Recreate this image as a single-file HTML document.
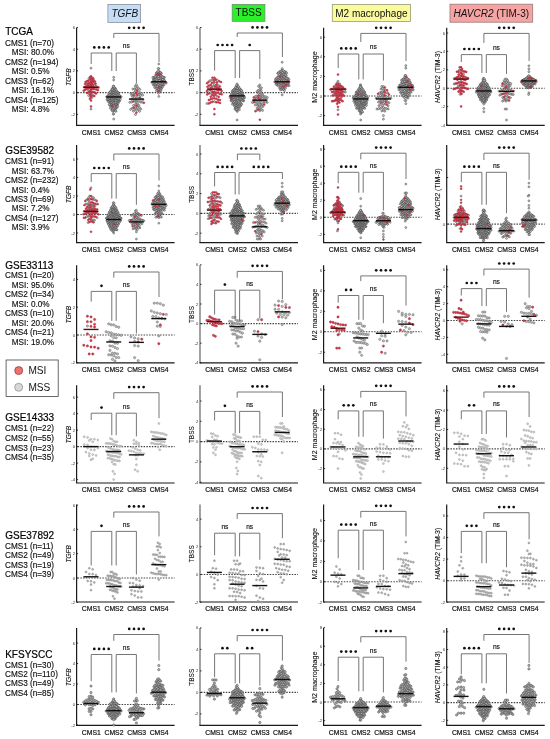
<!DOCTYPE html>
<html><head><meta charset="utf-8"><title>CMS figure</title><style>
html,body{margin:0;padding:0;background:#fff;}
svg{display:block;font-family:"Liberation Sans",Arial,sans-serif;}
.tk{font-size:4.2px;fill:#333;text-anchor:end;}
.g circle{fill:#cdcdcd;stroke:#2e2e2e;stroke-width:0.45;}
.g3 circle{fill:#bdbdbd;stroke:#666;stroke-width:0.5;}
.g4 circle{fill:#cfcfcf;stroke:#9a9a9a;stroke-width:0.45;}
.g5 circle{fill:#b2b2b2;stroke:#888;stroke-width:0.45;}
.g6 circle{fill:#b0b0b0;stroke:#4a4a4a;stroke-width:0.5;}
.rd circle{fill:#da3c4c;stroke:#961a2a;stroke-width:0.4;}
.br{fill:none;stroke:#666;stroke-width:0.9;}
.st{fill:#111;}
.ns{font-size:6.6px;fill:#111;stroke:#111;stroke-width:0.15px;text-anchor:middle;}
.xl{font-size:6.8px;fill:#111;stroke:#111;stroke-width:0.2px;text-anchor:middle;}
.yl{font-size:7px;fill:#111;stroke:#111;stroke-width:0.1px;text-anchor:middle;}
.ds{font-size:10px;fill:#000;stroke:#000;stroke-width:0.2px;}
.lt{font-size:8.2px;fill:#111;stroke:#111;stroke-width:0.15px;}
.tt{font-size:10px;fill:#111;text-anchor:middle;}
.lg{font-size:10.1px;fill:#111;}
</style></head>
<body><svg width="550" height="739" viewBox="0 0 550 739">
<rect width="550" height="739" fill="#fff"/>

<rect x="107.9" y="4.4" width="32.7" height="18" fill="#c6ddf6" stroke="#8a8f99" stroke-width="0.8"/>
<text x="124.8" y="16.6" class="tt" font-style="italic">TGFB</text>
<rect x="232.2" y="4.4" width="32.7" height="16.9" fill="#2af02a" stroke="#6a8f6a" stroke-width="0.8"/>
<text x="248.6" y="16.4" class="tt">TBSS</text>
<rect x="332.3" y="4.5" width="78.2" height="17" fill="#fafa9e" stroke="#9a9a70" stroke-width="0.8"/>
<text x="371.4" y="16.6" class="tt">M2 macrophage</text>
<rect x="450" y="4.2" width="82.7" height="18" fill="#f6a3a3" stroke="#9a7777" stroke-width="0.8"/>
<text x="491.3" y="16.8" class="tt"><tspan font-style="italic">HAVCR2</tspan> (TIM-3)</text>

<text x="5.2" y="34.6" class="ds">TCGA</text>
<text x="5.0" y="45.7" class="lt">CMS1 (n=70)</text>
<text x="11.8" y="55.17" class="lt">MSI: 80.0%</text>
<text x="5.0" y="64.64" class="lt">CMS2 (n=194)</text>
<text x="11.8" y="74.11" class="lt">MSI: 0.5%</text>
<text x="5.0" y="83.58" class="lt">CMS3 (n=62)</text>
<text x="11.8" y="93.05" class="lt">MSI: 16.1%</text>
<text x="5.0" y="102.52" class="lt">CMS4 (n=125)</text>
<text x="11.8" y="111.99" class="lt">MSI: 4.8%</text>
<text x="5.2" y="153.5" class="ds">GSE39582</text>
<text x="5.0" y="164.1" class="lt">CMS1 (n=91)</text>
<text x="11.8" y="173.57" class="lt">MSI: 63.7%</text>
<text x="5.0" y="183.04" class="lt">CMS2 (n=232)</text>
<text x="11.8" y="192.51" class="lt">MSI: 0.4%</text>
<text x="5.0" y="201.98" class="lt">CMS3 (n=69)</text>
<text x="11.8" y="211.45" class="lt">MSI: 7.2%</text>
<text x="5.0" y="220.92" class="lt">CMS4 (n=127)</text>
<text x="11.8" y="230.39" class="lt">MSI: 3.9%</text>
<text x="5.2" y="269.2" class="ds">GSE33113</text>
<text x="5.0" y="278" class="lt">CMS1 (n=20)</text>
<text x="11.8" y="287.55" class="lt">MSI: 95.0%</text>
<text x="5.0" y="297.1" class="lt">CMS2 (n=34)</text>
<text x="11.8" y="306.65" class="lt">MSI: 0.0%</text>
<text x="5.0" y="316.2" class="lt">CMS3 (n=10)</text>
<text x="11.8" y="325.75" class="lt">MSI: 20.0%</text>
<text x="5.0" y="335.3" class="lt">CMS4 (n=21)</text>
<text x="11.8" y="344.85" class="lt">MSI: 19.0%</text>
<text x="5.2" y="421.3" class="ds">GSE14333</text>
<text x="5.0" y="431.4" class="lt">CMS1 (n=22)</text>
<text x="5.0" y="441.07" class="lt">CMS2 (n=55)</text>
<text x="5.0" y="450.74" class="lt">CMS3 (n=23)</text>
<text x="5.0" y="460.41" class="lt">CMS4 (n=35)</text>
<text x="5.2" y="538.6" class="ds">GSE37892</text>
<text x="5.0" y="548.5" class="lt">CMS1 (n=11)</text>
<text x="5.0" y="558.1" class="lt">CMS2 (n=49)</text>
<text x="5.0" y="567.7" class="lt">CMS3 (n=19)</text>
<text x="5.0" y="577.3" class="lt">CMS4 (n=39)</text>
<text x="5.2" y="658" class="ds">KFSYSCC</text>
<text x="5.0" y="667.7" class="lt">CMS1 (n=30)</text>
<text x="5.0" y="677" class="lt">CMS2 (n=110)</text>
<text x="5.0" y="686.3" class="lt">CMS3 (n=49)</text>
<text x="5.0" y="695.6" class="lt">CMS4 (n=85)</text>

<rect x="6.1" y="360" width="52.1" height="36.4" fill="#fff" stroke="#444" stroke-width="0.8"/>
<circle cx="18.7" cy="370.6" r="4" fill="#f07070" stroke="#8a3030" stroke-width="0.7"/>
<circle cx="18.7" cy="387.3" r="4" fill="#d8d8d8" stroke="#888" stroke-width="0.7"/>
<text x="28.4" y="374.3" class="lg">MSI</text>
<text x="28.4" y="391.0" class="lg">MSS</text>

<line x1="77.6" y1="92.6" x2="174.6" y2="92.6" stroke="#444" stroke-width="1.1" stroke-dasharray="1.5 1.25"/>
<path d="M76.6 27.8V125.3H174.6" fill="none" stroke="#1a1a1a" stroke-width="1.2"/>
<line x1="76.6" y1="27.5" x2="78.1" y2="27.5" stroke="#222" stroke-width="0.9"/>
<text x="75" y="29" class="tk">6</text>
<line x1="76.6" y1="49.2" x2="78.1" y2="49.2" stroke="#222" stroke-width="0.9"/>
<text x="75" y="50.7" class="tk">4</text>
<line x1="76.6" y1="70.9" x2="78.1" y2="70.9" stroke="#222" stroke-width="0.9"/>
<text x="75" y="72.4" class="tk">2</text>
<line x1="76.6" y1="92.6" x2="78.1" y2="92.6" stroke="#222" stroke-width="0.9"/>
<text x="75" y="94.1" class="tk">0</text>
<line x1="76.6" y1="114.3" x2="78.1" y2="114.3" stroke="#222" stroke-width="0.9"/>
<text x="75" y="115.8" class="tk">-2</text>
<g class="g"><circle cx="91.93" cy="97.65" r="1.0"/><circle cx="93" cy="95.51" r="1.0"/><circle cx="88.59" cy="95.55" r="1.0"/><circle cx="88.47" cy="90.07" r="1.0"/><circle cx="89.8" cy="89.54" r="1.0"/><circle cx="95.25" cy="89.02" r="1.0"/><circle cx="95.86" cy="86.33" r="1.0"/><circle cx="97.17" cy="86.97" r="1.0"/><circle cx="94.61" cy="85.39" r="1.0"/><circle cx="93.78" cy="83.64" r="1.0"/><circle cx="89.84" cy="80.31" r="1.0"/><circle cx="88.79" cy="78.79" r="1.0"/><circle cx="91" cy="68.19" r="1.0"/><circle cx="91" cy="109.09" r="1.0"/><circle cx="113.7" cy="114.08" r="1.0"/><circle cx="113.19" cy="114.08" r="1.0"/><circle cx="111.9" cy="110.25" r="1.0"/><circle cx="113.25" cy="111.46" r="1.0"/><circle cx="115.96" cy="111.23" r="1.0"/><circle cx="113.7" cy="110.42" r="1.0"/><circle cx="112.61" cy="110.71" r="1.0"/><circle cx="115.01" cy="109.94" r="1.0"/><circle cx="114.5" cy="109.68" r="1.0"/><circle cx="112.99" cy="109.27" r="1.0"/><circle cx="115.44" cy="111.12" r="1.0"/><circle cx="114.05" cy="108.64" r="1.0"/><circle cx="112.31" cy="108.91" r="1.0"/><circle cx="113.47" cy="108.43" r="1.0"/><circle cx="110.48" cy="108.31" r="1.0"/><circle cx="116.11" cy="108.21" r="1.0"/><circle cx="111.84" cy="107.46" r="1.0"/><circle cx="115.57" cy="108.12" r="1.0"/><circle cx="116.92" cy="107.51" r="1.0"/><circle cx="114.92" cy="107.69" r="1.0"/><circle cx="112.68" cy="107.38" r="1.0"/><circle cx="115.9" cy="106.2" r="1.0"/><circle cx="111.39" cy="106.29" r="1.0"/><circle cx="113.79" cy="106.73" r="1.0"/><circle cx="116.49" cy="106.32" r="1.0"/><circle cx="113.16" cy="106.61" r="1.0"/><circle cx="110.92" cy="107.15" r="1.0"/><circle cx="115.33" cy="106.16" r="1.0"/><circle cx="117.73" cy="106.36" r="1.0"/><circle cx="114.47" cy="106.64" r="1.0"/><circle cx="112.69" cy="105.08" r="1.0"/><circle cx="114.87" cy="105.25" r="1.0"/><circle cx="117.3" cy="105.12" r="1.0"/><circle cx="109.96" cy="105.43" r="1.0"/><circle cx="114.12" cy="105.02" r="1.0"/><circle cx="111.02" cy="104.42" r="1.0"/><circle cx="113.49" cy="104.94" r="1.0"/><circle cx="116.81" cy="104.53" r="1.0"/><circle cx="110.46" cy="104.81" r="1.0"/><circle cx="116.3" cy="104.28" r="1.0"/><circle cx="109.28" cy="104.57" r="1.0"/><circle cx="111.58" cy="104.25" r="1.0"/><circle cx="115.77" cy="104.07" r="1.0"/><circle cx="114.54" cy="103.56" r="1.0"/><circle cx="112.07" cy="103.59" r="1.0"/><circle cx="115.26" cy="103.78" r="1.0"/><circle cx="113.05" cy="103.51" r="1.0"/><circle cx="117.62" cy="103.36" r="1.0"/><circle cx="113.82" cy="103.24" r="1.0"/><circle cx="118.13" cy="103.37" r="1.0"/><circle cx="110.1" cy="102.76" r="1.0"/><circle cx="109.58" cy="102.81" r="1.0"/><circle cx="110.61" cy="102.71" r="1.0"/><circle cx="114.97" cy="101.96" r="1.0"/><circle cx="112.54" cy="102.67" r="1.0"/><circle cx="116.11" cy="102.24" r="1.0"/><circle cx="117.13" cy="102.74" r="1.0"/><circle cx="114.27" cy="101.69" r="1.0"/><circle cx="116.62" cy="102.34" r="1.0"/><circle cx="111.11" cy="102.26" r="1.0"/><circle cx="113.41" cy="101.93" r="1.0"/><circle cx="111.63" cy="102.03" r="1.0"/><circle cx="115.6" cy="101.99" r="1.0"/><circle cx="119.35" cy="101.36" r="1.0"/><circle cx="112.11" cy="101.28" r="1.0"/><circle cx="108.06" cy="101.35" r="1.0"/><circle cx="118.83" cy="101.34" r="1.0"/><circle cx="109.08" cy="100.98" r="1.0"/><circle cx="108.57" cy="101.2" r="1.0"/><circle cx="118.32" cy="101.13" r="1.0"/><circle cx="113.82" cy="100.62" r="1.0"/><circle cx="117.81" cy="100.97" r="1.0"/><circle cx="112.83" cy="100.86" r="1.0"/><circle cx="110.73" cy="100.42" r="1.0"/><circle cx="117.31" cy="100.53" r="1.0"/><circle cx="109.59" cy="100.6" r="1.0"/><circle cx="110.1" cy="100.3" r="1.0"/><circle cx="114.66" cy="100.23" r="1.0"/><circle cx="116.46" cy="100.24" r="1.0"/><circle cx="115.96" cy="99.91" r="1.0"/><circle cx="113.27" cy="99.72" r="1.0"/><circle cx="107.53" cy="99.55" r="1.0"/><circle cx="111.24" cy="99.99" r="1.0"/><circle cx="107.02" cy="99.58" r="1.0"/><circle cx="119.75" cy="99.49" r="1.0"/><circle cx="115.44" cy="99.9" r="1.0"/><circle cx="111.74" cy="99.53" r="1.0"/><circle cx="112.29" cy="99.23" r="1.0"/><circle cx="120.27" cy="99.55" r="1.0"/><circle cx="118.2" cy="98.98" r="1.0"/><circle cx="109.22" cy="98.69" r="1.0"/><circle cx="114.21" cy="99.17" r="1.0"/><circle cx="113.7" cy="98.48" r="1.0"/><circle cx="108.48" cy="97.95" r="1.0"/><circle cx="117.02" cy="98.68" r="1.0"/><circle cx="110.43" cy="98.6" r="1.0"/><circle cx="115.04" cy="98.55" r="1.0"/><circle cx="108.03" cy="99" r="1.0"/><circle cx="112.78" cy="98.54" r="1.0"/><circle cx="116.54" cy="98.01" r="1.0"/><circle cx="119.34" cy="98.17" r="1.0"/><circle cx="117.75" cy="97.89" r="1.0"/><circle cx="110.92" cy="97.95" r="1.0"/><circle cx="109.7" cy="97.87" r="1.0"/><circle cx="115.51" cy="97.67" r="1.0"/><circle cx="118.83" cy="97.92" r="1.0"/><circle cx="111.96" cy="97.53" r="1.0"/><circle cx="114.59" cy="97.47" r="1.0"/><circle cx="111.44" cy="97.7" r="1.0"/><circle cx="116.02" cy="97.7" r="1.0"/><circle cx="113.22" cy="97.39" r="1.0"/><circle cx="120.17" cy="96.67" r="1.0"/><circle cx="112.44" cy="96.82" r="1.0"/><circle cx="107.2" cy="96.82" r="1.0"/><circle cx="114.08" cy="97.04" r="1.0"/><circle cx="120.69" cy="96.84" r="1.0"/><circle cx="106.68" cy="96.85" r="1.0"/><circle cx="107.71" cy="96.51" r="1.0"/><circle cx="108.88" cy="96.55" r="1.0"/><circle cx="121.2" cy="96.95" r="1.0"/><circle cx="117.39" cy="96.32" r="1.0"/><circle cx="116.88" cy="96.22" r="1.0"/><circle cx="118.45" cy="96.44" r="1.0"/><circle cx="110.08" cy="96.4" r="1.0"/><circle cx="113.63" cy="96.04" r="1.0"/><circle cx="110.59" cy="96.2" r="1.0"/><circle cx="116.37" cy="95.93" r="1.0"/><circle cx="111.1" cy="95.89" r="1.0"/><circle cx="108.2" cy="95.93" r="1.0"/><circle cx="119.69" cy="95.98" r="1.0"/><circle cx="111.59" cy="95.14" r="1.0"/><circle cx="115.27" cy="95.72" r="1.0"/><circle cx="112.84" cy="95.41" r="1.0"/><circle cx="109.32" cy="95.41" r="1.0"/><circle cx="114.76" cy="95.28" r="1.0"/><circle cx="119.18" cy="95.54" r="1.0"/><circle cx="115.88" cy="95.3" r="1.0"/><circle cx="118.01" cy="95.31" r="1.0"/><circle cx="108.62" cy="94.63" r="1.0"/><circle cx="112.1" cy="95.01" r="1.0"/><circle cx="114.26" cy="94.93" r="1.0"/><circle cx="110.29" cy="94.4" r="1.0"/><circle cx="109.78" cy="94.44" r="1.0"/><circle cx="117.05" cy="94.1" r="1.0"/><circle cx="118.78" cy="94.18" r="1.0"/><circle cx="117.57" cy="94.22" r="1.0"/><circle cx="113.29" cy="94.35" r="1.0"/><circle cx="112.5" cy="93.61" r="1.0"/><circle cx="113.8" cy="93.96" r="1.0"/><circle cx="110.8" cy="94.04" r="1.0"/><circle cx="115.51" cy="93.76" r="1.0"/><circle cx="116.55" cy="93.65" r="1.0"/><circle cx="111.26" cy="93.07" r="1.0"/><circle cx="114.52" cy="92.67" r="1.0"/><circle cx="109.03" cy="93.33" r="1.0"/><circle cx="111.77" cy="92.87" r="1.0"/><circle cx="115.01" cy="93.26" r="1.0"/><circle cx="116.06" cy="92.99" r="1.0"/><circle cx="118.34" cy="93.01" r="1.0"/><circle cx="112.96" cy="92.65" r="1.0"/><circle cx="110.01" cy="92.37" r="1.0"/><circle cx="117.85" cy="92.37" r="1.0"/><circle cx="109.5" cy="92.42" r="1.0"/><circle cx="117.34" cy="92.19" r="1.0"/><circle cx="113.46" cy="92.28" r="1.0"/><circle cx="116.84" cy="91.74" r="1.0"/><circle cx="114.03" cy="91.91" r="1.0"/><circle cx="112.19" cy="91.55" r="1.0"/><circle cx="111" cy="91.14" r="1.0"/><circle cx="115.67" cy="91.57" r="1.0"/><circle cx="111.5" cy="90.61" r="1.0"/><circle cx="110.51" cy="91.88" r="1.0"/><circle cx="115.16" cy="91.13" r="1.0"/><circle cx="113.17" cy="90.33" r="1.0"/><circle cx="116.38" cy="90.7" r="1.0"/><circle cx="112.67" cy="90.81" r="1.0"/><circle cx="114.67" cy="90.44" r="1.0"/><circle cx="111.9" cy="89.25" r="1.0"/><circle cx="115.45" cy="88.88" r="1.0"/><circle cx="113.69" cy="90.3" r="1.0"/><circle cx="114.18" cy="89.78" r="1.0"/><circle cx="115.94" cy="89.59" r="1.0"/><circle cx="112.88" cy="88.02" r="1.0"/><circle cx="112.41" cy="88.88" r="1.0"/><circle cx="113.44" cy="88.19" r="1.0"/><circle cx="114.98" cy="88.05" r="1.0"/><circle cx="114.47" cy="87.86" r="1.0"/><circle cx="113.95" cy="87.82" r="1.0"/><circle cx="113.7" cy="85.9" r="1.0"/><circle cx="113.19" cy="86.27" r="1.0"/><circle cx="113.7" cy="77.3" r="1.0"/><circle cx="113.7" cy="80.01" r="1.0"/><circle cx="113.7" cy="119.07" r="1.0"/><circle cx="135.5" cy="114.43" r="1.0"/><circle cx="133.39" cy="111.1" r="1.0"/><circle cx="136.51" cy="109.2" r="1.0"/><circle cx="134.86" cy="109.91" r="1.0"/><circle cx="138.1" cy="110.12" r="1.0"/><circle cx="132.16" cy="108.3" r="1.0"/><circle cx="140.74" cy="109.04" r="1.0"/><circle cx="139.55" cy="111.34" r="1.0"/><circle cx="130.65" cy="109.38" r="1.0"/><circle cx="139.46" cy="107.54" r="1.0"/><circle cx="138.88" cy="105.4" r="1.0"/><circle cx="137.72" cy="107.48" r="1.0"/><circle cx="135.57" cy="107.35" r="1.0"/><circle cx="133.49" cy="105.55" r="1.0"/><circle cx="135.12" cy="104.78" r="1.0"/><circle cx="136.07" cy="102.94" r="1.0"/><circle cx="131.48" cy="102.16" r="1.0"/><circle cx="137.68" cy="103.81" r="1.0"/><circle cx="129.74" cy="102.34" r="1.0"/><circle cx="140.47" cy="102.02" r="1.0"/><circle cx="142.2" cy="102.33" r="1.0"/><circle cx="134.86" cy="101.17" r="1.0"/><circle cx="135.98" cy="99.49" r="1.0"/><circle cx="137.11" cy="101.17" r="1.0"/><circle cx="138.85" cy="101.21" r="1.0"/><circle cx="142.97" cy="99.55" r="1.0"/><circle cx="131.4" cy="99.17" r="1.0"/><circle cx="141.25" cy="99.16" r="1.0"/><circle cx="133.03" cy="98.39" r="1.0"/><circle cx="136.4" cy="97.35" r="1.0"/><circle cx="134.67" cy="97.67" r="1.0"/><circle cx="138.11" cy="97.79" r="1.0"/><circle cx="131.88" cy="95.79" r="1.0"/><circle cx="135.17" cy="94.5" r="1.0"/><circle cx="140.33" cy="95.69" r="1.0"/><circle cx="138.89" cy="94.45" r="1.0"/><circle cx="139.86" cy="92.61" r="1.0"/><circle cx="131.06" cy="93.74" r="1.0"/><circle cx="141.42" cy="93.6" r="1.0"/><circle cx="142.66" cy="95.15" r="1.0"/><circle cx="138.12" cy="92.48" r="1.0"/><circle cx="134.36" cy="92.54" r="1.0"/><circle cx="132.8" cy="93.51" r="1.0"/><circle cx="139.78" cy="89.42" r="1.0"/><circle cx="135.58" cy="90.96" r="1.0"/><circle cx="136.4" cy="88.65" r="1.0"/><circle cx="134.66" cy="88.83" r="1.0"/><circle cx="132.92" cy="89.02" r="1.0"/><circle cx="135.29" cy="86.24" r="1.0"/><circle cx="137.18" cy="86.52" r="1.0"/><circle cx="138.38" cy="88.11" r="1.0"/><circle cx="136.4" cy="84.55" r="1.0"/><circle cx="158.52" cy="93.24" r="1.0"/><circle cx="158.29" cy="90.53" r="1.0"/><circle cx="159.45" cy="89.69" r="1.0"/><circle cx="160.86" cy="90.63" r="1.0"/><circle cx="157.74" cy="89.15" r="1.0"/><circle cx="157.17" cy="90.31" r="1.0"/><circle cx="156.52" cy="90.86" r="1.0"/><circle cx="160.23" cy="89.88" r="1.0"/><circle cx="161.46" cy="88.72" r="1.0"/><circle cx="156.37" cy="88.61" r="1.0"/><circle cx="158.8" cy="89.1" r="1.0"/><circle cx="160.81" cy="88.21" r="1.0"/><circle cx="158.16" cy="87.44" r="1.0"/><circle cx="154.64" cy="87.53" r="1.0"/><circle cx="160.16" cy="87.69" r="1.0"/><circle cx="157.02" cy="88.1" r="1.0"/><circle cx="162.56" cy="87.04" r="1.0"/><circle cx="158.8" cy="86.79" r="1.0"/><circle cx="156.54" cy="85.99" r="1.0"/><circle cx="157.47" cy="86.46" r="1.0"/><circle cx="155.2" cy="86.34" r="1.0"/><circle cx="155.87" cy="86.17" r="1.0"/><circle cx="161.94" cy="86.18" r="1.0"/><circle cx="158.01" cy="85.19" r="1.0"/><circle cx="161.27" cy="86" r="1.0"/><circle cx="160.6" cy="85.86" r="1.0"/><circle cx="159.29" cy="85.03" r="1.0"/><circle cx="163.48" cy="84.73" r="1.0"/><circle cx="159.94" cy="85.61" r="1.0"/><circle cx="164.15" cy="84.82" r="1.0"/><circle cx="153.91" cy="84.75" r="1.0"/><circle cx="153.24" cy="84.89" r="1.0"/><circle cx="158.64" cy="84.47" r="1.0"/><circle cx="157.07" cy="84.63" r="1.0"/><circle cx="162.84" cy="84.05" r="1.0"/><circle cx="154.55" cy="84.11" r="1.0"/><circle cx="155.88" cy="83.89" r="1.0"/><circle cx="155.21" cy="83.89" r="1.0"/><circle cx="160.81" cy="83.72" r="1.0"/><circle cx="157.57" cy="83.2" r="1.0"/><circle cx="161.48" cy="83.73" r="1.0"/><circle cx="160.14" cy="83.48" r="1.0"/><circle cx="162.25" cy="83.02" r="1.0"/><circle cx="166.3" cy="82.95" r="1.0"/><circle cx="156.51" cy="83.07" r="1.0"/><circle cx="158.85" cy="82.38" r="1.0"/><circle cx="151.84" cy="82.41" r="1.0"/><circle cx="159.51" cy="82.83" r="1.0"/><circle cx="152.5" cy="82.02" r="1.0"/><circle cx="164.03" cy="82.36" r="1.0"/><circle cx="153.17" cy="81.93" r="1.0"/><circle cx="158.18" cy="82.26" r="1.0"/><circle cx="165" cy="81.98" r="1.0"/><circle cx="154.61" cy="81.69" r="1.0"/><circle cx="157.05" cy="81.81" r="1.0"/><circle cx="153.94" cy="81.81" r="1.0"/><circle cx="155.28" cy="81.4" r="1.0"/><circle cx="163.39" cy="81.75" r="1.0"/><circle cx="161.82" cy="81.34" r="1.0"/><circle cx="162.72" cy="81.42" r="1.0"/><circle cx="156.08" cy="81.31" r="1.0"/><circle cx="161.15" cy="81.29" r="1.0"/><circle cx="164.47" cy="80.62" r="1.0"/><circle cx="160.48" cy="81.13" r="1.0"/><circle cx="158.5" cy="80.32" r="1.0"/><circle cx="159.16" cy="80.44" r="1.0"/><circle cx="157.62" cy="80.61" r="1.0"/><circle cx="159.83" cy="80.54" r="1.0"/><circle cx="153.36" cy="79.83" r="1.0"/><circle cx="163.86" cy="79.75" r="1.0"/><circle cx="154.02" cy="79.49" r="1.0"/><circle cx="156.63" cy="80.07" r="1.0"/><circle cx="154.69" cy="79.36" r="1.0"/><circle cx="155.36" cy="79.21" r="1.0"/><circle cx="161.86" cy="79.02" r="1.0"/><circle cx="163.19" cy="79.48" r="1.0"/><circle cx="161.19" cy="78.83" r="1.0"/><circle cx="162.52" cy="79.32" r="1.0"/><circle cx="157.93" cy="78.67" r="1.0"/><circle cx="160.52" cy="78.83" r="1.0"/><circle cx="156.02" cy="78.88" r="1.0"/><circle cx="159.51" cy="78.53" r="1.0"/><circle cx="157.07" cy="78.42" r="1.0"/><circle cx="158.8" cy="78.36" r="1.0"/><circle cx="164.45" cy="77.45" r="1.0"/><circle cx="153.47" cy="77.4" r="1.0"/><circle cx="152.8" cy="77.57" r="1.0"/><circle cx="163.11" cy="77.16" r="1.0"/><circle cx="163.78" cy="77.37" r="1.0"/><circle cx="160.06" cy="77.24" r="1.0"/><circle cx="154.14" cy="77.17" r="1.0"/><circle cx="154.81" cy="77.12" r="1.0"/><circle cx="156.28" cy="76.84" r="1.0"/><circle cx="161.81" cy="76.21" r="1.0"/><circle cx="162.45" cy="76.94" r="1.0"/><circle cx="159.45" cy="76.34" r="1.0"/><circle cx="157.51" cy="76.76" r="1.0"/><circle cx="161.16" cy="75.82" r="1.0"/><circle cx="158.8" cy="75.77" r="1.0"/><circle cx="155.47" cy="76.86" r="1.0"/><circle cx="158.18" cy="76.63" r="1.0"/><circle cx="160.49" cy="75.55" r="1.0"/><circle cx="155.75" cy="74.85" r="1.0"/><circle cx="156.62" cy="74.96" r="1.0"/><circle cx="157.95" cy="74.36" r="1.0"/><circle cx="161.41" cy="73.36" r="1.0"/><circle cx="156.2" cy="73.23" r="1.0"/><circle cx="158.58" cy="73.6" r="1.0"/><circle cx="156.86" cy="72.77" r="1.0"/><circle cx="159.47" cy="71.73" r="1.0"/><circle cx="160.75" cy="73.01" r="1.0"/><circle cx="158.8" cy="71.52" r="1.0"/><circle cx="157.46" cy="71.84" r="1.0"/><circle cx="160.12" cy="72.24" r="1.0"/><circle cx="158.8" cy="68.55" r="1.0"/><circle cx="158.13" cy="68.55" r="1.0"/><circle cx="158.13" cy="71.61" r="1.0"/><circle cx="158.8" cy="63.96" r="1.0"/><circle cx="158.8" cy="96.4" r="1.0"/></g>
<g class="rd"><circle cx="90.62" cy="96.96" r="1.0"/><circle cx="91" cy="100.52" r="1.0"/><circle cx="89.9" cy="98.84" r="1.0"/><circle cx="94.34" cy="95.99" r="1.0"/><circle cx="89.86" cy="94.73" r="1.0"/><circle cx="91.62" cy="95.45" r="1.0"/><circle cx="91" cy="93.49" r="1.0"/><circle cx="94.83" cy="92.44" r="1.0"/><circle cx="96.03" cy="93.53" r="1.0"/><circle cx="86.92" cy="92.89" r="1.0"/><circle cx="90.85" cy="91.04" r="1.0"/><circle cx="88.27" cy="92.4" r="1.0"/><circle cx="89.62" cy="92.05" r="1.0"/><circle cx="85.02" cy="89.75" r="1.0"/><circle cx="93.46" cy="92.22" r="1.0"/><circle cx="97.88" cy="90.26" r="1.0"/><circle cx="92.1" cy="91.96" r="1.0"/><circle cx="83.77" cy="90.66" r="1.0"/><circle cx="86.33" cy="89.08" r="1.0"/><circle cx="93.87" cy="89.01" r="1.0"/><circle cx="92.49" cy="88.98" r="1.0"/><circle cx="96.58" cy="89.54" r="1.0"/><circle cx="87.61" cy="88.26" r="1.0"/><circle cx="84.13" cy="87.17" r="1.0"/><circle cx="91.12" cy="88.88" r="1.0"/><circle cx="88.91" cy="87.55" r="1.0"/><circle cx="98.5" cy="87.55" r="1.0"/><circle cx="90.26" cy="87.16" r="1.0"/><circle cx="85.49" cy="86.9" r="1.0"/><circle cx="91.62" cy="86.76" r="1.0"/><circle cx="86.7" cy="85.84" r="1.0"/><circle cx="93.47" cy="86.72" r="1.0"/><circle cx="92.55" cy="85.08" r="1.0"/><circle cx="88.06" cy="85.54" r="1.0"/><circle cx="90.79" cy="85" r="1.0"/><circle cx="89.43" cy="85.38" r="1.0"/><circle cx="91.7" cy="83.35" r="1.0"/><circle cx="85.06" cy="84" r="1.0"/><circle cx="88.66" cy="83.2" r="1.0"/><circle cx="91.02" cy="81.44" r="1.0"/><circle cx="90.02" cy="82.94" r="1.0"/><circle cx="87.31" cy="83.65" r="1.0"/><circle cx="85.63" cy="81.99" r="1.0"/><circle cx="92.9" cy="81.94" r="1.0"/><circle cx="95.63" cy="83.72" r="1.0"/><circle cx="95.05" cy="81.72" r="1.0"/><circle cx="92.17" cy="80.08" r="1.0"/><circle cx="88.28" cy="80.83" r="1.0"/><circle cx="86.93" cy="81.28" r="1.0"/><circle cx="90.96" cy="79.04" r="1.0"/><circle cx="93.93" cy="80.44" r="1.0"/><circle cx="91" cy="76.19" r="1.0"/><circle cx="93.3" cy="78.49" r="1.0"/><circle cx="92.03" cy="77.65" r="1.0"/><circle cx="89.84" cy="77.37" r="1.0"/><circle cx="91" cy="106.38" r="1.0"/><circle cx="112.22" cy="105.99" r="1.0"/><circle cx="136.4" cy="112.55" r="1.0"/><circle cx="136.71" cy="105.69" r="1.0"/><circle cx="133.87" cy="107.82" r="1.0"/><circle cx="143.9" cy="102.83" r="1.0"/><circle cx="133.13" cy="101.45" r="1.0"/><circle cx="139.85" cy="97.85" r="1.0"/><circle cx="133.6" cy="95.47" r="1.0"/><circle cx="137.16" cy="94.92" r="1.0"/><circle cx="136.4" cy="92.94" r="1.0"/><circle cx="137.29" cy="90.54" r="1.0"/><circle cx="158.9" cy="91.44" r="1.0"/><circle cx="159.45" cy="87.32" r="1.0"/><circle cx="165.66" cy="82.28" r="1.0"/><circle cx="157.29" cy="74.65" r="1.0"/><circle cx="159.89" cy="74.6" r="1.0"/><circle cx="159.24" cy="74.07" r="1.0"/></g>
<line x1="83.5" y1="87.28" x2="98.5" y2="87.28" stroke="#5a0c0c" stroke-width="1.4"/>
<line x1="106.2" y1="96.94" x2="121.2" y2="96.94" stroke="#111" stroke-width="1.4"/>
<line x1="128.9" y1="99.11" x2="143.9" y2="99.11" stroke="#111" stroke-width="1.4"/>
<line x1="151.3" y1="81.75" x2="166.3" y2="81.75" stroke="#111" stroke-width="1.4"/>
<path d="M91.2 64V53H111.8V71" class="br"/>
<path d="M116.2 71V53H136.4V83" class="br"/>
<path d="M113.8 38V33.4H159V62" class="br"/>
<circle cx="94.3" cy="47.4" r="1.35" class="st"/><circle cx="99.1" cy="47.4" r="1.35" class="st"/><circle cx="103.9" cy="47.4" r="1.35" class="st"/><circle cx="108.7" cy="47.4" r="1.35" class="st"/>
<text x="126.3" y="48.4" class="ns">ns</text>
<circle cx="129.2" cy="27.8" r="1.35" class="st"/><circle cx="134" cy="27.8" r="1.35" class="st"/><circle cx="138.8" cy="27.8" r="1.35" class="st"/><circle cx="143.6" cy="27.8" r="1.35" class="st"/>
<text x="91.3" y="134.8" class="xl">CMS1</text>
<text x="114" y="134.8" class="xl">CMS2</text>
<text x="136.7" y="134.8" class="xl">CMS3</text>
<text x="159.1" y="134.8" class="xl">CMS4</text>
<line x1="201" y1="92.6" x2="298" y2="92.6" stroke="#444" stroke-width="1.1" stroke-dasharray="1.5 1.25"/>
<line x1="200" y1="27.8" x2="200" y2="125.3" stroke="#7a7a7a" stroke-width="1.4"/>
<line x1="199.4" y1="125.3" x2="298" y2="125.3" stroke="#1a1a1a" stroke-width="1.2"/>
<line x1="200" y1="27.5" x2="201.5" y2="27.5" stroke="#222" stroke-width="0.9"/>
<text x="198.4" y="29" class="tk">6</text>
<line x1="200" y1="49.2" x2="201.5" y2="49.2" stroke="#222" stroke-width="0.9"/>
<text x="198.4" y="50.7" class="tk">4</text>
<line x1="200" y1="70.9" x2="201.5" y2="70.9" stroke="#222" stroke-width="0.9"/>
<text x="198.4" y="72.4" class="tk">2</text>
<line x1="200" y1="92.6" x2="201.5" y2="92.6" stroke="#222" stroke-width="0.9"/>
<text x="198.4" y="94.1" class="tk">0</text>
<line x1="200" y1="114.3" x2="201.5" y2="114.3" stroke="#222" stroke-width="0.9"/>
<text x="198.4" y="115.8" class="tk">-2</text>
<g class="g"><circle cx="206.98" cy="103.51" r="1.0"/><circle cx="214.4" cy="101.55" r="1.0"/><circle cx="216.96" cy="96.02" r="1.0"/><circle cx="210.71" cy="92.75" r="1.0"/><circle cx="208.76" cy="90.39" r="1.0"/><circle cx="214.4" cy="89.2" r="1.0"/><circle cx="209.62" cy="88.05" r="1.0"/><circle cx="213.18" cy="86.34" r="1.0"/><circle cx="218.22" cy="85.28" r="1.0"/><circle cx="214.4" cy="84.64" r="1.0"/><circle cx="215.4" cy="81.5" r="1.0"/><circle cx="217.43" cy="80.37" r="1.0"/><circle cx="210.08" cy="80.61" r="1.0"/><circle cx="211.99" cy="80.28" r="1.0"/><circle cx="237.38" cy="111.4" r="1.0"/><circle cx="236.87" cy="110.85" r="1.0"/><circle cx="234.94" cy="108.87" r="1.0"/><circle cx="235.9" cy="109.83" r="1.0"/><circle cx="239.36" cy="109.6" r="1.0"/><circle cx="237.1" cy="108.87" r="1.0"/><circle cx="236.42" cy="109.46" r="1.0"/><circle cx="237.96" cy="109.12" r="1.0"/><circle cx="235.43" cy="108" r="1.0"/><circle cx="238.42" cy="107.93" r="1.0"/><circle cx="238.95" cy="108.22" r="1.0"/><circle cx="237.57" cy="107.66" r="1.0"/><circle cx="235.95" cy="107.5" r="1.0"/><circle cx="239.26" cy="106.35" r="1.0"/><circle cx="236.6" cy="107.39" r="1.0"/><circle cx="237.1" cy="106.6" r="1.0"/><circle cx="239.79" cy="106.63" r="1.0"/><circle cx="238.06" cy="106.31" r="1.0"/><circle cx="234.66" cy="106.52" r="1.0"/><circle cx="236.24" cy="105.65" r="1.0"/><circle cx="240.64" cy="105.7" r="1.0"/><circle cx="237.57" cy="105.41" r="1.0"/><circle cx="238.83" cy="105.03" r="1.0"/><circle cx="235.14" cy="105.56" r="1.0"/><circle cx="236.74" cy="104.96" r="1.0"/><circle cx="233.72" cy="104.43" r="1.0"/><circle cx="240.16" cy="104.75" r="1.0"/><circle cx="235.63" cy="104.7" r="1.0"/><circle cx="241.22" cy="104.26" r="1.0"/><circle cx="241.75" cy="104.3" r="1.0"/><circle cx="239.64" cy="104.21" r="1.0"/><circle cx="234.25" cy="104.24" r="1.0"/><circle cx="237.99" cy="104.04" r="1.0"/><circle cx="232.47" cy="104.26" r="1.0"/><circle cx="237.2" cy="103.84" r="1.0"/><circle cx="236.08" cy="103.53" r="1.0"/><circle cx="236.7" cy="102.75" r="1.0"/><circle cx="239.16" cy="103.29" r="1.0"/><circle cx="234.73" cy="103.3" r="1.0"/><circle cx="232.89" cy="102.96" r="1.0"/><circle cx="238.63" cy="103" r="1.0"/><circle cx="240.79" cy="102.93" r="1.0"/><circle cx="235.25" cy="102.8" r="1.0"/><circle cx="233.42" cy="102.55" r="1.0"/><circle cx="240.28" cy="102.38" r="1.0"/><circle cx="233.94" cy="102.26" r="1.0"/><circle cx="237.67" cy="102.3" r="1.0"/><circle cx="238.96" cy="101.22" r="1.0"/><circle cx="237.16" cy="101.65" r="1.0"/><circle cx="239.66" cy="101.88" r="1.0"/><circle cx="238.25" cy="101.44" r="1.0"/><circle cx="235.7" cy="101.67" r="1.0"/><circle cx="234.95" cy="100.94" r="1.0"/><circle cx="236.23" cy="101.42" r="1.0"/><circle cx="234.43" cy="101.32" r="1.0"/><circle cx="243.68" cy="100.92" r="1.0"/><circle cx="240.06" cy="100.37" r="1.0"/><circle cx="231.02" cy="100.78" r="1.0"/><circle cx="231.54" cy="100.23" r="1.0"/><circle cx="243.16" cy="100.48" r="1.0"/><circle cx="237.82" cy="100.16" r="1.0"/><circle cx="236.71" cy="100.46" r="1.0"/><circle cx="242.1" cy="100.03" r="1.0"/><circle cx="239.55" cy="99.73" r="1.0"/><circle cx="238.58" cy="99.68" r="1.0"/><circle cx="232.07" cy="100.04" r="1.0"/><circle cx="242.63" cy="100.12" r="1.0"/><circle cx="232.6" cy="99.78" r="1.0"/><circle cx="241.57" cy="99.77" r="1.0"/><circle cx="237.18" cy="99.43" r="1.0"/><circle cx="235.9" cy="99.59" r="1.0"/><circle cx="235.37" cy="99.61" r="1.0"/><circle cx="233.11" cy="99.24" r="1.0"/><circle cx="234.18" cy="99.07" r="1.0"/><circle cx="241.06" cy="99.19" r="1.0"/><circle cx="233.64" cy="99.16" r="1.0"/><circle cx="240.51" cy="99.1" r="1.0"/><circle cx="239.07" cy="98.8" r="1.0"/><circle cx="238.15" cy="98.36" r="1.0"/><circle cx="234.71" cy="98.98" r="1.0"/><circle cx="230.73" cy="98.37" r="1.0"/><circle cx="243.76" cy="98.41" r="1.0"/><circle cx="236.39" cy="98.66" r="1.0"/><circle cx="236.86" cy="97.67" r="1.0"/><circle cx="237.63" cy="98.11" r="1.0"/><circle cx="243.24" cy="97.9" r="1.0"/><circle cx="242.11" cy="97.57" r="1.0"/><circle cx="235.64" cy="97.54" r="1.0"/><circle cx="240.03" cy="98.15" r="1.0"/><circle cx="232.3" cy="97.88" r="1.0"/><circle cx="239.55" cy="97.17" r="1.0"/><circle cx="235.11" cy="97.55" r="1.0"/><circle cx="244.6" cy="97.6" r="1.0"/><circle cx="241.58" cy="97.13" r="1.0"/><circle cx="242.74" cy="97.21" r="1.0"/><circle cx="232.8" cy="97.12" r="1.0"/><circle cx="240.88" cy="97.11" r="1.0"/><circle cx="229.99" cy="96.72" r="1.0"/><circle cx="244.14" cy="96.46" r="1.0"/><circle cx="233.86" cy="96.7" r="1.0"/><circle cx="231.53" cy="96.36" r="1.0"/><circle cx="233.33" cy="96.93" r="1.0"/><circle cx="238.87" cy="96.76" r="1.0"/><circle cx="234.39" cy="96.57" r="1.0"/><circle cx="238.35" cy="96.23" r="1.0"/><circle cx="237.29" cy="96.39" r="1.0"/><circle cx="231.01" cy="95.82" r="1.0"/><circle cx="236.12" cy="96.52" r="1.0"/><circle cx="240.38" cy="96.35" r="1.0"/><circle cx="243.63" cy="95.89" r="1.0"/><circle cx="237.82" cy="95.96" r="1.0"/><circle cx="230.48" cy="95.9" r="1.0"/><circle cx="232.04" cy="95.76" r="1.0"/><circle cx="243.1" cy="95.58" r="1.0"/><circle cx="234.86" cy="95.55" r="1.0"/><circle cx="239.29" cy="95.25" r="1.0"/><circle cx="236.61" cy="95.67" r="1.0"/><circle cx="235.39" cy="95.24" r="1.0"/><circle cx="239.9" cy="95.41" r="1.0"/><circle cx="242.42" cy="95.43" r="1.0"/><circle cx="241.89" cy="95.32" r="1.0"/><circle cx="241.33" cy="95.19" r="1.0"/><circle cx="240.81" cy="94.72" r="1.0"/><circle cx="233.07" cy="94.81" r="1.0"/><circle cx="234.13" cy="94.65" r="1.0"/><circle cx="233.6" cy="94.7" r="1.0"/><circle cx="238.14" cy="94.1" r="1.0"/><circle cx="232.53" cy="94.93" r="1.0"/><circle cx="238.78" cy="94.59" r="1.0"/><circle cx="235.89" cy="94.48" r="1.0"/><circle cx="231.36" cy="94.17" r="1.0"/><circle cx="237.57" cy="94.03" r="1.0"/><circle cx="237.05" cy="94.44" r="1.0"/><circle cx="236.37" cy="93.59" r="1.0"/><circle cx="240.33" cy="93.82" r="1.0"/><circle cx="242.84" cy="93.66" r="1.0"/><circle cx="234.6" cy="93.6" r="1.0"/><circle cx="239.63" cy="93.52" r="1.0"/><circle cx="231.87" cy="93.52" r="1.0"/><circle cx="241.66" cy="93.33" r="1.0"/><circle cx="238.6" cy="92.52" r="1.0"/><circle cx="235.12" cy="93.29" r="1.0"/><circle cx="242.33" cy="93.02" r="1.0"/><circle cx="232.74" cy="92.89" r="1.0"/><circle cx="233.27" cy="92.71" r="1.0"/><circle cx="239.13" cy="92.78" r="1.0"/><circle cx="241.15" cy="92.79" r="1.0"/><circle cx="236.81" cy="92.35" r="1.0"/><circle cx="233.8" cy="92.6" r="1.0"/><circle cx="240.14" cy="91.76" r="1.0"/><circle cx="235.61" cy="92.36" r="1.0"/><circle cx="237.87" cy="92.2" r="1.0"/><circle cx="240.67" cy="91.82" r="1.0"/><circle cx="237.34" cy="92.05" r="1.0"/><circle cx="232.2" cy="91.79" r="1.0"/><circle cx="234.29" cy="91.74" r="1.0"/><circle cx="236.11" cy="91.64" r="1.0"/><circle cx="239.12" cy="90.57" r="1.0"/><circle cx="239.62" cy="91.28" r="1.0"/><circle cx="241.99" cy="91.33" r="1.0"/><circle cx="232.66" cy="90.68" r="1.0"/><circle cx="234.81" cy="91.22" r="1.0"/><circle cx="238.28" cy="90.76" r="1.0"/><circle cx="240.98" cy="90.02" r="1.0"/><circle cx="233.18" cy="90.3" r="1.0"/><circle cx="235.79" cy="89.52" r="1.0"/><circle cx="235.31" cy="90.48" r="1.0"/><circle cx="233.71" cy="89.99" r="1.0"/><circle cx="237.65" cy="89.87" r="1.0"/><circle cx="241.49" cy="90.6" r="1.0"/><circle cx="236.55" cy="90.41" r="1.0"/><circle cx="237.08" cy="90.13" r="1.0"/><circle cx="240.46" cy="89.59" r="1.0"/><circle cx="234.22" cy="89.44" r="1.0"/><circle cx="239.93" cy="89.38" r="1.0"/><circle cx="238.68" cy="89.29" r="1.0"/><circle cx="234.74" cy="88.88" r="1.0"/><circle cx="238.18" cy="88.6" r="1.0"/><circle cx="235.25" cy="88.23" r="1.0"/><circle cx="239.44" cy="88.49" r="1.0"/><circle cx="236.2" cy="86.31" r="1.0"/><circle cx="236.26" cy="88.5" r="1.0"/><circle cx="238.98" cy="87.35" r="1.0"/><circle cx="236.78" cy="88.17" r="1.0"/><circle cx="237.32" cy="88.17" r="1.0"/><circle cx="235.73" cy="87.31" r="1.0"/><circle cx="237.08" cy="86.21" r="1.0"/><circle cx="237.94" cy="86.63" r="1.0"/><circle cx="237.54" cy="85.17" r="1.0"/><circle cx="237.1" cy="83.96" r="1.0"/><circle cx="238.48" cy="86.72" r="1.0"/><circle cx="236.63" cy="84.99" r="1.0"/><circle cx="237.1" cy="119.94" r="1.0"/><circle cx="262.62" cy="110.41" r="1.0"/><circle cx="259.8" cy="110.81" r="1.0"/><circle cx="261.24" cy="109.3" r="1.0"/><circle cx="257.18" cy="107.92" r="1.0"/><circle cx="259.8" cy="108.37" r="1.0"/><circle cx="256.95" cy="110.27" r="1.0"/><circle cx="258.21" cy="106.23" r="1.0"/><circle cx="259.8" cy="106.11" r="1.0"/><circle cx="262.97" cy="106.6" r="1.0"/><circle cx="261.39" cy="106.35" r="1.0"/><circle cx="256.83" cy="104.46" r="1.0"/><circle cx="261.11" cy="104.13" r="1.0"/><circle cx="258.34" cy="103.77" r="1.0"/><circle cx="262.71" cy="104.25" r="1.0"/><circle cx="259.8" cy="102.88" r="1.0"/><circle cx="255.26" cy="104.91" r="1.0"/><circle cx="255.55" cy="101.92" r="1.0"/><circle cx="267.16" cy="102.43" r="1.0"/><circle cx="264.02" cy="101.67" r="1.0"/><circle cx="265.61" cy="101.93" r="1.0"/><circle cx="252.38" cy="102.44" r="1.0"/><circle cx="262.45" cy="101.3" r="1.0"/><circle cx="260.86" cy="101.08" r="1.0"/><circle cx="257.11" cy="101.46" r="1.0"/><circle cx="258.67" cy="100.99" r="1.0"/><circle cx="265.82" cy="99.53" r="1.0"/><circle cx="253.77" cy="99.88" r="1.0"/><circle cx="261.14" cy="98.22" r="1.0"/><circle cx="264.28" cy="98.97" r="1.0"/><circle cx="262.72" cy="98.5" r="1.0"/><circle cx="264.26" cy="96.5" r="1.0"/><circle cx="267.3" cy="97.61" r="1.0"/><circle cx="259.75" cy="97.12" r="1.0"/><circle cx="261.09" cy="95.92" r="1.0"/><circle cx="265.84" cy="96.7" r="1.0"/><circle cx="256.7" cy="98.34" r="1.0"/><circle cx="255.27" cy="96.58" r="1.0"/><circle cx="262.68" cy="96.19" r="1.0"/><circle cx="256.8" cy="95.97" r="1.0"/><circle cx="259.8" cy="94.63" r="1.0"/><circle cx="258.32" cy="92.93" r="1.0"/><circle cx="261.28" cy="90.54" r="1.0"/><circle cx="262.71" cy="93.89" r="1.0"/><circle cx="261.2" cy="93.19" r="1.0"/><circle cx="259.8" cy="89.7" r="1.0"/><circle cx="259.8" cy="92.13" r="1.0"/><circle cx="261.49" cy="87.8" r="1.0"/><circle cx="258.27" cy="90.34" r="1.0"/><circle cx="256.98" cy="91.62" r="1.0"/><circle cx="259.91" cy="87.48" r="1.0"/><circle cx="258.57" cy="86.29" r="1.0"/><circle cx="259.8" cy="84.89" r="1.0"/><circle cx="284.51" cy="90.55" r="1.0"/><circle cx="282.2" cy="89.42" r="1.0"/><circle cx="283.97" cy="89.1" r="1.0"/><circle cx="280.48" cy="89.83" r="1.0"/><circle cx="284.75" cy="87.73" r="1.0"/><circle cx="279.52" cy="88" r="1.0"/><circle cx="283.26" cy="89.05" r="1.0"/><circle cx="285.46" cy="88.13" r="1.0"/><circle cx="281.14" cy="88.95" r="1.0"/><circle cx="281.71" cy="87.61" r="1.0"/><circle cx="284.08" cy="86.92" r="1.0"/><circle cx="281.07" cy="86.44" r="1.0"/><circle cx="280.17" cy="87.1" r="1.0"/><circle cx="282.7" cy="87.65" r="1.0"/><circle cx="288.91" cy="85.68" r="1.0"/><circle cx="282.21" cy="86.04" r="1.0"/><circle cx="277.47" cy="85.41" r="1.0"/><circle cx="280.34" cy="84.96" r="1.0"/><circle cx="285.57" cy="85.18" r="1.0"/><circle cx="287.33" cy="85.53" r="1.0"/><circle cx="281.59" cy="84.93" r="1.0"/><circle cx="288.43" cy="84.03" r="1.0"/><circle cx="284.86" cy="84.99" r="1.0"/><circle cx="278.19" cy="85.36" r="1.0"/><circle cx="279.53" cy="83.78" r="1.0"/><circle cx="275.94" cy="84.22" r="1.0"/><circle cx="278.84" cy="84.44" r="1.0"/><circle cx="284.18" cy="84.29" r="1.0"/><circle cx="283.14" cy="84.48" r="1.0"/><circle cx="287.73" cy="83.58" r="1.0"/><circle cx="276.63" cy="83.63" r="1.0"/><circle cx="282.2" cy="83.76" r="1.0"/><circle cx="287.01" cy="83.56" r="1.0"/><circle cx="280.86" cy="83.43" r="1.0"/><circle cx="280.12" cy="82.52" r="1.0"/><circle cx="278.23" cy="83.06" r="1.0"/><circle cx="286.33" cy="82.87" r="1.0"/><circle cx="285.39" cy="82.71" r="1.0"/><circle cx="284.67" cy="82.61" r="1.0"/><circle cx="282.94" cy="82.37" r="1.0"/><circle cx="279.07" cy="81.95" r="1.0"/><circle cx="274.7" cy="81.79" r="1.0"/><circle cx="281.48" cy="82.31" r="1.0"/><circle cx="282.15" cy="81.55" r="1.0"/><circle cx="289.05" cy="81.77" r="1.0"/><circle cx="288.33" cy="81.62" r="1.0"/><circle cx="275.42" cy="81.69" r="1.0"/><circle cx="284.14" cy="81.14" r="1.0"/><circle cx="286.91" cy="81.07" r="1.0"/><circle cx="276.12" cy="81.26" r="1.0"/><circle cx="277.56" cy="81.02" r="1.0"/><circle cx="280.59" cy="80.87" r="1.0"/><circle cx="286.2" cy="80.71" r="1.0"/><circle cx="276.84" cy="81.17" r="1.0"/><circle cx="278.38" cy="80.91" r="1.0"/><circle cx="285.49" cy="80.44" r="1.0"/><circle cx="282.73" cy="80.26" r="1.0"/><circle cx="279.57" cy="80.37" r="1.0"/><circle cx="283.44" cy="80.61" r="1.0"/><circle cx="288.87" cy="79.57" r="1.0"/><circle cx="284.79" cy="79.95" r="1.0"/><circle cx="281.5" cy="80.05" r="1.0"/><circle cx="280.16" cy="79.11" r="1.0"/><circle cx="277.93" cy="79.13" r="1.0"/><circle cx="282.14" cy="79.04" r="1.0"/><circle cx="278.72" cy="78.97" r="1.0"/><circle cx="284.15" cy="78.93" r="1.0"/><circle cx="275.53" cy="79.29" r="1.0"/><circle cx="280.87" cy="78.84" r="1.0"/><circle cx="276.21" cy="78.61" r="1.0"/><circle cx="283.46" cy="78.38" r="1.0"/><circle cx="276.92" cy="78.3" r="1.0"/><circle cx="288.21" cy="78.66" r="1.0"/><circle cx="287.5" cy="78.39" r="1.0"/><circle cx="286.07" cy="78.16" r="1.0"/><circle cx="279.36" cy="77.98" r="1.0"/><circle cx="285.35" cy="78.07" r="1.0"/><circle cx="286.78" cy="78.26" r="1.0"/><circle cx="282.75" cy="77.91" r="1.0"/><circle cx="277.54" cy="77.22" r="1.0"/><circle cx="278.26" cy="77.19" r="1.0"/><circle cx="282.13" cy="76.82" r="1.0"/><circle cx="281.46" cy="77.58" r="1.0"/><circle cx="283.29" cy="76.22" r="1.0"/><circle cx="284.69" cy="77.17" r="1.0"/><circle cx="280.7" cy="76.69" r="1.0"/><circle cx="283.99" cy="76.76" r="1.0"/><circle cx="281.29" cy="75.41" r="1.0"/><circle cx="278.8" cy="75.75" r="1.0"/><circle cx="286.31" cy="75.83" r="1.0"/><circle cx="285.61" cy="75.35" r="1.0"/><circle cx="282.64" cy="75.28" r="1.0"/><circle cx="281.96" cy="74.63" r="1.0"/><circle cx="280.13" cy="74.31" r="1.0"/><circle cx="284.26" cy="74.24" r="1.0"/><circle cx="284.98" cy="74.32" r="1.0"/><circle cx="283.55" cy="73.9" r="1.0"/><circle cx="280.82" cy="73.67" r="1.0"/><circle cx="286.7" cy="73.25" r="1.0"/><circle cx="279.42" cy="74.6" r="1.0"/><circle cx="277.68" cy="73.26" r="1.0"/><circle cx="278.4" cy="73.19" r="1.0"/><circle cx="281.49" cy="72.91" r="1.0"/><circle cx="282.91" cy="72.91" r="1.0"/><circle cx="282.2" cy="72.56" r="1.0"/><circle cx="285.36" cy="71.92" r="1.0"/><circle cx="279.72" cy="71.85" r="1.0"/><circle cx="280.44" cy="71.62" r="1.0"/><circle cx="286.08" cy="72.17" r="1.0"/><circle cx="279.01" cy="72.03" r="1.0"/><circle cx="283.94" cy="71.37" r="1.0"/><circle cx="284.65" cy="71.84" r="1.0"/><circle cx="282.54" cy="70.52" r="1.0"/><circle cx="281.82" cy="70.45" r="1.0"/><circle cx="281.12" cy="70.93" r="1.0"/><circle cx="283.26" cy="70.71" r="1.0"/><circle cx="282.2" cy="68.58" r="1.0"/><circle cx="282.2" cy="62.22" r="1.0"/><circle cx="282.2" cy="94.88" r="1.0"/></g>
<g class="rd"><circle cx="210.64" cy="102.42" r="1.0"/><circle cx="212.48" cy="101.76" r="1.0"/><circle cx="220" cy="102.94" r="1.0"/><circle cx="208.91" cy="103.41" r="1.0"/><circle cx="216.21" cy="102.31" r="1.0"/><circle cx="218.14" cy="102.33" r="1.0"/><circle cx="208.85" cy="100.05" r="1.0"/><circle cx="218.04" cy="99.7" r="1.0"/><circle cx="216.26" cy="98.87" r="1.0"/><circle cx="219.96" cy="99.96" r="1.0"/><circle cx="212.49" cy="98.6" r="1.0"/><circle cx="214.4" cy="98.27" r="1.0"/><circle cx="210.67" cy="99.33" r="1.0"/><circle cx="218.73" cy="96.9" r="1.0"/><circle cx="210.82" cy="96.72" r="1.0"/><circle cx="207.13" cy="94.41" r="1.0"/><circle cx="213.86" cy="96.07" r="1.0"/><circle cx="221.67" cy="94.37" r="1.0"/><circle cx="211.97" cy="94.95" r="1.0"/><circle cx="219.77" cy="93.94" r="1.0"/><circle cx="215.39" cy="94.74" r="1.0"/><circle cx="213.63" cy="93.84" r="1.0"/><circle cx="216.17" cy="92.69" r="1.0"/><circle cx="218.1" cy="92.84" r="1.0"/><circle cx="208.92" cy="93.57" r="1.0"/><circle cx="212.47" cy="91.85" r="1.0"/><circle cx="214.4" cy="91.82" r="1.0"/><circle cx="221.6" cy="90.91" r="1.0"/><circle cx="206.9" cy="91" r="1.0"/><circle cx="219.88" cy="89.9" r="1.0"/><circle cx="218" cy="90.54" r="1.0"/><circle cx="210.65" cy="89.97" r="1.0"/><circle cx="212.47" cy="89.23" r="1.0"/><circle cx="216.32" cy="89.46" r="1.0"/><circle cx="215.08" cy="86.7" r="1.0"/><circle cx="218.69" cy="88.17" r="1.0"/><circle cx="216.97" cy="87.17" r="1.0"/><circle cx="207.49" cy="86.85" r="1.0"/><circle cx="211.44" cy="87.29" r="1.0"/><circle cx="208.99" cy="85.46" r="1.0"/><circle cx="216.31" cy="84.96" r="1.0"/><circle cx="219.87" cy="86.43" r="1.0"/><circle cx="207.05" cy="83.33" r="1.0"/><circle cx="216.97" cy="82.77" r="1.0"/><circle cx="210.87" cy="84.98" r="1.0"/><circle cx="211.78" cy="83.04" r="1.0"/><circle cx="208.51" cy="81.88" r="1.0"/><circle cx="221" cy="82.05" r="1.0"/><circle cx="213.63" cy="82.4" r="1.0"/><circle cx="215.73" cy="79.33" r="1.0"/><circle cx="219.2" cy="81.23" r="1.0"/><circle cx="213.92" cy="80.09" r="1.0"/><circle cx="214.4" cy="77.73" r="1.0"/><circle cx="212.47" cy="77.81" r="1.0"/><circle cx="214.4" cy="109.09" r="1.0"/><circle cx="214.4" cy="114.19" r="1.0"/><circle cx="231.27" cy="98.27" r="1.0"/><circle cx="258.47" cy="109.58" r="1.0"/><circle cx="255.49" cy="111.17" r="1.0"/><circle cx="264.29" cy="104.53" r="1.0"/><circle cx="253.97" cy="102.23" r="1.0"/><circle cx="255.34" cy="99.5" r="1.0"/><circle cx="259.8" cy="99.44" r="1.0"/><circle cx="258.27" cy="97.94" r="1.0"/><circle cx="253.79" cy="97.42" r="1.0"/><circle cx="258.38" cy="95.63" r="1.0"/><circle cx="259.8" cy="119.72" r="1.0"/><circle cx="283.37" cy="86.56" r="1.0"/><circle cx="286.29" cy="85.39" r="1.0"/><circle cx="283.64" cy="82.85" r="1.0"/><circle cx="277.33" cy="83.11" r="1.0"/><circle cx="287.62" cy="81.25" r="1.0"/><circle cx="279.99" cy="76.89" r="1.0"/></g>
<line x1="206.9" y1="89.13" x2="221.9" y2="89.13" stroke="#5a0c0c" stroke-width="1.4"/>
<line x1="229.6" y1="95.85" x2="244.6" y2="95.85" stroke="#111" stroke-width="1.4"/>
<line x1="252.3" y1="100.19" x2="267.3" y2="100.19" stroke="#111" stroke-width="1.4"/>
<line x1="274.7" y1="81.75" x2="289.7" y2="81.75" stroke="#111" stroke-width="1.4"/>
<path d="M214.6 70.6V50.6H235.2V78" class="br"/>
<path d="M239.6 78V50.6H259.8V79" class="br"/>
<path d="M237.2 37V33H282.4V57" class="br"/>
<circle cx="217.7" cy="45" r="1.35" class="st"/><circle cx="222.5" cy="45" r="1.35" class="st"/><circle cx="227.3" cy="45" r="1.35" class="st"/><circle cx="232.1" cy="45" r="1.35" class="st"/>
<circle cx="249.7" cy="45" r="1.35" class="st"/>
<circle cx="252.6" cy="27.4" r="1.35" class="st"/><circle cx="257.4" cy="27.4" r="1.35" class="st"/><circle cx="262.2" cy="27.4" r="1.35" class="st"/><circle cx="267" cy="27.4" r="1.35" class="st"/>
<text x="214.7" y="134.8" class="xl">CMS1</text>
<text x="237.4" y="134.8" class="xl">CMS2</text>
<text x="260.1" y="134.8" class="xl">CMS3</text>
<text x="282.5" y="134.8" class="xl">CMS4</text>
<line x1="324.6" y1="96" x2="421.6" y2="96" stroke="#444" stroke-width="1.1" stroke-dasharray="1.5 1.25"/>
<path d="M323.6 27.8V125.3H421.6" fill="none" stroke="#1a1a1a" stroke-width="1.2"/>
<line x1="323.6" y1="37.2" x2="325.1" y2="37.2" stroke="#222" stroke-width="0.9"/>
<text x="322" y="38.7" class="tk">6</text>
<line x1="323.6" y1="56.8" x2="325.1" y2="56.8" stroke="#222" stroke-width="0.9"/>
<text x="322" y="58.3" class="tk">4</text>
<line x1="323.6" y1="76.4" x2="325.1" y2="76.4" stroke="#222" stroke-width="0.9"/>
<text x="322" y="77.9" class="tk">2</text>
<line x1="323.6" y1="96" x2="325.1" y2="96" stroke="#222" stroke-width="0.9"/>
<text x="322" y="97.5" class="tk">0</text>
<line x1="323.6" y1="115.6" x2="325.1" y2="115.6" stroke="#222" stroke-width="0.9"/>
<text x="322" y="117.1" class="tk">-2</text>
<g class="g"><circle cx="339.31" cy="97.31" r="1.0"/><circle cx="337.91" cy="94.36" r="1.0"/><circle cx="345.33" cy="92.1" r="1.0"/><circle cx="333.96" cy="94.52" r="1.0"/><circle cx="334.65" cy="90.88" r="1.0"/><circle cx="343.96" cy="91.77" r="1.0"/><circle cx="340.84" cy="88.5" r="1.0"/><circle cx="344" cy="89.03" r="1.0"/><circle cx="333.24" cy="88.78" r="1.0"/><circle cx="335.17" cy="86.01" r="1.0"/><circle cx="337.1" cy="82.86" r="1.0"/><circle cx="339.71" cy="83.89" r="1.0"/><circle cx="338" cy="81.2" r="1.0"/><circle cx="338" cy="109.72" r="1.0"/><circle cx="360.56" cy="114.1" r="1.0"/><circle cx="360.67" cy="111.33" r="1.0"/><circle cx="361.03" cy="112.98" r="1.0"/><circle cx="361.49" cy="111.81" r="1.0"/><circle cx="362.56" cy="112.26" r="1.0"/><circle cx="360.14" cy="111.86" r="1.0"/><circle cx="359.15" cy="110.72" r="1.0"/><circle cx="362.05" cy="111.5" r="1.0"/><circle cx="359.7" cy="110.5" r="1.0"/><circle cx="360.18" cy="109.5" r="1.0"/><circle cx="361.79" cy="109.57" r="1.0"/><circle cx="361.13" cy="110.16" r="1.0"/><circle cx="358.79" cy="108.82" r="1.0"/><circle cx="356.56" cy="108.31" r="1.0"/><circle cx="361.45" cy="107.84" r="1.0"/><circle cx="359.29" cy="108.02" r="1.0"/><circle cx="364.28" cy="108.03" r="1.0"/><circle cx="362.35" cy="108.18" r="1.0"/><circle cx="357.1" cy="108.14" r="1.0"/><circle cx="357.64" cy="107.62" r="1.0"/><circle cx="360.7" cy="108.8" r="1.0"/><circle cx="364.82" cy="108.3" r="1.0"/><circle cx="359.82" cy="107.44" r="1.0"/><circle cx="363.35" cy="107.56" r="1.0"/><circle cx="358.16" cy="107.01" r="1.0"/><circle cx="361.96" cy="106.63" r="1.0"/><circle cx="362.82" cy="106.97" r="1.0"/><circle cx="358.7" cy="106.65" r="1.0"/><circle cx="355.5" cy="105.49" r="1.0"/><circle cx="360.33" cy="106.6" r="1.0"/><circle cx="361" cy="106.6" r="1.0"/><circle cx="366.4" cy="105.49" r="1.0"/><circle cx="364.08" cy="105.98" r="1.0"/><circle cx="359.19" cy="105.71" r="1.0"/><circle cx="357.5" cy="105.4" r="1.0"/><circle cx="363.57" cy="105.27" r="1.0"/><circle cx="359.78" cy="105" r="1.0"/><circle cx="362.54" cy="105.1" r="1.0"/><circle cx="363.07" cy="104.37" r="1.0"/><circle cx="361.61" cy="104.94" r="1.0"/><circle cx="360.66" cy="104.87" r="1.0"/><circle cx="358.01" cy="104.66" r="1.0"/><circle cx="356.47" cy="104.08" r="1.0"/><circle cx="358.62" cy="104.32" r="1.0"/><circle cx="365.12" cy="104.26" r="1.0"/><circle cx="355.93" cy="104.12" r="1.0"/><circle cx="357" cy="103.57" r="1.0"/><circle cx="365.97" cy="104.15" r="1.0"/><circle cx="364.58" cy="104.03" r="1.0"/><circle cx="361.14" cy="103.82" r="1.0"/><circle cx="362.09" cy="103.83" r="1.0"/><circle cx="360.18" cy="103.5" r="1.0"/><circle cx="359.29" cy="103.55" r="1.0"/><circle cx="364.06" cy="103.4" r="1.0"/><circle cx="366.61" cy="103.07" r="1.0"/><circle cx="354.77" cy="103.18" r="1.0"/><circle cx="363.52" cy="102.97" r="1.0"/><circle cx="365.54" cy="102.81" r="1.0"/><circle cx="357.51" cy="102.72" r="1.0"/><circle cx="362.73" cy="102.64" r="1.0"/><circle cx="358.24" cy="102.66" r="1.0"/><circle cx="355.24" cy="102.07" r="1.0"/><circle cx="358.82" cy="102.28" r="1.0"/><circle cx="360.7" cy="102.54" r="1.0"/><circle cx="359.69" cy="102.05" r="1.0"/><circle cx="361.7" cy="102.31" r="1.0"/><circle cx="364.42" cy="101.68" r="1.0"/><circle cx="355.88" cy="101.83" r="1.0"/><circle cx="366.15" cy="101.91" r="1.0"/><circle cx="356.43" cy="101.56" r="1.0"/><circle cx="365.05" cy="101.79" r="1.0"/><circle cx="353.69" cy="101.14" r="1.0"/><circle cx="360.24" cy="101.32" r="1.0"/><circle cx="363.36" cy="100.87" r="1.0"/><circle cx="361.19" cy="101.54" r="1.0"/><circle cx="362.25" cy="101.54" r="1.0"/><circle cx="356.97" cy="101.24" r="1.0"/><circle cx="363.9" cy="101.03" r="1.0"/><circle cx="357.86" cy="101.03" r="1.0"/><circle cx="361.83" cy="100.15" r="1.0"/><circle cx="365.72" cy="100.55" r="1.0"/><circle cx="362.78" cy="100.38" r="1.0"/><circle cx="367.3" cy="100.3" r="1.0"/><circle cx="358.39" cy="100.54" r="1.0"/><circle cx="359.21" cy="100.75" r="1.0"/><circle cx="360.73" cy="100.34" r="1.0"/><circle cx="354.76" cy="99.69" r="1.0"/><circle cx="355.48" cy="100.09" r="1.0"/><circle cx="359.77" cy="99.87" r="1.0"/><circle cx="366.77" cy="99.72" r="1.0"/><circle cx="366.23" cy="99.41" r="1.0"/><circle cx="356" cy="99.49" r="1.0"/><circle cx="364.76" cy="99.93" r="1.0"/><circle cx="365.28" cy="99.22" r="1.0"/><circle cx="356.61" cy="99.31" r="1.0"/><circle cx="354.12" cy="99.76" r="1.0"/><circle cx="361.34" cy="99.15" r="1.0"/><circle cx="357.16" cy="99.18" r="1.0"/><circle cx="360.28" cy="99.1" r="1.0"/><circle cx="357.7" cy="98.83" r="1.0"/><circle cx="363.73" cy="98.9" r="1.0"/><circle cx="358.74" cy="98.87" r="1.0"/><circle cx="364.28" cy="98.9" r="1.0"/><circle cx="363.19" cy="98.78" r="1.0"/><circle cx="359.32" cy="98.59" r="1.0"/><circle cx="362.42" cy="98.74" r="1.0"/><circle cx="360.85" cy="98.19" r="1.0"/><circle cx="355.16" cy="98.22" r="1.0"/><circle cx="353.2" cy="98.11" r="1.0"/><circle cx="367.75" cy="98.05" r="1.0"/><circle cx="358.22" cy="98.2" r="1.0"/><circle cx="353.74" cy="97.79" r="1.0"/><circle cx="367.21" cy="97.71" r="1.0"/><circle cx="361.91" cy="97.94" r="1.0"/><circle cx="356.26" cy="97.56" r="1.0"/><circle cx="365.91" cy="97.63" r="1.0"/><circle cx="359.79" cy="97.47" r="1.0"/><circle cx="354.29" cy="97.66" r="1.0"/><circle cx="355.68" cy="97.56" r="1.0"/><circle cx="360.4" cy="96.96" r="1.0"/><circle cx="362.83" cy="97.11" r="1.0"/><circle cx="365.03" cy="97.27" r="1.0"/><circle cx="363.97" cy="96.45" r="1.0"/><circle cx="361.28" cy="96.79" r="1.0"/><circle cx="366.73" cy="96.66" r="1.0"/><circle cx="356.8" cy="97.21" r="1.0"/><circle cx="357.33" cy="96.61" r="1.0"/><circle cx="354.77" cy="96.63" r="1.0"/><circle cx="358.95" cy="96.84" r="1.0"/><circle cx="364.51" cy="96.61" r="1.0"/><circle cx="362.34" cy="96.13" r="1.0"/><circle cx="363.42" cy="96.28" r="1.0"/><circle cx="357.87" cy="96.3" r="1.0"/><circle cx="361.8" cy="95.78" r="1.0"/><circle cx="365.71" cy="95.59" r="1.0"/><circle cx="358.41" cy="96.14" r="1.0"/><circle cx="359.43" cy="95.79" r="1.0"/><circle cx="366.26" cy="95.6" r="1.0"/><circle cx="360.82" cy="95.57" r="1.0"/><circle cx="355.79" cy="95.41" r="1.0"/><circle cx="355.25" cy="95.59" r="1.0"/><circle cx="365.18" cy="94.99" r="1.0"/><circle cx="356.33" cy="94.96" r="1.0"/><circle cx="359.97" cy="95.39" r="1.0"/><circle cx="356.87" cy="94.96" r="1.0"/><circle cx="364.33" cy="94.3" r="1.0"/><circle cx="363" cy="94.89" r="1.0"/><circle cx="360.41" cy="94.11" r="1.0"/><circle cx="361.34" cy="94.6" r="1.0"/><circle cx="363.78" cy="94.22" r="1.0"/><circle cx="358.68" cy="94.21" r="1.0"/><circle cx="359.21" cy="93.72" r="1.0"/><circle cx="362.51" cy="93.94" r="1.0"/><circle cx="357.39" cy="94.26" r="1.0"/><circle cx="361.97" cy="93.62" r="1.0"/><circle cx="360.92" cy="93.23" r="1.0"/><circle cx="359.75" cy="93.32" r="1.0"/><circle cx="364.97" cy="92.96" r="1.0"/><circle cx="356.45" cy="92.11" r="1.0"/><circle cx="363.33" cy="92.96" r="1.0"/><circle cx="355.96" cy="93.02" r="1.0"/><circle cx="361.5" cy="92.47" r="1.0"/><circle cx="358.34" cy="92.47" r="1.0"/><circle cx="364.5" cy="91.9" r="1.0"/><circle cx="360.2" cy="92.09" r="1.0"/><circle cx="357" cy="91.85" r="1.0"/><circle cx="358.84" cy="91.63" r="1.0"/><circle cx="362.87" cy="91.84" r="1.0"/><circle cx="359.38" cy="91.33" r="1.0"/><circle cx="357.54" cy="91.69" r="1.0"/><circle cx="360.7" cy="91.21" r="1.0"/><circle cx="363.95" cy="91.75" r="1.0"/><circle cx="362.32" cy="91.57" r="1.0"/><circle cx="358.02" cy="90.62" r="1.0"/><circle cx="361.3" cy="90.42" r="1.0"/><circle cx="363.46" cy="90.81" r="1.0"/><circle cx="359.86" cy="90.26" r="1.0"/><circle cx="361.85" cy="90.49" r="1.0"/><circle cx="362.45" cy="89.42" r="1.0"/><circle cx="358.48" cy="89.47" r="1.0"/><circle cx="360.36" cy="89.42" r="1.0"/><circle cx="361.45" cy="88.14" r="1.0"/><circle cx="363" cy="89.63" r="1.0"/><circle cx="359.52" cy="88.18" r="1.0"/><circle cx="360.9" cy="88.94" r="1.0"/><circle cx="360.03" cy="87.37" r="1.0"/><circle cx="361.99" cy="88.23" r="1.0"/><circle cx="359.02" cy="89.03" r="1.0"/><circle cx="360.7" cy="84.94" r="1.0"/><circle cx="360.16" cy="85.18" r="1.0"/><circle cx="361.09" cy="86.48" r="1.0"/><circle cx="360.57" cy="87.17" r="1.0"/><circle cx="360.7" cy="120.01" r="1.0"/><circle cx="381.85" cy="110.94" r="1.0"/><circle cx="383.4" cy="110.11" r="1.0"/><circle cx="380.26" cy="108.54" r="1.0"/><circle cx="384.88" cy="111.15" r="1.0"/><circle cx="376.94" cy="109.08" r="1.0"/><circle cx="386.59" cy="108.63" r="1.0"/><circle cx="388.25" cy="108.99" r="1.0"/><circle cx="378.98" cy="105.78" r="1.0"/><circle cx="384.94" cy="108.31" r="1.0"/><circle cx="381.72" cy="107.47" r="1.0"/><circle cx="378.58" cy="108.63" r="1.0"/><circle cx="382.48" cy="105.45" r="1.0"/><circle cx="388.13" cy="105.9" r="1.0"/><circle cx="383.4" cy="107.42" r="1.0"/><circle cx="385.14" cy="104.25" r="1.0"/><circle cx="383.52" cy="103.71" r="1.0"/><circle cx="380.26" cy="104.35" r="1.0"/><circle cx="378.43" cy="102.09" r="1.0"/><circle cx="382.8" cy="101.72" r="1.0"/><circle cx="387.5" cy="102.06" r="1.0"/><circle cx="389.1" cy="102.73" r="1.0"/><circle cx="386.75" cy="100.01" r="1.0"/><circle cx="379.88" cy="100.98" r="1.0"/><circle cx="384.34" cy="100.87" r="1.0"/><circle cx="383.24" cy="99.22" r="1.0"/><circle cx="381.2" cy="99.63" r="1.0"/><circle cx="389.24" cy="98.03" r="1.0"/><circle cx="376.14" cy="98.19" r="1.0"/><circle cx="390.9" cy="98.31" r="1.0"/><circle cx="379.36" cy="97.1" r="1.0"/><circle cx="377.8" cy="97.9" r="1.0"/><circle cx="384.13" cy="97.37" r="1.0"/><circle cx="387.59" cy="97.64" r="1.0"/><circle cx="381.78" cy="97.57" r="1.0"/><circle cx="380.48" cy="95.46" r="1.0"/><circle cx="382.88" cy="95.91" r="1.0"/><circle cx="386.16" cy="96.47" r="1.0"/><circle cx="381.81" cy="94.12" r="1.0"/><circle cx="383.47" cy="93.85" r="1.0"/><circle cx="381.15" cy="92.06" r="1.0"/><circle cx="379.59" cy="92.88" r="1.0"/><circle cx="387.74" cy="92.89" r="1.0"/><circle cx="386.07" cy="92.73" r="1.0"/><circle cx="383.77" cy="90.02" r="1.0"/><circle cx="385.44" cy="90.03" r="1.0"/><circle cx="381.04" cy="89.09" r="1.0"/><circle cx="382.81" cy="91.83" r="1.0"/><circle cx="382.63" cy="88.4" r="1.0"/><circle cx="383.4" cy="86.45" r="1.0"/><circle cx="381.72" cy="86.45" r="1.0"/><circle cx="383.4" cy="115.6" r="1.0"/><circle cx="383.4" cy="119.13" r="1.0"/><circle cx="407.32" cy="97.75" r="1.0"/><circle cx="405.8" cy="100.53" r="1.0"/><circle cx="404.98" cy="100.53" r="1.0"/><circle cx="408.14" cy="97.98" r="1.0"/><circle cx="405.06" cy="97.21" r="1.0"/><circle cx="406.6" cy="96.72" r="1.0"/><circle cx="405.8" cy="96.26" r="1.0"/><circle cx="404.25" cy="97.53" r="1.0"/><circle cx="402.53" cy="95.92" r="1.0"/><circle cx="404.14" cy="95.19" r="1.0"/><circle cx="408.9" cy="95.75" r="1.0"/><circle cx="404.94" cy="94.66" r="1.0"/><circle cx="403.34" cy="95.61" r="1.0"/><circle cx="406.5" cy="94.53" r="1.0"/><circle cx="401.81" cy="94.26" r="1.0"/><circle cx="408.09" cy="95.37" r="1.0"/><circle cx="407.31" cy="94.7" r="1.0"/><circle cx="409.48" cy="94.13" r="1.0"/><circle cx="405.72" cy="93.89" r="1.0"/><circle cx="404.19" cy="92.72" r="1.0"/><circle cx="407.84" cy="92.97" r="1.0"/><circle cx="408.75" cy="93.14" r="1.0"/><circle cx="403.38" cy="93.14" r="1.0"/><circle cx="402.57" cy="93.44" r="1.0"/><circle cx="407.03" cy="92.63" r="1.0"/><circle cx="405.05" cy="92.48" r="1.0"/><circle cx="400.44" cy="92.5" r="1.0"/><circle cx="411.16" cy="92.14" r="1.0"/><circle cx="405.81" cy="91.7" r="1.0"/><circle cx="402.83" cy="91.23" r="1.0"/><circle cx="410.35" cy="91.91" r="1.0"/><circle cx="401.22" cy="91.85" r="1.0"/><circle cx="409.19" cy="91.28" r="1.0"/><circle cx="402.03" cy="91.7" r="1.0"/><circle cx="403.65" cy="91.06" r="1.0"/><circle cx="407.57" cy="90.78" r="1.0"/><circle cx="406.76" cy="90.55" r="1.0"/><circle cx="408.37" cy="91.19" r="1.0"/><circle cx="405.24" cy="90.12" r="1.0"/><circle cx="404.45" cy="90.63" r="1.0"/><circle cx="413.21" cy="89.89" r="1.0"/><circle cx="399.66" cy="89.43" r="1.0"/><circle cx="406.07" cy="89.37" r="1.0"/><circle cx="398.85" cy="89.74" r="1.0"/><circle cx="412.4" cy="89.46" r="1.0"/><circle cx="402.09" cy="88.44" r="1.0"/><circle cx="411.59" cy="89.39" r="1.0"/><circle cx="409.35" cy="88.73" r="1.0"/><circle cx="400.47" cy="89.1" r="1.0"/><circle cx="401.28" cy="88.82" r="1.0"/><circle cx="408.54" cy="88.43" r="1.0"/><circle cx="407.73" cy="88.3" r="1.0"/><circle cx="410.8" cy="88.82" r="1.0"/><circle cx="402.95" cy="88.38" r="1.0"/><circle cx="398.3" cy="87.53" r="1.0"/><circle cx="403.8" cy="88.31" r="1.0"/><circle cx="406.91" cy="88.04" r="1.0"/><circle cx="404.62" cy="88.2" r="1.0"/><circle cx="413.08" cy="87.45" r="1.0"/><circle cx="405.43" cy="87.98" r="1.0"/><circle cx="400.78" cy="87.02" r="1.0"/><circle cx="411.27" cy="86.92" r="1.0"/><circle cx="399.97" cy="87.2" r="1.0"/><circle cx="408.83" cy="86.36" r="1.0"/><circle cx="410.45" cy="86.83" r="1.0"/><circle cx="409.64" cy="86.51" r="1.0"/><circle cx="399.09" cy="86.93" r="1.0"/><circle cx="401.58" cy="86.6" r="1.0"/><circle cx="406.18" cy="87.07" r="1.0"/><circle cx="402.4" cy="86.4" r="1.0"/><circle cx="404.03" cy="86.01" r="1.0"/><circle cx="407.23" cy="85.53" r="1.0"/><circle cx="403.22" cy="86.31" r="1.0"/><circle cx="404.84" cy="86" r="1.0"/><circle cx="405.63" cy="85.43" r="1.0"/><circle cx="412.62" cy="85.62" r="1.0"/><circle cx="406.43" cy="84.97" r="1.0"/><circle cx="399.57" cy="85.16" r="1.0"/><circle cx="411.83" cy="85.1" r="1.0"/><circle cx="410.2" cy="84.71" r="1.0"/><circle cx="400.39" cy="85.05" r="1.0"/><circle cx="409.39" cy="84.38" r="1.0"/><circle cx="402" cy="84.4" r="1.0"/><circle cx="408.59" cy="83.97" r="1.0"/><circle cx="401.19" cy="84.6" r="1.0"/><circle cx="402.82" cy="84.33" r="1.0"/><circle cx="407.78" cy="83.64" r="1.0"/><circle cx="406.04" cy="83.04" r="1.0"/><circle cx="404.44" cy="83.86" r="1.0"/><circle cx="403.63" cy="83.94" r="1.0"/><circle cx="405.23" cy="83.25" r="1.0"/><circle cx="406.97" cy="83.26" r="1.0"/><circle cx="410.5" cy="82.56" r="1.0"/><circle cx="404.01" cy="81.78" r="1.0"/><circle cx="401.57" cy="82.46" r="1.0"/><circle cx="409.69" cy="82.19" r="1.0"/><circle cx="403.19" cy="81.87" r="1.0"/><circle cx="402.38" cy="82.12" r="1.0"/><circle cx="408.29" cy="81.86" r="1.0"/><circle cx="405.66" cy="81.1" r="1.0"/><circle cx="401.55" cy="80.22" r="1.0"/><circle cx="406.68" cy="81.21" r="1.0"/><circle cx="409.37" cy="80.17" r="1.0"/><circle cx="404.81" cy="81.34" r="1.0"/><circle cx="402.34" cy="79.65" r="1.0"/><circle cx="403.14" cy="79.11" r="1.0"/><circle cx="408.58" cy="79.63" r="1.0"/><circle cx="405" cy="79.2" r="1.0"/><circle cx="403.95" cy="78.88" r="1.0"/><circle cx="406.19" cy="79.44" r="1.0"/><circle cx="407.79" cy="79.05" r="1.0"/><circle cx="404.53" cy="77.33" r="1.0"/><circle cx="404.98" cy="75.5" r="1.0"/><circle cx="405.64" cy="77.82" r="1.0"/><circle cx="407.01" cy="78.42" r="1.0"/><circle cx="405.8" cy="75.45" r="1.0"/><circle cx="405.8" cy="65.62" r="1.0"/><circle cx="405.8" cy="68.17" r="1.0"/><circle cx="405.8" cy="103.64" r="1.0"/></g>
<g class="rd"><circle cx="334.82" cy="100.8" r="1.0"/><circle cx="338" cy="106.85" r="1.0"/><circle cx="339.48" cy="102.53" r="1.0"/><circle cx="338.11" cy="102.27" r="1.0"/><circle cx="337.16" cy="100.68" r="1.0"/><circle cx="337.07" cy="103.73" r="1.0"/><circle cx="332.08" cy="101.29" r="1.0"/><circle cx="342.61" cy="101.2" r="1.0"/><circle cx="333.45" cy="101.09" r="1.0"/><circle cx="341.35" cy="100.27" r="1.0"/><circle cx="335.9" cy="99.42" r="1.0"/><circle cx="340.35" cy="98.75" r="1.0"/><circle cx="338.04" cy="98.98" r="1.0"/><circle cx="336.86" cy="97.83" r="1.0"/><circle cx="339.18" cy="100.21" r="1.0"/><circle cx="343.95" cy="95.68" r="1.0"/><circle cx="341.71" cy="96.63" r="1.0"/><circle cx="338" cy="96.59" r="1.0"/><circle cx="332.71" cy="95.47" r="1.0"/><circle cx="336.63" cy="95.2" r="1.0"/><circle cx="339.23" cy="95.03" r="1.0"/><circle cx="335.26" cy="95.41" r="1.0"/><circle cx="340.6" cy="95.32" r="1.0"/><circle cx="336.42" cy="92.99" r="1.0"/><circle cx="342.77" cy="94.54" r="1.0"/><circle cx="341.54" cy="93.54" r="1.0"/><circle cx="335.04" cy="93.14" r="1.0"/><circle cx="338.86" cy="92.75" r="1.0"/><circle cx="340.24" cy="92.8" r="1.0"/><circle cx="332.01" cy="92.05" r="1.0"/><circle cx="337.6" cy="91.84" r="1.0"/><circle cx="333.38" cy="91.77" r="1.0"/><circle cx="339.92" cy="90.43" r="1.0"/><circle cx="342.58" cy="91.62" r="1.0"/><circle cx="338.54" cy="90.24" r="1.0"/><circle cx="341.24" cy="91.07" r="1.0"/><circle cx="336.03" cy="90.82" r="1.0"/><circle cx="331.88" cy="89.17" r="1.0"/><circle cx="345.38" cy="89.33" r="1.0"/><circle cx="337.21" cy="89.67" r="1.0"/><circle cx="342.13" cy="89.26" r="1.0"/><circle cx="335.46" cy="88.24" r="1.0"/><circle cx="330.5" cy="89.4" r="1.0"/><circle cx="339.51" cy="87.87" r="1.0"/><circle cx="336.75" cy="87.47" r="1.0"/><circle cx="338.1" cy="87.99" r="1.0"/><circle cx="340.5" cy="85.7" r="1.0"/><circle cx="338.8" cy="85.98" r="1.0"/><circle cx="333.88" cy="86.84" r="1.0"/><circle cx="343.02" cy="87.49" r="1.0"/><circle cx="341.79" cy="86.46" r="1.0"/><circle cx="337.44" cy="85.56" r="1.0"/><circle cx="336.13" cy="84.44" r="1.0"/><circle cx="338.33" cy="83.87" r="1.0"/><circle cx="338" cy="74.54" r="1.0"/><circle cx="338" cy="114.52" r="1.0"/><circle cx="357.93" cy="93.95" r="1.0"/><circle cx="386.8" cy="104.55" r="1.0"/><circle cx="381.25" cy="102.58" r="1.0"/><circle cx="385.83" cy="101.9" r="1.0"/><circle cx="385.26" cy="99" r="1.0"/><circle cx="378.09" cy="93.85" r="1.0"/><circle cx="388.91" cy="94.46" r="1.0"/><circle cx="384.84" cy="95.13" r="1.0"/><circle cx="384.48" cy="92.02" r="1.0"/><circle cx="387.11" cy="90.21" r="1.0"/><circle cx="384.85" cy="87.54" r="1.0"/><circle cx="410.05" cy="89.86" r="1.0"/><circle cx="412.07" cy="87.34" r="1.0"/><circle cx="408.01" cy="86.11" r="1.0"/><circle cx="411.02" cy="84.8" r="1.0"/><circle cx="407.5" cy="81.34" r="1.0"/><circle cx="406.39" cy="76.97" r="1.0"/></g>
<line x1="330.5" y1="89.14" x2="345.5" y2="89.14" stroke="#5a0c0c" stroke-width="1.4"/>
<line x1="353.2" y1="98.94" x2="368.2" y2="98.94" stroke="#111" stroke-width="1.4"/>
<line x1="375.9" y1="98.94" x2="390.9" y2="98.94" stroke="#111" stroke-width="1.4"/>
<line x1="398.3" y1="87.28" x2="413.3" y2="87.28" stroke="#111" stroke-width="1.4"/>
<path d="M338.2 68V54H358.8V79.4" class="br"/>
<path d="M363.2 79.4V54H383.4V80.6" class="br"/>
<path d="M360.8 42V33.4H406V61" class="br"/>
<circle cx="341.3" cy="48.4" r="1.35" class="st"/><circle cx="346.1" cy="48.4" r="1.35" class="st"/><circle cx="350.9" cy="48.4" r="1.35" class="st"/><circle cx="355.7" cy="48.4" r="1.35" class="st"/>
<text x="373.3" y="49.4" class="ns">ns</text>
<circle cx="376.2" cy="27.8" r="1.35" class="st"/><circle cx="381" cy="27.8" r="1.35" class="st"/><circle cx="385.8" cy="27.8" r="1.35" class="st"/><circle cx="390.6" cy="27.8" r="1.35" class="st"/>
<text x="338.3" y="134.8" class="xl">CMS1</text>
<text x="361" y="134.8" class="xl">CMS2</text>
<text x="383.7" y="134.8" class="xl">CMS3</text>
<text x="406.1" y="134.8" class="xl">CMS4</text>
<line x1="447.7" y1="88.2" x2="544.7" y2="88.2" stroke="#444" stroke-width="1.1" stroke-dasharray="1.5 1.25"/>
<path d="M446.7 27.8V125.3H544.7" fill="none" stroke="#1a1a1a" stroke-width="1.2"/>
<line x1="446.7" y1="33" x2="448.2" y2="33" stroke="#222" stroke-width="0.9"/>
<text x="445.1" y="34.5" class="tk">6</text>
<line x1="446.7" y1="51.4" x2="448.2" y2="51.4" stroke="#222" stroke-width="0.9"/>
<text x="445.1" y="52.9" class="tk">4</text>
<line x1="446.7" y1="69.8" x2="448.2" y2="69.8" stroke="#222" stroke-width="0.9"/>
<text x="445.1" y="71.3" class="tk">2</text>
<line x1="446.7" y1="88.2" x2="448.2" y2="88.2" stroke="#222" stroke-width="0.9"/>
<text x="445.1" y="89.7" class="tk">0</text>
<line x1="446.7" y1="106.6" x2="448.2" y2="106.6" stroke="#222" stroke-width="0.9"/>
<text x="445.1" y="108.1" class="tk">-2</text>
<line x1="446.7" y1="125" x2="448.2" y2="125" stroke="#222" stroke-width="0.9"/>
<text x="445.1" y="126.5" class="tk">-4</text>
<g class="g"><circle cx="460.1" cy="94.35" r="1.0"/><circle cx="459.67" cy="87.6" r="1.0"/><circle cx="458.38" cy="85.92" r="1.0"/><circle cx="454.09" cy="84" r="1.0"/><circle cx="461.2" cy="79.87" r="1.0"/><circle cx="458.67" cy="78.94" r="1.0"/><circle cx="454.2" cy="78.57" r="1.0"/><circle cx="465.26" cy="77.08" r="1.0"/><circle cx="461.36" cy="77.59" r="1.0"/><circle cx="459.52" cy="72.9" r="1.0"/><circle cx="459.71" cy="76.38" r="1.0"/><circle cx="463.52" cy="74.18" r="1.0"/><circle cx="459.36" cy="70.09" r="1.0"/><circle cx="461.98" cy="71.22" r="1.0"/><circle cx="485.25" cy="102.34" r="1.0"/><circle cx="484.33" cy="101.69" r="1.0"/><circle cx="483" cy="102" r="1.0"/><circle cx="483.8" cy="104.12" r="1.0"/><circle cx="483.8" cy="101.53" r="1.0"/><circle cx="482.53" cy="102.23" r="1.0"/><circle cx="485.76" cy="100.45" r="1.0"/><circle cx="482.1" cy="100.95" r="1.0"/><circle cx="484.9" cy="100.83" r="1.0"/><circle cx="482.51" cy="99.77" r="1.0"/><circle cx="480.45" cy="99.98" r="1.0"/><circle cx="484.13" cy="99.7" r="1.0"/><circle cx="486.66" cy="99.95" r="1.0"/><circle cx="483.31" cy="100.31" r="1.0"/><circle cx="485.36" cy="99.33" r="1.0"/><circle cx="481.69" cy="99.5" r="1.0"/><circle cx="486.25" cy="98.8" r="1.0"/><circle cx="484.6" cy="99.14" r="1.0"/><circle cx="482.11" cy="98.48" r="1.0"/><circle cx="483.68" cy="98.94" r="1.0"/><circle cx="482.92" cy="98.69" r="1.0"/><circle cx="480.85" cy="98.83" r="1.0"/><circle cx="485.83" cy="97.79" r="1.0"/><circle cx="485.05" cy="97.63" r="1.0"/><circle cx="479.95" cy="97.86" r="1.0"/><circle cx="487.14" cy="97.82" r="1.0"/><circle cx="481.29" cy="97.95" r="1.0"/><circle cx="482.53" cy="97.42" r="1.0"/><circle cx="479.16" cy="96.84" r="1.0"/><circle cx="484.35" cy="97.25" r="1.0"/><circle cx="483.88" cy="96.94" r="1.0"/><circle cx="483.31" cy="97.47" r="1.0"/><circle cx="486.73" cy="96.71" r="1.0"/><circle cx="480.89" cy="96.56" r="1.0"/><circle cx="481.65" cy="96.5" r="1.0"/><circle cx="488.16" cy="96.82" r="1.0"/><circle cx="486.29" cy="95.96" r="1.0"/><circle cx="480.37" cy="96.84" r="1.0"/><circle cx="487.72" cy="95.99" r="1.0"/><circle cx="485.57" cy="95.96" r="1.0"/><circle cx="484.81" cy="95.76" r="1.0"/><circle cx="482.92" cy="96.2" r="1.0"/><circle cx="479.62" cy="96.22" r="1.0"/><circle cx="482.1" cy="95.83" r="1.0"/><circle cx="483.52" cy="95.49" r="1.0"/><circle cx="480.04" cy="95.21" r="1.0"/><circle cx="481.25" cy="95.13" r="1.0"/><circle cx="487.29" cy="95.07" r="1.0"/><circle cx="480.5" cy="94.72" r="1.0"/><circle cx="489.6" cy="94.95" r="1.0"/><circle cx="484.17" cy="95.07" r="1.0"/><circle cx="482.53" cy="94.92" r="1.0"/><circle cx="485.97" cy="94.32" r="1.0"/><circle cx="478.29" cy="94.92" r="1.0"/><circle cx="478.76" cy="94.89" r="1.0"/><circle cx="485.21" cy="94.53" r="1.0"/><circle cx="481.76" cy="94.26" r="1.0"/><circle cx="486.84" cy="94.38" r="1.0"/><circle cx="484.59" cy="93.79" r="1.0"/><circle cx="479.21" cy="94.12" r="1.0"/><circle cx="488.08" cy="93.79" r="1.0"/><circle cx="483.07" cy="94.11" r="1.0"/><circle cx="483.8" cy="93.7" r="1.0"/><circle cx="489.16" cy="94.16" r="1.0"/><circle cx="482.19" cy="93.38" r="1.0"/><circle cx="479.67" cy="93.54" r="1.0"/><circle cx="487.62" cy="93.45" r="1.0"/><circle cx="481.35" cy="92.98" r="1.0"/><circle cx="480.89" cy="93.45" r="1.0"/><circle cx="486.47" cy="92.99" r="1.0"/><circle cx="488.74" cy="93.15" r="1.0"/><circle cx="478.4" cy="92.6" r="1.0"/><circle cx="485.57" cy="93.11" r="1.0"/><circle cx="482.67" cy="92.82" r="1.0"/><circle cx="483.39" cy="92.47" r="1.0"/><circle cx="487.18" cy="92.56" r="1.0"/><circle cx="480.16" cy="92.89" r="1.0"/><circle cx="477.93" cy="92.72" r="1.0"/><circle cx="485.03" cy="92.5" r="1.0"/><circle cx="484.21" cy="92.48" r="1.0"/><circle cx="476.3" cy="92.2" r="1.0"/><circle cx="481.78" cy="92.01" r="1.0"/><circle cx="489.7" cy="92.06" r="1.0"/><circle cx="490.97" cy="92.17" r="1.0"/><circle cx="480.56" cy="91.67" r="1.0"/><circle cx="479.32" cy="91.54" r="1.0"/><circle cx="488.37" cy="91.74" r="1.0"/><circle cx="489.23" cy="91.93" r="1.0"/><circle cx="486.03" cy="92.11" r="1.0"/><circle cx="481.03" cy="91.31" r="1.0"/><circle cx="478.85" cy="91.8" r="1.0"/><circle cx="487.9" cy="91.51" r="1.0"/><circle cx="479.79" cy="91.42" r="1.0"/><circle cx="486.79" cy="91.34" r="1.0"/><circle cx="483.8" cy="91.37" r="1.0"/><circle cx="482.33" cy="91.27" r="1.0"/><circle cx="490.59" cy="90.87" r="1.0"/><circle cx="484.64" cy="91.23" r="1.0"/><circle cx="485.44" cy="91" r="1.0"/><circle cx="490.12" cy="90.67" r="1.0"/><circle cx="476.69" cy="90.92" r="1.0"/><circle cx="482.88" cy="90.83" r="1.0"/><circle cx="477.63" cy="90.57" r="1.0"/><circle cx="487.48" cy="90.48" r="1.0"/><circle cx="477.16" cy="90.7" r="1.0"/><circle cx="486.35" cy="90.43" r="1.0"/><circle cx="478.11" cy="90.56" r="1.0"/><circle cx="484.21" cy="90.24" r="1.0"/><circle cx="485.89" cy="90.02" r="1.0"/><circle cx="488.95" cy="90.12" r="1.0"/><circle cx="483.38" cy="90.2" r="1.0"/><circle cx="481.92" cy="89.9" r="1.0"/><circle cx="481.45" cy="90.35" r="1.0"/><circle cx="489.69" cy="89.74" r="1.0"/><circle cx="480.18" cy="90.12" r="1.0"/><circle cx="487.06" cy="89.43" r="1.0"/><circle cx="478.54" cy="89.61" r="1.0"/><circle cx="488.5" cy="89.51" r="1.0"/><circle cx="479.01" cy="89.52" r="1.0"/><circle cx="485.11" cy="89.41" r="1.0"/><circle cx="483.8" cy="89.15" r="1.0"/><circle cx="479.49" cy="89.43" r="1.0"/><circle cx="482.47" cy="89.18" r="1.0"/><circle cx="480.63" cy="89.41" r="1.0"/><circle cx="484.65" cy="88.92" r="1.0"/><circle cx="488.05" cy="88.82" r="1.0"/><circle cx="481.08" cy="88.81" r="1.0"/><circle cx="482.94" cy="88.65" r="1.0"/><circle cx="486.63" cy="88.56" r="1.0"/><circle cx="484.21" cy="88.01" r="1.0"/><circle cx="487.59" cy="88.22" r="1.0"/><circle cx="479.9" cy="88.32" r="1.0"/><circle cx="489.31" cy="88.37" r="1.0"/><circle cx="477.81" cy="88.4" r="1.0"/><circle cx="486.16" cy="88.12" r="1.0"/><circle cx="481.53" cy="88.11" r="1.0"/><circle cx="482" cy="87.73" r="1.0"/><circle cx="485.69" cy="88.02" r="1.0"/><circle cx="483.39" cy="87.99" r="1.0"/><circle cx="478.27" cy="87.75" r="1.0"/><circle cx="479.21" cy="87.44" r="1.0"/><circle cx="478.74" cy="87.52" r="1.0"/><circle cx="480.31" cy="87.26" r="1.0"/><circle cx="488.87" cy="87.63" r="1.0"/><circle cx="488.4" cy="87.31" r="1.0"/><circle cx="485.25" cy="87.15" r="1.0"/><circle cx="483.8" cy="86.9" r="1.0"/><circle cx="484.78" cy="86.77" r="1.0"/><circle cx="487.95" cy="86.54" r="1.0"/><circle cx="482.6" cy="87.02" r="1.0"/><circle cx="480.78" cy="86.84" r="1.0"/><circle cx="487.23" cy="86.8" r="1.0"/><circle cx="479.64" cy="86.45" r="1.0"/><circle cx="486.76" cy="86.33" r="1.0"/><circle cx="483.04" cy="86.25" r="1.0"/><circle cx="484.37" cy="85.67" r="1.0"/><circle cx="481.69" cy="85.88" r="1.0"/><circle cx="486.29" cy="85.96" r="1.0"/><circle cx="482.17" cy="85.67" r="1.0"/><circle cx="485.82" cy="85.75" r="1.0"/><circle cx="483.47" cy="85.31" r="1.0"/><circle cx="482.6" cy="84.8" r="1.0"/><circle cx="480.02" cy="85.11" r="1.0"/><circle cx="480.49" cy="85.06" r="1.0"/><circle cx="487.59" cy="85.12" r="1.0"/><circle cx="484.91" cy="84.52" r="1.0"/><circle cx="483.04" cy="83.95" r="1.0"/><circle cx="485.38" cy="84.95" r="1.0"/><circle cx="483.94" cy="84.79" r="1.0"/><circle cx="486.22" cy="83.56" r="1.0"/><circle cx="480.9" cy="83.91" r="1.0"/><circle cx="487.17" cy="84.12" r="1.0"/><circle cx="486.69" cy="83.88" r="1.0"/><circle cx="481.84" cy="83.48" r="1.0"/><circle cx="484.33" cy="83.13" r="1.0"/><circle cx="481.37" cy="83.75" r="1.0"/><circle cx="484.79" cy="82.4" r="1.0"/><circle cx="485.75" cy="83.35" r="1.0"/><circle cx="482.31" cy="83.03" r="1.0"/><circle cx="483.63" cy="83.12" r="1.0"/><circle cx="485.31" cy="82.49" r="1.0"/><circle cx="482.74" cy="82.17" r="1.0"/><circle cx="483.22" cy="81.9" r="1.0"/><circle cx="483.98" cy="81.65" r="1.0"/><circle cx="485.07" cy="80.6" r="1.0"/><circle cx="482.96" cy="79.96" r="1.0"/><circle cx="483.58" cy="80.47" r="1.0"/><circle cx="484.6" cy="80.39" r="1.0"/><circle cx="483.8" cy="78.53" r="1.0"/><circle cx="483.32" cy="78.53" r="1.0"/><circle cx="484.27" cy="78.78" r="1.0"/><circle cx="483.8" cy="108.44" r="1.0"/><circle cx="483.8" cy="111.75" r="1.0"/><circle cx="502.65" cy="101.07" r="1.0"/><circle cx="505.13" cy="99.26" r="1.0"/><circle cx="506.08" cy="101.2" r="1.0"/><circle cx="503.93" cy="100.32" r="1.0"/><circle cx="506.5" cy="99.11" r="1.0"/><circle cx="510.41" cy="97.86" r="1.0"/><circle cx="507.77" cy="99.94" r="1.0"/><circle cx="502.66" cy="97.49" r="1.0"/><circle cx="505.14" cy="96.06" r="1.0"/><circle cx="499.79" cy="95.16" r="1.0"/><circle cx="507.79" cy="96.62" r="1.0"/><circle cx="506.5" cy="95.88" r="1.0"/><circle cx="513.28" cy="94.57" r="1.0"/><circle cx="511.92" cy="94.39" r="1.0"/><circle cx="510.57" cy="93.96" r="1.0"/><circle cx="501.08" cy="94.43" r="1.0"/><circle cx="505.13" cy="93.36" r="1.0"/><circle cx="507.86" cy="93.45" r="1.0"/><circle cx="499" cy="91.15" r="1.0"/><circle cx="509.23" cy="93.53" r="1.0"/><circle cx="501.69" cy="90.39" r="1.0"/><circle cx="505.44" cy="90.53" r="1.0"/><circle cx="507.71" cy="90.15" r="1.0"/><circle cx="510.84" cy="90.3" r="1.0"/><circle cx="500.37" cy="90.98" r="1.0"/><circle cx="509.47" cy="90.3" r="1.0"/><circle cx="512.15" cy="90.93" r="1.0"/><circle cx="502.99" cy="89.7" r="1.0"/><circle cx="507.75" cy="87.69" r="1.0"/><circle cx="506.5" cy="89.13" r="1.0"/><circle cx="509.09" cy="88.18" r="1.0"/><circle cx="504.32" cy="89.18" r="1.0"/><circle cx="508.8" cy="85.38" r="1.0"/><circle cx="502.18" cy="85.8" r="1.0"/><circle cx="503.52" cy="85.4" r="1.0"/><circle cx="507.46" cy="84.9" r="1.0"/><circle cx="510.15" cy="85.74" r="1.0"/><circle cx="504.87" cy="85" r="1.0"/><circle cx="508.31" cy="82.23" r="1.0"/><circle cx="506.16" cy="84.24" r="1.0"/><circle cx="503.64" cy="82.66" r="1.0"/><circle cx="505.13" cy="82.25" r="1.0"/><circle cx="509.47" cy="83.4" r="1.0"/><circle cx="510.83" cy="83.62" r="1.0"/><circle cx="507.61" cy="80.33" r="1.0"/><circle cx="506.5" cy="82.11" r="1.0"/><circle cx="506.5" cy="79.05" r="1.0"/><circle cx="504.19" cy="80.65" r="1.0"/><circle cx="505.13" cy="79.05" r="1.0"/><circle cx="506.5" cy="109.08" r="1.0"/><circle cx="505.13" cy="109.08" r="1.0"/><circle cx="506.5" cy="120.03" r="1.0"/><circle cx="526.75" cy="87.79" r="1.0"/><circle cx="528.49" cy="88.04" r="1.0"/><circle cx="527.47" cy="87.29" r="1.0"/><circle cx="527.97" cy="87.27" r="1.0"/><circle cx="530.09" cy="87.34" r="1.0"/><circle cx="528.9" cy="87.13" r="1.0"/><circle cx="527" cy="85.97" r="1.0"/><circle cx="525.4" cy="85.88" r="1.0"/><circle cx="530.76" cy="86.22" r="1.0"/><circle cx="532.45" cy="86.33" r="1.0"/><circle cx="528.33" cy="85.96" r="1.0"/><circle cx="532.02" cy="85.67" r="1.0"/><circle cx="530.34" cy="85.44" r="1.0"/><circle cx="525.84" cy="85.61" r="1.0"/><circle cx="529.89" cy="85.38" r="1.0"/><circle cx="527.6" cy="85.2" r="1.0"/><circle cx="526.29" cy="85.53" r="1.0"/><circle cx="528.73" cy="84.86" r="1.0"/><circle cx="529.44" cy="85.15" r="1.0"/><circle cx="523.7" cy="84.65" r="1.0"/><circle cx="531.16" cy="84.46" r="1.0"/><circle cx="524.15" cy="84.51" r="1.0"/><circle cx="528.01" cy="84.3" r="1.0"/><circle cx="531.63" cy="84.57" r="1.0"/><circle cx="526.68" cy="84.41" r="1.0"/><circle cx="530.72" cy="83.98" r="1.0"/><circle cx="529.1" cy="83.67" r="1.0"/><circle cx="535.15" cy="84.06" r="1.0"/><circle cx="533.69" cy="83.9" r="1.0"/><circle cx="522.58" cy="83.59" r="1.0"/><circle cx="524.56" cy="83.55" r="1.0"/><circle cx="527.12" cy="83.84" r="1.0"/><circle cx="532.8" cy="83.52" r="1.0"/><circle cx="525.06" cy="83.42" r="1.0"/><circle cx="533.25" cy="83.59" r="1.0"/><circle cx="532.35" cy="83.42" r="1.0"/><circle cx="525.51" cy="83.29" r="1.0"/><circle cx="530.04" cy="83.22" r="1.0"/><circle cx="525.96" cy="83.22" r="1.0"/><circle cx="528.39" cy="83.11" r="1.0"/><circle cx="531.92" cy="82.76" r="1.0"/><circle cx="526.38" cy="82.5" r="1.0"/><circle cx="529.57" cy="82.89" r="1.0"/><circle cx="531.44" cy="82.59" r="1.0"/><circle cx="523.41" cy="82.33" r="1.0"/><circle cx="534.84" cy="82.47" r="1.0"/><circle cx="522.96" cy="82.46" r="1.0"/><circle cx="534.39" cy="82.34" r="1.0"/><circle cx="527.69" cy="82.71" r="1.0"/><circle cx="523.88" cy="82.23" r="1.0"/><circle cx="528.79" cy="82.09" r="1.0"/><circle cx="531" cy="82.2" r="1.0"/><circle cx="526.83" cy="82.13" r="1.0"/><circle cx="530.55" cy="81.95" r="1.0"/><circle cx="527.27" cy="81.77" r="1.0"/><circle cx="524.76" cy="81.59" r="1.0"/><circle cx="536.35" cy="81.83" r="1.0"/><circle cx="524.31" cy="81.6" r="1.0"/><circle cx="533.5" cy="81.71" r="1.0"/><circle cx="525.2" cy="81.16" r="1.0"/><circle cx="528.06" cy="81.5" r="1.0"/><circle cx="533.06" cy="81.3" r="1.0"/><circle cx="533.95" cy="81.73" r="1.0"/><circle cx="529.23" cy="81.47" r="1.0"/><circle cx="529.86" cy="81.2" r="1.0"/><circle cx="532.61" cy="81.02" r="1.0"/><circle cx="521.82" cy="81.06" r="1.0"/><circle cx="532.16" cy="80.9" r="1.0"/><circle cx="525.65" cy="80.98" r="1.0"/><circle cx="526.11" cy="80.76" r="1.0"/><circle cx="531.71" cy="80.8" r="1.0"/><circle cx="522.26" cy="80.61" r="1.0"/><circle cx="535.53" cy="80.48" r="1.0"/><circle cx="522.71" cy="80.46" r="1.0"/><circle cx="534.63" cy="80.36" r="1.0"/><circle cx="535.08" cy="80.46" r="1.0"/><circle cx="528.46" cy="80.52" r="1.0"/><circle cx="523.61" cy="80.34" r="1.0"/><circle cx="523.16" cy="80.43" r="1.0"/><circle cx="526.54" cy="80.23" r="1.0"/><circle cx="530.38" cy="79.91" r="1.0"/><circle cx="531.28" cy="80.25" r="1.0"/><circle cx="530.83" cy="80.12" r="1.0"/><circle cx="527.46" cy="79.77" r="1.0"/><circle cx="526.99" cy="80.03" r="1.0"/><circle cx="524.03" cy="79.58" r="1.0"/><circle cx="528.9" cy="79.95" r="1.0"/><circle cx="524.48" cy="79.43" r="1.0"/><circle cx="529.53" cy="79.7" r="1.0"/><circle cx="534.2" cy="79.64" r="1.0"/><circle cx="527.9" cy="79.3" r="1.0"/><circle cx="533.3" cy="79.38" r="1.0"/><circle cx="533.75" cy="79.46" r="1.0"/><circle cx="532.4" cy="79.04" r="1.0"/><circle cx="524.93" cy="79.33" r="1.0"/><circle cx="532.85" cy="79.08" r="1.0"/><circle cx="531.95" cy="78.87" r="1.0"/><circle cx="525.38" cy="79.04" r="1.0"/><circle cx="526.27" cy="78.46" r="1.0"/><circle cx="529.97" cy="79.02" r="1.0"/><circle cx="525.83" cy="78.95" r="1.0"/><circle cx="527.16" cy="77.99" r="1.0"/><circle cx="528.31" cy="78.42" r="1.0"/><circle cx="526.71" cy="78.06" r="1.0"/><circle cx="531.07" cy="77.99" r="1.0"/><circle cx="529.19" cy="78.27" r="1.0"/><circle cx="527.6" cy="77.53" r="1.0"/><circle cx="530.62" cy="77.92" r="1.0"/><circle cx="528.02" cy="76.71" r="1.0"/><circle cx="530.2" cy="77.13" r="1.0"/><circle cx="528.9" cy="75.8" r="1.0"/><circle cx="529.75" cy="77.09" r="1.0"/><circle cx="529.34" cy="76.15" r="1.0"/><circle cx="528.45" cy="76.12" r="1.0"/><circle cx="528.9" cy="65.84" r="1.0"/><circle cx="528.9" cy="68.88" r="1.0"/><circle cx="528.9" cy="71.64" r="1.0"/><circle cx="528.9" cy="92.8" r="1.0"/><circle cx="528.6" cy="94.46" r="1.0"/></g>
<g class="rd"><circle cx="461.5" cy="93.9" r="1.0"/><circle cx="463.71" cy="91.75" r="1.0"/><circle cx="462.35" cy="91.11" r="1.0"/><circle cx="460.65" cy="92.13" r="1.0"/><circle cx="458.57" cy="91.64" r="1.0"/><circle cx="468.14" cy="88.85" r="1.0"/><circle cx="459.68" cy="90.26" r="1.0"/><circle cx="461.1" cy="90.04" r="1.0"/><circle cx="455.03" cy="88.82" r="1.0"/><circle cx="465.37" cy="88.03" r="1.0"/><circle cx="466.71" cy="88.78" r="1.0"/><circle cx="462.52" cy="87.77" r="1.0"/><circle cx="453.6" cy="88.92" r="1.0"/><circle cx="457.8" cy="87.92" r="1.0"/><circle cx="456.37" cy="88.08" r="1.0"/><circle cx="463.95" cy="87.87" r="1.0"/><circle cx="461.1" cy="87.59" r="1.0"/><circle cx="463.83" cy="85.49" r="1.0"/><circle cx="459.75" cy="85.27" r="1.0"/><circle cx="461.1" cy="84.57" r="1.0"/><circle cx="462.4" cy="85.46" r="1.0"/><circle cx="456.92" cy="83.38" r="1.0"/><circle cx="458.25" cy="82.6" r="1.0"/><circle cx="455.5" cy="83.62" r="1.0"/><circle cx="463.92" cy="82.9" r="1.0"/><circle cx="466.69" cy="83.94" r="1.0"/><circle cx="461.1" cy="82.31" r="1.0"/><circle cx="465.31" cy="83.41" r="1.0"/><circle cx="462.53" cy="82.41" r="1.0"/><circle cx="465.3" cy="80.02" r="1.0"/><circle cx="459.67" cy="82.4" r="1.0"/><circle cx="463.89" cy="79.62" r="1.0"/><circle cx="457.32" cy="79.68" r="1.0"/><circle cx="466.6" cy="77.83" r="1.0"/><circle cx="460.07" cy="78.53" r="1.0"/><circle cx="462.66" cy="78.5" r="1.0"/><circle cx="468.01" cy="78.19" r="1.0"/><circle cx="455.6" cy="78.18" r="1.0"/><circle cx="456.93" cy="77.36" r="1.0"/><circle cx="461.01" cy="75.46" r="1.0"/><circle cx="463.86" cy="76.62" r="1.0"/><circle cx="462.46" cy="76.17" r="1.0"/><circle cx="458.31" cy="76.79" r="1.0"/><circle cx="462.1" cy="74.04" r="1.0"/><circle cx="464.82" cy="71.57" r="1.0"/><circle cx="458.64" cy="74.63" r="1.0"/><circle cx="463.4" cy="71.35" r="1.0"/><circle cx="460.94" cy="72.74" r="1.0"/><circle cx="456.88" cy="71.79" r="1.0"/><circle cx="466.23" cy="71.9" r="1.0"/><circle cx="458.3" cy="71.57" r="1.0"/><circle cx="460.79" cy="70" r="1.0"/><circle cx="462.06" cy="69" r="1.0"/><circle cx="461.1" cy="67.37" r="1.0"/><circle cx="459.67" cy="67.37" r="1.0"/><circle cx="461.1" cy="106.42" r="1.0"/><circle cx="481.22" cy="86.01" r="1.0"/><circle cx="509.09" cy="100.54" r="1.0"/><circle cx="509.07" cy="97.42" r="1.0"/><circle cx="504.02" cy="97.35" r="1.0"/><circle cx="502.42" cy="94.01" r="1.0"/><circle cx="503.78" cy="93.72" r="1.0"/><circle cx="506.5" cy="93.22" r="1.0"/><circle cx="513.52" cy="91.09" r="1.0"/><circle cx="505.2" cy="87.5" r="1.0"/><circle cx="506.5" cy="86.8" r="1.0"/><circle cx="502.41" cy="83.62" r="1.0"/><circle cx="531.15" cy="87.31" r="1.0"/><circle cx="529.6" cy="87.2" r="1.0"/><circle cx="521.4" cy="81.91" r="1.0"/><circle cx="535.98" cy="80.62" r="1.0"/><circle cx="531.52" cy="78.28" r="1.0"/><circle cx="528.75" cy="77.87" r="1.0"/></g>
<line x1="453.6" y1="79.09" x2="468.6" y2="79.09" stroke="#5a0c0c" stroke-width="1.4"/>
<line x1="476.3" y1="90.96" x2="491.3" y2="90.96" stroke="#111" stroke-width="1.4"/>
<line x1="499" y1="91.42" x2="514" y2="91.42" stroke="#111" stroke-width="1.4"/>
<line x1="521.4" y1="80.93" x2="536.4" y2="80.93" stroke="#111" stroke-width="1.4"/>
<path d="M461.3 62V54.6H481.9V73" class="br"/>
<path d="M486.3 73V54.6H506.5V74" class="br"/>
<path d="M483.9 43V33.4H529.1V61" class="br"/>
<circle cx="464.4" cy="49" r="1.35" class="st"/><circle cx="469.2" cy="49" r="1.35" class="st"/><circle cx="474" cy="49" r="1.35" class="st"/><circle cx="478.8" cy="49" r="1.35" class="st"/>
<text x="496.4" y="50" class="ns">ns</text>
<circle cx="499.3" cy="27.8" r="1.35" class="st"/><circle cx="504.1" cy="27.8" r="1.35" class="st"/><circle cx="508.9" cy="27.8" r="1.35" class="st"/><circle cx="513.7" cy="27.8" r="1.35" class="st"/>
<text x="461.4" y="134.8" class="xl">CMS1</text>
<text x="484.1" y="134.8" class="xl">CMS2</text>
<text x="506.8" y="134.8" class="xl">CMS3</text>
<text x="529.2" y="134.8" class="xl">CMS4</text>
<text transform="translate(70.6,77.05) rotate(-90)" class="yl" textLength="17.5" lengthAdjust="spacingAndGlyphs"><tspan font-style="italic">TGFB</tspan></text>
<text transform="translate(194.1,77.05) rotate(-90)" class="yl" textLength="17.0" lengthAdjust="spacingAndGlyphs">TBSS</text>
<text transform="translate(317.4,77.05) rotate(-90)" class="yl" textLength="51.3" lengthAdjust="spacingAndGlyphs">M2 macrophage</text>
<text transform="translate(440.4,77.05) rotate(-90)" class="yl" textLength="52.0" lengthAdjust="spacingAndGlyphs"><tspan font-style="italic">HAVCR2</tspan> (TIM-3)</text>
<line x1="77.6" y1="214.5" x2="174.6" y2="214.5" stroke="#444" stroke-width="1.1" stroke-dasharray="1.5 1.25"/>
<path d="M76.6 145V242.7H174.6" fill="none" stroke="#1a1a1a" stroke-width="1.2"/>
<line x1="76.6" y1="159" x2="78.1" y2="159" stroke="#222" stroke-width="0.9"/>
<text x="75" y="160.5" class="tk">6</text>
<line x1="76.6" y1="177.5" x2="78.1" y2="177.5" stroke="#222" stroke-width="0.9"/>
<text x="75" y="179" class="tk">4</text>
<line x1="76.6" y1="196" x2="78.1" y2="196" stroke="#222" stroke-width="0.9"/>
<text x="75" y="197.5" class="tk">2</text>
<line x1="76.6" y1="214.5" x2="78.1" y2="214.5" stroke="#222" stroke-width="0.9"/>
<text x="75" y="216" class="tk">0</text>
<line x1="76.6" y1="233" x2="78.1" y2="233" stroke="#222" stroke-width="0.9"/>
<text x="75" y="234.5" class="tk">-2</text>
<g class="g"><circle cx="88.08" cy="222.59" r="0.95"/><circle cx="91.81" cy="219.92" r="0.95"/><circle cx="94.56" cy="220.14" r="0.95"/><circle cx="93.19" cy="219.92" r="0.95"/><circle cx="87.89" cy="216.43" r="0.95"/><circle cx="97.11" cy="217.71" r="0.95"/><circle cx="89.26" cy="216.09" r="0.95"/><circle cx="86.51" cy="216.61" r="0.95"/><circle cx="93.13" cy="216.31" r="0.95"/><circle cx="97.28" cy="213.27" r="0.95"/><circle cx="90.09" cy="212.07" r="0.95"/><circle cx="85.59" cy="210.72" r="0.95"/><circle cx="88.03" cy="208.6" r="0.95"/><circle cx="93.27" cy="208.06" r="0.95"/><circle cx="91.94" cy="207.47" r="0.95"/><circle cx="88.14" cy="205.88" r="0.95"/><circle cx="95.04" cy="205.92" r="0.95"/><circle cx="92.38" cy="205.01" r="0.95"/><circle cx="88.34" cy="203.61" r="0.95"/><circle cx="85.6" cy="204.14" r="0.95"/><circle cx="96.38" cy="203.94" r="0.95"/><circle cx="86.97" cy="203.94" r="0.95"/><circle cx="89.69" cy="203.09" r="0.95"/><circle cx="88.76" cy="200.95" r="0.95"/><circle cx="95.5" cy="200.04" r="0.95"/><circle cx="94.14" cy="199.71" r="0.95"/><circle cx="89.62" cy="199.22" r="0.95"/><circle cx="86.43" cy="200.07" r="0.95"/><circle cx="88.62" cy="197.58" r="0.95"/><circle cx="93.52" cy="197.74" r="0.95"/><circle cx="89.62" cy="196.05" r="0.95"/><circle cx="92.18" cy="197.21" r="0.95"/><circle cx="91" cy="187.68" r="0.95"/><circle cx="113.7" cy="233.06" r="0.95"/><circle cx="112.59" cy="231.32" r="0.95"/><circle cx="113.07" cy="231.11" r="0.95"/><circle cx="114.39" cy="230.09" r="0.95"/><circle cx="116.65" cy="229.84" r="0.95"/><circle cx="110.76" cy="229.68" r="0.95"/><circle cx="115.34" cy="229.52" r="0.95"/><circle cx="117.13" cy="229.87" r="0.95"/><circle cx="113.69" cy="230.17" r="0.95"/><circle cx="114.86" cy="229.15" r="0.95"/><circle cx="113.26" cy="229.09" r="0.95"/><circle cx="112.02" cy="229.34" r="0.95"/><circle cx="112.48" cy="228.7" r="0.95"/><circle cx="116.17" cy="229.53" r="0.95"/><circle cx="115.78" cy="228.26" r="0.95"/><circle cx="114.03" cy="228.64" r="0.95"/><circle cx="111.15" cy="228.39" r="0.95"/><circle cx="113.61" cy="227.61" r="0.95"/><circle cx="114.54" cy="227.54" r="0.95"/><circle cx="116.22" cy="227.03" r="0.95"/><circle cx="111.61" cy="227.78" r="0.95"/><circle cx="112.84" cy="227.24" r="0.95"/><circle cx="110.28" cy="228.01" r="0.95"/><circle cx="112.06" cy="227.01" r="0.95"/><circle cx="115.35" cy="227.3" r="0.95"/><circle cx="110.62" cy="226.46" r="0.95"/><circle cx="109.39" cy="226.76" r="0.95"/><circle cx="114.15" cy="226.25" r="0.95"/><circle cx="109.83" cy="225.82" r="0.95"/><circle cx="116.8" cy="226.56" r="0.95"/><circle cx="117.59" cy="226.19" r="0.95"/><circle cx="113.24" cy="226.02" r="0.95"/><circle cx="114.94" cy="226.12" r="0.95"/><circle cx="115.82" cy="225.78" r="0.95"/><circle cx="112.44" cy="225.71" r="0.95"/><circle cx="111.1" cy="226.13" r="0.95"/><circle cx="117.17" cy="225.17" r="0.95"/><circle cx="110.26" cy="224.91" r="0.95"/><circle cx="113.7" cy="225.45" r="0.95"/><circle cx="115.39" cy="224.84" r="0.95"/><circle cx="111.71" cy="225.28" r="0.95"/><circle cx="116.45" cy="225.05" r="0.95"/><circle cx="114.56" cy="224.81" r="0.95"/><circle cx="118.47" cy="224.26" r="0.95"/><circle cx="112.85" cy="224.54" r="0.95"/><circle cx="108.94" cy="224.46" r="0.95"/><circle cx="108.46" cy="224.47" r="0.95"/><circle cx="110.72" cy="224.21" r="0.95"/><circle cx="112.11" cy="224.08" r="0.95"/><circle cx="111.2" cy="223.98" r="0.95"/><circle cx="113.46" cy="223.48" r="0.95"/><circle cx="116.82" cy="223.64" r="0.95"/><circle cx="109.38" cy="223.65" r="0.95"/><circle cx="118.02" cy="223.56" r="0.95"/><circle cx="116.12" cy="223.42" r="0.95"/><circle cx="117.53" cy="223.56" r="0.95"/><circle cx="111.63" cy="223.06" r="0.95"/><circle cx="114.49" cy="222.61" r="0.95"/><circle cx="109.85" cy="223.06" r="0.95"/><circle cx="112.51" cy="222.82" r="0.95"/><circle cx="115.09" cy="223.12" r="0.95"/><circle cx="115.65" cy="222.9" r="0.95"/><circle cx="108.08" cy="222.53" r="0.95"/><circle cx="110.34" cy="222.46" r="0.95"/><circle cx="107.6" cy="222.57" r="0.95"/><circle cx="108.55" cy="222.14" r="0.95"/><circle cx="112.98" cy="222.42" r="0.95"/><circle cx="118.9" cy="222.17" r="0.95"/><circle cx="119.38" cy="222.54" r="0.95"/><circle cx="116.55" cy="221.84" r="0.95"/><circle cx="113.84" cy="222.19" r="0.95"/><circle cx="110.94" cy="221.93" r="0.95"/><circle cx="112.03" cy="221.83" r="0.95"/><circle cx="117.19" cy="222.04" r="0.95"/><circle cx="113.39" cy="221.28" r="0.95"/><circle cx="118.43" cy="221.68" r="0.95"/><circle cx="115.34" cy="221.22" r="0.95"/><circle cx="117.96" cy="221.38" r="0.95"/><circle cx="109.01" cy="221.41" r="0.95"/><circle cx="114.86" cy="221.19" r="0.95"/><circle cx="109.49" cy="221.33" r="0.95"/><circle cx="111.37" cy="220.92" r="0.95"/><circle cx="114.23" cy="220.73" r="0.95"/><circle cx="116.03" cy="221.27" r="0.95"/><circle cx="109.96" cy="220.92" r="0.95"/><circle cx="120.65" cy="220.59" r="0.95"/><circle cx="112.42" cy="220.58" r="0.95"/><circle cx="120.17" cy="220.57" r="0.95"/><circle cx="106.81" cy="220.59" r="0.95"/><circle cx="107.77" cy="220.29" r="0.95"/><circle cx="119.69" cy="220.48" r="0.95"/><circle cx="107.29" cy="220.52" r="0.95"/><circle cx="116.92" cy="220.21" r="0.95"/><circle cx="110.52" cy="220.4" r="0.95"/><circle cx="113.78" cy="220.01" r="0.95"/><circle cx="112.89" cy="220.14" r="0.95"/><circle cx="111.78" cy="219.8" r="0.95"/><circle cx="110.97" cy="219.68" r="0.95"/><circle cx="117.55" cy="220.21" r="0.95"/><circle cx="119.22" cy="219.91" r="0.95"/><circle cx="116.45" cy="219.68" r="0.95"/><circle cx="108.21" cy="219.39" r="0.95"/><circle cx="108.69" cy="219.38" r="0.95"/><circle cx="115.16" cy="219.12" r="0.95"/><circle cx="114.61" cy="219.3" r="0.95"/><circle cx="118.76" cy="219.39" r="0.95"/><circle cx="118.28" cy="219.33" r="0.95"/><circle cx="115.74" cy="219.52" r="0.95"/><circle cx="109.16" cy="218.93" r="0.95"/><circle cx="110.11" cy="218.84" r="0.95"/><circle cx="113.32" cy="219.09" r="0.95"/><circle cx="112.19" cy="218.65" r="0.95"/><circle cx="109.64" cy="218.88" r="0.95"/><circle cx="114.17" cy="218.51" r="0.95"/><circle cx="106.3" cy="218.27" r="0.95"/><circle cx="111.38" cy="218.56" r="0.95"/><circle cx="121.2" cy="218.28" r="0.95"/><circle cx="120.72" cy="218.25" r="0.95"/><circle cx="106.78" cy="218.23" r="0.95"/><circle cx="110.57" cy="218.22" r="0.95"/><circle cx="117.29" cy="218.36" r="0.95"/><circle cx="116.82" cy="218.04" r="0.95"/><circle cx="117.86" cy="218.23" r="0.95"/><circle cx="116.15" cy="217.99" r="0.95"/><circle cx="120.24" cy="218" r="0.95"/><circle cx="113.71" cy="217.83" r="0.95"/><circle cx="112.65" cy="217.99" r="0.95"/><circle cx="115.54" cy="217.52" r="0.95"/><circle cx="114.89" cy="217.3" r="0.95"/><circle cx="110.98" cy="217.08" r="0.95"/><circle cx="107.24" cy="217.57" r="0.95"/><circle cx="111.79" cy="217.41" r="0.95"/><circle cx="119.79" cy="217.25" r="0.95"/><circle cx="119.28" cy="217.16" r="0.95"/><circle cx="107.71" cy="217.25" r="0.95"/><circle cx="118.71" cy="217.09" r="0.95"/><circle cx="108.86" cy="217.09" r="0.95"/><circle cx="108.38" cy="217.1" r="0.95"/><circle cx="113.08" cy="217.06" r="0.95"/><circle cx="109.81" cy="216.53" r="0.95"/><circle cx="118.24" cy="216.69" r="0.95"/><circle cx="117.56" cy="216.51" r="0.95"/><circle cx="114.43" cy="216.63" r="0.95"/><circle cx="109.33" cy="216.67" r="0.95"/><circle cx="117.09" cy="216.18" r="0.95"/><circle cx="110.28" cy="216.28" r="0.95"/><circle cx="112.22" cy="216.41" r="0.95"/><circle cx="115.94" cy="216.01" r="0.95"/><circle cx="116.61" cy="216.06" r="0.95"/><circle cx="115.25" cy="215.76" r="0.95"/><circle cx="111.41" cy="216.03" r="0.95"/><circle cx="113.49" cy="215.88" r="0.95"/><circle cx="114" cy="215.6" r="0.95"/><circle cx="112.67" cy="215.62" r="0.95"/><circle cx="114.79" cy="215.13" r="0.95"/><circle cx="119.08" cy="215.14" r="0.95"/><circle cx="119.56" cy="215.32" r="0.95"/><circle cx="107.85" cy="215.15" r="0.95"/><circle cx="117.99" cy="214.82" r="0.95"/><circle cx="111.83" cy="214.99" r="0.95"/><circle cx="110.68" cy="215.01" r="0.95"/><circle cx="109.51" cy="214.55" r="0.95"/><circle cx="108.33" cy="214.89" r="0.95"/><circle cx="118.62" cy="214.64" r="0.95"/><circle cx="116.29" cy="214.44" r="0.95"/><circle cx="108.78" cy="214.18" r="0.95"/><circle cx="113.09" cy="214.56" r="0.95"/><circle cx="117.5" cy="214.29" r="0.95"/><circle cx="112.27" cy="214.16" r="0.95"/><circle cx="114.37" cy="214.09" r="0.95"/><circle cx="113.7" cy="213.9" r="0.95"/><circle cx="109.97" cy="213.99" r="0.95"/><circle cx="115.77" cy="213.96" r="0.95"/><circle cx="115.26" cy="213.56" r="0.95"/><circle cx="117.04" cy="213.67" r="0.95"/><circle cx="112.71" cy="213.21" r="0.95"/><circle cx="111.53" cy="213.26" r="0.95"/><circle cx="111.06" cy="213.67" r="0.95"/><circle cx="110.4" cy="213.04" r="0.95"/><circle cx="118.34" cy="212.86" r="0.95"/><circle cx="114.8" cy="212.88" r="0.95"/><circle cx="116.62" cy="212.61" r="0.95"/><circle cx="109.14" cy="212.72" r="0.95"/><circle cx="111.96" cy="212.33" r="0.95"/><circle cx="113.31" cy="212.61" r="0.95"/><circle cx="117.86" cy="212.7" r="0.95"/><circle cx="114.08" cy="212.33" r="0.95"/><circle cx="110.79" cy="211.75" r="0.95"/><circle cx="116.14" cy="212.34" r="0.95"/><circle cx="109.57" cy="211.76" r="0.95"/><circle cx="117.44" cy="211.63" r="0.95"/><circle cx="111.26" cy="211.37" r="0.95"/><circle cx="115.6" cy="211.89" r="0.95"/><circle cx="112.39" cy="211.35" r="0.95"/><circle cx="110.05" cy="211.44" r="0.95"/><circle cx="115.11" cy="211.16" r="0.95"/><circle cx="114.52" cy="211.1" r="0.95"/><circle cx="112.87" cy="211.14" r="0.95"/><circle cx="113.67" cy="211.18" r="0.95"/><circle cx="117.03" cy="210.44" r="0.95"/><circle cx="116.56" cy="210.11" r="0.95"/><circle cx="114.09" cy="210.1" r="0.95"/><circle cx="111.65" cy="210.1" r="0.95"/><circle cx="110.44" cy="210.16" r="0.95"/><circle cx="115.95" cy="210.33" r="0.95"/><circle cx="113.27" cy="209.95" r="0.95"/><circle cx="112.12" cy="209.5" r="0.95"/><circle cx="115.48" cy="209.76" r="0.95"/><circle cx="115.03" cy="208.99" r="0.95"/><circle cx="116.25" cy="208.44" r="0.95"/><circle cx="110.86" cy="209.12" r="0.95"/><circle cx="113.69" cy="208.87" r="0.95"/><circle cx="112.57" cy="208.79" r="0.95"/><circle cx="114.57" cy="208.41" r="0.95"/><circle cx="113.02" cy="208.01" r="0.95"/><circle cx="111.7" cy="207.63" r="0.95"/><circle cx="114.11" cy="207.8" r="0.95"/><circle cx="115.33" cy="207.25" r="0.95"/><circle cx="111.22" cy="207.66" r="0.95"/><circle cx="112.17" cy="207.13" r="0.95"/><circle cx="115.8" cy="207.65" r="0.95"/><circle cx="113.44" cy="206.93" r="0.95"/><circle cx="113.06" cy="205.52" r="0.95"/><circle cx="112.61" cy="206.25" r="0.95"/><circle cx="114.42" cy="205.89" r="0.95"/><circle cx="113.94" cy="205.75" r="0.95"/><circle cx="113.7" cy="202.74" r="0.95"/><circle cx="114.88" cy="206.51" r="0.95"/><circle cx="113.51" cy="204.76" r="0.95"/><circle cx="114.14" cy="203.65" r="0.95"/><circle cx="113.22" cy="202.74" r="0.95"/><circle cx="136.4" cy="231.95" r="0.95"/><circle cx="132.95" cy="228.89" r="0.95"/><circle cx="135.77" cy="229.4" r="0.95"/><circle cx="136.62" cy="228.11" r="0.95"/><circle cx="137.62" cy="226.93" r="0.95"/><circle cx="134.88" cy="227.5" r="0.95"/><circle cx="139.83" cy="227.85" r="0.95"/><circle cx="133.83" cy="227.71" r="0.95"/><circle cx="137.34" cy="229.72" r="0.95"/><circle cx="135.84" cy="226.64" r="0.95"/><circle cx="138.62" cy="227.56" r="0.95"/><circle cx="136.77" cy="225.62" r="0.95"/><circle cx="134.41" cy="224.61" r="0.95"/><circle cx="138.25" cy="224.82" r="0.95"/><circle cx="139.5" cy="225.77" r="0.95"/><circle cx="133.37" cy="224.93" r="0.95"/><circle cx="135.46" cy="224.55" r="0.95"/><circle cx="137.44" cy="223.42" r="0.95"/><circle cx="139.2" cy="223.66" r="0.95"/><circle cx="141.97" cy="223.87" r="0.95"/><circle cx="140.97" cy="223.23" r="0.95"/><circle cx="131.71" cy="223.52" r="0.95"/><circle cx="134.76" cy="222.14" r="0.95"/><circle cx="133.71" cy="222.25" r="0.95"/><circle cx="132.69" cy="222.75" r="0.95"/><circle cx="140.02" cy="222.26" r="0.95"/><circle cx="136.92" cy="221.51" r="0.95"/><circle cx="142.87" cy="220.39" r="0.95"/><circle cx="138.41" cy="222.22" r="0.95"/><circle cx="135.79" cy="221.77" r="0.95"/><circle cx="130.18" cy="220.38" r="0.95"/><circle cx="139.26" cy="220.77" r="0.95"/><circle cx="129.14" cy="220.47" r="0.95"/><circle cx="143.9" cy="220.77" r="0.95"/><circle cx="132.26" cy="219.83" r="0.95"/><circle cx="140.79" cy="219.85" r="0.95"/><circle cx="141.83" cy="220.08" r="0.95"/><circle cx="137.37" cy="218.44" r="0.95"/><circle cx="134.59" cy="219.65" r="0.95"/><circle cx="138.02" cy="220.18" r="0.95"/><circle cx="139.88" cy="218.76" r="0.95"/><circle cx="136.26" cy="219.8" r="0.95"/><circle cx="138.83" cy="218.76" r="0.95"/><circle cx="133.31" cy="219.7" r="0.95"/><circle cx="133.76" cy="217.71" r="0.95"/><circle cx="136.4" cy="217.62" r="0.95"/><circle cx="135.4" cy="218.26" r="0.95"/><circle cx="135.63" cy="215.92" r="0.95"/><circle cx="138.34" cy="216.8" r="0.95"/><circle cx="141.43" cy="215.48" r="0.95"/><circle cx="136.54" cy="214.79" r="0.95"/><circle cx="137.55" cy="215.38" r="0.95"/><circle cx="131.36" cy="215.41" r="0.95"/><circle cx="132.4" cy="215.08" r="0.95"/><circle cx="138.39" cy="213.8" r="0.95"/><circle cx="133.39" cy="214.35" r="0.95"/><circle cx="137.44" cy="212.87" r="0.95"/><circle cx="135.43" cy="213.47" r="0.95"/><circle cx="139.41" cy="214.34" r="0.95"/><circle cx="134.39" cy="213.7" r="0.95"/><circle cx="135.39" cy="210.78" r="0.95"/><circle cx="136.4" cy="210.21" r="0.95"/><circle cx="136.4" cy="212.61" r="0.95"/><circle cx="136.4" cy="239.01" r="0.95"/><circle cx="156.66" cy="216.94" r="0.95"/><circle cx="161.41" cy="217.19" r="0.95"/><circle cx="158.91" cy="217.7" r="0.95"/><circle cx="157.46" cy="216.35" r="0.95"/><circle cx="159.81" cy="216.29" r="0.95"/><circle cx="160.64" cy="216.38" r="0.95"/><circle cx="155.84" cy="217.27" r="0.95"/><circle cx="157.76" cy="214.08" r="0.95"/><circle cx="159.05" cy="215.42" r="0.95"/><circle cx="158.58" cy="213.62" r="0.95"/><circle cx="162.38" cy="213.8" r="0.95"/><circle cx="155.42" cy="213.28" r="0.95"/><circle cx="160.02" cy="214" r="0.95"/><circle cx="154.7" cy="214.36" r="0.95"/><circle cx="156.46" cy="213.2" r="0.95"/><circle cx="161.58" cy="213.25" r="0.95"/><circle cx="159.34" cy="212.74" r="0.95"/><circle cx="160.77" cy="212.8" r="0.95"/><circle cx="157.22" cy="212.37" r="0.95"/><circle cx="158.03" cy="211.89" r="0.95"/><circle cx="160.13" cy="211.39" r="0.95"/><circle cx="155.9" cy="211.47" r="0.95"/><circle cx="153.53" cy="209.58" r="0.95"/><circle cx="158.8" cy="211.07" r="0.95"/><circle cx="161.02" cy="210.3" r="0.95"/><circle cx="162.41" cy="210.32" r="0.95"/><circle cx="164.42" cy="210.38" r="0.95"/><circle cx="157.42" cy="210.17" r="0.95"/><circle cx="154.36" cy="209.53" r="0.95"/><circle cx="156.59" cy="210.25" r="0.95"/><circle cx="159.71" cy="209.5" r="0.95"/><circle cx="155.18" cy="209.47" r="0.95"/><circle cx="163.77" cy="209.01" r="0.95"/><circle cx="158.18" cy="209.33" r="0.95"/><circle cx="161.74" cy="208.99" r="0.95"/><circle cx="163.02" cy="208.05" r="0.95"/><circle cx="158.96" cy="208.55" r="0.95"/><circle cx="155.9" cy="208.37" r="0.95"/><circle cx="160.48" cy="208.63" r="0.95"/><circle cx="157.55" cy="207.91" r="0.95"/><circle cx="165.07" cy="208.08" r="0.95"/><circle cx="161.22" cy="207.3" r="0.95"/><circle cx="156.72" cy="207.96" r="0.95"/><circle cx="152.99" cy="207.52" r="0.95"/><circle cx="153.82" cy="207.41" r="0.95"/><circle cx="158.32" cy="207.14" r="0.95"/><circle cx="159.84" cy="207.23" r="0.95"/><circle cx="154.65" cy="207.32" r="0.95"/><circle cx="162.33" cy="206.82" r="0.95"/><circle cx="163.73" cy="206.32" r="0.95"/><circle cx="157.04" cy="205.78" r="0.95"/><circle cx="164.55" cy="206.35" r="0.95"/><circle cx="153.97" cy="205.01" r="0.95"/><circle cx="157.85" cy="205.29" r="0.95"/><circle cx="161.7" cy="205.38" r="0.95"/><circle cx="153.15" cy="205.25" r="0.95"/><circle cx="156.22" cy="205.95" r="0.95"/><circle cx="166.3" cy="205.53" r="0.95"/><circle cx="160.74" cy="205.5" r="0.95"/><circle cx="154.8" cy="204.92" r="0.95"/><circle cx="155.59" cy="204.25" r="0.95"/><circle cx="159.94" cy="204.86" r="0.95"/><circle cx="163.08" cy="204.93" r="0.95"/><circle cx="158.62" cy="204.48" r="0.95"/><circle cx="163.98" cy="203.83" r="0.95"/><circle cx="162.37" cy="203.82" r="0.95"/><circle cx="164.86" cy="203.93" r="0.95"/><circle cx="151.89" cy="204.08" r="0.95"/><circle cx="165.69" cy="204.04" r="0.95"/><circle cx="156.48" cy="203.75" r="0.95"/><circle cx="161.22" cy="203.6" r="0.95"/><circle cx="157.31" cy="203.59" r="0.95"/><circle cx="153.42" cy="202.92" r="0.95"/><circle cx="152.59" cy="202.93" r="0.95"/><circle cx="159.34" cy="203.36" r="0.95"/><circle cx="163.3" cy="202.55" r="0.95"/><circle cx="154.25" cy="202.86" r="0.95"/><circle cx="155.89" cy="202.2" r="0.95"/><circle cx="158.07" cy="202.72" r="0.95"/><circle cx="155.07" cy="202.51" r="0.95"/><circle cx="161.85" cy="202.1" r="0.95"/><circle cx="158.8" cy="201.68" r="0.95"/><circle cx="160.22" cy="202.42" r="0.95"/><circle cx="164.51" cy="201.94" r="0.95"/><circle cx="156.65" cy="201.32" r="0.95"/><circle cx="161.06" cy="201.44" r="0.95"/><circle cx="159.63" cy="200.87" r="0.95"/><circle cx="154.63" cy="200.39" r="0.95"/><circle cx="153.8" cy="200.47" r="0.95"/><circle cx="157.47" cy="200.98" r="0.95"/><circle cx="163.89" cy="200.48" r="0.95"/><circle cx="162.98" cy="200.52" r="0.95"/><circle cx="160.42" cy="200.04" r="0.95"/><circle cx="162.18" cy="199.92" r="0.95"/><circle cx="155.46" cy="200.3" r="0.95"/><circle cx="158.15" cy="199.74" r="0.95"/><circle cx="161.45" cy="198.88" r="0.95"/><circle cx="159.86" cy="198.41" r="0.95"/><circle cx="156.16" cy="199.14" r="0.95"/><circle cx="163.42" cy="198.66" r="0.95"/><circle cx="156.97" cy="198.64" r="0.95"/><circle cx="161.97" cy="196.86" r="0.95"/><circle cx="160.72" cy="197.84" r="0.95"/><circle cx="154.8" cy="197.61" r="0.95"/><circle cx="162.78" cy="197.27" r="0.95"/><circle cx="155.61" cy="197.08" r="0.95"/><circle cx="157.72" cy="197.73" r="0.95"/><circle cx="160.38" cy="195.83" r="0.95"/><circle cx="159.56" cy="196.35" r="0.95"/><circle cx="158.56" cy="197.61" r="0.95"/><circle cx="156.32" cy="195.97" r="0.95"/><circle cx="161.21" cy="195.94" r="0.95"/><circle cx="158.8" cy="195.5" r="0.95"/><circle cx="157.15" cy="195.93" r="0.95"/><circle cx="157.97" cy="195.63" r="0.95"/><circle cx="159.22" cy="193.1" r="0.95"/><circle cx="160" cy="193.88" r="0.95"/><circle cx="157.62" cy="193.53" r="0.95"/><circle cx="158.4" cy="192.78" r="0.95"/><circle cx="158.8" cy="190.85" r="0.95"/><circle cx="158.8" cy="185.92" r="0.95"/><circle cx="158.8" cy="223.19" r="0.95"/></g>
<g class="rd"><circle cx="93.74" cy="222.37" r="0.95"/><circle cx="89.41" cy="222.01" r="0.95"/><circle cx="90.71" cy="221.26" r="0.95"/><circle cx="92.39" cy="221.91" r="0.95"/><circle cx="88.13" cy="219.92" r="0.95"/><circle cx="89.37" cy="218.95" r="0.95"/><circle cx="90.73" cy="218.54" r="0.95"/><circle cx="85.29" cy="217.64" r="0.95"/><circle cx="95.88" cy="216.71" r="0.95"/><circle cx="83.91" cy="217.82" r="0.95"/><circle cx="91.82" cy="217.19" r="0.95"/><circle cx="94.5" cy="216.55" r="0.95"/><circle cx="90.64" cy="216.04" r="0.95"/><circle cx="98.48" cy="214.35" r="0.95"/><circle cx="84.88" cy="214.01" r="0.95"/><circle cx="94" cy="212.89" r="0.95"/><circle cx="92.33" cy="214.5" r="0.95"/><circle cx="83.5" cy="214.2" r="0.95"/><circle cx="91" cy="213.92" r="0.95"/><circle cx="88.9" cy="213.2" r="0.95"/><circle cx="87.45" cy="212.53" r="0.95"/><circle cx="86.1" cy="212.97" r="0.95"/><circle cx="95.34" cy="213.42" r="0.95"/><circle cx="84.25" cy="211.31" r="0.95"/><circle cx="92.66" cy="212.34" r="0.95"/><circle cx="88.49" cy="211.08" r="0.95"/><circle cx="96.28" cy="211.75" r="0.95"/><circle cx="94.94" cy="211.21" r="0.95"/><circle cx="91.4" cy="211.41" r="0.95"/><circle cx="87.17" cy="210.33" r="0.95"/><circle cx="89.68" cy="209.96" r="0.95"/><circle cx="93.7" cy="210.22" r="0.95"/><circle cx="92.36" cy="209.74" r="0.95"/><circle cx="91" cy="209.3" r="0.95"/><circle cx="97.21" cy="209.5" r="0.95"/><circle cx="95.83" cy="209.48" r="0.95"/><circle cx="94.64" cy="208.35" r="0.95"/><circle cx="86.01" cy="208.62" r="0.95"/><circle cx="89.31" cy="207.8" r="0.95"/><circle cx="90.6" cy="206.97" r="0.95"/><circle cx="86.97" cy="207.05" r="0.95"/><circle cx="84.37" cy="205.16" r="0.95"/><circle cx="89.47" cy="205.27" r="0.95"/><circle cx="93.66" cy="205.85" r="0.95"/><circle cx="91" cy="204.87" r="0.95"/><circle cx="97.76" cy="204.14" r="0.95"/><circle cx="95.01" cy="203.69" r="0.95"/><circle cx="93.64" cy="203.32" r="0.95"/><circle cx="91" cy="202.41" r="0.95"/><circle cx="92.38" cy="202.41" r="0.95"/><circle cx="96.76" cy="200.97" r="0.95"/><circle cx="85.19" cy="201.03" r="0.95"/><circle cx="91" cy="199.19" r="0.95"/><circle cx="92.38" cy="199.41" r="0.95"/><circle cx="87.71" cy="199.23" r="0.95"/><circle cx="91" cy="196.05" r="0.95"/><circle cx="90.25" cy="189.53" r="0.95"/><circle cx="91" cy="231.71" r="0.95"/><circle cx="114.11" cy="224.02" r="0.95"/><circle cx="132.48" cy="226.08" r="0.95"/><circle cx="136.39" cy="223.57" r="0.95"/><circle cx="131.22" cy="220.07" r="0.95"/><circle cx="134.62" cy="216.44" r="0.95"/><circle cx="140.41" cy="215.01" r="0.95"/><circle cx="158.29" cy="216.26" r="0.95"/><circle cx="159.09" cy="206.3" r="0.95"/><circle cx="155.41" cy="206.43" r="0.95"/><circle cx="152.97" cy="200.48" r="0.95"/><circle cx="158.98" cy="199.51" r="0.95"/></g>
<line x1="83.5" y1="211.35" x2="98.5" y2="211.35" stroke="#5a0c0c" stroke-width="1.4"/>
<line x1="106.2" y1="219.5" x2="121.2" y2="219.5" stroke="#111" stroke-width="1.4"/>
<line x1="128.9" y1="221.9" x2="143.9" y2="221.9" stroke="#111" stroke-width="1.4"/>
<line x1="151.3" y1="204.32" x2="166.3" y2="204.32" stroke="#111" stroke-width="1.4"/>
<path d="M91.2 182V173.6H111.8V198.6" class="br"/>
<path d="M116.2 198.6V173.6H136.4V204.8" class="br"/>
<path d="M113.8 160.5V154H159V180.5" class="br"/>
<circle cx="94.3" cy="168" r="1.35" class="st"/><circle cx="99.1" cy="168" r="1.35" class="st"/><circle cx="103.9" cy="168" r="1.35" class="st"/><circle cx="108.7" cy="168" r="1.35" class="st"/>
<text x="126.3" y="169" class="ns">ns</text>
<circle cx="129.2" cy="148.4" r="1.35" class="st"/><circle cx="134" cy="148.4" r="1.35" class="st"/><circle cx="138.8" cy="148.4" r="1.35" class="st"/><circle cx="143.6" cy="148.4" r="1.35" class="st"/>
<text x="91.3" y="252" class="xl">CMS1</text>
<text x="114" y="252" class="xl">CMS2</text>
<text x="136.7" y="252" class="xl">CMS3</text>
<text x="159.1" y="252" class="xl">CMS4</text>
<line x1="201" y1="213.4" x2="298" y2="213.4" stroke="#444" stroke-width="1.1" stroke-dasharray="1.5 1.25"/>
<line x1="200" y1="145" x2="200" y2="242.7" stroke="#7a7a7a" stroke-width="1.4"/>
<line x1="199.4" y1="242.7" x2="298" y2="242.7" stroke="#1a1a1a" stroke-width="1.2"/>
<line x1="200" y1="154" x2="201.5" y2="154" stroke="#222" stroke-width="0.9"/>
<text x="198.4" y="155.5" class="tk">6</text>
<line x1="200" y1="173.8" x2="201.5" y2="173.8" stroke="#222" stroke-width="0.9"/>
<text x="198.4" y="175.3" class="tk">4</text>
<line x1="200" y1="193.6" x2="201.5" y2="193.6" stroke="#222" stroke-width="0.9"/>
<text x="198.4" y="195.1" class="tk">2</text>
<line x1="200" y1="213.4" x2="201.5" y2="213.4" stroke="#222" stroke-width="0.9"/>
<text x="198.4" y="214.9" class="tk">0</text>
<line x1="200" y1="233.2" x2="201.5" y2="233.2" stroke="#222" stroke-width="0.9"/>
<text x="198.4" y="234.7" class="tk">-2</text>
<g class="g"><circle cx="214.4" cy="222.7" r="0.95"/><circle cx="215.57" cy="221.11" r="0.95"/><circle cx="208.13" cy="218.75" r="0.95"/><circle cx="215.6" cy="215.32" r="0.95"/><circle cx="214.4" cy="217.34" r="0.95"/><circle cx="212.8" cy="217.39" r="0.95"/><circle cx="208.64" cy="216.03" r="0.95"/><circle cx="219.29" cy="215.19" r="0.95"/><circle cx="213.62" cy="214.6" r="0.95"/><circle cx="209.17" cy="213.96" r="0.95"/><circle cx="214.93" cy="213.33" r="0.95"/><circle cx="210.49" cy="212.71" r="0.95"/><circle cx="221.13" cy="214.05" r="0.95"/><circle cx="219.83" cy="212.77" r="0.95"/><circle cx="215.49" cy="210.86" r="0.95"/><circle cx="217.07" cy="211.21" r="0.95"/><circle cx="208.11" cy="209.4" r="0.95"/><circle cx="209.64" cy="208.76" r="0.95"/><circle cx="215.25" cy="208.44" r="0.95"/><circle cx="211" cy="207.61" r="0.95"/><circle cx="215.83" cy="204.06" r="0.95"/><circle cx="211.04" cy="204.31" r="0.95"/><circle cx="221.9" cy="203.17" r="0.95"/><circle cx="214.4" cy="203.09" r="0.95"/><circle cx="209.39" cy="201.75" r="0.95"/><circle cx="215.88" cy="198.25" r="0.95"/><circle cx="220.22" cy="197.71" r="0.95"/><circle cx="214.4" cy="197.42" r="0.95"/><circle cx="210.11" cy="197.52" r="0.95"/><circle cx="212.8" cy="195.22" r="0.95"/><circle cx="218.74" cy="196.88" r="0.95"/><circle cx="211.48" cy="193.6" r="0.95"/><circle cx="215.99" cy="195.33" r="0.95"/><circle cx="235.71" cy="232.55" r="0.95"/><circle cx="237.46" cy="233.7" r="0.95"/><circle cx="236.96" cy="232.8" r="0.95"/><circle cx="236.15" cy="231.23" r="0.95"/><circle cx="237.35" cy="231.26" r="0.95"/><circle cx="238.09" cy="231" r="0.95"/><circle cx="236.67" cy="230.64" r="0.95"/><circle cx="238.62" cy="231.32" r="0.95"/><circle cx="235.1" cy="230.06" r="0.95"/><circle cx="236.23" cy="228.61" r="0.95"/><circle cx="237.1" cy="229.31" r="0.95"/><circle cx="237.69" cy="229.48" r="0.95"/><circle cx="235.74" cy="229.54" r="0.95"/><circle cx="240.33" cy="228.48" r="0.95"/><circle cx="238.71" cy="228.87" r="0.95"/><circle cx="235.3" cy="228.02" r="0.95"/><circle cx="238.21" cy="228.02" r="0.95"/><circle cx="233.05" cy="227.27" r="0.95"/><circle cx="236.69" cy="227.46" r="0.95"/><circle cx="233.79" cy="227.6" r="0.95"/><circle cx="239.84" cy="227.56" r="0.95"/><circle cx="237.51" cy="227.41" r="0.95"/><circle cx="235.8" cy="227.15" r="0.95"/><circle cx="234.5" cy="227.2" r="0.95"/><circle cx="239.28" cy="227.17" r="0.95"/><circle cx="240.76" cy="226.46" r="0.95"/><circle cx="238.76" cy="226.44" r="0.95"/><circle cx="234.97" cy="226.12" r="0.95"/><circle cx="236.26" cy="226.02" r="0.95"/><circle cx="237.1" cy="225.99" r="0.95"/><circle cx="239.73" cy="225.41" r="0.95"/><circle cx="237.95" cy="226.1" r="0.95"/><circle cx="239.21" cy="224.75" r="0.95"/><circle cx="233.94" cy="225.49" r="0.95"/><circle cx="233.4" cy="225.59" r="0.95"/><circle cx="240.27" cy="225.51" r="0.95"/><circle cx="234.46" cy="224.81" r="0.95"/><circle cx="235.46" cy="225.2" r="0.95"/><circle cx="237.53" cy="224.68" r="0.95"/><circle cx="238.49" cy="224.54" r="0.95"/><circle cx="236.57" cy="224.22" r="0.95"/><circle cx="240.66" cy="223.41" r="0.95"/><circle cx="241.19" cy="223.97" r="0.95"/><circle cx="234.9" cy="223.52" r="0.95"/><circle cx="242.26" cy="223.45" r="0.95"/><circle cx="235.9" cy="223.89" r="0.95"/><circle cx="231.62" cy="223.88" r="0.95"/><circle cx="232.13" cy="223.19" r="0.95"/><circle cx="238.01" cy="223.49" r="0.95"/><circle cx="238.91" cy="222.92" r="0.95"/><circle cx="234.03" cy="222.73" r="0.95"/><circle cx="237.08" cy="223.45" r="0.95"/><circle cx="235.42" cy="222.87" r="0.95"/><circle cx="233.49" cy="223.08" r="0.95"/><circle cx="239.63" cy="222.02" r="0.95"/><circle cx="240.15" cy="222.68" r="0.95"/><circle cx="237.55" cy="222.34" r="0.95"/><circle cx="241.78" cy="222.41" r="0.95"/><circle cx="238.41" cy="221.99" r="0.95"/><circle cx="232.64" cy="222.34" r="0.95"/><circle cx="236.27" cy="222.27" r="0.95"/><circle cx="241.26" cy="221.77" r="0.95"/><circle cx="234.53" cy="221.85" r="0.95"/><circle cx="236.8" cy="221.51" r="0.95"/><circle cx="235.05" cy="221.26" r="0.95"/><circle cx="240.74" cy="221.17" r="0.95"/><circle cx="233.12" cy="221.31" r="0.95"/><circle cx="235.68" cy="220.95" r="0.95"/><circle cx="237.95" cy="220.83" r="0.95"/><circle cx="239.17" cy="220.85" r="0.95"/><circle cx="233.65" cy="220.85" r="0.95"/><circle cx="240.24" cy="220.31" r="0.95"/><circle cx="237.28" cy="220.44" r="0.95"/><circle cx="231.66" cy="220.5" r="0.95"/><circle cx="243.36" cy="220.86" r="0.95"/><circle cx="236.33" cy="220.08" r="0.95"/><circle cx="232.19" cy="219.97" r="0.95"/><circle cx="234.17" cy="220.2" r="0.95"/><circle cx="230.98" cy="220.26" r="0.95"/><circle cx="238.58" cy="219.83" r="0.95"/><circle cx="239.66" cy="219.79" r="0.95"/><circle cx="242.85" cy="220.05" r="0.95"/><circle cx="241.64" cy="219.65" r="0.95"/><circle cx="234.68" cy="219.55" r="0.95"/><circle cx="236.83" cy="219.21" r="0.95"/><circle cx="241.1" cy="219.38" r="0.95"/><circle cx="232.71" cy="219.39" r="0.95"/><circle cx="235.27" cy="219.24" r="0.95"/><circle cx="233.25" cy="218.97" r="0.95"/><circle cx="240.59" cy="218.62" r="0.95"/><circle cx="237.68" cy="218.92" r="0.95"/><circle cx="235.87" cy="218.89" r="0.95"/><circle cx="239.05" cy="218.71" r="0.95"/><circle cx="231.35" cy="218.65" r="0.95"/><circle cx="238.2" cy="218.23" r="0.95"/><circle cx="231.87" cy="217.93" r="0.95"/><circle cx="240.06" cy="218.24" r="0.95"/><circle cx="237.23" cy="217.73" r="0.95"/><circle cx="234.29" cy="217.83" r="0.95"/><circle cx="233.78" cy="218.55" r="0.95"/><circle cx="236.34" cy="217.76" r="0.95"/><circle cx="242.14" cy="217.68" r="0.95"/><circle cx="242.67" cy="217.97" r="0.95"/><circle cx="239.53" cy="217.65" r="0.95"/><circle cx="234.91" cy="217.55" r="0.95"/><circle cx="232.39" cy="217.34" r="0.95"/><circle cx="235.47" cy="217.19" r="0.95"/><circle cx="244.6" cy="216.86" r="0.95"/><circle cx="241.61" cy="217.16" r="0.95"/><circle cx="237.81" cy="216.74" r="0.95"/><circle cx="238.71" cy="216.97" r="0.95"/><circle cx="232.93" cy="217.16" r="0.95"/><circle cx="233.46" cy="216.67" r="0.95"/><circle cx="229.93" cy="216.7" r="0.95"/><circle cx="244.06" cy="216.6" r="0.95"/><circle cx="241.07" cy="216.82" r="0.95"/><circle cx="230.46" cy="216.26" r="0.95"/><circle cx="236.78" cy="216.48" r="0.95"/><circle cx="235.95" cy="216.2" r="0.95"/><circle cx="243.52" cy="216.24" r="0.95"/><circle cx="233.98" cy="215.98" r="0.95"/><circle cx="240.54" cy="216.34" r="0.95"/><circle cx="240.01" cy="215.97" r="0.95"/><circle cx="243" cy="215.72" r="0.95"/><circle cx="239.29" cy="215.69" r="0.95"/><circle cx="234.55" cy="215.88" r="0.95"/><circle cx="230.99" cy="215.81" r="0.95"/><circle cx="237.35" cy="215.56" r="0.95"/><circle cx="235.11" cy="215.5" r="0.95"/><circle cx="242.46" cy="215.45" r="0.95"/><circle cx="238.28" cy="215.64" r="0.95"/><circle cx="232.07" cy="215.37" r="0.95"/><circle cx="231.53" cy="215.57" r="0.95"/><circle cx="232.61" cy="215.12" r="0.95"/><circle cx="241.92" cy="215.13" r="0.95"/><circle cx="233.15" cy="214.79" r="0.95"/><circle cx="236.36" cy="214.76" r="0.95"/><circle cx="238.79" cy="214.78" r="0.95"/><circle cx="235.58" cy="214.43" r="0.95"/><circle cx="241.38" cy="214.89" r="0.95"/><circle cx="237.83" cy="214.42" r="0.95"/><circle cx="240.85" cy="214.48" r="0.95"/><circle cx="236.9" cy="214.33" r="0.95"/><circle cx="233.66" cy="214.04" r="0.95"/><circle cx="240.32" cy="214.01" r="0.95"/><circle cx="234.2" cy="213.98" r="0.95"/><circle cx="239.25" cy="213.47" r="0.95"/><circle cx="239.77" cy="213.98" r="0.95"/><circle cx="234.75" cy="213.84" r="0.95"/><circle cx="230.77" cy="213.36" r="0.95"/><circle cx="243.46" cy="213.36" r="0.95"/><circle cx="244" cy="213.52" r="0.95"/><circle cx="237.37" cy="213.24" r="0.95"/><circle cx="242.91" cy="213.31" r="0.95"/><circle cx="230.22" cy="213.43" r="0.95"/><circle cx="242.37" cy="213.08" r="0.95"/><circle cx="241.83" cy="212.93" r="0.95"/><circle cx="232.24" cy="213.06" r="0.95"/><circle cx="232.78" cy="212.71" r="0.95"/><circle cx="235.99" cy="212.98" r="0.95"/><circle cx="235.16" cy="212.4" r="0.95"/><circle cx="236.52" cy="212.53" r="0.95"/><circle cx="241.29" cy="212.71" r="0.95"/><circle cx="238.51" cy="212.9" r="0.95"/><circle cx="231.31" cy="213.28" r="0.95"/><circle cx="240.78" cy="212.01" r="0.95"/><circle cx="233.83" cy="211.85" r="0.95"/><circle cx="238" cy="212.18" r="0.95"/><circle cx="233.29" cy="212.02" r="0.95"/><circle cx="231.76" cy="212.04" r="0.95"/><circle cx="239.04" cy="211.44" r="0.95"/><circle cx="240.12" cy="211.82" r="0.95"/><circle cx="239.58" cy="211.64" r="0.95"/><circle cx="234.38" cy="211.78" r="0.95"/><circle cx="237.01" cy="211.58" r="0.95"/><circle cx="237.54" cy="211.03" r="0.95"/><circle cx="236.15" cy="210.87" r="0.95"/><circle cx="235.62" cy="211.24" r="0.95"/><circle cx="241.88" cy="210.65" r="0.95"/><circle cx="232.73" cy="210.42" r="0.95"/><circle cx="234.8" cy="210.41" r="0.95"/><circle cx="238.54" cy="210.61" r="0.95"/><circle cx="232.19" cy="210.71" r="0.95"/><circle cx="242.42" cy="210.88" r="0.95"/><circle cx="236.64" cy="209.85" r="0.95"/><circle cx="241.35" cy="210.31" r="0.95"/><circle cx="240.58" cy="209.95" r="0.95"/><circle cx="233.23" cy="209.61" r="0.95"/><circle cx="238.03" cy="209.88" r="0.95"/><circle cx="240.05" cy="209.59" r="0.95"/><circle cx="234.11" cy="209.72" r="0.95"/><circle cx="235.27" cy="209.27" r="0.95"/><circle cx="238.97" cy="209.12" r="0.95"/><circle cx="235.81" cy="208.99" r="0.95"/><circle cx="237.25" cy="209.17" r="0.95"/><circle cx="234.55" cy="208.45" r="0.95"/><circle cx="237.82" cy="207.85" r="0.95"/><circle cx="233.66" cy="208.26" r="0.95"/><circle cx="239.51" cy="209.3" r="0.95"/><circle cx="241.04" cy="208.48" r="0.95"/><circle cx="236.28" cy="207.93" r="0.95"/><circle cx="236.82" cy="207.79" r="0.95"/><circle cx="235.01" cy="207.31" r="0.95"/><circle cx="240.05" cy="206.8" r="0.95"/><circle cx="238.47" cy="208.26" r="0.95"/><circle cx="234.12" cy="207.06" r="0.95"/><circle cx="239.4" cy="207" r="0.95"/><circle cx="240.58" cy="207.36" r="0.95"/><circle cx="235.54" cy="206.79" r="0.95"/><circle cx="238.34" cy="206.12" r="0.95"/><circle cx="237.32" cy="206.95" r="0.95"/><circle cx="236.57" cy="205.41" r="0.95"/><circle cx="239.72" cy="205.07" r="0.95"/><circle cx="238.88" cy="206.32" r="0.95"/><circle cx="236.04" cy="205.95" r="0.95"/><circle cx="237.82" cy="205.56" r="0.95"/><circle cx="234.48" cy="205.43" r="0.95"/><circle cx="235.01" cy="205.05" r="0.95"/><circle cx="237.1" cy="204.95" r="0.95"/><circle cx="236.04" cy="203.68" r="0.95"/><circle cx="239.21" cy="204.26" r="0.95"/><circle cx="235.52" cy="204.2" r="0.95"/><circle cx="238.68" cy="203.86" r="0.95"/><circle cx="237.6" cy="203.55" r="0.95"/><circle cx="238.14" cy="203.6" r="0.95"/><circle cx="238.08" cy="201.37" r="0.95"/><circle cx="237.1" cy="202.65" r="0.95"/><circle cx="236.58" cy="200.61" r="0.95"/><circle cx="236.57" cy="203.13" r="0.95"/><circle cx="237.54" cy="201.31" r="0.95"/><circle cx="237.1" cy="200.01" r="0.95"/><circle cx="258.86" cy="239.08" r="0.95"/><circle cx="260.74" cy="239.08" r="0.95"/><circle cx="257.17" cy="239.08" r="0.95"/><circle cx="258.58" cy="235.68" r="0.95"/><circle cx="259.8" cy="237.24" r="0.95"/><circle cx="262.36" cy="235.97" r="0.95"/><circle cx="256.92" cy="236.17" r="0.95"/><circle cx="256.26" cy="233.06" r="0.95"/><circle cx="257.92" cy="232.6" r="0.95"/><circle cx="262.34" cy="232.76" r="0.95"/><circle cx="259.53" cy="233.86" r="0.95"/><circle cx="264.33" cy="231.9" r="0.95"/><circle cx="260.69" cy="232.25" r="0.95"/><circle cx="262.94" cy="230.65" r="0.95"/><circle cx="259.21" cy="231.17" r="0.95"/><circle cx="261.28" cy="230.18" r="0.95"/><circle cx="256.68" cy="230.39" r="0.95"/><circle cx="258.11" cy="229.2" r="0.95"/><circle cx="259.8" cy="229.11" r="0.95"/><circle cx="254.4" cy="226.94" r="0.95"/><circle cx="265.66" cy="226.97" r="0.95"/><circle cx="252.71" cy="227.15" r="0.95"/><circle cx="267.3" cy="227.51" r="0.95"/><circle cx="255.97" cy="226.13" r="0.95"/><circle cx="261.77" cy="226.62" r="0.95"/><circle cx="264.09" cy="226.14" r="0.95"/><circle cx="257.66" cy="225.97" r="0.95"/><circle cx="259.57" cy="225.7" r="0.95"/><circle cx="261.05" cy="224.63" r="0.95"/><circle cx="258.2" cy="223.88" r="0.95"/><circle cx="262.74" cy="224.8" r="0.95"/><circle cx="264.58" cy="222.2" r="0.95"/><circle cx="261.23" cy="221.65" r="0.95"/><circle cx="266.08" cy="223.23" r="0.95"/><circle cx="253.35" cy="222.52" r="0.95"/><circle cx="258.37" cy="221.64" r="0.95"/><circle cx="262.93" cy="221.72" r="0.95"/><circle cx="259.8" cy="220.47" r="0.95"/><circle cx="256.68" cy="221.89" r="0.95"/><circle cx="263.54" cy="218.96" r="0.95"/><circle cx="261.89" cy="218.43" r="0.95"/><circle cx="259.8" cy="217.81" r="0.95"/><circle cx="256.78" cy="217.32" r="0.95"/><circle cx="258.26" cy="218.74" r="0.95"/><circle cx="255.08" cy="217.37" r="0.95"/><circle cx="265.23" cy="219.04" r="0.95"/><circle cx="262.99" cy="216.55" r="0.95"/><circle cx="258.25" cy="216.23" r="0.95"/><circle cx="256.3" cy="213.9" r="0.95"/><circle cx="259.8" cy="215.34" r="0.95"/><circle cx="262.12" cy="213.73" r="0.95"/><circle cx="260.64" cy="212.66" r="0.95"/><circle cx="257.8" cy="212.9" r="0.95"/><circle cx="262.08" cy="209.2" r="0.95"/><circle cx="263.81" cy="213.92" r="0.95"/><circle cx="259.16" cy="211.58" r="0.95"/><circle cx="263.55" cy="210.31" r="0.95"/><circle cx="259.31" cy="208.29" r="0.95"/><circle cx="260.36" cy="210.02" r="0.95"/><circle cx="256.05" cy="209.44" r="0.95"/><circle cx="257.64" cy="208.69" r="0.95"/><circle cx="260.92" cy="207.6" r="0.95"/><circle cx="259.8" cy="205.95" r="0.95"/><circle cx="258.1" cy="206.01" r="0.95"/><circle cx="281.53" cy="214.08" r="0.95"/><circle cx="282.76" cy="211.69" r="0.95"/><circle cx="282.87" cy="214.08" r="0.95"/><circle cx="282.2" cy="213.49" r="0.95"/><circle cx="283.48" cy="211.76" r="0.95"/><circle cx="280.84" cy="214.08" r="0.95"/><circle cx="281.58" cy="211.02" r="0.95"/><circle cx="280.64" cy="210.8" r="0.95"/><circle cx="282.31" cy="210.01" r="0.95"/><circle cx="286.01" cy="209.07" r="0.95"/><circle cx="286.66" cy="209.85" r="0.95"/><circle cx="283.26" cy="209.68" r="0.95"/><circle cx="278.24" cy="209.28" r="0.95"/><circle cx="279.96" cy="209.01" r="0.95"/><circle cx="284.24" cy="208.97" r="0.95"/><circle cx="281.02" cy="208.96" r="0.95"/><circle cx="285.32" cy="209.06" r="0.95"/><circle cx="282.76" cy="208.15" r="0.95"/><circle cx="281.72" cy="208.86" r="0.95"/><circle cx="278.86" cy="208.29" r="0.95"/><circle cx="288.23" cy="207.57" r="0.95"/><circle cx="276.21" cy="207.41" r="0.95"/><circle cx="282.15" cy="207.14" r="0.95"/><circle cx="279.48" cy="207.32" r="0.95"/><circle cx="285" cy="207.11" r="0.95"/><circle cx="283.65" cy="207.81" r="0.95"/><circle cx="284.31" cy="206.77" r="0.95"/><circle cx="281.09" cy="206.73" r="0.95"/><circle cx="280.16" cy="206.91" r="0.95"/><circle cx="287.65" cy="206.37" r="0.95"/><circle cx="276.82" cy="206.35" r="0.95"/><circle cx="277.51" cy="206.09" r="0.95"/><circle cx="278.2" cy="205.85" r="0.95"/><circle cx="283.18" cy="206.18" r="0.95"/><circle cx="286.27" cy="206.01" r="0.95"/><circle cx="278.89" cy="205.79" r="0.95"/><circle cx="285.57" cy="205.8" r="0.95"/><circle cx="281.67" cy="205.5" r="0.95"/><circle cx="282.54" cy="205.33" r="0.95"/><circle cx="274.7" cy="205.06" r="0.95"/><circle cx="279.55" cy="205.1" r="0.95"/><circle cx="284.94" cy="204.9" r="0.95"/><circle cx="289.43" cy="204.92" r="0.95"/><circle cx="283.98" cy="204.84" r="0.95"/><circle cx="276.29" cy="204.51" r="0.95"/><circle cx="280.34" cy="204.78" r="0.95"/><circle cx="281.04" cy="204.49" r="0.95"/><circle cx="288.6" cy="204.61" r="0.95"/><circle cx="283.34" cy="204" r="0.95"/><circle cx="277" cy="204.23" r="0.95"/><circle cx="287.92" cy="204.23" r="0.95"/><circle cx="277.68" cy="203.83" r="0.95"/><circle cx="282.07" cy="203.71" r="0.95"/><circle cx="287.23" cy="203.9" r="0.95"/><circle cx="275.16" cy="203.4" r="0.95"/><circle cx="284.47" cy="203.27" r="0.95"/><circle cx="285.56" cy="203.36" r="0.95"/><circle cx="278.36" cy="203.38" r="0.95"/><circle cx="279.14" cy="203.25" r="0.95"/><circle cx="279.87" cy="203.15" r="0.95"/><circle cx="286.52" cy="203.62" r="0.95"/><circle cx="289.23" cy="202.82" r="0.95"/><circle cx="280.55" cy="202.69" r="0.95"/><circle cx="281.44" cy="202.68" r="0.95"/><circle cx="276.51" cy="202.43" r="0.95"/><circle cx="275.82" cy="202.71" r="0.95"/><circle cx="283.8" cy="202.23" r="0.95"/><circle cx="288.59" cy="201.94" r="0.95"/><circle cx="287.67" cy="202.05" r="0.95"/><circle cx="286.98" cy="201.85" r="0.95"/><circle cx="277.18" cy="201.87" r="0.95"/><circle cx="279.41" cy="201.22" r="0.95"/><circle cx="285.04" cy="201.94" r="0.95"/><circle cx="286.29" cy="201.54" r="0.95"/><circle cx="278.55" cy="201.27" r="0.95"/><circle cx="277.87" cy="201.6" r="0.95"/><circle cx="282.2" cy="201.53" r="0.95"/><circle cx="280.86" cy="200.71" r="0.95"/><circle cx="284.39" cy="201.09" r="0.95"/><circle cx="285.64" cy="200.78" r="0.95"/><circle cx="288.11" cy="200.36" r="0.95"/><circle cx="280.08" cy="200.72" r="0.95"/><circle cx="276.03" cy="200.4" r="0.95"/><circle cx="281.55" cy="200.51" r="0.95"/><circle cx="282.68" cy="199.71" r="0.95"/><circle cx="278.9" cy="199.36" r="0.95"/><circle cx="277.36" cy="199.38" r="0.95"/><circle cx="283.79" cy="200.02" r="0.95"/><circle cx="278.05" cy="199.2" r="0.95"/><circle cx="287.48" cy="199.41" r="0.95"/><circle cx="286.79" cy="199.22" r="0.95"/><circle cx="276.66" cy="199.46" r="0.95"/><circle cx="279.58" cy="198.92" r="0.95"/><circle cx="281.14" cy="198.55" r="0.95"/><circle cx="285.17" cy="199.16" r="0.95"/><circle cx="280.45" cy="198.85" r="0.95"/><circle cx="284.48" cy="198.87" r="0.95"/><circle cx="283.4" cy="198.18" r="0.95"/><circle cx="286.11" cy="198.88" r="0.95"/><circle cx="282.47" cy="197.61" r="0.95"/><circle cx="284.95" cy="197" r="0.95"/><circle cx="284.26" cy="196.79" r="0.95"/><circle cx="278.48" cy="197.47" r="0.95"/><circle cx="280.53" cy="196.43" r="0.95"/><circle cx="279.16" cy="197.06" r="0.95"/><circle cx="281.92" cy="196.26" r="0.95"/><circle cx="279.85" cy="196.9" r="0.95"/><circle cx="285.64" cy="197.25" r="0.95"/><circle cx="283.85" cy="195.02" r="0.95"/><circle cx="283.06" cy="196.27" r="0.95"/><circle cx="281.23" cy="196.34" r="0.95"/><circle cx="281.1" cy="193.72" r="0.95"/><circle cx="281.89" cy="193.91" r="0.95"/><circle cx="282.49" cy="195.02" r="0.95"/><circle cx="283.28" cy="193.78" r="0.95"/><circle cx="282.2" cy="191.94" r="0.95"/><circle cx="281.51" cy="191.94" r="0.95"/><circle cx="282.89" cy="191.94" r="0.95"/><circle cx="282.2" cy="183.21" r="0.95"/><circle cx="282.2" cy="186.67" r="0.95"/><circle cx="282.2" cy="218.35" r="0.95"/><circle cx="282.2" cy="220.83" r="0.95"/></g>
<g class="rd"><circle cx="211.44" cy="223.95" r="0.95"/><circle cx="218.74" cy="221.62" r="0.95"/><circle cx="212.8" cy="222.8" r="0.95"/><circle cx="215.94" cy="223.3" r="0.95"/><circle cx="211.51" cy="221.48" r="0.95"/><circle cx="212.96" cy="220.57" r="0.95"/><circle cx="214.4" cy="219.62" r="0.95"/><circle cx="217.15" cy="221.43" r="0.95"/><circle cx="220.96" cy="218.9" r="0.95"/><circle cx="218.07" cy="217.49" r="0.95"/><circle cx="219.66" cy="217.62" r="0.95"/><circle cx="209.68" cy="218.21" r="0.95"/><circle cx="211.27" cy="218.01" r="0.95"/><circle cx="216.08" cy="217.42" r="0.95"/><circle cx="217.18" cy="215.67" r="0.95"/><circle cx="210.55" cy="215.74" r="0.95"/><circle cx="218.11" cy="213.71" r="0.95"/><circle cx="212.05" cy="214.97" r="0.95"/><circle cx="216.52" cy="213.46" r="0.95"/><circle cx="213.64" cy="212.02" r="0.95"/><circle cx="212.06" cy="212.31" r="0.95"/><circle cx="218.67" cy="211.26" r="0.95"/><circle cx="218.58" cy="208.66" r="0.95"/><circle cx="214.06" cy="209.9" r="0.95"/><circle cx="211.12" cy="210.14" r="0.95"/><circle cx="212.54" cy="209.14" r="0.95"/><circle cx="216.84" cy="208.66" r="0.95"/><circle cx="220.13" cy="209.19" r="0.95"/><circle cx="213.75" cy="207.71" r="0.95"/><circle cx="214.83" cy="206.09" r="0.95"/><circle cx="216.42" cy="206.39" r="0.95"/><circle cx="218" cy="206.61" r="0.95"/><circle cx="220.46" cy="205.56" r="0.95"/><circle cx="212.36" cy="206.46" r="0.95"/><circle cx="213.49" cy="204.9" r="0.95"/><circle cx="209.68" cy="205.47" r="0.95"/><circle cx="217.43" cy="204.25" r="0.95"/><circle cx="218.98" cy="204.73" r="0.95"/><circle cx="220.65" cy="201.8" r="0.95"/><circle cx="212.39" cy="203.13" r="0.95"/><circle cx="207.8" cy="202.04" r="0.95"/><circle cx="219.06" cy="201.6" r="0.95"/><circle cx="215.88" cy="201.33" r="0.95"/><circle cx="212.85" cy="201.02" r="0.95"/><circle cx="217.47" cy="201.34" r="0.95"/><circle cx="210.96" cy="201.35" r="0.95"/><circle cx="214.4" cy="200.5" r="0.95"/><circle cx="211.54" cy="199.3" r="0.95"/><circle cx="212.89" cy="198.13" r="0.95"/><circle cx="208.53" cy="197.82" r="0.95"/><circle cx="211.56" cy="196.6" r="0.95"/><circle cx="217.15" cy="196.85" r="0.95"/><circle cx="217.25" cy="193.73" r="0.95"/><circle cx="214.4" cy="195.15" r="0.95"/><circle cx="218.84" cy="193.94" r="0.95"/><circle cx="214.4" cy="192.36" r="0.95"/><circle cx="212.8" cy="192.36" r="0.95"/><circle cx="216" cy="192.37" r="0.95"/><circle cx="242.18" cy="220.04" r="0.95"/><circle cx="261.17" cy="234.4" r="0.95"/><circle cx="255.14" cy="231.31" r="0.95"/><circle cx="259.8" cy="223.15" r="0.95"/><circle cx="255.05" cy="222.49" r="0.95"/><circle cx="261.3" cy="216.37" r="0.95"/><circle cx="284.18" cy="211.8" r="0.95"/><circle cx="286.95" cy="206.31" r="0.95"/><circle cx="282.72" cy="202.97" r="0.95"/><circle cx="283.18" cy="201.22" r="0.95"/><circle cx="281.83" cy="198.5" r="0.95"/></g>
<line x1="206.9" y1="210.13" x2="221.9" y2="210.13" stroke="#5a0c0c" stroke-width="1.4"/>
<line x1="229.6" y1="215.88" x2="244.6" y2="215.88" stroke="#111" stroke-width="1.4"/>
<line x1="252.3" y1="226.77" x2="267.3" y2="226.77" stroke="#111" stroke-width="1.4"/>
<line x1="274.7" y1="203.2" x2="289.7" y2="203.2" stroke="#111" stroke-width="1.4"/>
<path d="M214.6 186.4V172.5H235.2V194.5" class="br"/>
<path d="M237.4 160.2V154.1H259.8V160.2" class="br"/>
<path d="M239 194.5V172.5H282.4V179" class="br"/>
<circle cx="217.7" cy="166.9" r="1.35" class="st"/><circle cx="222.5" cy="166.9" r="1.35" class="st"/><circle cx="227.3" cy="166.9" r="1.35" class="st"/><circle cx="232.1" cy="166.9" r="1.35" class="st"/>
<circle cx="241.4" cy="148.5" r="1.35" class="st"/><circle cx="246.2" cy="148.5" r="1.35" class="st"/><circle cx="251" cy="148.5" r="1.35" class="st"/><circle cx="255.8" cy="148.5" r="1.35" class="st"/>
<circle cx="253.8" cy="166.9" r="1.35" class="st"/><circle cx="258.6" cy="166.9" r="1.35" class="st"/><circle cx="263.4" cy="166.9" r="1.35" class="st"/><circle cx="268.2" cy="166.9" r="1.35" class="st"/>
<text x="214.7" y="252" class="xl">CMS1</text>
<text x="237.4" y="252" class="xl">CMS2</text>
<text x="260.1" y="252" class="xl">CMS3</text>
<text x="282.5" y="252" class="xl">CMS4</text>
<line x1="324.6" y1="217.3" x2="421.6" y2="217.3" stroke="#444" stroke-width="1.1" stroke-dasharray="1.5 1.25"/>
<path d="M323.6 145V242.7H421.6" fill="none" stroke="#1a1a1a" stroke-width="1.2"/>
<line x1="323.6" y1="149.14" x2="325.1" y2="149.14" stroke="#222" stroke-width="0.9"/>
<text x="322" y="150.64" class="tk">8</text>
<line x1="323.6" y1="166.18" x2="325.1" y2="166.18" stroke="#222" stroke-width="0.9"/>
<text x="322" y="167.68" class="tk">6</text>
<line x1="323.6" y1="183.22" x2="325.1" y2="183.22" stroke="#222" stroke-width="0.9"/>
<text x="322" y="184.72" class="tk">4</text>
<line x1="323.6" y1="200.26" x2="325.1" y2="200.26" stroke="#222" stroke-width="0.9"/>
<text x="322" y="201.76" class="tk">2</text>
<line x1="323.6" y1="217.3" x2="325.1" y2="217.3" stroke="#222" stroke-width="0.9"/>
<text x="322" y="218.8" class="tk">0</text>
<line x1="323.6" y1="234.34" x2="325.1" y2="234.34" stroke="#222" stroke-width="0.9"/>
<text x="322" y="235.84" class="tk">-2</text>
<g class="g"><circle cx="338" cy="222.93" r="0.95"/><circle cx="337.11" cy="220.78" r="0.95"/><circle cx="338" cy="220.65" r="0.95"/><circle cx="334.63" cy="219.08" r="0.95"/><circle cx="341.22" cy="215.78" r="0.95"/><circle cx="343.59" cy="215.18" r="0.95"/><circle cx="333.79" cy="214.96" r="0.95"/><circle cx="335.58" cy="214.65" r="0.95"/><circle cx="341.21" cy="212.56" r="0.95"/><circle cx="336.34" cy="213.49" r="0.95"/><circle cx="338.85" cy="212.9" r="0.95"/><circle cx="330.5" cy="212.78" r="0.95"/><circle cx="333.73" cy="212.47" r="0.95"/><circle cx="344.63" cy="212.74" r="0.95"/><circle cx="331.39" cy="212.57" r="0.95"/><circle cx="334.46" cy="211.2" r="0.95"/><circle cx="335.92" cy="211.39" r="0.95"/><circle cx="338.68" cy="210.72" r="0.95"/><circle cx="333.03" cy="210.78" r="0.95"/><circle cx="342.01" cy="211.53" r="0.95"/><circle cx="340.89" cy="208.12" r="0.95"/><circle cx="339.21" cy="206.96" r="0.95"/><circle cx="335.32" cy="207.58" r="0.95"/><circle cx="334.46" cy="208.12" r="0.95"/><circle cx="336.19" cy="206.99" r="0.95"/><circle cx="342.7" cy="205.69" r="0.95"/><circle cx="341.81" cy="205.4" r="0.95"/><circle cx="336.11" cy="203.26" r="0.95"/><circle cx="340.25" cy="203.28" r="0.95"/><circle cx="339.49" cy="202.11" r="0.95"/><circle cx="338.71" cy="203.98" r="0.95"/><circle cx="338" cy="200.09" r="0.95"/><circle cx="337.43" cy="230.93" r="0.95"/><circle cx="360.35" cy="232.39" r="0.95"/><circle cx="360.99" cy="233.15" r="0.95"/><circle cx="358.89" cy="231.22" r="0.95"/><circle cx="361.49" cy="231.11" r="0.95"/><circle cx="360.7" cy="231.88" r="0.95"/><circle cx="361.83" cy="229.86" r="0.95"/><circle cx="362.5" cy="230.99" r="0.95"/><circle cx="359.87" cy="231.17" r="0.95"/><circle cx="361.15" cy="230.49" r="0.95"/><circle cx="360.2" cy="230.28" r="0.95"/><circle cx="359.24" cy="230.67" r="0.95"/><circle cx="362.19" cy="229.9" r="0.95"/><circle cx="359.57" cy="229.84" r="0.95"/><circle cx="357.67" cy="229.25" r="0.95"/><circle cx="360.7" cy="229.57" r="0.95"/><circle cx="359.9" cy="228.95" r="0.95"/><circle cx="363.73" cy="229.06" r="0.95"/><circle cx="358.99" cy="229.02" r="0.95"/><circle cx="361.01" cy="228.47" r="0.95"/><circle cx="360.39" cy="228.43" r="0.95"/><circle cx="363.38" cy="228.63" r="0.95"/><circle cx="361.52" cy="228.84" r="0.95"/><circle cx="358.37" cy="228.6" r="0.95"/><circle cx="358.02" cy="228.7" r="0.95"/><circle cx="362.49" cy="228.01" r="0.95"/><circle cx="359.28" cy="227.79" r="0.95"/><circle cx="363.03" cy="228.04" r="0.95"/><circle cx="358.69" cy="227.59" r="0.95"/><circle cx="360.7" cy="227.33" r="0.95"/><circle cx="359.62" cy="227.05" r="0.95"/><circle cx="362.15" cy="227.4" r="0.95"/><circle cx="360.07" cy="227.03" r="0.95"/><circle cx="361.79" cy="227.38" r="0.95"/><circle cx="355.88" cy="226.46" r="0.95"/><circle cx="355.53" cy="226.65" r="0.95"/><circle cx="361.4" cy="226.77" r="0.95"/><circle cx="365.95" cy="226.71" r="0.95"/><circle cx="362.79" cy="226.43" r="0.95"/><circle cx="365.6" cy="226.65" r="0.95"/><circle cx="358.98" cy="226.33" r="0.95"/><circle cx="361.02" cy="226.07" r="0.95"/><circle cx="365.24" cy="226.35" r="0.95"/><circle cx="364.89" cy="226.17" r="0.95"/><circle cx="356.59" cy="226.16" r="0.95"/><circle cx="356.24" cy="226.24" r="0.95"/><circle cx="360.36" cy="225.79" r="0.95"/><circle cx="364.37" cy="225.68" r="0.95"/><circle cx="357.9" cy="225.82" r="0.95"/><circle cx="356.95" cy="226.01" r="0.95"/><circle cx="363.49" cy="225.41" r="0.95"/><circle cx="363.13" cy="225.36" r="0.95"/><circle cx="364.02" cy="225.48" r="0.95"/><circle cx="357.3" cy="225.61" r="0.95"/><circle cx="361.69" cy="225.27" r="0.95"/><circle cx="362.48" cy="225.35" r="0.95"/><circle cx="358.22" cy="224.85" r="0.95"/><circle cx="359.82" cy="225.23" r="0.95"/><circle cx="359.3" cy="225.33" r="0.95"/><circle cx="360.7" cy="225.07" r="0.95"/><circle cx="362.14" cy="224.81" r="0.95"/><circle cx="358.58" cy="224.82" r="0.95"/><circle cx="365.09" cy="224.32" r="0.95"/><circle cx="361.35" cy="224.59" r="0.95"/><circle cx="362.83" cy="224.22" r="0.95"/><circle cx="357.6" cy="224.44" r="0.95"/><circle cx="358.91" cy="224.15" r="0.95"/><circle cx="360.13" cy="224.11" r="0.95"/><circle cx="354.69" cy="224.02" r="0.95"/><circle cx="364.73" cy="224.18" r="0.95"/><circle cx="356.3" cy="224.01" r="0.95"/><circle cx="359.52" cy="223.61" r="0.95"/><circle cx="355.04" cy="223.75" r="0.95"/><circle cx="361.02" cy="223.86" r="0.95"/><circle cx="360.46" cy="223.31" r="0.95"/><circle cx="366.47" cy="223.77" r="0.95"/><circle cx="363.82" cy="223.66" r="0.95"/><circle cx="364.41" cy="223.24" r="0.95"/><circle cx="356.66" cy="223.68" r="0.95"/><circle cx="365.62" cy="223.39" r="0.95"/><circle cx="357.9" cy="223.21" r="0.95"/><circle cx="355.4" cy="223.43" r="0.95"/><circle cx="355.75" cy="223.4" r="0.95"/><circle cx="361.87" cy="223.32" r="0.95"/><circle cx="363.47" cy="223.21" r="0.95"/><circle cx="362.45" cy="223.15" r="0.95"/><circle cx="358.36" cy="222.78" r="0.95"/><circle cx="356.99" cy="222.84" r="0.95"/><circle cx="359.84" cy="222.61" r="0.95"/><circle cx="357.35" cy="222.82" r="0.95"/><circle cx="361.54" cy="222.53" r="0.95"/><circle cx="363.12" cy="222.81" r="0.95"/><circle cx="356.07" cy="222.35" r="0.95"/><circle cx="366.19" cy="222.4" r="0.95"/><circle cx="364.95" cy="222.3" r="0.95"/><circle cx="365.3" cy="222.34" r="0.95"/><circle cx="360.18" cy="221.87" r="0.95"/><circle cx="360.77" cy="222.26" r="0.95"/><circle cx="359.07" cy="222.15" r="0.95"/><circle cx="356.42" cy="221.93" r="0.95"/><circle cx="358.71" cy="222.29" r="0.95"/><circle cx="362.15" cy="221.91" r="0.95"/><circle cx="362.78" cy="222.03" r="0.95"/><circle cx="361.2" cy="221.86" r="0.95"/><circle cx="364.13" cy="221.91" r="0.95"/><circle cx="353.56" cy="221.54" r="0.95"/><circle cx="357.63" cy="221.45" r="0.95"/><circle cx="368.18" cy="221.56" r="0.95"/><circle cx="353.2" cy="221.64" r="0.95"/><circle cx="367.82" cy="221.48" r="0.95"/><circle cx="363.78" cy="221.46" r="0.95"/><circle cx="359.4" cy="221.39" r="0.95"/><circle cx="358.07" cy="221.31" r="0.95"/><circle cx="353.91" cy="221.23" r="0.95"/><circle cx="361.82" cy="221.14" r="0.95"/><circle cx="365.89" cy="221.18" r="0.95"/><circle cx="355.48" cy="221.22" r="0.95"/><circle cx="356.74" cy="221.01" r="0.95"/><circle cx="363.43" cy="220.91" r="0.95"/><circle cx="367.47" cy="221.04" r="0.95"/><circle cx="363.06" cy="220.63" r="0.95"/><circle cx="360.49" cy="220.88" r="0.95"/><circle cx="364.69" cy="220.81" r="0.95"/><circle cx="367.12" cy="220.78" r="0.95"/><circle cx="354.26" cy="220.82" r="0.95"/><circle cx="354.62" cy="220.77" r="0.95"/><circle cx="355.82" cy="220.5" r="0.95"/><circle cx="357.09" cy="220.64" r="0.95"/><circle cx="366.76" cy="220.64" r="0.95"/><circle cx="358.41" cy="220.58" r="0.95"/><circle cx="361.49" cy="220.34" r="0.95"/><circle cx="359.72" cy="220.47" r="0.95"/><circle cx="362.59" cy="220.18" r="0.95"/><circle cx="358.85" cy="220.28" r="0.95"/><circle cx="366.42" cy="220.01" r="0.95"/><circle cx="360.95" cy="220.27" r="0.95"/><circle cx="354.95" cy="220.02" r="0.95"/><circle cx="356.16" cy="219.99" r="0.95"/><circle cx="359.19" cy="219.55" r="0.95"/><circle cx="365.58" cy="220.1" r="0.95"/><circle cx="364.01" cy="219.74" r="0.95"/><circle cx="364.37" cy="219.83" r="0.95"/><circle cx="365.22" cy="219.98" r="0.95"/><circle cx="357.41" cy="219.65" r="0.95"/><circle cx="360.18" cy="219.66" r="0.95"/><circle cx="357.83" cy="219.63" r="0.95"/><circle cx="366.08" cy="219.28" r="0.95"/><circle cx="355.29" cy="219.33" r="0.95"/><circle cx="362.25" cy="219.57" r="0.95"/><circle cx="363.67" cy="219.18" r="0.95"/><circle cx="356.49" cy="219.11" r="0.95"/><circle cx="364.9" cy="219.04" r="0.95"/><circle cx="361.91" cy="218.99" r="0.95"/><circle cx="360.67" cy="218.95" r="0.95"/><circle cx="358.16" cy="218.89" r="0.95"/><circle cx="363.31" cy="218.84" r="0.95"/><circle cx="358.59" cy="218.69" r="0.95"/><circle cx="361.23" cy="218.8" r="0.95"/><circle cx="356.84" cy="218.85" r="0.95"/><circle cx="361.58" cy="218.16" r="0.95"/><circle cx="359.51" cy="218.6" r="0.95"/><circle cx="359.87" cy="218.45" r="0.95"/><circle cx="362.87" cy="218.78" r="0.95"/><circle cx="355.95" cy="218.19" r="0.95"/><circle cx="355.6" cy="218.22" r="0.95"/><circle cx="364.59" cy="218" r="0.95"/><circle cx="365.77" cy="218.19" r="0.95"/><circle cx="362.5" cy="217.95" r="0.95"/><circle cx="364.23" cy="217.67" r="0.95"/><circle cx="365.42" cy="218.09" r="0.95"/><circle cx="357.15" cy="217.72" r="0.95"/><circle cx="358.92" cy="217.8" r="0.95"/><circle cx="360.28" cy="217.55" r="0.95"/><circle cx="362.15" cy="217.39" r="0.95"/><circle cx="363.88" cy="217.4" r="0.95"/><circle cx="359.27" cy="216.91" r="0.95"/><circle cx="360.94" cy="217.54" r="0.95"/><circle cx="356.28" cy="217.26" r="0.95"/><circle cx="357.56" cy="217.66" r="0.95"/><circle cx="357.91" cy="217.26" r="0.95"/><circle cx="363.53" cy="216.95" r="0.95"/><circle cx="360.61" cy="216.76" r="0.95"/><circle cx="365.11" cy="217.04" r="0.95"/><circle cx="356.63" cy="216.85" r="0.95"/><circle cx="358.26" cy="216.78" r="0.95"/><circle cx="362.79" cy="216.64" r="0.95"/><circle cx="359.97" cy="216.35" r="0.95"/><circle cx="361.82" cy="216.55" r="0.95"/><circle cx="363.18" cy="216.81" r="0.95"/><circle cx="361.38" cy="216.33" r="0.95"/><circle cx="359.62" cy="216.45" r="0.95"/><circle cx="358.62" cy="216.48" r="0.95"/><circle cx="364.44" cy="215.77" r="0.95"/><circle cx="357.3" cy="215.72" r="0.95"/><circle cx="364.8" cy="215.91" r="0.95"/><circle cx="362.47" cy="215.69" r="0.95"/><circle cx="357.65" cy="215.39" r="0.95"/><circle cx="356.94" cy="215.83" r="0.95"/><circle cx="364.09" cy="215.57" r="0.95"/><circle cx="361.06" cy="215.39" r="0.95"/><circle cx="358.01" cy="215.07" r="0.95"/><circle cx="360.29" cy="215.32" r="0.95"/><circle cx="362.11" cy="215.2" r="0.95"/><circle cx="358.94" cy="215.61" r="0.95"/><circle cx="363.74" cy="215.07" r="0.95"/><circle cx="363.03" cy="214.8" r="0.95"/><circle cx="359.27" cy="214.69" r="0.95"/><circle cx="358.34" cy="214.39" r="0.95"/><circle cx="361.78" cy="214.37" r="0.95"/><circle cx="360.7" cy="214.63" r="0.95"/><circle cx="359.97" cy="213.91" r="0.95"/><circle cx="362.36" cy="213.59" r="0.95"/><circle cx="359.61" cy="214.18" r="0.95"/><circle cx="361.43" cy="213.95" r="0.95"/><circle cx="362.71" cy="213.78" r="0.95"/><circle cx="361.03" cy="213.2" r="0.95"/><circle cx="358.7" cy="214.01" r="0.95"/><circle cx="361.35" cy="211.81" r="0.95"/><circle cx="360.37" cy="213.18" r="0.95"/><circle cx="360.7" cy="212.31" r="0.95"/><circle cx="359" cy="212.87" r="0.95"/><circle cx="359.35" cy="212.35" r="0.95"/><circle cx="362.05" cy="212.49" r="0.95"/><circle cx="360.05" cy="211.77" r="0.95"/><circle cx="359.7" cy="212.02" r="0.95"/><circle cx="361.03" cy="210.78" r="0.95"/><circle cx="361.7" cy="212.11" r="0.95"/><circle cx="360.7" cy="209.95" r="0.95"/><circle cx="360.36" cy="210.69" r="0.95"/><circle cx="360.7" cy="198.56" r="0.95"/><circle cx="360.7" cy="206.22" r="0.95"/><circle cx="360.7" cy="237.75" r="0.95"/><circle cx="382.17" cy="225.61" r="0.95"/><circle cx="383.4" cy="227.33" r="0.95"/><circle cx="384.24" cy="227.33" r="0.95"/><circle cx="386.1" cy="223.55" r="0.95"/><circle cx="384.5" cy="225.09" r="0.95"/><circle cx="383.54" cy="225.03" r="0.95"/><circle cx="382.78" cy="224.09" r="0.95"/><circle cx="380.37" cy="223.88" r="0.95"/><circle cx="386.93" cy="223.92" r="0.95"/><circle cx="379.54" cy="224.15" r="0.95"/><circle cx="385.26" cy="223.31" r="0.95"/><circle cx="378.7" cy="224.48" r="0.95"/><circle cx="387.75" cy="224.34" r="0.95"/><circle cx="381.18" cy="223.34" r="0.95"/><circle cx="390.2" cy="222.35" r="0.95"/><circle cx="382.02" cy="223.05" r="0.95"/><circle cx="384.29" cy="222.97" r="0.95"/><circle cx="383.45" cy="222.77" r="0.95"/><circle cx="376.74" cy="222.34" r="0.95"/><circle cx="375.9" cy="222.36" r="0.95"/><circle cx="382.7" cy="221.78" r="0.95"/><circle cx="379.46" cy="221.9" r="0.95"/><circle cx="380.28" cy="221.37" r="0.95"/><circle cx="389.6" cy="220.81" r="0.95"/><circle cx="386.73" cy="221.64" r="0.95"/><circle cx="385.9" cy="221.26" r="0.95"/><circle cx="385.06" cy="221.18" r="0.95"/><circle cx="378.19" cy="220.79" r="0.95"/><circle cx="384.24" cy="220.7" r="0.95"/><circle cx="388.76" cy="220.79" r="0.95"/><circle cx="381.94" cy="220.75" r="0.95"/><circle cx="377.35" cy="220.81" r="0.95"/><circle cx="383.4" cy="220.54" r="0.95"/><circle cx="381.11" cy="221.09" r="0.95"/><circle cx="378.93" cy="219.77" r="0.95"/><circle cx="387.17" cy="219.68" r="0.95"/><circle cx="379.76" cy="219.48" r="0.95"/><circle cx="385.5" cy="219.25" r="0.95"/><circle cx="380.6" cy="219.3" r="0.95"/><circle cx="381.43" cy="218.98" r="0.95"/><circle cx="386.34" cy="219.37" r="0.95"/><circle cx="389.09" cy="218.58" r="0.95"/><circle cx="377.66" cy="218.6" r="0.95"/><circle cx="384.7" cy="218.55" r="0.95"/><circle cx="382.27" cy="218.72" r="0.95"/><circle cx="389.93" cy="218.7" r="0.95"/><circle cx="383.04" cy="217.86" r="0.95"/><circle cx="387.51" cy="217.38" r="0.95"/><circle cx="386.68" cy="217.1" r="0.95"/><circle cx="379.28" cy="217.49" r="0.95"/><circle cx="378.45" cy="217.84" r="0.95"/><circle cx="385.84" cy="217.05" r="0.95"/><circle cx="381.79" cy="216.89" r="0.95"/><circle cx="388.35" cy="217.53" r="0.95"/><circle cx="384.24" cy="216.03" r="0.95"/><circle cx="382.56" cy="216.02" r="0.95"/><circle cx="385.08" cy="216.1" r="0.95"/><circle cx="383.4" cy="213.25" r="0.95"/><circle cx="383.4" cy="215.87" r="0.95"/><circle cx="380.95" cy="216.92" r="0.95"/><circle cx="382.56" cy="213.25" r="0.95"/><circle cx="383.4" cy="230.93" r="0.95"/><circle cx="383.4" cy="234.34" r="0.95"/><circle cx="383.4" cy="236.9" r="0.95"/><circle cx="405.24" cy="221.2" r="0.95"/><circle cx="407.27" cy="218.76" r="0.95"/><circle cx="402.1" cy="217.76" r="0.95"/><circle cx="406.54" cy="217.76" r="0.95"/><circle cx="405.21" cy="217.51" r="0.95"/><circle cx="405.8" cy="219.61" r="0.95"/><circle cx="404.42" cy="217.98" r="0.95"/><circle cx="402.83" cy="216.75" r="0.95"/><circle cx="408.96" cy="217.11" r="0.95"/><circle cx="405.91" cy="216.36" r="0.95"/><circle cx="408.17" cy="216.56" r="0.95"/><circle cx="404.4" cy="215.71" r="0.95"/><circle cx="403.64" cy="216.53" r="0.95"/><circle cx="409.28" cy="214.51" r="0.95"/><circle cx="405.2" cy="215.28" r="0.95"/><circle cx="407.41" cy="215.8" r="0.95"/><circle cx="401.52" cy="214.54" r="0.95"/><circle cx="410.91" cy="214.79" r="0.95"/><circle cx="402.32" cy="214.2" r="0.95"/><circle cx="410.1" cy="214.7" r="0.95"/><circle cx="408.25" cy="213.78" r="0.95"/><circle cx="400.7" cy="214.71" r="0.95"/><circle cx="403.4" cy="213.83" r="0.95"/><circle cx="404.37" cy="213.15" r="0.95"/><circle cx="405.9" cy="214.15" r="0.95"/><circle cx="405.19" cy="213.07" r="0.95"/><circle cx="407.3" cy="213.36" r="0.95"/><circle cx="410.88" cy="212.05" r="0.95"/><circle cx="402.73" cy="212.3" r="0.95"/><circle cx="406.56" cy="212.43" r="0.95"/><circle cx="405.8" cy="211.62" r="0.95"/><circle cx="403.51" cy="211.65" r="0.95"/><circle cx="400.41" cy="212.06" r="0.95"/><circle cx="408.96" cy="212.49" r="0.95"/><circle cx="407.96" cy="211.73" r="0.95"/><circle cx="412.57" cy="211.3" r="0.95"/><circle cx="399.09" cy="211.14" r="0.95"/><circle cx="407.2" cy="210.9" r="0.95"/><circle cx="409.45" cy="210.53" r="0.95"/><circle cx="401.17" cy="211.29" r="0.95"/><circle cx="404.27" cy="210.84" r="0.95"/><circle cx="411.97" cy="209.8" r="0.95"/><circle cx="408.63" cy="210.47" r="0.95"/><circle cx="406.44" cy="210.14" r="0.95"/><circle cx="405.07" cy="210.43" r="0.95"/><circle cx="399.72" cy="209.75" r="0.95"/><circle cx="411.15" cy="209.74" r="0.95"/><circle cx="402.73" cy="209.95" r="0.95"/><circle cx="407.91" cy="209.45" r="0.95"/><circle cx="400.53" cy="209.53" r="0.95"/><circle cx="403.51" cy="209.27" r="0.95"/><circle cx="410.36" cy="209.3" r="0.95"/><circle cx="405.72" cy="209.09" r="0.95"/><circle cx="401.33" cy="209.13" r="0.95"/><circle cx="407.14" cy="208.69" r="0.95"/><circle cx="404.47" cy="208.65" r="0.95"/><circle cx="402.09" cy="208.32" r="0.95"/><circle cx="409.62" cy="208.36" r="0.95"/><circle cx="406.39" cy="207.83" r="0.95"/><circle cx="412.5" cy="207.8" r="0.95"/><circle cx="413.3" cy="208.17" r="0.95"/><circle cx="411.7" cy="207.32" r="0.95"/><circle cx="399.06" cy="207.81" r="0.95"/><circle cx="402.88" cy="207.75" r="0.95"/><circle cx="405.16" cy="207.48" r="0.95"/><circle cx="400.68" cy="207.31" r="0.95"/><circle cx="408.83" cy="207.79" r="0.95"/><circle cx="408.04" cy="207.19" r="0.95"/><circle cx="403.66" cy="207.11" r="0.95"/><circle cx="399.86" cy="207.36" r="0.95"/><circle cx="405.83" cy="206.23" r="0.95"/><circle cx="410.91" cy="206.76" r="0.95"/><circle cx="404.42" cy="206.3" r="0.95"/><circle cx="407.04" cy="206.48" r="0.95"/><circle cx="402.24" cy="206.09" r="0.95"/><circle cx="403.03" cy="205.53" r="0.95"/><circle cx="401.45" cy="206.56" r="0.95"/><circle cx="410.11" cy="206.38" r="0.95"/><circle cx="409.32" cy="205.83" r="0.95"/><circle cx="407.71" cy="205.19" r="0.95"/><circle cx="403.79" cy="204.73" r="0.95"/><circle cx="405.12" cy="205.16" r="0.95"/><circle cx="400.34" cy="204.21" r="0.95"/><circle cx="410.89" cy="204.19" r="0.95"/><circle cx="406.58" cy="204.67" r="0.95"/><circle cx="401.98" cy="203.57" r="0.95"/><circle cx="410.08" cy="204" r="0.95"/><circle cx="405.81" cy="203.97" r="0.95"/><circle cx="404.39" cy="203.23" r="0.95"/><circle cx="409.3" cy="203.36" r="0.95"/><circle cx="402.79" cy="203.35" r="0.95"/><circle cx="408.51" cy="202.78" r="0.95"/><circle cx="405.17" cy="202.59" r="0.95"/><circle cx="400.96" cy="202.78" r="0.95"/><circle cx="407.32" cy="203.26" r="0.95"/><circle cx="403.56" cy="202.62" r="0.95"/><circle cx="410.63" cy="201.91" r="0.95"/><circle cx="406.57" cy="202.35" r="0.95"/><circle cx="401.58" cy="201.35" r="0.95"/><circle cx="409.87" cy="201.13" r="0.95"/><circle cx="407.93" cy="201.22" r="0.95"/><circle cx="405.85" cy="201.35" r="0.95"/><circle cx="404.92" cy="200.39" r="0.95"/><circle cx="404.15" cy="201.1" r="0.95"/><circle cx="402.37" cy="200.83" r="0.95"/><circle cx="407.14" cy="200.68" r="0.95"/><circle cx="406.42" cy="199.67" r="0.95"/><circle cx="409.13" cy="200.16" r="0.95"/><circle cx="403.15" cy="200.15" r="0.95"/><circle cx="405.62" cy="199.24" r="0.95"/><circle cx="408.39" cy="199.28" r="0.95"/><circle cx="407.61" cy="198.57" r="0.95"/><circle cx="406.86" cy="197.72" r="0.95"/><circle cx="406.05" cy="197.38" r="0.95"/><circle cx="405.26" cy="196.89" r="0.95"/><circle cx="403.83" cy="198.95" r="0.95"/><circle cx="405.8" cy="195.25" r="0.95"/><circle cx="405.8" cy="193.02" r="0.95"/><circle cx="404.98" cy="193.02" r="0.95"/><circle cx="406.62" cy="193.02" r="0.95"/><circle cx="405.8" cy="184.07" r="0.95"/><circle cx="405.8" cy="227.52" r="0.95"/></g>
<g class="rd"><circle cx="338.89" cy="220.96" r="0.95"/><circle cx="340.04" cy="218.63" r="0.95"/><circle cx="340.92" cy="219.03" r="0.95"/><circle cx="339.4" cy="217.09" r="0.95"/><circle cx="337.31" cy="218.51" r="0.95"/><circle cx="335.52" cy="218.83" r="0.95"/><circle cx="336.41" cy="218.58" r="0.95"/><circle cx="338.5" cy="217.59" r="0.95"/><circle cx="337.71" cy="216.54" r="0.95"/><circle cx="333.05" cy="216.18" r="0.95"/><circle cx="342.69" cy="215.04" r="0.95"/><circle cx="336.87" cy="215.39" r="0.95"/><circle cx="334.69" cy="214.82" r="0.95"/><circle cx="338.83" cy="215.38" r="0.95"/><circle cx="338.02" cy="214.47" r="0.95"/><circle cx="340.47" cy="214.58" r="0.95"/><circle cx="337.24" cy="213.38" r="0.95"/><circle cx="341.97" cy="213.75" r="0.95"/><circle cx="339.59" cy="214.14" r="0.95"/><circle cx="333.01" cy="213.77" r="0.95"/><circle cx="335.19" cy="212.66" r="0.95"/><circle cx="340.32" cy="212.29" r="0.95"/><circle cx="338" cy="212.21" r="0.95"/><circle cx="342.91" cy="211.59" r="0.95"/><circle cx="339.57" cy="211.12" r="0.95"/><circle cx="343.79" cy="211.95" r="0.95"/><circle cx="332.21" cy="211.67" r="0.95"/><circle cx="336.8" cy="211.03" r="0.95"/><circle cx="342.45" cy="209.61" r="0.95"/><circle cx="341.31" cy="210.19" r="0.95"/><circle cx="337.63" cy="210.17" r="0.95"/><circle cx="333.72" cy="209.38" r="0.95"/><circle cx="335.15" cy="209.8" r="0.95"/><circle cx="340.41" cy="210" r="0.95"/><circle cx="339.63" cy="208.9" r="0.95"/><circle cx="336.89" cy="208.74" r="0.95"/><circle cx="336.01" cy="209.16" r="0.95"/><circle cx="341.78" cy="208.15" r="0.95"/><circle cx="338.3" cy="208.73" r="0.95"/><circle cx="340.11" cy="207.03" r="0.95"/><circle cx="338.36" cy="206.24" r="0.95"/><circle cx="337.59" cy="207.38" r="0.95"/><circle cx="333.63" cy="205.5" r="0.95"/><circle cx="336.7" cy="205.19" r="0.95"/><circle cx="335.34" cy="204.39" r="0.95"/><circle cx="340.99" cy="204.54" r="0.95"/><circle cx="339.56" cy="204.69" r="0.95"/><circle cx="337.6" cy="205.1" r="0.95"/><circle cx="337.9" cy="203.02" r="0.95"/><circle cx="337" cy="203.06" r="0.95"/><circle cx="334.45" cy="204.6" r="0.95"/><circle cx="338.61" cy="201.69" r="0.95"/><circle cx="337.15" cy="200.8" r="0.95"/><circle cx="338.74" cy="198.48" r="0.95"/><circle cx="338" cy="197.24" r="0.95"/><circle cx="337.1" cy="197.24" r="0.95"/><circle cx="338" cy="187.48" r="0.95"/><circle cx="338" cy="229.23" r="0.95"/><circle cx="363.39" cy="214.89" r="0.95"/><circle cx="387.55" cy="222.13" r="0.95"/><circle cx="388.01" cy="219.81" r="0.95"/><circle cx="383.88" cy="218.13" r="0.95"/><circle cx="380.11" cy="217.18" r="0.95"/><circle cx="383.4" cy="239.45" r="0.95"/><circle cx="406.63" cy="215.1" r="0.95"/><circle cx="410.07" cy="211.97" r="0.95"/><circle cx="402.03" cy="211.09" r="0.95"/><circle cx="408.52" cy="205.28" r="0.95"/><circle cx="404.6" cy="198.2" r="0.95"/></g>
<line x1="330.5" y1="212.19" x2="345.5" y2="212.19" stroke="#5a0c0c" stroke-width="1.4"/>
<line x1="353.2" y1="220.71" x2="368.2" y2="220.71" stroke="#111" stroke-width="1.4"/>
<line x1="375.9" y1="220.71" x2="390.9" y2="220.71" stroke="#111" stroke-width="1.4"/>
<line x1="398.3" y1="209.63" x2="413.3" y2="209.63" stroke="#111" stroke-width="1.4"/>
<path d="M338.2 183.2V172.3H358.8V192.7" class="br"/>
<path d="M363.2 192.7V172.3H383.4V210.5" class="br"/>
<path d="M360.8 159.3V153.2H406V179" class="br"/>
<circle cx="341.3" cy="166.7" r="1.35" class="st"/><circle cx="346.1" cy="166.7" r="1.35" class="st"/><circle cx="350.9" cy="166.7" r="1.35" class="st"/><circle cx="355.7" cy="166.7" r="1.35" class="st"/>
<text x="373.3" y="167.7" class="ns">ns</text>
<circle cx="376.2" cy="147.6" r="1.35" class="st"/><circle cx="381" cy="147.6" r="1.35" class="st"/><circle cx="385.8" cy="147.6" r="1.35" class="st"/><circle cx="390.6" cy="147.6" r="1.35" class="st"/>
<text x="338.3" y="252" class="xl">CMS1</text>
<text x="361" y="252" class="xl">CMS2</text>
<text x="383.7" y="252" class="xl">CMS3</text>
<text x="406.1" y="252" class="xl">CMS4</text>
<line x1="447.7" y1="224.1" x2="544.7" y2="224.1" stroke="#444" stroke-width="1.1" stroke-dasharray="1.5 1.25"/>
<path d="M446.7 145V242.7H544.7" fill="none" stroke="#1a1a1a" stroke-width="1.2"/>
<line x1="446.7" y1="177.5" x2="448.2" y2="177.5" stroke="#222" stroke-width="0.9"/>
<line x1="446.7" y1="224.1" x2="448.2" y2="224.1" stroke="#222" stroke-width="0.9"/>
<text x="445.1" y="225.6" class="tk">0</text>
<g class="g"><circle cx="460.03" cy="228.62" r="0.95"/><circle cx="455.87" cy="225.49" r="0.95"/><circle cx="457.94" cy="224.37" r="0.95"/><circle cx="462.16" cy="223.55" r="0.95"/><circle cx="466.07" cy="222.25" r="0.95"/><circle cx="461.1" cy="223.16" r="0.95"/><circle cx="459.08" cy="221.75" r="0.95"/><circle cx="456.11" cy="221.93" r="0.95"/><circle cx="463.07" cy="222.02" r="0.95"/><circle cx="465.06" cy="221.47" r="0.95"/><circle cx="463.06" cy="219.76" r="0.95"/><circle cx="464.07" cy="220.57" r="0.95"/><circle cx="464.18" cy="218.17" r="0.95"/><circle cx="465.19" cy="218.96" r="0.95"/><circle cx="454.12" cy="217.59" r="0.95"/><circle cx="458.23" cy="218.06" r="0.95"/><circle cx="455.16" cy="217" r="0.95"/><circle cx="463.15" cy="217.48" r="0.95"/><circle cx="459.19" cy="217.04" r="0.95"/><circle cx="464.59" cy="215.72" r="0.95"/><circle cx="458.34" cy="215.69" r="0.95"/><circle cx="468.49" cy="215.23" r="0.95"/><circle cx="456.38" cy="214.43" r="0.95"/><circle cx="454.26" cy="215.15" r="0.95"/><circle cx="460.36" cy="214.18" r="0.95"/><circle cx="461.29" cy="213.07" r="0.95"/><circle cx="460.46" cy="211.66" r="0.95"/><circle cx="457.79" cy="211.14" r="0.95"/><circle cx="464.4" cy="211.14" r="0.95"/><circle cx="462.39" cy="211.77" r="0.95"/><circle cx="461.69" cy="208.09" r="0.95"/><circle cx="461.1" cy="206.25" r="0.95"/><circle cx="461.1" cy="196.14" r="0.95"/><circle cx="483.32" cy="241.04" r="0.95"/><circle cx="483.8" cy="240.32" r="0.95"/><circle cx="483.27" cy="238.6" r="0.95"/><circle cx="484.37" cy="238.15" r="0.95"/><circle cx="481.8" cy="237.78" r="0.95"/><circle cx="485.94" cy="237.61" r="0.95"/><circle cx="485.21" cy="237.51" r="0.95"/><circle cx="487.46" cy="237.87" r="0.95"/><circle cx="483.68" cy="237.29" r="0.95"/><circle cx="481.04" cy="237.62" r="0.95"/><circle cx="482.3" cy="237.22" r="0.95"/><circle cx="482.8" cy="236.8" r="0.95"/><circle cx="484.75" cy="236.6" r="0.95"/><circle cx="480.12" cy="237.69" r="0.95"/><circle cx="481.44" cy="236.24" r="0.95"/><circle cx="480.51" cy="236.25" r="0.95"/><circle cx="484.12" cy="236.22" r="0.95"/><circle cx="487.11" cy="236.26" r="0.95"/><circle cx="486.6" cy="235.94" r="0.95"/><circle cx="485.72" cy="235.63" r="0.95"/><circle cx="483.27" cy="235.9" r="0.95"/><circle cx="485.23" cy="235.09" r="0.95"/><circle cx="481.93" cy="235.58" r="0.95"/><circle cx="480.94" cy="235.13" r="0.95"/><circle cx="482.42" cy="235" r="0.95"/><circle cx="483.72" cy="234.88" r="0.95"/><circle cx="486.32" cy="234.12" r="0.95"/><circle cx="478.64" cy="234.41" r="0.95"/><circle cx="482.9" cy="234.21" r="0.95"/><circle cx="484.55" cy="234.57" r="0.95"/><circle cx="479.66" cy="234.04" r="0.95"/><circle cx="488.25" cy="234.06" r="0.95"/><circle cx="488.76" cy="234.2" r="0.95"/><circle cx="481.38" cy="233.97" r="0.95"/><circle cx="479.15" cy="234.2" r="0.95"/><circle cx="485.83" cy="233.34" r="0.95"/><circle cx="487.74" cy="233.68" r="0.95"/><circle cx="484.98" cy="233.17" r="0.95"/><circle cx="484.11" cy="233.46" r="0.95"/><circle cx="480.15" cy="233.56" r="0.95"/><circle cx="481.86" cy="233.27" r="0.95"/><circle cx="477.74" cy="232.7" r="0.95"/><circle cx="487.24" cy="233.38" r="0.95"/><circle cx="482.53" cy="232.68" r="0.95"/><circle cx="489.57" cy="232.59" r="0.95"/><circle cx="483.33" cy="233.05" r="0.95"/><circle cx="486.76" cy="232.58" r="0.95"/><circle cx="480.61" cy="232.59" r="0.95"/><circle cx="478.24" cy="232.33" r="0.95"/><circle cx="481.11" cy="231.99" r="0.95"/><circle cx="484.53" cy="232.14" r="0.95"/><circle cx="486.27" cy="231.93" r="0.95"/><circle cx="483.76" cy="231.86" r="0.95"/><circle cx="478.71" cy="231.44" r="0.95"/><circle cx="489.11" cy="231.64" r="0.95"/><circle cx="482.11" cy="231.34" r="0.95"/><circle cx="479.22" cy="231.31" r="0.95"/><circle cx="487.59" cy="230.85" r="0.95"/><circle cx="485.42" cy="232.03" r="0.95"/><circle cx="488.09" cy="231.17" r="0.95"/><circle cx="488.6" cy="231.39" r="0.95"/><circle cx="481.6" cy="231.38" r="0.95"/><circle cx="482.92" cy="231.28" r="0.95"/><circle cx="484.98" cy="230.95" r="0.95"/><circle cx="479.73" cy="231" r="0.95"/><circle cx="485.84" cy="230.73" r="0.95"/><circle cx="487.08" cy="230.75" r="0.95"/><circle cx="480.24" cy="230.82" r="0.95"/><circle cx="489.56" cy="229.86" r="0.95"/><circle cx="484.17" cy="230.56" r="0.95"/><circle cx="483.38" cy="230.29" r="0.95"/><circle cx="490.09" cy="230.19" r="0.95"/><circle cx="480.74" cy="230.38" r="0.95"/><circle cx="491.3" cy="230.03" r="0.95"/><circle cx="490.79" cy="230" r="0.95"/><circle cx="477.79" cy="229.93" r="0.95"/><circle cx="482.44" cy="229.66" r="0.95"/><circle cx="485.4" cy="229.62" r="0.95"/><circle cx="478.3" cy="229.74" r="0.95"/><circle cx="477.05" cy="229.38" r="0.95"/><circle cx="481.23" cy="229.83" r="0.95"/><circle cx="486.6" cy="229.98" r="0.95"/><circle cx="482.93" cy="229.07" r="0.95"/><circle cx="484.65" cy="229.28" r="0.95"/><circle cx="481.84" cy="229.44" r="0.95"/><circle cx="489.08" cy="229.16" r="0.95"/><circle cx="486.16" cy="228.87" r="0.95"/><circle cx="478.77" cy="228.81" r="0.95"/><circle cx="483.8" cy="229.06" r="0.95"/><circle cx="479.33" cy="228.79" r="0.95"/><circle cx="487.98" cy="228.61" r="0.95"/><circle cx="476.47" cy="228.82" r="0.95"/><circle cx="488.55" cy="228.62" r="0.95"/><circle cx="479.84" cy="228.6" r="0.95"/><circle cx="487.47" cy="228.51" r="0.95"/><circle cx="486.96" cy="228.37" r="0.95"/><circle cx="480.35" cy="228.45" r="0.95"/><circle cx="477.46" cy="228.08" r="0.95"/><circle cx="489.97" cy="228.05" r="0.95"/><circle cx="490.47" cy="228.26" r="0.95"/><circle cx="485.73" cy="227.69" r="0.95"/><circle cx="480.86" cy="228.2" r="0.95"/><circle cx="484.25" cy="227.9" r="0.95"/><circle cx="482.17" cy="227.77" r="0.95"/><circle cx="481.46" cy="227.87" r="0.95"/><circle cx="483.33" cy="227.69" r="0.95"/><circle cx="477.97" cy="227.88" r="0.95"/><circle cx="485.07" cy="227.96" r="0.95"/><circle cx="486.52" cy="227.25" r="0.95"/><circle cx="476.76" cy="227" r="0.95"/><circle cx="489.49" cy="227.25" r="0.95"/><circle cx="488.98" cy="227" r="0.95"/><circle cx="482.72" cy="226.86" r="0.95"/><circle cx="478.44" cy="227.04" r="0.95"/><circle cx="479.04" cy="226.94" r="0.95"/><circle cx="491.14" cy="227.36" r="0.95"/><circle cx="483.8" cy="226.84" r="0.95"/><circle cx="488.27" cy="226.77" r="0.95"/><circle cx="487.25" cy="226.46" r="0.95"/><circle cx="479.54" cy="226.72" r="0.95"/><circle cx="487.76" cy="226.62" r="0.95"/><circle cx="480.05" cy="226.47" r="0.95"/><circle cx="480.56" cy="226.37" r="0.95"/><circle cx="484.67" cy="226.61" r="0.95"/><circle cx="485.37" cy="226.1" r="0.95"/><circle cx="481.79" cy="226.2" r="0.95"/><circle cx="486.11" cy="225.92" r="0.95"/><circle cx="477.16" cy="225.66" r="0.95"/><circle cx="490.79" cy="225.78" r="0.95"/><circle cx="481.07" cy="226.2" r="0.95"/><circle cx="484.22" cy="225.51" r="0.95"/><circle cx="477.67" cy="225.63" r="0.95"/><circle cx="490.28" cy="225.64" r="0.95"/><circle cx="488.75" cy="225.04" r="0.95"/><circle cx="482.29" cy="225.63" r="0.95"/><circle cx="478.17" cy="225.13" r="0.95"/><circle cx="483.14" cy="225.57" r="0.95"/><circle cx="489.77" cy="225.26" r="0.95"/><circle cx="486.81" cy="225.34" r="0.95"/><circle cx="478.68" cy="225.09" r="0.95"/><circle cx="489.27" cy="225.11" r="0.95"/><circle cx="483.61" cy="224.78" r="0.95"/><circle cx="481.41" cy="224.57" r="0.95"/><circle cx="479.18" cy="224.64" r="0.95"/><circle cx="484.96" cy="224.8" r="0.95"/><circle cx="487.75" cy="224.21" r="0.95"/><circle cx="485.73" cy="224.44" r="0.95"/><circle cx="479.69" cy="224.32" r="0.95"/><circle cx="481.91" cy="223.98" r="0.95"/><circle cx="488.26" cy="224.42" r="0.95"/><circle cx="480.2" cy="224.18" r="0.95"/><circle cx="484.02" cy="223.48" r="0.95"/><circle cx="486.41" cy="223.98" r="0.95"/><circle cx="484.53" cy="223.58" r="0.95"/><circle cx="480.71" cy="223.96" r="0.95"/><circle cx="485.33" cy="223.11" r="0.95"/><circle cx="482.59" cy="223.85" r="0.95"/><circle cx="489.12" cy="223" r="0.95"/><circle cx="483.08" cy="223.3" r="0.95"/><circle cx="481.12" cy="222.69" r="0.95"/><circle cx="486.01" cy="222.58" r="0.95"/><circle cx="478.32" cy="223" r="0.95"/><circle cx="478.83" cy="222.78" r="0.95"/><circle cx="483.56" cy="222.54" r="0.95"/><circle cx="486.84" cy="222.76" r="0.95"/><circle cx="479.33" cy="222.37" r="0.95"/><circle cx="481.62" cy="222.12" r="0.95"/><circle cx="488.62" cy="222.61" r="0.95"/><circle cx="484.91" cy="221.8" r="0.95"/><circle cx="482.13" cy="222.01" r="0.95"/><circle cx="488.12" cy="222.17" r="0.95"/><circle cx="482.73" cy="221.59" r="0.95"/><circle cx="487.62" cy="221.67" r="0.95"/><circle cx="479.81" cy="221.67" r="0.95"/><circle cx="484.28" cy="221.41" r="0.95"/><circle cx="485.62" cy="221.18" r="0.95"/><circle cx="480.32" cy="221.33" r="0.95"/><circle cx="480.82" cy="220.9" r="0.95"/><circle cx="483.2" cy="220.81" r="0.95"/><circle cx="487.14" cy="220.92" r="0.95"/><circle cx="483.78" cy="220.54" r="0.95"/><circle cx="486.63" cy="220.75" r="0.95"/><circle cx="486.13" cy="220.3" r="0.95"/><circle cx="488.43" cy="219.61" r="0.95"/><circle cx="481.3" cy="220.17" r="0.95"/><circle cx="481.81" cy="220.09" r="0.95"/><circle cx="482.32" cy="219.97" r="0.95"/><circle cx="484.68" cy="219.84" r="0.95"/><circle cx="485.19" cy="219.96" r="0.95"/><circle cx="479.39" cy="219.53" r="0.95"/><circle cx="487.92" cy="219.51" r="0.95"/><circle cx="479.9" cy="219.36" r="0.95"/><circle cx="482.81" cy="219.31" r="0.95"/><circle cx="484.19" cy="219.25" r="0.95"/><circle cx="487.42" cy="218.96" r="0.95"/><circle cx="486.41" cy="218.42" r="0.95"/><circle cx="485.9" cy="218.35" r="0.95"/><circle cx="480.41" cy="218.94" r="0.95"/><circle cx="480.91" cy="218.59" r="0.95"/><circle cx="483.43" cy="218.84" r="0.95"/><circle cx="481.4" cy="217.95" r="0.95"/><circle cx="486.92" cy="218.69" r="0.95"/><circle cx="482.42" cy="217.79" r="0.95"/><circle cx="483.85" cy="217.6" r="0.95"/><circle cx="485.4" cy="217.89" r="0.95"/><circle cx="484.89" cy="217.72" r="0.95"/><circle cx="481.91" cy="217.91" r="0.95"/><circle cx="482.91" cy="217.15" r="0.95"/><circle cx="483.4" cy="216.58" r="0.95"/><circle cx="486.13" cy="216.08" r="0.95"/><circle cx="484.41" cy="216.95" r="0.95"/><circle cx="481.08" cy="216.14" r="0.95"/><circle cx="486.64" cy="216.16" r="0.95"/><circle cx="485.64" cy="215.58" r="0.95"/><circle cx="480.57" cy="216.32" r="0.95"/><circle cx="481.58" cy="215.88" r="0.95"/><circle cx="482.05" cy="215" r="0.95"/><circle cx="484.05" cy="215.4" r="0.95"/><circle cx="485.14" cy="214.99" r="0.95"/><circle cx="482.56" cy="214.96" r="0.95"/><circle cx="483.07" cy="214.67" r="0.95"/><circle cx="483.58" cy="214.51" r="0.95"/><circle cx="483.29" cy="212.66" r="0.95"/><circle cx="484.63" cy="214.95" r="0.95"/><circle cx="484.27" cy="213.4" r="0.95"/><circle cx="482.83" cy="210.91" r="0.95"/><circle cx="483.8" cy="212.53" r="0.95"/><circle cx="484.77" cy="211.22" r="0.95"/><circle cx="484.3" cy="210.32" r="0.95"/><circle cx="483.8" cy="209.95" r="0.95"/><circle cx="483.29" cy="209.95" r="0.95"/><circle cx="508.47" cy="236.11" r="0.95"/><circle cx="506.5" cy="235.41" r="0.95"/><circle cx="503.61" cy="236.73" r="0.95"/><circle cx="506.5" cy="238.39" r="0.95"/><circle cx="502.62" cy="237.1" r="0.95"/><circle cx="509.4" cy="236.92" r="0.95"/><circle cx="505.5" cy="235.42" r="0.95"/><circle cx="504.51" cy="235.75" r="0.95"/><circle cx="501.15" cy="233.54" r="0.95"/><circle cx="502.15" cy="233.29" r="0.95"/><circle cx="510.9" cy="233.32" r="0.95"/><circle cx="509.9" cy="233.21" r="0.95"/><circle cx="507.91" cy="233.19" r="0.95"/><circle cx="505.67" cy="232.63" r="0.95"/><circle cx="504.04" cy="232.13" r="0.95"/><circle cx="499" cy="231.3" r="0.95"/><circle cx="507.13" cy="231.82" r="0.95"/><circle cx="508.21" cy="230.89" r="0.95"/><circle cx="513.95" cy="231.14" r="0.95"/><circle cx="506.24" cy="230.82" r="0.95"/><circle cx="511.95" cy="230.9" r="0.95"/><circle cx="512.95" cy="230.92" r="0.95"/><circle cx="503.04" cy="232.3" r="0.95"/><circle cx="504.83" cy="230.77" r="0.95"/><circle cx="500" cy="231.07" r="0.95"/><circle cx="501" cy="230.92" r="0.95"/><circle cx="501.98" cy="230.51" r="0.95"/><circle cx="503.94" cy="229.62" r="0.95"/><circle cx="502.95" cy="229.95" r="0.95"/><circle cx="505.52" cy="229.2" r="0.95"/><circle cx="509.04" cy="229.55" r="0.95"/><circle cx="506.5" cy="228.69" r="0.95"/><circle cx="500.04" cy="228.7" r="0.95"/><circle cx="507.43" cy="229.53" r="0.95"/><circle cx="508.33" cy="228.01" r="0.95"/><circle cx="501" cy="228.08" r="0.95"/><circle cx="504.62" cy="228.01" r="0.95"/><circle cx="512.24" cy="228.12" r="0.95"/><circle cx="501.98" cy="227.58" r="0.95"/><circle cx="502.97" cy="227.3" r="0.95"/><circle cx="507.45" cy="226.95" r="0.95"/><circle cx="503.87" cy="226.34" r="0.95"/><circle cx="505.45" cy="226.77" r="0.95"/><circle cx="510.31" cy="227.32" r="0.95"/><circle cx="506.39" cy="226.02" r="0.95"/><circle cx="509.35" cy="226.67" r="0.95"/><circle cx="504.73" cy="225.2" r="0.95"/><circle cx="511.02" cy="225.1" r="0.95"/><circle cx="508.53" cy="225.41" r="0.95"/><circle cx="507.23" cy="224.81" r="0.95"/><circle cx="501.94" cy="225.22" r="0.95"/><circle cx="510.08" cy="224.37" r="0.95"/><circle cx="503.85" cy="223.99" r="0.95"/><circle cx="505.54" cy="223.91" r="0.95"/><circle cx="502.88" cy="224.46" r="0.95"/><circle cx="509.18" cy="223.39" r="0.95"/><circle cx="508.18" cy="223.35" r="0.95"/><circle cx="506.5" cy="221.01" r="0.95"/><circle cx="506.5" cy="223.29" r="0.95"/><circle cx="504.65" cy="222.65" r="0.95"/><circle cx="505.54" cy="221.66" r="0.95"/><circle cx="505.63" cy="219.08" r="0.95"/><circle cx="507.41" cy="221.95" r="0.95"/><circle cx="506.5" cy="217.99" r="0.95"/><circle cx="529.2" cy="232.87" r="0.95"/><circle cx="528.44" cy="232.38" r="0.95"/><circle cx="528.74" cy="234.64" r="0.95"/><circle cx="529.67" cy="234.64" r="0.95"/><circle cx="526.99" cy="232.03" r="0.95"/><circle cx="529.68" cy="230.67" r="0.95"/><circle cx="530.41" cy="231.51" r="0.95"/><circle cx="527.66" cy="230.92" r="0.95"/><circle cx="525.12" cy="229.68" r="0.95"/><circle cx="532.38" cy="229.66" r="0.95"/><circle cx="528.9" cy="230.61" r="0.95"/><circle cx="531.64" cy="228.93" r="0.95"/><circle cx="525.89" cy="229.35" r="0.95"/><circle cx="526.65" cy="228.78" r="0.95"/><circle cx="528.21" cy="229.34" r="0.95"/><circle cx="530.86" cy="228.75" r="0.95"/><circle cx="530.1" cy="228.33" r="0.95"/><circle cx="532.68" cy="227.2" r="0.95"/><circle cx="528.9" cy="228.31" r="0.95"/><circle cx="524.46" cy="227.22" r="0.95"/><circle cx="527.43" cy="228.56" r="0.95"/><circle cx="533.45" cy="227.47" r="0.95"/><circle cx="529.67" cy="226.49" r="0.95"/><circle cx="531.92" cy="226.64" r="0.95"/><circle cx="525.4" cy="226.74" r="0.95"/><circle cx="527.78" cy="226.6" r="0.95"/><circle cx="528.82" cy="225.84" r="0.95"/><circle cx="534.01" cy="225.55" r="0.95"/><circle cx="534.74" cy="226.34" r="0.95"/><circle cx="530.85" cy="225.9" r="0.95"/><circle cx="523.9" cy="225.42" r="0.95"/><circle cx="526.18" cy="226.06" r="0.95"/><circle cx="533.24" cy="225.18" r="0.95"/><circle cx="526.92" cy="225.33" r="0.95"/><circle cx="532.46" cy="224.99" r="0.95"/><circle cx="530.19" cy="224.72" r="0.95"/><circle cx="531.69" cy="224.53" r="0.95"/><circle cx="528.01" cy="224.49" r="0.95"/><circle cx="525.43" cy="224.54" r="0.95"/><circle cx="529.41" cy="224.41" r="0.95"/><circle cx="530.99" cy="223.57" r="0.95"/><circle cx="528.7" cy="223.48" r="0.95"/><circle cx="526.17" cy="223.82" r="0.95"/><circle cx="521.98" cy="223.22" r="0.95"/><circle cx="523.9" cy="223.21" r="0.95"/><circle cx="527.12" cy="223.2" r="0.95"/><circle cx="533.9" cy="223.1" r="0.95"/><circle cx="533.13" cy="222.68" r="0.95"/><circle cx="534.7" cy="223.34" r="0.95"/><circle cx="535.74" cy="222.94" r="0.95"/><circle cx="532.25" cy="222.57" r="0.95"/><circle cx="525.53" cy="222.26" r="0.95"/><circle cx="522.62" cy="221.93" r="0.95"/><circle cx="527.83" cy="222.31" r="0.95"/><circle cx="524.71" cy="222.69" r="0.95"/><circle cx="531.5" cy="221.91" r="0.95"/><circle cx="530.32" cy="222.4" r="0.95"/><circle cx="524.15" cy="221.12" r="0.95"/><circle cx="523.38" cy="221.46" r="0.95"/><circle cx="535.15" cy="221.48" r="0.95"/><circle cx="529.33" cy="222.16" r="0.95"/><circle cx="528.61" cy="221.28" r="0.95"/><circle cx="526.43" cy="221.75" r="0.95"/><circle cx="524.97" cy="220.62" r="0.95"/><circle cx="534.37" cy="221.33" r="0.95"/><circle cx="530.85" cy="220.7" r="0.95"/><circle cx="533.61" cy="220.82" r="0.95"/><circle cx="529.92" cy="220.52" r="0.95"/><circle cx="532.83" cy="220.64" r="0.95"/><circle cx="536.4" cy="220.15" r="0.95"/><circle cx="527.88" cy="220.12" r="0.95"/><circle cx="532.07" cy="220.15" r="0.95"/><circle cx="525.74" cy="220.14" r="0.95"/><circle cx="526.47" cy="219.35" r="0.95"/><circle cx="529.18" cy="219.78" r="0.95"/><circle cx="521.94" cy="219.59" r="0.95"/><circle cx="535.65" cy="219.53" r="0.95"/><circle cx="534.87" cy="219.23" r="0.95"/><circle cx="523.5" cy="219.15" r="0.95"/><circle cx="530.43" cy="218.85" r="0.95"/><circle cx="531.39" cy="219.06" r="0.95"/><circle cx="534.1" cy="218.95" r="0.95"/><circle cx="524.37" cy="219.01" r="0.95"/><circle cx="528.49" cy="218.74" r="0.95"/><circle cx="533.32" cy="218.72" r="0.95"/><circle cx="525.12" cy="218.36" r="0.95"/><circle cx="527.21" cy="218.69" r="0.95"/><circle cx="529.59" cy="217.89" r="0.95"/><circle cx="525.87" cy="217.77" r="0.95"/><circle cx="527.85" cy="217.42" r="0.95"/><circle cx="532.56" cy="218.18" r="0.95"/><circle cx="528.9" cy="216.86" r="0.95"/><circle cx="523.9" cy="217.25" r="0.95"/><circle cx="526.59" cy="216.9" r="0.95"/><circle cx="531.08" cy="217.04" r="0.95"/><circle cx="531.86" cy="217.19" r="0.95"/><circle cx="530.27" cy="216.69" r="0.95"/><circle cx="527.28" cy="215.86" r="0.95"/><circle cx="525.36" cy="215.82" r="0.95"/><circle cx="533.92" cy="216.35" r="0.95"/><circle cx="533.13" cy="216.23" r="0.95"/><circle cx="524.6" cy="216.28" r="0.95"/><circle cx="532.44" cy="215.23" r="0.95"/><circle cx="529.63" cy="215.45" r="0.95"/><circle cx="531.66" cy="214.98" r="0.95"/><circle cx="526.11" cy="215.13" r="0.95"/><circle cx="528.17" cy="215.41" r="0.95"/><circle cx="530.88" cy="214.92" r="0.95"/><circle cx="527.56" cy="213.81" r="0.95"/><circle cx="528.31" cy="213.16" r="0.95"/><circle cx="528.9" cy="214.63" r="0.95"/><circle cx="529.49" cy="213.16" r="0.95"/><circle cx="526.79" cy="214.04" r="0.95"/><circle cx="530.25" cy="213.59" r="0.95"/><circle cx="528.9" cy="211.7" r="0.95"/><circle cx="528.9" cy="183.09" r="0.95"/><circle cx="528.9" cy="186.82" r="0.95"/><circle cx="528.9" cy="195.21" r="0.95"/><circle cx="528.19" cy="196.14" r="0.95"/><circle cx="528.9" cy="200.8" r="0.95"/><circle cx="528.9" cy="205.46" r="0.95"/><circle cx="528.9" cy="208.26" r="0.95"/></g>
<g class="rd"><circle cx="461.1" cy="225.46" r="0.95"/><circle cx="461.1" cy="228.27" r="0.95"/><circle cx="462.08" cy="229.18" r="0.95"/><circle cx="465.34" cy="224.77" r="0.95"/><circle cx="456.87" cy="224.63" r="0.95"/><circle cx="459.02" cy="224.2" r="0.95"/><circle cx="464.27" cy="224.43" r="0.95"/><circle cx="463.19" cy="224.24" r="0.95"/><circle cx="460.02" cy="223.38" r="0.95"/><circle cx="467.15" cy="222.31" r="0.95"/><circle cx="462.08" cy="221.11" r="0.95"/><circle cx="454.16" cy="220.72" r="0.95"/><circle cx="460.09" cy="220.99" r="0.95"/><circle cx="458.14" cy="220.55" r="0.95"/><circle cx="456.97" cy="220.61" r="0.95"/><circle cx="461.1" cy="220.2" r="0.95"/><circle cx="456.14" cy="219.14" r="0.95"/><circle cx="455.08" cy="219.57" r="0.95"/><circle cx="467.31" cy="219.88" r="0.95"/><circle cx="459.08" cy="219.46" r="0.95"/><circle cx="466.25" cy="219.41" r="0.95"/><circle cx="460.08" cy="218.63" r="0.95"/><circle cx="462.07" cy="218.87" r="0.95"/><circle cx="457.17" cy="218.45" r="0.95"/><circle cx="468.6" cy="218.46" r="0.95"/><circle cx="461.1" cy="217.91" r="0.95"/><circle cx="467.71" cy="217.2" r="0.95"/><circle cx="466.65" cy="216.84" r="0.95"/><circle cx="460.22" cy="216.38" r="0.95"/><circle cx="456.23" cy="216.68" r="0.95"/><circle cx="457.27" cy="216.08" r="0.95"/><circle cx="465.57" cy="216.67" r="0.95"/><circle cx="462.2" cy="216.45" r="0.95"/><circle cx="461.22" cy="215.53" r="0.95"/><circle cx="463.54" cy="215.23" r="0.95"/><circle cx="459.32" cy="214.8" r="0.95"/><circle cx="455.3" cy="214.55" r="0.95"/><circle cx="462.22" cy="214.21" r="0.95"/><circle cx="467.45" cy="214.61" r="0.95"/><circle cx="466.37" cy="214.5" r="0.95"/><circle cx="465.38" cy="213.61" r="0.95"/><circle cx="457.38" cy="213.61" r="0.95"/><circle cx="463.24" cy="213.12" r="0.95"/><circle cx="458.45" cy="213.25" r="0.95"/><circle cx="464.3" cy="213.54" r="0.95"/><circle cx="459.48" cy="212.57" r="0.95"/><circle cx="458.59" cy="209.67" r="0.95"/><circle cx="459.67" cy="209.62" r="0.95"/><circle cx="462.76" cy="208.4" r="0.95"/><circle cx="460.09" cy="207.02" r="0.95"/><circle cx="461.44" cy="210.71" r="0.95"/><circle cx="463.44" cy="210.1" r="0.95"/><circle cx="460.72" cy="209.06" r="0.95"/><circle cx="461.1" cy="186.35" r="0.95"/><circle cx="461.1" cy="188.68" r="0.95"/><circle cx="461.1" cy="199.87" r="0.95"/><circle cx="461.1" cy="202.66" r="0.95"/><circle cx="461.1" cy="231.56" r="0.95"/><circle cx="487.24" cy="224.11" r="0.95"/><circle cx="507.5" cy="235.63" r="0.95"/><circle cx="509" cy="232.26" r="0.95"/><circle cx="510.97" cy="230.45" r="0.95"/><circle cx="510.04" cy="229.64" r="0.95"/><circle cx="511.31" cy="227.33" r="0.95"/><circle cx="522.39" cy="226.62" r="0.95"/><circle cx="523.14" cy="225.97" r="0.95"/><circle cx="524.67" cy="225.11" r="0.95"/><circle cx="527.16" cy="220.95" r="0.95"/><circle cx="522.72" cy="219.37" r="0.95"/></g>
<line x1="453.6" y1="217.39" x2="468.6" y2="217.39" stroke="#5a0c0c" stroke-width="1.4"/>
<line x1="476.3" y1="228.57" x2="491.3" y2="228.57" stroke="#111" stroke-width="1.4"/>
<line x1="499" y1="230.62" x2="514" y2="230.62" stroke="#111" stroke-width="1.4"/>
<line x1="521.4" y1="220.09" x2="536.4" y2="220.09" stroke="#111" stroke-width="1.4"/>
<path d="M461.3 182V172.3H481.9V204.8" class="br"/>
<path d="M486.3 204.8V172.3H506.5V213.2" class="br"/>
<path d="M483.9 160V153.2H529.1V179.8" class="br"/>
<circle cx="464.4" cy="166.7" r="1.35" class="st"/><circle cx="469.2" cy="166.7" r="1.35" class="st"/><circle cx="474" cy="166.7" r="1.35" class="st"/><circle cx="478.8" cy="166.7" r="1.35" class="st"/>
<text x="496.4" y="167.7" class="ns">ns</text>
<circle cx="499.3" cy="147.6" r="1.35" class="st"/><circle cx="504.1" cy="147.6" r="1.35" class="st"/><circle cx="508.9" cy="147.6" r="1.35" class="st"/><circle cx="513.7" cy="147.6" r="1.35" class="st"/>
<text x="461.4" y="252" class="xl">CMS1</text>
<text x="484.1" y="252" class="xl">CMS2</text>
<text x="506.8" y="252" class="xl">CMS3</text>
<text x="529.2" y="252" class="xl">CMS4</text>
<text transform="translate(70.6,194.35) rotate(-90)" class="yl" textLength="17.5" lengthAdjust="spacingAndGlyphs"><tspan font-style="italic">TGFB</tspan></text>
<text transform="translate(194.1,194.35) rotate(-90)" class="yl" textLength="17.0" lengthAdjust="spacingAndGlyphs">TBSS</text>
<text transform="translate(317.4,194.35) rotate(-90)" class="yl" textLength="51.3" lengthAdjust="spacingAndGlyphs">M2 macrophage</text>
<text transform="translate(440.4,194.35) rotate(-90)" class="yl" textLength="52.0" lengthAdjust="spacingAndGlyphs"><tspan font-style="italic">HAVCR2</tspan> (TIM-3)</text>
<line x1="77.6" y1="335" x2="174.6" y2="335" stroke="#444" stroke-width="1.1" stroke-dasharray="1.5 1.25"/>
<path d="M76.6 265.2V362.8H174.6" fill="none" stroke="#1a1a1a" stroke-width="1.2"/>
<line x1="76.6" y1="279.4" x2="78.1" y2="279.4" stroke="#222" stroke-width="0.9"/>
<text x="75" y="280.9" class="tk">4</text>
<line x1="76.6" y1="307.2" x2="78.1" y2="307.2" stroke="#222" stroke-width="0.9"/>
<text x="75" y="308.7" class="tk">2</text>
<line x1="76.6" y1="335" x2="78.1" y2="335" stroke="#222" stroke-width="0.9"/>
<text x="75" y="336.5" class="tk">0</text>
<line x1="76.6" y1="362.8" x2="78.1" y2="362.8" stroke="#222" stroke-width="0.9"/>
<text x="75" y="364.3" class="tk">-2</text>
<g class="g3"><circle cx="87.4" cy="326.02" r="1.15"/><circle cx="114.95" cy="360.93" r="1.15"/><circle cx="112.45" cy="359.29" r="1.15"/><circle cx="111.2" cy="354.93" r="1.15"/><circle cx="118.7" cy="357.57" r="1.15"/><circle cx="113.7" cy="355.79" r="1.15"/><circle cx="116.2" cy="357.49" r="1.15"/><circle cx="108.7" cy="354.74" r="1.15"/><circle cx="112.45" cy="353.17" r="1.15"/><circle cx="117.45" cy="353.97" r="1.15"/><circle cx="114.95" cy="353.25" r="1.15"/><circle cx="114.95" cy="347.48" r="1.15"/><circle cx="109.95" cy="345.89" r="1.15"/><circle cx="109.95" cy="350.42" r="1.15"/><circle cx="117.45" cy="348.57" r="1.15"/><circle cx="117.45" cy="343.24" r="1.15"/><circle cx="112.45" cy="341.08" r="1.15"/><circle cx="112.45" cy="346.16" r="1.15"/><circle cx="114.95" cy="343.19" r="1.15"/><circle cx="113.7" cy="337.62" r="1.15"/><circle cx="113.7" cy="334.17" r="1.15"/><circle cx="111.2" cy="335.83" r="1.15"/><circle cx="109.95" cy="340.87" r="1.15"/><circle cx="108.7" cy="332.61" r="1.15"/><circle cx="121.2" cy="335.34" r="1.15"/><circle cx="118.7" cy="334.9" r="1.15"/><circle cx="106.2" cy="331.77" r="1.15"/><circle cx="116.2" cy="334.51" r="1.15"/><circle cx="111.2" cy="332.83" r="1.15"/><circle cx="116.2" cy="337.8" r="1.15"/><circle cx="113.7" cy="324.85" r="1.15"/><circle cx="116.2" cy="326.45" r="1.15"/><circle cx="118.7" cy="327.26" r="1.15"/><circle cx="111.2" cy="324.77" r="1.15"/><circle cx="108.7" cy="323.88" r="1.15"/><circle cx="134.6" cy="341.45" r="1.15"/><circle cx="138.2" cy="346.1" r="1.15"/><circle cx="138.2" cy="338.78" r="1.15"/><circle cx="134.6" cy="345.56" r="1.15"/><circle cx="134.6" cy="337.89" r="1.15"/><circle cx="131" cy="336.83" r="1.15"/><circle cx="134.6" cy="357.66" r="1.15"/><circle cx="138.2" cy="360.72" r="1.15"/><circle cx="160.3" cy="326.41" r="1.15"/><circle cx="157.3" cy="322.03" r="1.15"/><circle cx="157.3" cy="326.19" r="1.15"/><circle cx="155.8" cy="316.57" r="1.15"/><circle cx="152.8" cy="316.52" r="1.15"/><circle cx="164.8" cy="318.88" r="1.15"/><circle cx="158.8" cy="317.95" r="1.15"/><circle cx="157.3" cy="313.02" r="1.15"/><circle cx="160.3" cy="313.77" r="1.15"/><circle cx="154.3" cy="312.3" r="1.15"/><circle cx="160.3" cy="303.71" r="1.15"/><circle cx="166.3" cy="314.52" r="1.15"/><circle cx="154.3" cy="303.18" r="1.15"/><circle cx="151.3" cy="310.98" r="1.15"/><circle cx="157.3" cy="303.18" r="1.15"/><circle cx="163.3" cy="305.17" r="1.15"/><circle cx="158.8" cy="335.97" r="1.15"/></g>
<g class="rd"><circle cx="94.6" cy="347.13" r="1.15"/><circle cx="89.2" cy="354.02" r="1.15"/><circle cx="98.2" cy="348.26" r="1.15"/><circle cx="92.8" cy="354.02" r="1.15"/><circle cx="87.4" cy="345.95" r="1.15"/><circle cx="91" cy="336.94" r="1.15"/><circle cx="87.4" cy="333.83" r="1.15"/><circle cx="83.8" cy="345.26" r="1.15"/><circle cx="91" cy="340.56" r="1.15"/><circle cx="94.6" cy="337.36" r="1.15"/><circle cx="91" cy="347" r="1.15"/><circle cx="94.6" cy="324.35" r="1.15"/><circle cx="94.6" cy="327.11" r="1.15"/><circle cx="87.4" cy="321.72" r="1.15"/><circle cx="91" cy="326.34" r="1.15"/><circle cx="91" cy="321.79" r="1.15"/><circle cx="91" cy="316.97" r="1.15"/><circle cx="87.4" cy="316.25" r="1.15"/><circle cx="94.6" cy="319.5" r="1.15"/><circle cx="141.8" cy="339.19" r="1.15"/><circle cx="138.2" cy="341.96" r="1.15"/><circle cx="160.3" cy="324.85" r="1.15"/><circle cx="161.8" cy="318.36" r="1.15"/><circle cx="163.3" cy="314.37" r="1.15"/><circle cx="158.8" cy="343.76" r="1.15"/></g>
<line x1="83.5" y1="329.44" x2="98.5" y2="329.44" stroke="#5a0c0c" stroke-width="1.4"/>
<line x1="106.2" y1="341.95" x2="121.2" y2="341.95" stroke="#111" stroke-width="1.4"/>
<line x1="128.9" y1="342.37" x2="143.9" y2="342.37" stroke="#111" stroke-width="1.4"/>
<line x1="151.3" y1="318.6" x2="166.3" y2="318.6" stroke="#111" stroke-width="1.4"/>
<path d="M91.2 301.6V291.4H111.8V320.9" class="br"/>
<path d="M116.2 320.9V291.4H136.4V333.4" class="br"/>
<path d="M113.8 277.7V272H159V297" class="br"/>
<circle cx="101.5" cy="285.8" r="1.35" class="st"/>
<text x="126.3" y="286.8" class="ns">ns</text>
<circle cx="129.2" cy="266.4" r="1.35" class="st"/><circle cx="134" cy="266.4" r="1.35" class="st"/><circle cx="138.8" cy="266.4" r="1.35" class="st"/><circle cx="143.6" cy="266.4" r="1.35" class="st"/>
<text x="91.3" y="372.2" class="xl">CMS1</text>
<text x="114" y="372.2" class="xl">CMS2</text>
<text x="136.7" y="372.2" class="xl">CMS3</text>
<text x="159.1" y="372.2" class="xl">CMS4</text>
<line x1="201" y1="323.6" x2="298" y2="323.6" stroke="#444" stroke-width="1.1" stroke-dasharray="1.5 1.25"/>
<line x1="200" y1="265.2" x2="200" y2="362.8" stroke="#7a7a7a" stroke-width="1.4"/>
<line x1="199.4" y1="362.8" x2="298" y2="362.8" stroke="#1a1a1a" stroke-width="1.2"/>
<line x1="200" y1="264.8" x2="201.5" y2="264.8" stroke="#222" stroke-width="0.9"/>
<text x="198.4" y="266.3" class="tk">6</text>
<line x1="200" y1="284.4" x2="201.5" y2="284.4" stroke="#222" stroke-width="0.9"/>
<text x="198.4" y="285.9" class="tk">4</text>
<line x1="200" y1="304" x2="201.5" y2="304" stroke="#222" stroke-width="0.9"/>
<text x="198.4" y="305.5" class="tk">2</text>
<line x1="200" y1="323.6" x2="201.5" y2="323.6" stroke="#222" stroke-width="0.9"/>
<text x="198.4" y="325.1" class="tk">0</text>
<line x1="200" y1="343.2" x2="201.5" y2="343.2" stroke="#222" stroke-width="0.9"/>
<text x="198.4" y="344.7" class="tk">-2</text>
<line x1="200" y1="362.8" x2="201.5" y2="362.8" stroke="#222" stroke-width="0.9"/>
<text x="198.4" y="364.3" class="tk">-4</text>
<g class="g3"><circle cx="217.21" cy="319.79" r="1.15"/><circle cx="237.1" cy="338.26" r="1.15"/><circle cx="237.1" cy="335.95" r="1.15"/><circle cx="241.39" cy="337.04" r="1.15"/><circle cx="239.24" cy="337.04" r="1.15"/><circle cx="232.81" cy="334.03" r="1.15"/><circle cx="234.96" cy="334.25" r="1.15"/><circle cx="240.31" cy="332.18" r="1.15"/><circle cx="233.89" cy="330.15" r="1.15"/><circle cx="238.17" cy="330.95" r="1.15"/><circle cx="242.46" cy="333.27" r="1.15"/><circle cx="234.96" cy="327.57" r="1.15"/><circle cx="236.03" cy="330.87" r="1.15"/><circle cx="241.39" cy="328.75" r="1.15"/><circle cx="243.53" cy="328.76" r="1.15"/><circle cx="231.74" cy="329.86" r="1.15"/><circle cx="239.24" cy="328.26" r="1.15"/><circle cx="237.1" cy="328.02" r="1.15"/><circle cx="230.67" cy="325.71" r="1.15"/><circle cx="242.46" cy="324.93" r="1.15"/><circle cx="240.31" cy="324.02" r="1.15"/><circle cx="232.81" cy="325.76" r="1.15"/><circle cx="237.1" cy="320.57" r="1.15"/><circle cx="244.6" cy="324.97" r="1.15"/><circle cx="233.89" cy="323.13" r="1.15"/><circle cx="238.17" cy="323.68" r="1.15"/><circle cx="231.74" cy="321.76" r="1.15"/><circle cx="239.24" cy="320.75" r="1.15"/><circle cx="229.6" cy="321.42" r="1.15"/><circle cx="241.39" cy="320.92" r="1.15"/><circle cx="236.03" cy="323.68" r="1.15"/><circle cx="234.96" cy="317.45" r="1.15"/><circle cx="232.81" cy="317.38" r="1.15"/><circle cx="236.03" cy="343.2" r="1.15"/><circle cx="238.17" cy="346.14" r="1.15"/><circle cx="259.8" cy="341.2" r="1.15"/><circle cx="261.6" cy="337.47" r="1.15"/><circle cx="265.2" cy="334.56" r="1.15"/><circle cx="258" cy="336.07" r="1.15"/><circle cx="254.4" cy="331.19" r="1.15"/><circle cx="261.6" cy="333.99" r="1.15"/><circle cx="258" cy="319.73" r="1.15"/><circle cx="259.8" cy="359.86" r="1.15"/><circle cx="282.2" cy="317.13" r="1.15"/><circle cx="285.8" cy="317.77" r="1.15"/><circle cx="276.8" cy="313.24" r="1.15"/><circle cx="282.2" cy="311.84" r="1.15"/><circle cx="289.4" cy="312.54" r="1.15"/><circle cx="285.8" cy="312.45" r="1.15"/><circle cx="280.4" cy="314.45" r="1.15"/><circle cx="284" cy="314.64" r="1.15"/><circle cx="287.6" cy="315.18" r="1.15"/><circle cx="275" cy="309.27" r="1.15"/><circle cx="278.6" cy="309.43" r="1.15"/><circle cx="282.2" cy="306.45" r="1.15"/><circle cx="275" cy="305.05" r="1.15"/><circle cx="282.2" cy="301.41" r="1.15"/><circle cx="285.8" cy="304.69" r="1.15"/><circle cx="278.6" cy="301.1" r="1.15"/><circle cx="282.2" cy="324.58" r="1.15"/></g>
<g class="rd"><circle cx="212.53" cy="324.81" r="1.15"/><circle cx="220.03" cy="323.58" r="1.15"/><circle cx="216.28" cy="325.97" r="1.15"/><circle cx="214.4" cy="325.46" r="1.15"/><circle cx="218.15" cy="323.26" r="1.15"/><circle cx="210.65" cy="321.27" r="1.15"/><circle cx="214.4" cy="322.28" r="1.15"/><circle cx="221.9" cy="323.63" r="1.15"/><circle cx="216.28" cy="322.69" r="1.15"/><circle cx="212.53" cy="321.45" r="1.15"/><circle cx="219.09" cy="319.85" r="1.15"/><circle cx="208.78" cy="320.49" r="1.15"/><circle cx="206.9" cy="320.43" r="1.15"/><circle cx="213.46" cy="318.78" r="1.15"/><circle cx="215.34" cy="319.43" r="1.15"/><circle cx="211.59" cy="317.86" r="1.15"/><circle cx="209.71" cy="316.76" r="1.15"/><circle cx="213.46" cy="335.36" r="1.15"/><circle cx="215.34" cy="336.34" r="1.15"/><circle cx="258" cy="331.7" r="1.15"/><circle cx="261.6" cy="319.73" r="1.15"/><circle cx="278.6" cy="316.97" r="1.15"/><circle cx="289.4" cy="307.62" r="1.15"/><circle cx="278.6" cy="305.55" r="1.15"/><circle cx="285.8" cy="307.44" r="1.15"/></g>
<line x1="206.9" y1="321.64" x2="221.9" y2="321.64" stroke="#5a0c0c" stroke-width="1.4"/>
<line x1="229.6" y1="326.54" x2="244.6" y2="326.54" stroke="#111" stroke-width="1.4"/>
<line x1="252.3" y1="334.38" x2="267.3" y2="334.38" stroke="#111" stroke-width="1.4"/>
<line x1="274.7" y1="311.84" x2="289.7" y2="311.84" stroke="#111" stroke-width="1.4"/>
<path d="M214.6 314.5V290.2H235.2V320.9" class="br"/>
<path d="M239.6 320.9V290.2H259.8V318.6" class="br"/>
<path d="M237.2 277.7V271.4H282.4V299.3" class="br"/>
<circle cx="224.9" cy="284.6" r="1.35" class="st"/>
<text x="249.7" y="285.6" class="ns">ns</text>
<circle cx="252.6" cy="265.8" r="1.35" class="st"/><circle cx="257.4" cy="265.8" r="1.35" class="st"/><circle cx="262.2" cy="265.8" r="1.35" class="st"/><circle cx="267" cy="265.8" r="1.35" class="st"/>
<text x="214.7" y="372.2" class="xl">CMS1</text>
<text x="237.4" y="372.2" class="xl">CMS2</text>
<text x="260.1" y="372.2" class="xl">CMS3</text>
<text x="282.5" y="372.2" class="xl">CMS4</text>
<line x1="324.6" y1="331.8" x2="421.6" y2="331.8" stroke="#444" stroke-width="1.1" stroke-dasharray="1.5 1.25"/>
<path d="M323.6 265.2V362.8H421.6" fill="none" stroke="#1a1a1a" stroke-width="1.2"/>
<line x1="323.6" y1="270.48" x2="325.1" y2="270.48" stroke="#222" stroke-width="0.9"/>
<text x="322" y="271.98" class="tk">6</text>
<line x1="323.6" y1="290.92" x2="325.1" y2="290.92" stroke="#222" stroke-width="0.9"/>
<text x="322" y="292.42" class="tk">4</text>
<line x1="323.6" y1="311.36" x2="325.1" y2="311.36" stroke="#222" stroke-width="0.9"/>
<text x="322" y="312.86" class="tk">2</text>
<line x1="323.6" y1="331.8" x2="325.1" y2="331.8" stroke="#222" stroke-width="0.9"/>
<text x="322" y="333.3" class="tk">0</text>
<line x1="323.6" y1="352.24" x2="325.1" y2="352.24" stroke="#222" stroke-width="0.9"/>
<text x="322" y="353.74" class="tk">-2</text>
<g class="g3"><circle cx="339.25" cy="333.9" r="1.15"/><circle cx="359.76" cy="348.1" r="1.15"/><circle cx="363.51" cy="343.04" r="1.15"/><circle cx="361.64" cy="348.1" r="1.15"/><circle cx="359.76" cy="342.47" r="1.15"/><circle cx="367.26" cy="344.5" r="1.15"/><circle cx="365.39" cy="343.39" r="1.15"/><circle cx="354.14" cy="341.06" r="1.15"/><circle cx="356.01" cy="342.36" r="1.15"/><circle cx="361.64" cy="342.74" r="1.15"/><circle cx="357.89" cy="342.37" r="1.15"/><circle cx="356.95" cy="336.9" r="1.15"/><circle cx="364.45" cy="340.14" r="1.15"/><circle cx="358.83" cy="337.88" r="1.15"/><circle cx="360.7" cy="338.51" r="1.15"/><circle cx="360.7" cy="333.97" r="1.15"/><circle cx="362.58" cy="339.41" r="1.15"/><circle cx="358.83" cy="333.73" r="1.15"/><circle cx="366.33" cy="334.48" r="1.15"/><circle cx="353.2" cy="332.69" r="1.15"/><circle cx="364.45" cy="334.3" r="1.15"/><circle cx="356.95" cy="333.11" r="1.15"/><circle cx="368.2" cy="334.57" r="1.15"/><circle cx="355.08" cy="332.97" r="1.15"/><circle cx="362.58" cy="334.1" r="1.15"/><circle cx="362.58" cy="331.04" r="1.15"/><circle cx="358.83" cy="328.1" r="1.15"/><circle cx="360.7" cy="330.2" r="1.15"/><circle cx="364.45" cy="326.23" r="1.15"/><circle cx="362.58" cy="326.06" r="1.15"/><circle cx="356.95" cy="323.67" r="1.15"/><circle cx="358.83" cy="323.67" r="1.15"/><circle cx="360.7" cy="323.67" r="1.15"/><circle cx="359.76" cy="352.24" r="1.15"/><circle cx="361.64" cy="355.31" r="1.15"/><circle cx="385.2" cy="336.26" r="1.15"/><circle cx="383.4" cy="340.97" r="1.15"/><circle cx="381.6" cy="335.73" r="1.15"/><circle cx="387" cy="340.97" r="1.15"/><circle cx="379.8" cy="339.33" r="1.15"/><circle cx="381.6" cy="331.17" r="1.15"/><circle cx="385.2" cy="333.89" r="1.15"/><circle cx="385.2" cy="353.26" r="1.15"/><circle cx="405.8" cy="334.82" r="1.15"/><circle cx="411.2" cy="332.43" r="1.15"/><circle cx="407.6" cy="332.21" r="1.15"/><circle cx="409.4" cy="328.7" r="1.15"/><circle cx="404" cy="330.62" r="1.15"/><circle cx="405.8" cy="327.09" r="1.15"/><circle cx="402.2" cy="325.37" r="1.15"/><circle cx="405.8" cy="322.12" r="1.15"/><circle cx="398.6" cy="321.28" r="1.15"/><circle cx="402.2" cy="321.6" r="1.15"/><circle cx="402.2" cy="315.14" r="1.15"/><circle cx="405.8" cy="316.52" r="1.15"/><circle cx="413" cy="314.78" r="1.15"/><circle cx="405.8" cy="314.38" r="1.15"/><circle cx="409.4" cy="314.4" r="1.15"/><circle cx="398.6" cy="311.41" r="1.15"/><circle cx="402.2" cy="313.24" r="1.15"/></g>
<g class="rd"><circle cx="338" cy="334.84" r="1.15"/><circle cx="335.5" cy="323.32" r="1.15"/><circle cx="336.75" cy="330.35" r="1.15"/><circle cx="344.25" cy="330.17" r="1.15"/><circle cx="336.75" cy="328.45" r="1.15"/><circle cx="341.75" cy="330.01" r="1.15"/><circle cx="339.25" cy="329.52" r="1.15"/><circle cx="345.5" cy="325.07" r="1.15"/><circle cx="331.75" cy="326.73" r="1.15"/><circle cx="330.5" cy="321.98" r="1.15"/><circle cx="338" cy="323.92" r="1.15"/><circle cx="334.25" cy="327.25" r="1.15"/><circle cx="343" cy="324.9" r="1.15"/><circle cx="333" cy="322.42" r="1.15"/><circle cx="340.5" cy="324.65" r="1.15"/><circle cx="338" cy="316.96" r="1.15"/><circle cx="338" cy="307.27" r="1.15"/><circle cx="336.75" cy="348.15" r="1.15"/><circle cx="339.25" cy="348.15" r="1.15"/><circle cx="383.4" cy="346.11" r="1.15"/><circle cx="381.6" cy="352.24" r="1.15"/><circle cx="400.4" cy="330.02" r="1.15"/><circle cx="409.4" cy="323.05" r="1.15"/><circle cx="413" cy="324.64" r="1.15"/><circle cx="409.4" cy="318.64" r="1.15"/></g>
<line x1="330.5" y1="328.22" x2="345.5" y2="328.22" stroke="#5a0c0c" stroke-width="1.4"/>
<line x1="353.2" y1="337.93" x2="368.2" y2="337.93" stroke="#111" stroke-width="1.4"/>
<line x1="375.9" y1="333.33" x2="390.9" y2="333.33" stroke="#111" stroke-width="1.4"/>
<line x1="398.3" y1="324.13" x2="413.3" y2="324.13" stroke="#111" stroke-width="1.4"/>
<path d="M338.2 302.7V295.5H358.8V319.8" class="br"/>
<path d="M363.2 319.8V295.5H383.4V323.2" class="br"/>
<path d="M360.8 281.1V275.9H406V305.5" class="br"/>
<circle cx="346.1" cy="289.9" r="1.35" class="st"/><circle cx="350.9" cy="289.9" r="1.35" class="st"/>
<text x="373.3" y="290.9" class="ns">ns</text>
<circle cx="376.2" cy="270.3" r="1.35" class="st"/><circle cx="381" cy="270.3" r="1.35" class="st"/><circle cx="385.8" cy="270.3" r="1.35" class="st"/><circle cx="390.6" cy="270.3" r="1.35" class="st"/>
<text x="338.3" y="372.2" class="xl">CMS1</text>
<text x="361" y="372.2" class="xl">CMS2</text>
<text x="383.7" y="372.2" class="xl">CMS3</text>
<text x="406.1" y="372.2" class="xl">CMS4</text>
<line x1="447.7" y1="320.5" x2="544.7" y2="320.5" stroke="#444" stroke-width="1.1" stroke-dasharray="1.5 1.25"/>
<path d="M446.7 265.2V362.8H544.7" fill="none" stroke="#1a1a1a" stroke-width="1.2"/>
<line x1="446.7" y1="269.8" x2="448.2" y2="269.8" stroke="#222" stroke-width="0.9"/>
<text x="445.1" y="271.3" class="tk">6</text>
<line x1="446.7" y1="286.7" x2="448.2" y2="286.7" stroke="#222" stroke-width="0.9"/>
<text x="445.1" y="288.2" class="tk">4</text>
<line x1="446.7" y1="303.6" x2="448.2" y2="303.6" stroke="#222" stroke-width="0.9"/>
<text x="445.1" y="305.1" class="tk">2</text>
<line x1="446.7" y1="320.5" x2="448.2" y2="320.5" stroke="#222" stroke-width="0.9"/>
<text x="445.1" y="322" class="tk">0</text>
<line x1="446.7" y1="337.4" x2="448.2" y2="337.4" stroke="#222" stroke-width="0.9"/>
<text x="445.1" y="338.9" class="tk">-2</text>
<line x1="446.7" y1="354.3" x2="448.2" y2="354.3" stroke="#222" stroke-width="0.9"/>
<text x="445.1" y="355.8" class="tk">-4</text>
<g class="g3"><circle cx="462.17" cy="323.85" r="1.15"/><circle cx="482.73" cy="331.91" r="1.15"/><circle cx="487.01" cy="332.21" r="1.15"/><circle cx="484.87" cy="331.91" r="1.15"/><circle cx="484.87" cy="329.49" r="1.15"/><circle cx="480.59" cy="331.58" r="1.15"/><circle cx="487.01" cy="329.71" r="1.15"/><circle cx="489.16" cy="329.9" r="1.15"/><circle cx="482.73" cy="328.11" r="1.15"/><circle cx="478.44" cy="327.27" r="1.15"/><circle cx="480.59" cy="328.1" r="1.15"/><circle cx="487.01" cy="325.02" r="1.15"/><circle cx="482.73" cy="324.25" r="1.15"/><circle cx="489.16" cy="325.13" r="1.15"/><circle cx="484.87" cy="324.73" r="1.15"/><circle cx="480.59" cy="324" r="1.15"/><circle cx="489.16" cy="321.74" r="1.15"/><circle cx="478.44" cy="323.57" r="1.15"/><circle cx="487.01" cy="320.82" r="1.15"/><circle cx="491.3" cy="322.42" r="1.15"/><circle cx="484.87" cy="320.76" r="1.15"/><circle cx="476.3" cy="319.53" r="1.15"/><circle cx="482.73" cy="320.3" r="1.15"/><circle cx="480.59" cy="319.68" r="1.15"/><circle cx="489.16" cy="318.06" r="1.15"/><circle cx="478.44" cy="319.64" r="1.15"/><circle cx="487.01" cy="317.73" r="1.15"/><circle cx="478.44" cy="315.81" r="1.15"/><circle cx="482.73" cy="315.99" r="1.15"/><circle cx="484.87" cy="316.07" r="1.15"/><circle cx="480.59" cy="315.98" r="1.15"/><circle cx="482.73" cy="312.09" r="1.15"/><circle cx="484.87" cy="312.09" r="1.15"/><circle cx="482.73" cy="338.25" r="1.15"/><circle cx="484.87" cy="339.94" r="1.15"/><circle cx="506.5" cy="326.24" r="1.15"/><circle cx="504.7" cy="322.13" r="1.15"/><circle cx="501.1" cy="321.41" r="1.15"/><circle cx="511.9" cy="324.66" r="1.15"/><circle cx="504.7" cy="316.3" r="1.15"/><circle cx="508.3" cy="316.3" r="1.15"/><circle cx="508.3" cy="323.89" r="1.15"/><circle cx="506.5" cy="358.52" r="1.15"/><circle cx="526.4" cy="321.6" r="1.15"/><circle cx="531.4" cy="322.32" r="1.15"/><circle cx="528.9" cy="321.69" r="1.15"/><circle cx="533.9" cy="322.86" r="1.15"/><circle cx="530.15" cy="319.05" r="1.15"/><circle cx="531.4" cy="311.3" r="1.15"/><circle cx="523.9" cy="313.2" r="1.15"/><circle cx="528.9" cy="313.44" r="1.15"/><circle cx="536.4" cy="315.21" r="1.15"/><circle cx="526.4" cy="313.44" r="1.15"/><circle cx="521.4" cy="312.3" r="1.15"/><circle cx="531.4" cy="313.68" r="1.15"/><circle cx="528.9" cy="308.58" r="1.15"/><circle cx="527.65" cy="306.39" r="1.15"/><circle cx="526.4" cy="307.8" r="1.15"/><circle cx="530.15" cy="306.53" r="1.15"/><circle cx="525.15" cy="303.64" r="1.15"/></g>
<g class="rd"><circle cx="457.89" cy="318.34" r="1.15"/><circle cx="464.31" cy="320.4" r="1.15"/><circle cx="466.46" cy="320.8" r="1.15"/><circle cx="460.03" cy="321.28" r="1.15"/><circle cx="462.17" cy="319.78" r="1.15"/><circle cx="460.03" cy="318.89" r="1.15"/><circle cx="455.74" cy="317.37" r="1.15"/><circle cx="468.6" cy="315.77" r="1.15"/><circle cx="464.31" cy="313.82" r="1.15"/><circle cx="466.46" cy="314.62" r="1.15"/><circle cx="463.24" cy="312.05" r="1.15"/><circle cx="457.89" cy="312.6" r="1.15"/><circle cx="455.74" cy="312.5" r="1.15"/><circle cx="453.6" cy="312.35" r="1.15"/><circle cx="460.03" cy="313.07" r="1.15"/><circle cx="462.17" cy="313.49" r="1.15"/><circle cx="461.1" cy="309.32" r="1.15"/><circle cx="458.96" cy="308.48" r="1.15"/><circle cx="461.1" cy="300.22" r="1.15"/><circle cx="510.1" cy="326.46" r="1.15"/><circle cx="502.9" cy="325.01" r="1.15"/><circle cx="523.9" cy="320.78" r="1.15"/><circle cx="527.65" cy="316.83" r="1.15"/><circle cx="533.9" cy="314.33" r="1.15"/><circle cx="532.65" cy="307.21" r="1.15"/></g>
<line x1="453.6" y1="317.12" x2="468.6" y2="317.12" stroke="#5a0c0c" stroke-width="1.4"/>
<line x1="476.3" y1="323.88" x2="491.3" y2="323.88" stroke="#111" stroke-width="1.4"/>
<line x1="499" y1="326.42" x2="514" y2="326.42" stroke="#111" stroke-width="1.4"/>
<line x1="521.4" y1="316.27" x2="536.4" y2="316.27" stroke="#111" stroke-width="1.4"/>
<path d="M461.3 295.5V288.6H481.9V306.1" class="br"/>
<path d="M486.3 306.1V288.6H506.5V311.8" class="br"/>
<path d="M483.9 275.5V269.1H529.1V297.7" class="br"/>
<circle cx="466.8" cy="283" r="1.35" class="st"/><circle cx="471.6" cy="283" r="1.35" class="st"/><circle cx="476.4" cy="283" r="1.35" class="st"/>
<text x="496.4" y="284" class="ns">ns</text>
<circle cx="499.3" cy="263.5" r="1.35" class="st"/><circle cx="504.1" cy="263.5" r="1.35" class="st"/><circle cx="508.9" cy="263.5" r="1.35" class="st"/><circle cx="513.7" cy="263.5" r="1.35" class="st"/>
<text x="461.4" y="372.2" class="xl">CMS1</text>
<text x="484.1" y="372.2" class="xl">CMS2</text>
<text x="506.8" y="372.2" class="xl">CMS3</text>
<text x="529.2" y="372.2" class="xl">CMS4</text>
<text transform="translate(70.6,314.5) rotate(-90)" class="yl" textLength="17.5" lengthAdjust="spacingAndGlyphs"><tspan font-style="italic">TGFB</tspan></text>
<text transform="translate(194.1,314.5) rotate(-90)" class="yl" textLength="17.0" lengthAdjust="spacingAndGlyphs">TBSS</text>
<text transform="translate(317.4,314.5) rotate(-90)" class="yl" textLength="51.3" lengthAdjust="spacingAndGlyphs">M2 macrophage</text>
<text transform="translate(440.4,314.5) rotate(-90)" class="yl" textLength="52.0" lengthAdjust="spacingAndGlyphs"><tspan font-style="italic">HAVCR2</tspan> (TIM-3)</text>
<line x1="77.6" y1="446.6" x2="174.6" y2="446.6" stroke="#444" stroke-width="1.1" stroke-dasharray="1.5 1.25"/>
<path d="M76.6 385.2V483H174.6" fill="none" stroke="#1a1a1a" stroke-width="1.2"/>
<line x1="76.6" y1="397.1" x2="78.1" y2="397.1" stroke="#222" stroke-width="0.9"/>
<text x="75" y="398.6" class="tk">6</text>
<line x1="76.6" y1="413.6" x2="78.1" y2="413.6" stroke="#222" stroke-width="0.9"/>
<text x="75" y="415.1" class="tk">4</text>
<line x1="76.6" y1="430.1" x2="78.1" y2="430.1" stroke="#222" stroke-width="0.9"/>
<text x="75" y="431.6" class="tk">2</text>
<line x1="76.6" y1="446.6" x2="78.1" y2="446.6" stroke="#222" stroke-width="0.9"/>
<text x="75" y="448.1" class="tk">0</text>
<line x1="76.6" y1="463.1" x2="78.1" y2="463.1" stroke="#222" stroke-width="0.9"/>
<text x="75" y="464.6" class="tk">-2</text>
<line x1="76.6" y1="479.6" x2="78.1" y2="479.6" stroke="#222" stroke-width="0.9"/>
<text x="75" y="481.1" class="tk">-4</text>
<g class="g4"><circle cx="91" cy="459.79" r="1.0"/><circle cx="92.7" cy="458.75" r="1.0"/><circle cx="89.3" cy="453.42" r="1.0"/><circle cx="96.1" cy="455.41" r="1.0"/><circle cx="92.7" cy="454.57" r="1.0"/><circle cx="85.9" cy="452.06" r="1.0"/><circle cx="89.3" cy="455.98" r="1.0"/><circle cx="91" cy="449.66" r="1.0"/><circle cx="97.8" cy="447.96" r="1.0"/><circle cx="94.4" cy="450.03" r="1.0"/><circle cx="89.3" cy="440.56" r="1.0"/><circle cx="87.6" cy="448.06" r="1.0"/><circle cx="91" cy="446.63" r="1.0"/><circle cx="84.2" cy="444.61" r="1.0"/><circle cx="92.7" cy="441.87" r="1.0"/><circle cx="94.4" cy="439.27" r="1.0"/><circle cx="94.4" cy="447.23" r="1.0"/><circle cx="87.6" cy="444.86" r="1.0"/><circle cx="84.2" cy="436.71" r="1.0"/><circle cx="97.8" cy="439.99" r="1.0"/><circle cx="91" cy="439.23" r="1.0"/><circle cx="87.6" cy="437.44" r="1.0"/><circle cx="115.37" cy="464.47" r="1.0"/><circle cx="113.7" cy="464.16" r="1.0"/><circle cx="111.2" cy="458.98" r="1.0"/><circle cx="119.53" cy="460.88" r="1.0"/><circle cx="112.03" cy="461.89" r="1.0"/><circle cx="114.53" cy="460.33" r="1.0"/><circle cx="117.87" cy="460.74" r="1.0"/><circle cx="116.2" cy="460.42" r="1.0"/><circle cx="112.87" cy="459.4" r="1.0"/><circle cx="119.53" cy="457.12" r="1.0"/><circle cx="109.53" cy="458.34" r="1.0"/><circle cx="107.87" cy="458.17" r="1.0"/><circle cx="117.87" cy="456.96" r="1.0"/><circle cx="114.53" cy="456.22" r="1.0"/><circle cx="116.2" cy="456.26" r="1.0"/><circle cx="112.87" cy="455.97" r="1.0"/><circle cx="107.87" cy="454.58" r="1.0"/><circle cx="109.53" cy="455.29" r="1.0"/><circle cx="111.2" cy="455.67" r="1.0"/><circle cx="119.53" cy="453.79" r="1.0"/><circle cx="111.2" cy="452.07" r="1.0"/><circle cx="121.2" cy="454.41" r="1.0"/><circle cx="114.53" cy="452.54" r="1.0"/><circle cx="109.53" cy="451.94" r="1.0"/><circle cx="107.87" cy="451.8" r="1.0"/><circle cx="106.2" cy="451.05" r="1.0"/><circle cx="112.87" cy="452.44" r="1.0"/><circle cx="117.87" cy="452.83" r="1.0"/><circle cx="116.2" cy="452.74" r="1.0"/><circle cx="117.87" cy="449.96" r="1.0"/><circle cx="111.2" cy="448.48" r="1.0"/><circle cx="119.53" cy="450.55" r="1.0"/><circle cx="116.2" cy="449.88" r="1.0"/><circle cx="121.2" cy="446.26" r="1.0"/><circle cx="112.87" cy="449.51" r="1.0"/><circle cx="114.53" cy="449.82" r="1.0"/><circle cx="109.53" cy="448.13" r="1.0"/><circle cx="116.2" cy="445.19" r="1.0"/><circle cx="119.53" cy="446.09" r="1.0"/><circle cx="107.87" cy="447.32" r="1.0"/><circle cx="117.87" cy="446.04" r="1.0"/><circle cx="114.53" cy="444.74" r="1.0"/><circle cx="112.87" cy="444.32" r="1.0"/><circle cx="109.53" cy="443.48" r="1.0"/><circle cx="111.2" cy="443.64" r="1.0"/><circle cx="107.87" cy="443.46" r="1.0"/><circle cx="117.03" cy="441.84" r="1.0"/><circle cx="112.03" cy="439.2" r="1.0"/><circle cx="106.2" cy="443.38" r="1.0"/><circle cx="115.37" cy="441.76" r="1.0"/><circle cx="110.37" cy="438.45" r="1.0"/><circle cx="113.7" cy="441.14" r="1.0"/><circle cx="112.87" cy="471.35" r="1.0"/><circle cx="114.53" cy="473.83" r="1.0"/><circle cx="113.7" cy="479.6" r="1.0"/><circle cx="136.4" cy="458.91" r="1.0"/><circle cx="135.15" cy="455.21" r="1.0"/><circle cx="137.65" cy="455.34" r="1.0"/><circle cx="141.4" cy="453.43" r="1.0"/><circle cx="138.9" cy="453.14" r="1.0"/><circle cx="136.4" cy="452.9" r="1.0"/><circle cx="133.9" cy="451.84" r="1.0"/><circle cx="137.65" cy="449.78" r="1.0"/><circle cx="143.9" cy="453.86" r="1.0"/><circle cx="132.65" cy="447.24" r="1.0"/><circle cx="128.9" cy="450.69" r="1.0"/><circle cx="140.15" cy="450.41" r="1.0"/><circle cx="138.9" cy="445.58" r="1.0"/><circle cx="131.4" cy="450.96" r="1.0"/><circle cx="135.15" cy="448.59" r="1.0"/><circle cx="138.9" cy="443.23" r="1.0"/><circle cx="133.9" cy="443.66" r="1.0"/><circle cx="133.9" cy="440.24" r="1.0"/><circle cx="136.4" cy="444.01" r="1.0"/><circle cx="136.4" cy="441.84" r="1.0"/><circle cx="136.4" cy="464.75" r="1.0"/><circle cx="135.15" cy="469.7" r="1.0"/><circle cx="137.65" cy="471.35" r="1.0"/><circle cx="157.86" cy="447.12" r="1.0"/><circle cx="159.74" cy="449.82" r="1.0"/><circle cx="166.3" cy="446.25" r="1.0"/><circle cx="164.43" cy="445.68" r="1.0"/><circle cx="156.93" cy="443.99" r="1.0"/><circle cx="155.05" cy="443.98" r="1.0"/><circle cx="162.55" cy="445.34" r="1.0"/><circle cx="160.68" cy="444.05" r="1.0"/><circle cx="151.3" cy="443.2" r="1.0"/><circle cx="153.18" cy="443.35" r="1.0"/><circle cx="155.05" cy="440.33" r="1.0"/><circle cx="162.55" cy="441.5" r="1.0"/><circle cx="158.8" cy="444.02" r="1.0"/><circle cx="156.93" cy="440.64" r="1.0"/><circle cx="160.68" cy="441.34" r="1.0"/><circle cx="158.8" cy="440.7" r="1.0"/><circle cx="164.43" cy="441.82" r="1.0"/><circle cx="153.18" cy="439.34" r="1.0"/><circle cx="156.93" cy="437.3" r="1.0"/><circle cx="162.55" cy="438.53" r="1.0"/><circle cx="164.43" cy="439.05" r="1.0"/><circle cx="155.05" cy="436.79" r="1.0"/><circle cx="160.68" cy="438.27" r="1.0"/><circle cx="166.3" cy="435.03" r="1.0"/><circle cx="158.8" cy="437.76" r="1.0"/><circle cx="153.18" cy="435.9" r="1.0"/><circle cx="160.68" cy="433.46" r="1.0"/><circle cx="164.43" cy="434.16" r="1.0"/><circle cx="162.55" cy="433.56" r="1.0"/><circle cx="151.3" cy="431.85" r="1.0"/><circle cx="155.05" cy="432.48" r="1.0"/><circle cx="156.93" cy="432.59" r="1.0"/><circle cx="158.8" cy="432.91" r="1.0"/><circle cx="153.18" cy="432.23" r="1.0"/><circle cx="158.8" cy="423.5" r="1.0"/></g>
<line x1="83.5" y1="446.6" x2="98.5" y2="446.6" stroke="#111" stroke-width="1.4"/>
<line x1="106.2" y1="451.55" x2="121.2" y2="451.55" stroke="#111" stroke-width="1.4"/>
<line x1="128.9" y1="454.85" x2="143.9" y2="454.85" stroke="#111" stroke-width="1.4"/>
<line x1="151.3" y1="439.18" x2="166.3" y2="439.18" stroke="#111" stroke-width="1.4"/>
<path d="M91.2 420V413.2H111.8V435.2" class="br"/>
<path d="M116.2 435.2V413.2H136.4V436.4" class="br"/>
<path d="M113.8 398.9V392.7H159V418.2" class="br"/>
<circle cx="101.5" cy="407.6" r="1.35" class="st"/>
<text x="126.3" y="408.6" class="ns">ns</text>
<circle cx="129.2" cy="387.1" r="1.35" class="st"/><circle cx="134" cy="387.1" r="1.35" class="st"/><circle cx="138.8" cy="387.1" r="1.35" class="st"/><circle cx="143.6" cy="387.1" r="1.35" class="st"/>
<text x="91.3" y="492.4" class="xl">CMS1</text>
<text x="114" y="492.4" class="xl">CMS2</text>
<text x="136.7" y="492.4" class="xl">CMS3</text>
<text x="159.1" y="492.4" class="xl">CMS4</text>
<line x1="201" y1="441.6" x2="298" y2="441.6" stroke="#444" stroke-width="1.1" stroke-dasharray="1.5 1.25"/>
<line x1="200" y1="385.2" x2="200" y2="483" stroke="#7a7a7a" stroke-width="1.4"/>
<line x1="199.4" y1="483" x2="298" y2="483" stroke="#1a1a1a" stroke-width="1.2"/>
<line x1="200" y1="401" x2="201.5" y2="401" stroke="#222" stroke-width="0.9"/>
<text x="198.4" y="402.5" class="tk">4</text>
<line x1="200" y1="421.3" x2="201.5" y2="421.3" stroke="#222" stroke-width="0.9"/>
<text x="198.4" y="422.8" class="tk">2</text>
<line x1="200" y1="441.6" x2="201.5" y2="441.6" stroke="#222" stroke-width="0.9"/>
<text x="198.4" y="443.1" class="tk">0</text>
<line x1="200" y1="461.9" x2="201.5" y2="461.9" stroke="#222" stroke-width="0.9"/>
<text x="198.4" y="463.4" class="tk">-2</text>
<line x1="200" y1="482.2" x2="201.5" y2="482.2" stroke="#222" stroke-width="0.9"/>
<text x="198.4" y="483.7" class="tk">-4</text>
<g class="g4"><circle cx="216.54" cy="447.31" r="1.0"/><circle cx="213.33" cy="447.43" r="1.0"/><circle cx="215.47" cy="449.65" r="1.0"/><circle cx="212.26" cy="444.03" r="1.0"/><circle cx="214.4" cy="444.43" r="1.0"/><circle cx="221.9" cy="443.65" r="1.0"/><circle cx="219.76" cy="443.29" r="1.0"/><circle cx="206.9" cy="440.48" r="1.0"/><circle cx="209.04" cy="440.9" r="1.0"/><circle cx="216.54" cy="439.82" r="1.0"/><circle cx="215.47" cy="441.57" r="1.0"/><circle cx="211.19" cy="441.25" r="1.0"/><circle cx="213.33" cy="441.54" r="1.0"/><circle cx="214.4" cy="439.75" r="1.0"/><circle cx="217.61" cy="443.05" r="1.0"/><circle cx="213.33" cy="433.86" r="1.0"/><circle cx="212.26" cy="436.97" r="1.0"/><circle cx="217.61" cy="436.26" r="1.0"/><circle cx="211.19" cy="433.54" r="1.0"/><circle cx="215.47" cy="435.53" r="1.0"/><circle cx="213.33" cy="452.77" r="1.0"/><circle cx="215.47" cy="454.8" r="1.0"/><circle cx="236.35" cy="457.84" r="1.0"/><circle cx="237.1" cy="461.79" r="1.0"/><circle cx="234.85" cy="456.54" r="1.0"/><circle cx="237.85" cy="457.9" r="1.0"/><circle cx="242.35" cy="456.28" r="1.0"/><circle cx="239.35" cy="458.91" r="1.0"/><circle cx="240.85" cy="456.04" r="1.0"/><circle cx="233.35" cy="453.73" r="1.0"/><circle cx="237.85" cy="455.54" r="1.0"/><circle cx="239.35" cy="455.77" r="1.0"/><circle cx="236.35" cy="454.97" r="1.0"/><circle cx="234.85" cy="454.58" r="1.0"/><circle cx="237.1" cy="452.42" r="1.0"/><circle cx="238.6" cy="452.69" r="1.0"/><circle cx="231.85" cy="453.09" r="1.0"/><circle cx="235.6" cy="451.11" r="1.0"/><circle cx="241.6" cy="452.9" r="1.0"/><circle cx="240.1" cy="452.86" r="1.0"/><circle cx="237.1" cy="448.09" r="1.0"/><circle cx="234.1" cy="451.03" r="1.0"/><circle cx="240.1" cy="448.17" r="1.0"/><circle cx="232.6" cy="449.59" r="1.0"/><circle cx="244.6" cy="449.33" r="1.0"/><circle cx="238.6" cy="448.16" r="1.0"/><circle cx="243.1" cy="449.21" r="1.0"/><circle cx="241.6" cy="448.8" r="1.0"/><circle cx="235.6" cy="447.76" r="1.0"/><circle cx="234.1" cy="447.56" r="1.0"/><circle cx="229.6" cy="446.08" r="1.0"/><circle cx="239.35" cy="444.41" r="1.0"/><circle cx="232.6" cy="447.23" r="1.0"/><circle cx="231.1" cy="446.56" r="1.0"/><circle cx="240.85" cy="444.49" r="1.0"/><circle cx="237.85" cy="444.35" r="1.0"/><circle cx="233.35" cy="443.26" r="1.0"/><circle cx="243.85" cy="444.89" r="1.0"/><circle cx="231.85" cy="443" r="1.0"/><circle cx="234.85" cy="443.32" r="1.0"/><circle cx="242.35" cy="444.64" r="1.0"/><circle cx="230.35" cy="441.85" r="1.0"/><circle cx="236.35" cy="443.76" r="1.0"/><circle cx="238.6" cy="440.79" r="1.0"/><circle cx="240.1" cy="441.58" r="1.0"/><circle cx="237.1" cy="440.78" r="1.0"/><circle cx="236.35" cy="436.45" r="1.0"/><circle cx="237.85" cy="436.95" r="1.0"/><circle cx="234.1" cy="438.25" r="1.0"/><circle cx="240.85" cy="437.67" r="1.0"/><circle cx="235.6" cy="438.96" r="1.0"/><circle cx="233.35" cy="434.6" r="1.0"/><circle cx="234.85" cy="434.6" r="1.0"/><circle cx="239.35" cy="437.24" r="1.0"/><circle cx="236.35" cy="467.99" r="1.0"/><circle cx="237.85" cy="471.04" r="1.0"/><circle cx="237.1" cy="474.08" r="1.0"/><circle cx="261.3" cy="461.81" r="1.0"/><circle cx="256.8" cy="456.05" r="1.0"/><circle cx="258.3" cy="461.09" r="1.0"/><circle cx="262.8" cy="456.59" r="1.0"/><circle cx="261.3" cy="454.34" r="1.0"/><circle cx="258.3" cy="452.25" r="1.0"/><circle cx="259.8" cy="456.35" r="1.0"/><circle cx="261.3" cy="449.49" r="1.0"/><circle cx="255.3" cy="447.9" r="1.0"/><circle cx="258.3" cy="449.48" r="1.0"/><circle cx="264.3" cy="449.63" r="1.0"/><circle cx="267.3" cy="450.11" r="1.0"/><circle cx="252.3" cy="447.33" r="1.0"/><circle cx="262.8" cy="439.79" r="1.0"/><circle cx="258.3" cy="443.62" r="1.0"/><circle cx="253.8" cy="436.63" r="1.0"/><circle cx="261.3" cy="444.38" r="1.0"/><circle cx="256.8" cy="436.63" r="1.0"/><circle cx="259.8" cy="436.63" r="1.0"/><circle cx="265.8" cy="440.01" r="1.0"/><circle cx="259.8" cy="464.95" r="1.0"/><circle cx="258.3" cy="476.11" r="1.0"/><circle cx="261.3" cy="478.14" r="1.0"/><circle cx="283.87" cy="441.53" r="1.0"/><circle cx="283.03" cy="436.42" r="1.0"/><circle cx="280.53" cy="438.38" r="1.0"/><circle cx="288.03" cy="437.92" r="1.0"/><circle cx="278.03" cy="435.48" r="1.0"/><circle cx="289.7" cy="438" r="1.0"/><circle cx="286.37" cy="437.89" r="1.0"/><circle cx="282.2" cy="439.15" r="1.0"/><circle cx="284.7" cy="437.7" r="1.0"/><circle cx="276.37" cy="435.05" r="1.0"/><circle cx="281.37" cy="435.71" r="1.0"/><circle cx="279.7" cy="435.6" r="1.0"/><circle cx="288.87" cy="433.7" r="1.0"/><circle cx="287.2" cy="433.59" r="1.0"/><circle cx="285.53" cy="432.77" r="1.0"/><circle cx="274.7" cy="434.83" r="1.0"/><circle cx="280.53" cy="431.89" r="1.0"/><circle cx="283.87" cy="432.37" r="1.0"/><circle cx="282.2" cy="432" r="1.0"/><circle cx="275.53" cy="430.69" r="1.0"/><circle cx="288.87" cy="430.51" r="1.0"/><circle cx="278.87" cy="431.19" r="1.0"/><circle cx="277.2" cy="431.05" r="1.0"/><circle cx="280.53" cy="427.5" r="1.0"/><circle cx="283.87" cy="428.57" r="1.0"/><circle cx="285.53" cy="429.12" r="1.0"/><circle cx="277.2" cy="427.36" r="1.0"/><circle cx="283.87" cy="426.49" r="1.0"/><circle cx="275.53" cy="427.18" r="1.0"/><circle cx="287.2" cy="429.34" r="1.0"/><circle cx="278.87" cy="427.41" r="1.0"/><circle cx="282.2" cy="427.71" r="1.0"/><circle cx="280.53" cy="423.4" r="1.0"/><circle cx="282.2" cy="423.4" r="1.0"/><circle cx="282.2" cy="452.77" r="1.0"/></g>
<line x1="206.9" y1="441.09" x2="221.9" y2="441.09" stroke="#111" stroke-width="1.4"/>
<line x1="229.6" y1="446.68" x2="244.6" y2="446.68" stroke="#111" stroke-width="1.4"/>
<line x1="252.3" y1="451.75" x2="267.3" y2="451.75" stroke="#111" stroke-width="1.4"/>
<line x1="274.7" y1="432.47" x2="289.7" y2="432.47" stroke="#111" stroke-width="1.4"/>
<path d="M214.6 420.5V411.4H235.2V433" class="br"/>
<path d="M239.6 433V411.4H259.8V434.5" class="br"/>
<path d="M237.2 397.7V392H282.4V417" class="br"/>
<circle cx="224.9" cy="405.8" r="1.35" class="st"/>
<text x="249.7" y="406.8" class="ns">ns</text>
<circle cx="252.6" cy="386.4" r="1.35" class="st"/><circle cx="257.4" cy="386.4" r="1.35" class="st"/><circle cx="262.2" cy="386.4" r="1.35" class="st"/><circle cx="267" cy="386.4" r="1.35" class="st"/>
<text x="214.7" y="492.4" class="xl">CMS1</text>
<text x="237.4" y="492.4" class="xl">CMS2</text>
<text x="260.1" y="492.4" class="xl">CMS3</text>
<text x="282.5" y="492.4" class="xl">CMS4</text>
<line x1="324.6" y1="448.9" x2="421.6" y2="448.9" stroke="#444" stroke-width="1.1" stroke-dasharray="1.5 1.25"/>
<path d="M323.6 385.2V483H421.6" fill="none" stroke="#1a1a1a" stroke-width="1.2"/>
<line x1="323.6" y1="389.8" x2="325.1" y2="389.8" stroke="#222" stroke-width="0.9"/>
<text x="322" y="391.3" class="tk">6</text>
<line x1="323.6" y1="409.5" x2="325.1" y2="409.5" stroke="#222" stroke-width="0.9"/>
<text x="322" y="411" class="tk">4</text>
<line x1="323.6" y1="429.2" x2="325.1" y2="429.2" stroke="#222" stroke-width="0.9"/>
<text x="322" y="430.7" class="tk">2</text>
<line x1="323.6" y1="448.9" x2="325.1" y2="448.9" stroke="#222" stroke-width="0.9"/>
<text x="322" y="450.4" class="tk">0</text>
<line x1="323.6" y1="468.6" x2="325.1" y2="468.6" stroke="#222" stroke-width="0.9"/>
<text x="322" y="470.1" class="tk">-2</text>
<g class="g4"><circle cx="336.5" cy="456.35" r="1.0"/><circle cx="333.5" cy="455.94" r="1.0"/><circle cx="339.5" cy="458.56" r="1.0"/><circle cx="342.5" cy="448.76" r="1.0"/><circle cx="342.5" cy="459.06" r="1.0"/><circle cx="338" cy="451.85" r="1.0"/><circle cx="339.5" cy="448.43" r="1.0"/><circle cx="336.5" cy="448.1" r="1.0"/><circle cx="330.5" cy="447.23" r="1.0"/><circle cx="345.5" cy="450.37" r="1.0"/><circle cx="341" cy="442.07" r="1.0"/><circle cx="333.5" cy="447.64" r="1.0"/><circle cx="342.5" cy="445.1" r="1.0"/><circle cx="339.5" cy="443.96" r="1.0"/><circle cx="333.5" cy="442.95" r="1.0"/><circle cx="336.5" cy="443.31" r="1.0"/><circle cx="341" cy="434.68" r="1.0"/><circle cx="335" cy="439.22" r="1.0"/><circle cx="335" cy="433.25" r="1.0"/><circle cx="338" cy="441.88" r="1.0"/><circle cx="338" cy="433.25" r="1.0"/><circle cx="338" cy="468.6" r="1.0"/><circle cx="362.2" cy="468.5" r="1.0"/><circle cx="363.7" cy="468.5" r="1.0"/><circle cx="360.7" cy="467.2" r="1.0"/><circle cx="357.7" cy="465.28" r="1.0"/><circle cx="359.2" cy="467.15" r="1.0"/><circle cx="365.2" cy="464.23" r="1.0"/><circle cx="362.2" cy="462.78" r="1.0"/><circle cx="363.7" cy="463.32" r="1.0"/><circle cx="359.2" cy="461.74" r="1.0"/><circle cx="356.2" cy="461.27" r="1.0"/><circle cx="360.7" cy="462.07" r="1.0"/><circle cx="365.95" cy="460.46" r="1.0"/><circle cx="367.45" cy="460.61" r="1.0"/><circle cx="364.45" cy="460.28" r="1.0"/><circle cx="357.7" cy="461.33" r="1.0"/><circle cx="362.95" cy="460.02" r="1.0"/><circle cx="361.45" cy="459.91" r="1.0"/><circle cx="356.95" cy="457.87" r="1.0"/><circle cx="359.95" cy="458.23" r="1.0"/><circle cx="353.95" cy="457.65" r="1.0"/><circle cx="355.45" cy="457.79" r="1.0"/><circle cx="358.45" cy="458.1" r="1.0"/><circle cx="368.2" cy="456.92" r="1.0"/><circle cx="366.7" cy="456.85" r="1.0"/><circle cx="365.2" cy="456.58" r="1.0"/><circle cx="359.2" cy="454.95" r="1.0"/><circle cx="363.7" cy="456.31" r="1.0"/><circle cx="356.2" cy="454.54" r="1.0"/><circle cx="362.2" cy="455.5" r="1.0"/><circle cx="364.45" cy="453" r="1.0"/><circle cx="360.7" cy="454.97" r="1.0"/><circle cx="357.7" cy="454.91" r="1.0"/><circle cx="354.7" cy="454.47" r="1.0"/><circle cx="353.2" cy="453.99" r="1.0"/><circle cx="362.95" cy="452.95" r="1.0"/><circle cx="365.95" cy="453.64" r="1.0"/><circle cx="356.95" cy="450.91" r="1.0"/><circle cx="359.95" cy="450.99" r="1.0"/><circle cx="363.7" cy="449.18" r="1.0"/><circle cx="361.45" cy="452.27" r="1.0"/><circle cx="355.45" cy="450.48" r="1.0"/><circle cx="365.2" cy="449.19" r="1.0"/><circle cx="358.45" cy="450.94" r="1.0"/><circle cx="362.2" cy="448.36" r="1.0"/><circle cx="360.7" cy="447.72" r="1.0"/><circle cx="359.2" cy="447.63" r="1.0"/><circle cx="357.7" cy="447.4" r="1.0"/><circle cx="359.95" cy="444.6" r="1.0"/><circle cx="356.2" cy="446.83" r="1.0"/><circle cx="358.45" cy="443.09" r="1.0"/><circle cx="361.45" cy="445.42" r="1.0"/><circle cx="362.95" cy="445.96" r="1.0"/><circle cx="359.95" cy="472.54" r="1.0"/><circle cx="361.45" cy="474.51" r="1.0"/><circle cx="360.7" cy="478.45" r="1.0"/><circle cx="385.1" cy="457.14" r="1.0"/><circle cx="388.5" cy="457.18" r="1.0"/><circle cx="388.5" cy="461.2" r="1.0"/><circle cx="381.7" cy="459.42" r="1.0"/><circle cx="378.3" cy="459.42" r="1.0"/><circle cx="383.4" cy="463.6" r="1.0"/><circle cx="385.1" cy="460.46" r="1.0"/><circle cx="381.7" cy="457.07" r="1.0"/><circle cx="378.3" cy="455.74" r="1.0"/><circle cx="383.4" cy="452.77" r="1.0"/><circle cx="386.8" cy="448.55" r="1.0"/><circle cx="380" cy="452.04" r="1.0"/><circle cx="386.8" cy="452.95" r="1.0"/><circle cx="390.2" cy="453.25" r="1.0"/><circle cx="380" cy="447.76" r="1.0"/><circle cx="376.6" cy="451.6" r="1.0"/><circle cx="390.2" cy="449.4" r="1.0"/><circle cx="380" cy="444.28" r="1.0"/><circle cx="376.6" cy="447.7" r="1.0"/><circle cx="386.8" cy="446.62" r="1.0"/><circle cx="383.4" cy="444.39" r="1.0"/><circle cx="383.4" cy="448.53" r="1.0"/><circle cx="383.4" cy="471.55" r="1.0"/><circle cx="402.8" cy="455.98" r="1.0"/><circle cx="405.8" cy="456.65" r="1.0"/><circle cx="408.8" cy="456.65" r="1.0"/><circle cx="411.8" cy="450.83" r="1.0"/><circle cx="399.8" cy="448.33" r="1.0"/><circle cx="405.8" cy="448.8" r="1.0"/><circle cx="402.8" cy="448.58" r="1.0"/><circle cx="408.8" cy="450.28" r="1.0"/><circle cx="408.8" cy="444.14" r="1.0"/><circle cx="399.8" cy="442.65" r="1.0"/><circle cx="407.3" cy="441.4" r="1.0"/><circle cx="411.8" cy="445.77" r="1.0"/><circle cx="404.3" cy="439.3" r="1.0"/><circle cx="402.8" cy="443.23" r="1.0"/><circle cx="405.8" cy="443.33" r="1.0"/><circle cx="413.3" cy="441.7" r="1.0"/><circle cx="410.3" cy="441.62" r="1.0"/><circle cx="398.3" cy="438.73" r="1.0"/><circle cx="401.3" cy="438.87" r="1.0"/><circle cx="411.8" cy="438.43" r="1.0"/><circle cx="413.3" cy="435.13" r="1.0"/><circle cx="407.3" cy="433.26" r="1.0"/><circle cx="402.8" cy="436.15" r="1.0"/><circle cx="405.8" cy="436.82" r="1.0"/><circle cx="408.8" cy="437.72" r="1.0"/><circle cx="410.3" cy="434.05" r="1.0"/><circle cx="398.3" cy="431.79" r="1.0"/><circle cx="399.8" cy="435.27" r="1.0"/><circle cx="405.8" cy="427.19" r="1.0"/><circle cx="401.3" cy="432.18" r="1.0"/><circle cx="402.8" cy="426.25" r="1.0"/><circle cx="404.3" cy="432.24" r="1.0"/><circle cx="408.8" cy="428.88" r="1.0"/><circle cx="404.3" cy="422.45" r="1.0"/><circle cx="407.3" cy="425.19" r="1.0"/></g>
<line x1="330.5" y1="446.93" x2="345.5" y2="446.93" stroke="#111" stroke-width="1.4"/>
<line x1="353.2" y1="456.78" x2="368.2" y2="456.78" stroke="#111" stroke-width="1.4"/>
<line x1="375.9" y1="456.78" x2="390.9" y2="456.78" stroke="#111" stroke-width="1.4"/>
<line x1="398.3" y1="441.02" x2="413.3" y2="441.02" stroke="#111" stroke-width="1.4"/>
<path d="M338.2 419.3V410.9H358.8V436.8" class="br"/>
<path d="M363.2 436.8V410.9H383.4V438.6" class="br"/>
<path d="M360.8 397.7V391.4H406V416.4" class="br"/>
<circle cx="343.7" cy="405.3" r="1.35" class="st"/><circle cx="348.5" cy="405.3" r="1.35" class="st"/><circle cx="353.3" cy="405.3" r="1.35" class="st"/>
<text x="373.3" y="406.3" class="ns">ns</text>
<circle cx="376.2" cy="385.8" r="1.35" class="st"/><circle cx="381" cy="385.8" r="1.35" class="st"/><circle cx="385.8" cy="385.8" r="1.35" class="st"/><circle cx="390.6" cy="385.8" r="1.35" class="st"/>
<text x="338.3" y="492.4" class="xl">CMS1</text>
<text x="361" y="492.4" class="xl">CMS2</text>
<text x="383.7" y="492.4" class="xl">CMS3</text>
<text x="406.1" y="492.4" class="xl">CMS4</text>
<line x1="447.7" y1="448.9" x2="544.7" y2="448.9" stroke="#444" stroke-width="1.1" stroke-dasharray="1.5 1.25"/>
<path d="M446.7 385.2V483H544.7" fill="none" stroke="#1a1a1a" stroke-width="1.2"/>
<line x1="446.7" y1="390.7" x2="448.2" y2="390.7" stroke="#222" stroke-width="0.9"/>
<text x="445.1" y="392.2" class="tk">6</text>
<line x1="446.7" y1="410.1" x2="448.2" y2="410.1" stroke="#222" stroke-width="0.9"/>
<text x="445.1" y="411.6" class="tk">4</text>
<line x1="446.7" y1="429.5" x2="448.2" y2="429.5" stroke="#222" stroke-width="0.9"/>
<text x="445.1" y="431" class="tk">2</text>
<line x1="446.7" y1="448.9" x2="448.2" y2="448.9" stroke="#222" stroke-width="0.9"/>
<text x="445.1" y="450.4" class="tk">0</text>
<line x1="446.7" y1="468.3" x2="448.2" y2="468.3" stroke="#222" stroke-width="0.9"/>
<text x="445.1" y="469.8" class="tk">-2</text>
<g class="g4"><circle cx="464.5" cy="466.34" r="1.0"/><circle cx="467.9" cy="466.34" r="1.0"/><circle cx="462.8" cy="460.65" r="1.0"/><circle cx="454.3" cy="463.5" r="1.0"/><circle cx="457.7" cy="463.85" r="1.0"/><circle cx="461.1" cy="464.28" r="1.0"/><circle cx="456" cy="452.86" r="1.0"/><circle cx="462.8" cy="454.96" r="1.0"/><circle cx="466.2" cy="455.19" r="1.0"/><circle cx="459.4" cy="454.88" r="1.0"/><circle cx="459.4" cy="459.49" r="1.0"/><circle cx="459.4" cy="446.82" r="1.0"/><circle cx="462.8" cy="449.46" r="1.0"/><circle cx="462.8" cy="443.97" r="1.0"/><circle cx="464.5" cy="435.7" r="1.0"/><circle cx="459.4" cy="441.83" r="1.0"/><circle cx="462.8" cy="439.16" r="1.0"/><circle cx="454.3" cy="432.76" r="1.0"/><circle cx="467.9" cy="435.96" r="1.0"/><circle cx="457.7" cy="432.79" r="1.0"/><circle cx="459.4" cy="436.58" r="1.0"/><circle cx="461.1" cy="433.78" r="1.0"/><circle cx="483.8" cy="470.11" r="1.0"/><circle cx="486.61" cy="469.05" r="1.0"/><circle cx="481.93" cy="469.22" r="1.0"/><circle cx="485.68" cy="470.11" r="1.0"/><circle cx="484.74" cy="467.49" r="1.0"/><circle cx="488.49" cy="463.32" r="1.0"/><circle cx="480.99" cy="465.67" r="1.0"/><circle cx="482.86" cy="466.77" r="1.0"/><circle cx="486.61" cy="462.52" r="1.0"/><circle cx="484.74" cy="462.29" r="1.0"/><circle cx="480.99" cy="461.93" r="1.0"/><circle cx="479.11" cy="461.53" r="1.0"/><circle cx="482.86" cy="461.95" r="1.0"/><circle cx="486.61" cy="459.76" r="1.0"/><circle cx="480.99" cy="458.65" r="1.0"/><circle cx="490.36" cy="460.79" r="1.0"/><circle cx="488.49" cy="460.17" r="1.0"/><circle cx="477.24" cy="457.41" r="1.0"/><circle cx="479.11" cy="457.57" r="1.0"/><circle cx="482.86" cy="459.01" r="1.0"/><circle cx="484.74" cy="459.27" r="1.0"/><circle cx="487.55" cy="455.97" r="1.0"/><circle cx="489.43" cy="456.3" r="1.0"/><circle cx="485.68" cy="455.7" r="1.0"/><circle cx="491.3" cy="456.62" r="1.0"/><circle cx="480.05" cy="453.66" r="1.0"/><circle cx="483.8" cy="455.45" r="1.0"/><circle cx="489.43" cy="452.84" r="1.0"/><circle cx="476.3" cy="453.51" r="1.0"/><circle cx="481.93" cy="450.64" r="1.0"/><circle cx="481.93" cy="453.88" r="1.0"/><circle cx="478.18" cy="453.61" r="1.0"/><circle cx="480.05" cy="450.42" r="1.0"/><circle cx="491.3" cy="452.97" r="1.0"/><circle cx="488.49" cy="449.38" r="1.0"/><circle cx="487.55" cy="452.42" r="1.0"/><circle cx="478.18" cy="450.3" r="1.0"/><circle cx="483.8" cy="450.97" r="1.0"/><circle cx="476.3" cy="450.08" r="1.0"/><circle cx="485.68" cy="450.97" r="1.0"/><circle cx="480.99" cy="447.25" r="1.0"/><circle cx="486.61" cy="448.13" r="1.0"/><circle cx="484.74" cy="447.75" r="1.0"/><circle cx="480.05" cy="442.93" r="1.0"/><circle cx="482.86" cy="447.35" r="1.0"/><circle cx="483.8" cy="444.54" r="1.0"/><circle cx="479.11" cy="446.64" r="1.0"/><circle cx="487.55" cy="446.02" r="1.0"/><circle cx="485.68" cy="445.62" r="1.0"/><circle cx="485.68" cy="440.48" r="1.0"/><circle cx="481.93" cy="443.99" r="1.0"/><circle cx="481.93" cy="439.32" r="1.0"/><circle cx="483.8" cy="439.32" r="1.0"/><circle cx="483.8" cy="474.12" r="1.0"/><circle cx="483.8" cy="478" r="1.0"/><circle cx="499.7" cy="459.18" r="1.0"/><circle cx="503.1" cy="459.24" r="1.0"/><circle cx="504.8" cy="466.27" r="1.0"/><circle cx="513.3" cy="461.28" r="1.0"/><circle cx="508.2" cy="466.27" r="1.0"/><circle cx="509.9" cy="459.34" r="1.0"/><circle cx="513.3" cy="458.72" r="1.0"/><circle cx="506.5" cy="456.24" r="1.0"/><circle cx="506.5" cy="459.28" r="1.0"/><circle cx="509.9" cy="456.88" r="1.0"/><circle cx="511.6" cy="454.87" r="1.0"/><circle cx="503.1" cy="455.8" r="1.0"/><circle cx="508.2" cy="452.71" r="1.0"/><circle cx="499.7" cy="455.51" r="1.0"/><circle cx="504.8" cy="452.63" r="1.0"/><circle cx="501.4" cy="451.61" r="1.0"/><circle cx="509.9" cy="450.1" r="1.0"/><circle cx="506.5" cy="449.73" r="1.0"/><circle cx="503.1" cy="447.77" r="1.0"/><circle cx="509.9" cy="445.18" r="1.0"/><circle cx="503.1" cy="444.14" r="1.0"/><circle cx="506.5" cy="444.14" r="1.0"/><circle cx="506.5" cy="476.06" r="1.0"/><circle cx="528.9" cy="453.21" r="1.0"/><circle cx="527.65" cy="458.48" r="1.0"/><circle cx="530.15" cy="458.48" r="1.0"/><circle cx="531.4" cy="454.02" r="1.0"/><circle cx="531.4" cy="448.92" r="1.0"/><circle cx="526.4" cy="452.09" r="1.0"/><circle cx="528.9" cy="448.74" r="1.0"/><circle cx="536.4" cy="449.06" r="1.0"/><circle cx="533.9" cy="448.95" r="1.0"/><circle cx="523.9" cy="447.79" r="1.0"/><circle cx="526.4" cy="448.66" r="1.0"/><circle cx="527.65" cy="445.14" r="1.0"/><circle cx="521.4" cy="446.69" r="1.0"/><circle cx="530.15" cy="445.27" r="1.0"/><circle cx="525.15" cy="442.76" r="1.0"/><circle cx="533.9" cy="442.13" r="1.0"/><circle cx="532.65" cy="445.37" r="1.0"/><circle cx="531.4" cy="441.51" r="1.0"/><circle cx="523.9" cy="440.65" r="1.0"/><circle cx="532.65" cy="438.17" r="1.0"/><circle cx="528.9" cy="441.32" r="1.0"/><circle cx="521.4" cy="438.98" r="1.0"/><circle cx="536.4" cy="442.19" r="1.0"/><circle cx="526.4" cy="440.99" r="1.0"/><circle cx="527.65" cy="436.29" r="1.0"/><circle cx="533.9" cy="432.06" r="1.0"/><circle cx="530.15" cy="437.54" r="1.0"/><circle cx="528.9" cy="430.65" r="1.0"/><circle cx="525.15" cy="435.46" r="1.0"/><circle cx="531.4" cy="431.75" r="1.0"/><circle cx="530.15" cy="426.45" r="1.0"/><circle cx="523.9" cy="429.98" r="1.0"/><circle cx="527.65" cy="423.83" r="1.0"/><circle cx="526.4" cy="430.4" r="1.0"/><circle cx="528.9" cy="465.39" r="1.0"/></g>
<line x1="453.6" y1="444.05" x2="468.6" y2="444.05" stroke="#111" stroke-width="1.4"/>
<line x1="476.3" y1="453.75" x2="491.3" y2="453.75" stroke="#111" stroke-width="1.4"/>
<line x1="499" y1="455.69" x2="514" y2="455.69" stroke="#111" stroke-width="1.4"/>
<line x1="521.4" y1="446.96" x2="536.4" y2="446.96" stroke="#111" stroke-width="1.4"/>
<path d="M461.3 419.3V410.9H481.9V434" class="br"/>
<path d="M486.3 434V410.9H506.5V437.5" class="br"/>
<path d="M483.9 397.7V392H529.1V417" class="br"/>
<circle cx="469.2" cy="405.3" r="1.35" class="st"/><circle cx="474" cy="405.3" r="1.35" class="st"/>
<text x="496.4" y="406.3" class="ns">ns</text>
<circle cx="499.3" cy="386.4" r="1.35" class="st"/><circle cx="504.1" cy="386.4" r="1.35" class="st"/><circle cx="508.9" cy="386.4" r="1.35" class="st"/><circle cx="513.7" cy="386.4" r="1.35" class="st"/>
<text x="461.4" y="492.4" class="xl">CMS1</text>
<text x="484.1" y="492.4" class="xl">CMS2</text>
<text x="506.8" y="492.4" class="xl">CMS3</text>
<text x="529.2" y="492.4" class="xl">CMS4</text>
<text transform="translate(70.6,434.6) rotate(-90)" class="yl" textLength="17.5" lengthAdjust="spacingAndGlyphs"><tspan font-style="italic">TGFB</tspan></text>
<text transform="translate(194.1,434.6) rotate(-90)" class="yl" textLength="17.0" lengthAdjust="spacingAndGlyphs">TBSS</text>
<text transform="translate(317.4,434.6) rotate(-90)" class="yl" textLength="51.3" lengthAdjust="spacingAndGlyphs">M2 macrophage</text>
<text transform="translate(440.4,434.6) rotate(-90)" class="yl" textLength="52.0" lengthAdjust="spacingAndGlyphs"><tspan font-style="italic">HAVCR2</tspan> (TIM-3)</text>
<line x1="77.6" y1="578" x2="174.6" y2="578" stroke="#444" stroke-width="1.1" stroke-dasharray="1.5 1.25"/>
<path d="M76.6 504.5V602H174.6" fill="none" stroke="#1a1a1a" stroke-width="1.2"/>
<line x1="76.6" y1="505.1" x2="78.1" y2="505.1" stroke="#222" stroke-width="0.9"/>
<text x="75" y="506.6" class="tk">6</text>
<line x1="76.6" y1="529.4" x2="78.1" y2="529.4" stroke="#222" stroke-width="0.9"/>
<text x="75" y="530.9" class="tk">4</text>
<line x1="76.6" y1="553.7" x2="78.1" y2="553.7" stroke="#222" stroke-width="0.9"/>
<text x="75" y="555.2" class="tk">2</text>
<line x1="76.6" y1="578" x2="78.1" y2="578" stroke="#222" stroke-width="0.9"/>
<text x="75" y="579.5" class="tk">0</text>
<line x1="76.6" y1="602.3" x2="78.1" y2="602.3" stroke="#222" stroke-width="0.9"/>
<text x="75" y="603.8" class="tk">-2</text>
<g class="g5"><circle cx="91" cy="590.14" r="1.0"/><circle cx="91" cy="584.55" r="1.0"/><circle cx="91" cy="581.21" r="1.0"/><circle cx="94.3" cy="582.39" r="1.0"/><circle cx="92.65" cy="574.07" r="1.0"/><circle cx="87.7" cy="580.96" r="1.0"/><circle cx="89.35" cy="574.04" r="1.0"/><circle cx="86.05" cy="571.92" r="1.0"/><circle cx="92.65" cy="569.35" r="1.0"/><circle cx="95.95" cy="574.94" r="1.0"/><circle cx="89.35" cy="568.29" r="1.0"/><circle cx="115.95" cy="591.58" r="1.0"/><circle cx="112.95" cy="590.85" r="1.0"/><circle cx="114.45" cy="591.18" r="1.0"/><circle cx="117.45" cy="592.54" r="1.0"/><circle cx="111.45" cy="590.28" r="1.0"/><circle cx="115.95" cy="589.32" r="1.0"/><circle cx="117.45" cy="589.57" r="1.0"/><circle cx="112.95" cy="587.54" r="1.0"/><circle cx="109.95" cy="589.82" r="1.0"/><circle cx="114.45" cy="588.73" r="1.0"/><circle cx="119.7" cy="586.32" r="1.0"/><circle cx="111.45" cy="587.26" r="1.0"/><circle cx="109.95" cy="586.47" r="1.0"/><circle cx="118.2" cy="586.22" r="1.0"/><circle cx="116.7" cy="585.62" r="1.0"/><circle cx="115.2" cy="585.45" r="1.0"/><circle cx="121.2" cy="586.43" r="1.0"/><circle cx="107.7" cy="583.26" r="1.0"/><circle cx="113.7" cy="584.97" r="1.0"/><circle cx="112.2" cy="584.23" r="1.0"/><circle cx="106.2" cy="583.15" r="1.0"/><circle cx="118.95" cy="582.6" r="1.0"/><circle cx="120.45" cy="582.88" r="1.0"/><circle cx="110.7" cy="583.95" r="1.0"/><circle cx="109.2" cy="583.4" r="1.0"/><circle cx="114.45" cy="581.09" r="1.0"/><circle cx="117.45" cy="581.14" r="1.0"/><circle cx="109.95" cy="580" r="1.0"/><circle cx="108.45" cy="579.81" r="1.0"/><circle cx="115.95" cy="581.11" r="1.0"/><circle cx="111.45" cy="580.15" r="1.0"/><circle cx="115.2" cy="577.31" r="1.0"/><circle cx="106.95" cy="579.78" r="1.0"/><circle cx="112.95" cy="580.19" r="1.0"/><circle cx="112.2" cy="576.36" r="1.0"/><circle cx="118.2" cy="578.46" r="1.0"/><circle cx="113.7" cy="576.36" r="1.0"/><circle cx="119.7" cy="579.01" r="1.0"/><circle cx="116.7" cy="577.71" r="1.0"/><circle cx="110.7" cy="576.07" r="1.0"/><circle cx="107.7" cy="575.74" r="1.0"/><circle cx="116.7" cy="574.63" r="1.0"/><circle cx="115.2" cy="573.78" r="1.0"/><circle cx="113.7" cy="573.68" r="1.0"/><circle cx="109.2" cy="575.8" r="1.0"/><circle cx="110.7" cy="571.97" r="1.0"/><circle cx="112.2" cy="571.97" r="1.0"/><circle cx="112.95" cy="596.23" r="1.0"/><circle cx="114.45" cy="598.65" r="1.0"/><circle cx="138.05" cy="597.4" r="1.0"/><circle cx="138.05" cy="591.44" r="1.0"/><circle cx="141.35" cy="597.4" r="1.0"/><circle cx="131.45" cy="594.18" r="1.0"/><circle cx="134.75" cy="595.56" r="1.0"/><circle cx="141.35" cy="591.47" r="1.0"/><circle cx="131.45" cy="590.3" r="1.0"/><circle cx="143" cy="586.02" r="1.0"/><circle cx="134.75" cy="591.05" r="1.0"/><circle cx="139.7" cy="588.24" r="1.0"/><circle cx="139.7" cy="585.54" r="1.0"/><circle cx="136.4" cy="579.6" r="1.0"/><circle cx="136.4" cy="586.62" r="1.0"/><circle cx="136.4" cy="585.03" r="1.0"/><circle cx="133.1" cy="583.26" r="1.0"/><circle cx="129.8" cy="582.98" r="1.0"/><circle cx="133.1" cy="586.53" r="1.0"/><circle cx="139.7" cy="580.81" r="1.0"/><circle cx="133.1" cy="578.04" r="1.0"/><circle cx="158.8" cy="579.6" r="1.0"/><circle cx="153.18" cy="573.33" r="1.0"/><circle cx="155.05" cy="573.84" r="1.0"/><circle cx="158.8" cy="574.12" r="1.0"/><circle cx="166.3" cy="575.19" r="1.0"/><circle cx="160.68" cy="574.29" r="1.0"/><circle cx="162.55" cy="574.83" r="1.0"/><circle cx="156.93" cy="574.1" r="1.0"/><circle cx="151.3" cy="572.68" r="1.0"/><circle cx="164.43" cy="575.11" r="1.0"/><circle cx="158.8" cy="571.46" r="1.0"/><circle cx="162.55" cy="565.83" r="1.0"/><circle cx="160.68" cy="571.54" r="1.0"/><circle cx="164.43" cy="566.35" r="1.0"/><circle cx="156.93" cy="568.57" r="1.0"/><circle cx="156.93" cy="564.81" r="1.0"/><circle cx="162.55" cy="561.79" r="1.0"/><circle cx="160.68" cy="565.02" r="1.0"/><circle cx="155.05" cy="564.48" r="1.0"/><circle cx="153.18" cy="563.39" r="1.0"/><circle cx="160.68" cy="561.76" r="1.0"/><circle cx="158.8" cy="560.62" r="1.0"/><circle cx="158.8" cy="565" r="1.0"/><circle cx="164.43" cy="556.94" r="1.0"/><circle cx="155.05" cy="558.84" r="1.0"/><circle cx="153.18" cy="554.6" r="1.0"/><circle cx="156.93" cy="559.98" r="1.0"/><circle cx="160.68" cy="556.66" r="1.0"/><circle cx="162.55" cy="556.75" r="1.0"/><circle cx="158.8" cy="556.63" r="1.0"/><circle cx="155.05" cy="554.66" r="1.0"/><circle cx="156.93" cy="554.84" r="1.0"/><circle cx="159.74" cy="553.07" r="1.0"/><circle cx="157.86" cy="550.08" r="1.0"/><circle cx="156.93" cy="546.48" r="1.0"/><circle cx="160.68" cy="547.37" r="1.0"/><circle cx="158.8" cy="546.48" r="1.0"/><circle cx="157.86" cy="542.76" r="1.0"/><circle cx="159.74" cy="543.98" r="1.0"/></g>
<line x1="83.5" y1="576.78" x2="98.5" y2="576.78" stroke="#111" stroke-width="1.4"/>
<line x1="106.2" y1="586.5" x2="121.2" y2="586.5" stroke="#111" stroke-width="1.4"/>
<line x1="128.9" y1="587.11" x2="143.9" y2="587.11" stroke="#111" stroke-width="1.4"/>
<line x1="151.3" y1="564.63" x2="166.3" y2="564.63" stroke="#111" stroke-width="1.4"/>
<path d="M91.2 565.5V531.4H111.8V565.5" class="br"/>
<path d="M116.2 565.5V531.4H136.4V574.5" class="br"/>
<path d="M113.8 517.7V512H159V536.4" class="br"/>
<circle cx="101.5" cy="525.8" r="1.35" class="st"/>
<text x="126.3" y="526.8" class="ns">ns</text>
<circle cx="129.2" cy="506.4" r="1.35" class="st"/><circle cx="134" cy="506.4" r="1.35" class="st"/><circle cx="138.8" cy="506.4" r="1.35" class="st"/><circle cx="143.6" cy="506.4" r="1.35" class="st"/>
<text x="91.3" y="611.4" class="xl">CMS1</text>
<text x="114" y="611.4" class="xl">CMS2</text>
<text x="136.7" y="611.4" class="xl">CMS3</text>
<text x="159.1" y="611.4" class="xl">CMS4</text>
<line x1="201" y1="574.5" x2="298" y2="574.5" stroke="#444" stroke-width="1.1" stroke-dasharray="1.5 1.25"/>
<line x1="200" y1="504.5" x2="200" y2="602" stroke="#7a7a7a" stroke-width="1.4"/>
<line x1="199.4" y1="602" x2="298" y2="602" stroke="#1a1a1a" stroke-width="1.2"/>
<line x1="200" y1="519.1" x2="201.5" y2="519.1" stroke="#222" stroke-width="0.9"/>
<text x="198.4" y="520.6" class="tk">4</text>
<line x1="200" y1="546.8" x2="201.5" y2="546.8" stroke="#222" stroke-width="0.9"/>
<text x="198.4" y="548.3" class="tk">2</text>
<line x1="200" y1="574.5" x2="201.5" y2="574.5" stroke="#222" stroke-width="0.9"/>
<text x="198.4" y="576" class="tk">0</text>
<line x1="200" y1="602.2" x2="201.5" y2="602.2" stroke="#222" stroke-width="0.9"/>
<text x="198.4" y="603.7" class="tk">-2</text>
<g class="g5"><circle cx="214.4" cy="588.29" r="1.0"/><circle cx="217.7" cy="580.21" r="1.0"/><circle cx="217.7" cy="574.55" r="1.0"/><circle cx="212.75" cy="568.28" r="1.0"/><circle cx="214.4" cy="584.35" r="1.0"/><circle cx="214.4" cy="577.98" r="1.0"/><circle cx="211.1" cy="576.92" r="1.0"/><circle cx="211.1" cy="571.67" r="1.0"/><circle cx="216.05" cy="568.63" r="1.0"/><circle cx="214.4" cy="572.58" r="1.0"/><circle cx="214.4" cy="560.7" r="1.0"/><circle cx="238.6" cy="602.12" r="1.0"/><circle cx="244.6" cy="597.53" r="1.0"/><circle cx="241.6" cy="596.74" r="1.0"/><circle cx="235.6" cy="599.87" r="1.0"/><circle cx="238.6" cy="596.24" r="1.0"/><circle cx="235.6" cy="596.17" r="1.0"/><circle cx="232.6" cy="596.06" r="1.0"/><circle cx="229.6" cy="595.92" r="1.0"/><circle cx="234.1" cy="591.81" r="1.0"/><circle cx="240.1" cy="593.1" r="1.0"/><circle cx="237.1" cy="592.08" r="1.0"/><circle cx="244.6" cy="590.32" r="1.0"/><circle cx="241.6" cy="589.81" r="1.0"/><circle cx="235.6" cy="588.73" r="1.0"/><circle cx="238.6" cy="589.6" r="1.0"/><circle cx="232.6" cy="588.34" r="1.0"/><circle cx="241.6" cy="586.23" r="1.0"/><circle cx="235.6" cy="584.53" r="1.0"/><circle cx="238.6" cy="585.7" r="1.0"/><circle cx="229.6" cy="588.27" r="1.0"/><circle cx="232.6" cy="583.49" r="1.0"/><circle cx="241.6" cy="582.39" r="1.0"/><circle cx="244.6" cy="582.72" r="1.0"/><circle cx="238.6" cy="582.04" r="1.0"/><circle cx="235.6" cy="581.47" r="1.0"/><circle cx="241.6" cy="578.67" r="1.0"/><circle cx="232.6" cy="580.2" r="1.0"/><circle cx="244.6" cy="579.01" r="1.0"/><circle cx="229.6" cy="580.12" r="1.0"/><circle cx="238.6" cy="577.76" r="1.0"/><circle cx="235.6" cy="577.28" r="1.0"/><circle cx="244.6" cy="575.12" r="1.0"/><circle cx="229.6" cy="576.81" r="1.0"/><circle cx="232.6" cy="576.91" r="1.0"/><circle cx="241.6" cy="574.97" r="1.0"/><circle cx="238.6" cy="573.55" r="1.0"/><circle cx="232.6" cy="573.02" r="1.0"/><circle cx="235.6" cy="573.49" r="1.0"/><circle cx="240.1" cy="571.17" r="1.0"/><circle cx="231.1" cy="569.44" r="1.0"/><circle cx="229.6" cy="572.86" r="1.0"/><circle cx="234.1" cy="569.53" r="1.0"/><circle cx="243.1" cy="571.23" r="1.0"/><circle cx="235.6" cy="564.25" r="1.0"/><circle cx="237.1" cy="569.64" r="1.0"/><circle cx="234.1" cy="560.73" r="1.0"/><circle cx="238.6" cy="564.44" r="1.0"/><circle cx="237.1" cy="560.73" r="1.0"/><circle cx="240.1" cy="563.62" r="1.0"/><circle cx="259.8" cy="597.56" r="1.0"/><circle cx="256.5" cy="595.65" r="1.0"/><circle cx="263.1" cy="598.78" r="1.0"/><circle cx="261.45" cy="602.18" r="1.0"/><circle cx="258.15" cy="600.93" r="1.0"/><circle cx="259.8" cy="588.25" r="1.0"/><circle cx="256.5" cy="585.85" r="1.0"/><circle cx="261.45" cy="578.65" r="1.0"/><circle cx="263.1" cy="588.6" r="1.0"/><circle cx="256.5" cy="579.82" r="1.0"/><circle cx="263.1" cy="581.4" r="1.0"/><circle cx="263.1" cy="574" r="1.0"/><circle cx="259.8" cy="573.21" r="1.0"/><circle cx="256.5" cy="567.43" r="1.0"/><circle cx="256.5" cy="570.94" r="1.0"/><circle cx="263.1" cy="568.14" r="1.0"/><circle cx="259.8" cy="579.91" r="1.0"/><circle cx="259.8" cy="567.79" r="1.0"/><circle cx="258.15" cy="576.06" r="1.0"/><circle cx="277.7" cy="572.26" r="1.0"/><circle cx="280.7" cy="577.16" r="1.0"/><circle cx="282.2" cy="569.76" r="1.0"/><circle cx="280.7" cy="573.5" r="1.0"/><circle cx="283.7" cy="573.57" r="1.0"/><circle cx="286.7" cy="574.26" r="1.0"/><circle cx="285.2" cy="569.96" r="1.0"/><circle cx="279.2" cy="568.92" r="1.0"/><circle cx="289.7" cy="566.88" r="1.0"/><circle cx="276.2" cy="568.17" r="1.0"/><circle cx="286.7" cy="566.41" r="1.0"/><circle cx="288.2" cy="570.8" r="1.0"/><circle cx="283.7" cy="564.79" r="1.0"/><circle cx="274.7" cy="563.85" r="1.0"/><circle cx="277.7" cy="563.94" r="1.0"/><circle cx="289.7" cy="561.25" r="1.0"/><circle cx="280.7" cy="564.56" r="1.0"/><circle cx="286.7" cy="561.23" r="1.0"/><circle cx="283.7" cy="560.79" r="1.0"/><circle cx="277.7" cy="559.58" r="1.0"/><circle cx="280.7" cy="560.12" r="1.0"/><circle cx="285.2" cy="557.68" r="1.0"/><circle cx="274.7" cy="559" r="1.0"/><circle cx="282.2" cy="557.49" r="1.0"/><circle cx="286.7" cy="555.09" r="1.0"/><circle cx="280.7" cy="554.26" r="1.0"/><circle cx="279.2" cy="555.44" r="1.0"/><circle cx="277.7" cy="551.88" r="1.0"/><circle cx="283.7" cy="554.53" r="1.0"/><circle cx="286.7" cy="550.06" r="1.0"/><circle cx="277.7" cy="548.41" r="1.0"/><circle cx="289.7" cy="550.73" r="1.0"/><circle cx="283.7" cy="549.41" r="1.0"/><circle cx="274.7" cy="547.44" r="1.0"/><circle cx="280.7" cy="549.09" r="1.0"/><circle cx="280.7" cy="544.1" r="1.0"/><circle cx="283.7" cy="544.1" r="1.0"/><circle cx="283.7" cy="580.04" r="1.0"/><circle cx="282.2" cy="582.81" r="1.0"/></g>
<line x1="206.9" y1="572.42" x2="221.9" y2="572.42" stroke="#111" stroke-width="1.4"/>
<line x1="229.6" y1="584.2" x2="244.6" y2="584.2" stroke="#111" stroke-width="1.4"/>
<line x1="252.3" y1="585.58" x2="267.3" y2="585.58" stroke="#111" stroke-width="1.4"/>
<line x1="274.7" y1="559.26" x2="289.7" y2="559.26" stroke="#111" stroke-width="1.4"/>
<path d="M214.6 555.2V533.2H235.2V556.4" class="br"/>
<path d="M239.6 556.4V533.2H259.8V559.8" class="br"/>
<path d="M237.2 518.9V513.6H282.4V538.2" class="br"/>
<text x="224.9" y="528.6" class="ns">ns</text>
<text x="249.7" y="528.6" class="ns">ns</text>
<circle cx="252.6" cy="508" r="1.35" class="st"/><circle cx="257.4" cy="508" r="1.35" class="st"/><circle cx="262.2" cy="508" r="1.35" class="st"/><circle cx="267" cy="508" r="1.35" class="st"/>
<text x="214.7" y="611.4" class="xl">CMS1</text>
<text x="237.4" y="611.4" class="xl">CMS2</text>
<text x="260.1" y="611.4" class="xl">CMS3</text>
<text x="282.5" y="611.4" class="xl">CMS4</text>
<line x1="324.6" y1="581.8" x2="421.6" y2="581.8" stroke="#444" stroke-width="1.1" stroke-dasharray="1.5 1.25"/>
<path d="M323.6 504.5V602H421.6" fill="none" stroke="#1a1a1a" stroke-width="1.2"/>
<line x1="323.6" y1="520.48" x2="325.1" y2="520.48" stroke="#222" stroke-width="0.9"/>
<text x="322" y="521.98" class="tk">6</text>
<line x1="323.6" y1="540.92" x2="325.1" y2="540.92" stroke="#222" stroke-width="0.9"/>
<text x="322" y="542.42" class="tk">4</text>
<line x1="323.6" y1="561.36" x2="325.1" y2="561.36" stroke="#222" stroke-width="0.9"/>
<text x="322" y="562.86" class="tk">2</text>
<line x1="323.6" y1="581.8" x2="325.1" y2="581.8" stroke="#222" stroke-width="0.9"/>
<text x="322" y="583.3" class="tk">0</text>
<line x1="323.6" y1="602.24" x2="325.1" y2="602.24" stroke="#222" stroke-width="0.9"/>
<text x="322" y="603.74" class="tk">-2</text>
<g class="g5"><circle cx="338" cy="586.35" r="1.0"/><circle cx="341.3" cy="584.08" r="1.0"/><circle cx="334.7" cy="581.82" r="1.0"/><circle cx="336.35" cy="576.78" r="1.0"/><circle cx="339.65" cy="578.47" r="1.0"/><circle cx="338" cy="582.69" r="1.0"/><circle cx="338" cy="573.63" r="1.0"/><circle cx="341.3" cy="574.4" r="1.0"/><circle cx="334.7" cy="572.63" r="1.0"/><circle cx="339.65" cy="569.42" r="1.0"/><circle cx="336.35" cy="566.51" r="1.0"/><circle cx="360.7" cy="594.98" r="1.0"/><circle cx="362.2" cy="596.48" r="1.0"/><circle cx="363.7" cy="596.79" r="1.0"/><circle cx="368.2" cy="593.31" r="1.0"/><circle cx="362.2" cy="592.17" r="1.0"/><circle cx="359.2" cy="594.25" r="1.0"/><circle cx="366.7" cy="593.12" r="1.0"/><circle cx="356.2" cy="591.46" r="1.0"/><circle cx="357.7" cy="591.54" r="1.0"/><circle cx="357.7" cy="593.8" r="1.0"/><circle cx="365.2" cy="592.99" r="1.0"/><circle cx="359.2" cy="591.6" r="1.0"/><circle cx="363.7" cy="592.28" r="1.0"/><circle cx="362.95" cy="589.77" r="1.0"/><circle cx="353.2" cy="590.45" r="1.0"/><circle cx="360.7" cy="591.63" r="1.0"/><circle cx="365.95" cy="590.11" r="1.0"/><circle cx="354.7" cy="590.54" r="1.0"/><circle cx="364.45" cy="590.05" r="1.0"/><circle cx="361.45" cy="589.71" r="1.0"/><circle cx="359.95" cy="588.76" r="1.0"/><circle cx="356.95" cy="587.15" r="1.0"/><circle cx="358.45" cy="587.22" r="1.0"/><circle cx="355.45" cy="587.14" r="1.0"/><circle cx="366.7" cy="586.33" r="1.0"/><circle cx="365.2" cy="586.28" r="1.0"/><circle cx="362.2" cy="585.54" r="1.0"/><circle cx="363.7" cy="585.82" r="1.0"/><circle cx="357.7" cy="583.9" r="1.0"/><circle cx="360.7" cy="585.44" r="1.0"/><circle cx="356.2" cy="583.78" r="1.0"/><circle cx="359.2" cy="583.9" r="1.0"/><circle cx="365.2" cy="582.95" r="1.0"/><circle cx="362.2" cy="581.96" r="1.0"/><circle cx="354.7" cy="583.47" r="1.0"/><circle cx="366.7" cy="582.99" r="1.0"/><circle cx="363.7" cy="582.5" r="1.0"/><circle cx="359.2" cy="581.77" r="1.0"/><circle cx="360.7" cy="581.89" r="1.0"/><circle cx="368.2" cy="583.11" r="1.0"/><circle cx="362.2" cy="577.89" r="1.0"/><circle cx="357.7" cy="580.85" r="1.0"/><circle cx="356.2" cy="580.6" r="1.0"/><circle cx="353.2" cy="579.91" r="1.0"/><circle cx="354.7" cy="580.57" r="1.0"/><circle cx="360.7" cy="577.83" r="1.0"/><circle cx="363.7" cy="578.4" r="1.0"/><circle cx="357.7" cy="575.71" r="1.0"/><circle cx="359.2" cy="575.76" r="1.0"/><circle cx="385.05" cy="594.03" r="1.0"/><circle cx="381.75" cy="592.72" r="1.0"/><circle cx="378.45" cy="592.57" r="1.0"/><circle cx="388.35" cy="595.05" r="1.0"/><circle cx="388.35" cy="586.26" r="1.0"/><circle cx="390" cy="589.63" r="1.0"/><circle cx="383.4" cy="589.12" r="1.0"/><circle cx="376.8" cy="587.27" r="1.0"/><circle cx="386.7" cy="589.3" r="1.0"/><circle cx="380.1" cy="588.42" r="1.0"/><circle cx="385.05" cy="586.12" r="1.0"/><circle cx="381.75" cy="583.94" r="1.0"/><circle cx="378.45" cy="583.9" r="1.0"/><circle cx="383.4" cy="581.06" r="1.0"/><circle cx="380.1" cy="575.71" r="1.0"/><circle cx="386.7" cy="581.72" r="1.0"/><circle cx="383.4" cy="575.71" r="1.0"/><circle cx="380.1" cy="579.77" r="1.0"/><circle cx="386.7" cy="578.19" r="1.0"/><circle cx="408.3" cy="586.9" r="1.0"/><circle cx="399.55" cy="580.32" r="1.0"/><circle cx="403.3" cy="586.07" r="1.0"/><circle cx="412.05" cy="583.49" r="1.0"/><circle cx="405.8" cy="586.77" r="1.0"/><circle cx="407.05" cy="582.26" r="1.0"/><circle cx="409.55" cy="583.08" r="1.0"/><circle cx="404.55" cy="580.97" r="1.0"/><circle cx="402.05" cy="580.96" r="1.0"/><circle cx="403.3" cy="576.58" r="1.0"/><circle cx="408.3" cy="578.83" r="1.0"/><circle cx="405.8" cy="576.74" r="1.0"/><circle cx="409.55" cy="575.29" r="1.0"/><circle cx="412.05" cy="572.89" r="1.0"/><circle cx="407.05" cy="574.16" r="1.0"/><circle cx="404.55" cy="573.92" r="1.0"/><circle cx="402.05" cy="573.11" r="1.0"/><circle cx="409.55" cy="572.43" r="1.0"/><circle cx="407.05" cy="572.14" r="1.0"/><circle cx="402.05" cy="570.31" r="1.0"/><circle cx="399.55" cy="569.79" r="1.0"/><circle cx="404.55" cy="570.34" r="1.0"/><circle cx="404.55" cy="566.33" r="1.0"/><circle cx="407.05" cy="568.05" r="1.0"/><circle cx="405.8" cy="564.49" r="1.0"/><circle cx="409.55" cy="569.13" r="1.0"/><circle cx="402.05" cy="566.01" r="1.0"/><circle cx="413.3" cy="562.24" r="1.0"/><circle cx="408.3" cy="565.37" r="1.0"/><circle cx="403.3" cy="562.5" r="1.0"/><circle cx="398.3" cy="559.03" r="1.0"/><circle cx="410.8" cy="561.65" r="1.0"/><circle cx="400.8" cy="559.24" r="1.0"/><circle cx="405.8" cy="560.1" r="1.0"/><circle cx="403.3" cy="559.81" r="1.0"/><circle cx="408.3" cy="561.01" r="1.0"/><circle cx="404.55" cy="553.26" r="1.0"/><circle cx="407.05" cy="553.26" r="1.0"/><circle cx="405.8" cy="541.94" r="1.0"/></g>
<line x1="330.5" y1="575.16" x2="345.5" y2="575.16" stroke="#111" stroke-width="1.4"/>
<line x1="353.2" y1="587.93" x2="368.2" y2="587.93" stroke="#111" stroke-width="1.4"/>
<line x1="375.9" y1="586.4" x2="390.9" y2="586.4" stroke="#111" stroke-width="1.4"/>
<line x1="398.3" y1="573.62" x2="413.3" y2="573.62" stroke="#111" stroke-width="1.4"/>
<path d="M338.2 558.2V530.2H358.8V570" class="br"/>
<path d="M363.2 570V530.2H383.4V570" class="br"/>
<path d="M360.8 517.7V511.4H406V536.4" class="br"/>
<circle cx="341.3" cy="524.6" r="1.35" class="st"/><circle cx="346.1" cy="524.6" r="1.35" class="st"/><circle cx="350.9" cy="524.6" r="1.35" class="st"/><circle cx="355.7" cy="524.6" r="1.35" class="st"/>
<text x="373.3" y="525.6" class="ns">ns</text>
<circle cx="376.2" cy="505.8" r="1.35" class="st"/><circle cx="381" cy="505.8" r="1.35" class="st"/><circle cx="385.8" cy="505.8" r="1.35" class="st"/><circle cx="390.6" cy="505.8" r="1.35" class="st"/>
<text x="338.3" y="611.4" class="xl">CMS1</text>
<text x="361" y="611.4" class="xl">CMS2</text>
<text x="383.7" y="611.4" class="xl">CMS3</text>
<text x="406.1" y="611.4" class="xl">CMS4</text>
<line x1="447.7" y1="580.7" x2="544.7" y2="580.7" stroke="#444" stroke-width="1.1" stroke-dasharray="1.5 1.25"/>
<path d="M446.7 504.5V602H544.7" fill="none" stroke="#1a1a1a" stroke-width="1.2"/>
<line x1="446.7" y1="515.9" x2="448.2" y2="515.9" stroke="#222" stroke-width="0.9"/>
<text x="445.1" y="517.4" class="tk">6</text>
<line x1="446.7" y1="537.5" x2="448.2" y2="537.5" stroke="#222" stroke-width="0.9"/>
<text x="445.1" y="539" class="tk">4</text>
<line x1="446.7" y1="559.1" x2="448.2" y2="559.1" stroke="#222" stroke-width="0.9"/>
<text x="445.1" y="560.6" class="tk">2</text>
<line x1="446.7" y1="580.7" x2="448.2" y2="580.7" stroke="#222" stroke-width="0.9"/>
<text x="445.1" y="582.2" class="tk">0</text>
<line x1="446.7" y1="602.3" x2="448.2" y2="602.3" stroke="#222" stroke-width="0.9"/>
<text x="445.1" y="603.8" class="tk">-2</text>
<g class="g5"><circle cx="461.1" cy="574.6" r="1.0"/><circle cx="461.1" cy="578.4" r="1.0"/><circle cx="464.4" cy="574.65" r="1.0"/><circle cx="457.8" cy="571.51" r="1.0"/><circle cx="464.4" cy="578.45" r="1.0"/><circle cx="461.1" cy="580.3" r="1.0"/><circle cx="457.8" cy="575.75" r="1.0"/><circle cx="459.45" cy="565.29" r="1.0"/><circle cx="461.1" cy="557" r="1.0"/><circle cx="461.1" cy="561.32" r="1.0"/><circle cx="462.75" cy="568.32" r="1.0"/><circle cx="491.3" cy="596.04" r="1.0"/><circle cx="489.43" cy="596.03" r="1.0"/><circle cx="481.93" cy="594.61" r="1.0"/><circle cx="487.55" cy="595.34" r="1.0"/><circle cx="483.8" cy="594.73" r="1.0"/><circle cx="480.05" cy="594.09" r="1.0"/><circle cx="485.68" cy="594.76" r="1.0"/><circle cx="478.18" cy="593.88" r="1.0"/><circle cx="491.3" cy="593.13" r="1.0"/><circle cx="476.3" cy="593.77" r="1.0"/><circle cx="489.43" cy="592.92" r="1.0"/><circle cx="483.8" cy="591.37" r="1.0"/><circle cx="481.93" cy="591.29" r="1.0"/><circle cx="480.05" cy="591.16" r="1.0"/><circle cx="476.3" cy="590.16" r="1.0"/><circle cx="487.55" cy="592.69" r="1.0"/><circle cx="485.68" cy="592.15" r="1.0"/><circle cx="490.36" cy="588.61" r="1.0"/><circle cx="478.18" cy="590.31" r="1.0"/><circle cx="488.49" cy="588.58" r="1.0"/><circle cx="486.61" cy="588.23" r="1.0"/><circle cx="479.11" cy="586.82" r="1.0"/><circle cx="484.74" cy="588.04" r="1.0"/><circle cx="482.86" cy="587.66" r="1.0"/><circle cx="480.99" cy="587.57" r="1.0"/><circle cx="477.24" cy="586.54" r="1.0"/><circle cx="487.55" cy="583.92" r="1.0"/><circle cx="491.3" cy="585.43" r="1.0"/><circle cx="489.43" cy="584.25" r="1.0"/><circle cx="481.93" cy="583.16" r="1.0"/><circle cx="480.05" cy="583.1" r="1.0"/><circle cx="478.18" cy="582.47" r="1.0"/><circle cx="483.8" cy="583.3" r="1.0"/><circle cx="476.3" cy="582.44" r="1.0"/><circle cx="485.68" cy="583.44" r="1.0"/><circle cx="489.43" cy="577.57" r="1.0"/><circle cx="480.05" cy="579.06" r="1.0"/><circle cx="487.55" cy="580.81" r="1.0"/><circle cx="485.68" cy="580.66" r="1.0"/><circle cx="487.55" cy="577.52" r="1.0"/><circle cx="483.8" cy="579.97" r="1.0"/><circle cx="481.93" cy="579.12" r="1.0"/><circle cx="480.05" cy="576.49" r="1.0"/><circle cx="491.3" cy="578.5" r="1.0"/><circle cx="478.18" cy="576.24" r="1.0"/><circle cx="476.3" cy="575.67" r="1.0"/><circle cx="485.68" cy="576.7" r="1.0"/><circle cx="483.8" cy="576.58" r="1.0"/><circle cx="481.93" cy="576.52" r="1.0"/><circle cx="505" cy="594.69" r="1.0"/><circle cx="508" cy="594.69" r="1.0"/><circle cx="509.5" cy="590.47" r="1.0"/><circle cx="503.5" cy="587.82" r="1.0"/><circle cx="506.5" cy="587.9" r="1.0"/><circle cx="508" cy="584.89" r="1.0"/><circle cx="505" cy="584.51" r="1.0"/><circle cx="514" cy="585.41" r="1.0"/><circle cx="511" cy="585.15" r="1.0"/><circle cx="502" cy="583.03" r="1.0"/><circle cx="502" cy="578.8" r="1.0"/><circle cx="508" cy="580.56" r="1.0"/><circle cx="499" cy="582.5" r="1.0"/><circle cx="511" cy="581.1" r="1.0"/><circle cx="506.5" cy="571.61" r="1.0"/><circle cx="505" cy="579.53" r="1.0"/><circle cx="503.5" cy="571.03" r="1.0"/><circle cx="506.5" cy="575.19" r="1.0"/><circle cx="509.5" cy="572.35" r="1.0"/><circle cx="534.9" cy="586.41" r="1.0"/><circle cx="531.9" cy="584.83" r="1.0"/><circle cx="522.9" cy="583.89" r="1.0"/><circle cx="528.9" cy="588.35" r="1.0"/><circle cx="525.9" cy="584.1" r="1.0"/><circle cx="530.4" cy="581.14" r="1.0"/><circle cx="534.9" cy="579.73" r="1.0"/><circle cx="527.4" cy="580.14" r="1.0"/><circle cx="528.9" cy="578.26" r="1.0"/><circle cx="528.9" cy="584.18" r="1.0"/><circle cx="522.9" cy="576.72" r="1.0"/><circle cx="531.9" cy="574.49" r="1.0"/><circle cx="531.9" cy="579.08" r="1.0"/><circle cx="525.9" cy="576.75" r="1.0"/><circle cx="528.9" cy="573.68" r="1.0"/><circle cx="525.9" cy="573.19" r="1.0"/><circle cx="531.9" cy="571.94" r="1.0"/><circle cx="525.9" cy="569.85" r="1.0"/><circle cx="521.4" cy="564.74" r="1.0"/><circle cx="536.4" cy="567.94" r="1.0"/><circle cx="533.4" cy="566.38" r="1.0"/><circle cx="528.9" cy="571.16" r="1.0"/><circle cx="530.4" cy="565.7" r="1.0"/><circle cx="530.4" cy="564.06" r="1.0"/><circle cx="527.4" cy="565.4" r="1.0"/><circle cx="536.4" cy="560.21" r="1.0"/><circle cx="533.4" cy="564.11" r="1.0"/><circle cx="524.4" cy="565.25" r="1.0"/><circle cx="524.4" cy="561" r="1.0"/><circle cx="527.4" cy="562.64" r="1.0"/><circle cx="527.4" cy="557.97" r="1.0"/><circle cx="524.4" cy="557.74" r="1.0"/><circle cx="530.4" cy="558.02" r="1.0"/><circle cx="533.4" cy="559.13" r="1.0"/><circle cx="521.4" cy="557.65" r="1.0"/><circle cx="530.4" cy="553.74" r="1.0"/><circle cx="528.9" cy="554.02" r="1.0"/><circle cx="527.4" cy="550.68" r="1.0"/><circle cx="528.9" cy="542.9" r="1.0"/></g>
<line x1="453.6" y1="576.38" x2="468.6" y2="576.38" stroke="#111" stroke-width="1.4"/>
<line x1="476.3" y1="586.64" x2="491.3" y2="586.64" stroke="#111" stroke-width="1.4"/>
<line x1="499" y1="585.02" x2="514" y2="585.02" stroke="#111" stroke-width="1.4"/>
<line x1="521.4" y1="573.14" x2="536.4" y2="573.14" stroke="#111" stroke-width="1.4"/>
<path d="M461.3 553V531.4H481.9V563.2" class="br"/>
<path d="M486.3 563.2V531.4H506.5V567.3" class="br"/>
<path d="M483.9 518.9V512.7H529.1V539.3" class="br"/>
<circle cx="466.8" cy="525.8" r="1.35" class="st"/><circle cx="471.6" cy="525.8" r="1.35" class="st"/><circle cx="476.4" cy="525.8" r="1.35" class="st"/>
<text x="496.4" y="526.8" class="ns">ns</text>
<circle cx="499.3" cy="507.1" r="1.35" class="st"/><circle cx="504.1" cy="507.1" r="1.35" class="st"/><circle cx="508.9" cy="507.1" r="1.35" class="st"/><circle cx="513.7" cy="507.1" r="1.35" class="st"/>
<text x="461.4" y="611.4" class="xl">CMS1</text>
<text x="484.1" y="611.4" class="xl">CMS2</text>
<text x="506.8" y="611.4" class="xl">CMS3</text>
<text x="529.2" y="611.4" class="xl">CMS4</text>
<text transform="translate(70.6,553.75) rotate(-90)" class="yl" textLength="17.5" lengthAdjust="spacingAndGlyphs"><tspan font-style="italic">TGFB</tspan></text>
<text transform="translate(194.1,553.75) rotate(-90)" class="yl" textLength="17.0" lengthAdjust="spacingAndGlyphs">TBSS</text>
<text transform="translate(317.4,553.75) rotate(-90)" class="yl" textLength="51.3" lengthAdjust="spacingAndGlyphs">M2 macrophage</text>
<text transform="translate(440.4,553.75) rotate(-90)" class="yl" textLength="52.0" lengthAdjust="spacingAndGlyphs"><tspan font-style="italic">HAVCR2</tspan> (TIM-3)</text>
<line x1="77.6" y1="704.5" x2="174.6" y2="704.5" stroke="#444" stroke-width="1.1" stroke-dasharray="1.5 1.25"/>
<path d="M76.6 628V725.4H174.6" fill="none" stroke="#1a1a1a" stroke-width="1.2"/>
<line x1="76.6" y1="643" x2="78.1" y2="643" stroke="#222" stroke-width="0.9"/>
<text x="75" y="644.5" class="tk">6</text>
<line x1="76.6" y1="663.5" x2="78.1" y2="663.5" stroke="#222" stroke-width="0.9"/>
<text x="75" y="665" class="tk">4</text>
<line x1="76.6" y1="684" x2="78.1" y2="684" stroke="#222" stroke-width="0.9"/>
<text x="75" y="685.5" class="tk">2</text>
<line x1="76.6" y1="704.5" x2="78.1" y2="704.5" stroke="#222" stroke-width="0.9"/>
<text x="75" y="706" class="tk">0</text>
<line x1="76.6" y1="725" x2="78.1" y2="725" stroke="#222" stroke-width="0.9"/>
<text x="75" y="726.5" class="tk">-2</text>
<g class="g6"><circle cx="91" cy="711.39" r="1.15"/><circle cx="89.14" cy="708.72" r="1.15"/><circle cx="92.81" cy="708.96" r="1.15"/><circle cx="91" cy="708.23" r="1.15"/><circle cx="89.11" cy="711.39" r="1.15"/><circle cx="92.78" cy="705.53" r="1.15"/><circle cx="95.13" cy="704.76" r="1.15"/><circle cx="91" cy="704.67" r="1.15"/><circle cx="85.3" cy="704.91" r="1.15"/><circle cx="89.11" cy="704.69" r="1.15"/><circle cx="86.57" cy="702.99" r="1.15"/><circle cx="88.37" cy="702.17" r="1.15"/><circle cx="98.5" cy="702.42" r="1.15"/><circle cx="93.76" cy="702.97" r="1.15"/><circle cx="96.73" cy="701.49" r="1.15"/><circle cx="88.87" cy="699.22" r="1.15"/><circle cx="83.72" cy="702.34" r="1.15"/><circle cx="87.04" cy="699.87" r="1.15"/><circle cx="92" cy="702.01" r="1.15"/><circle cx="90.17" cy="701.37" r="1.15"/><circle cx="91" cy="696.14" r="1.15"/><circle cx="85.32" cy="700.94" r="1.15"/><circle cx="93.19" cy="699.68" r="1.15"/><circle cx="94.97" cy="700.54" r="1.15"/><circle cx="89.14" cy="696.65" r="1.15"/><circle cx="91" cy="699.03" r="1.15"/><circle cx="92.74" cy="697.15" r="1.15"/><circle cx="91" cy="692.53" r="1.15"/><circle cx="91" cy="686.05" r="1.15"/><circle cx="91" cy="714.75" r="1.15"/><circle cx="111.8" cy="718.6" r="1.15"/><circle cx="112.4" cy="718.45" r="1.15"/><circle cx="115.2" cy="718.73" r="1.15"/><circle cx="114.62" cy="718.19" r="1.15"/><circle cx="115.65" cy="716.83" r="1.15"/><circle cx="112.95" cy="717.43" r="1.15"/><circle cx="113.7" cy="719.74" r="1.15"/><circle cx="117.41" cy="716.03" r="1.15"/><circle cx="110.06" cy="716.01" r="1.15"/><circle cx="114.04" cy="717.42" r="1.15"/><circle cx="109.46" cy="716.05" r="1.15"/><circle cx="113.5" cy="716.34" r="1.15"/><circle cx="112.24" cy="715.79" r="1.15"/><circle cx="115.1" cy="715.78" r="1.15"/><circle cx="110.62" cy="715.06" r="1.15"/><circle cx="114.54" cy="714.84" r="1.15"/><circle cx="111.22" cy="714.98" r="1.15"/><circle cx="112.87" cy="714.7" r="1.15"/><circle cx="116.81" cy="715.85" r="1.15"/><circle cx="113.94" cy="714.59" r="1.15"/><circle cx="116.38" cy="714.05" r="1.15"/><circle cx="111.78" cy="714.01" r="1.15"/><circle cx="119.11" cy="713.58" r="1.15"/><circle cx="115.63" cy="714.05" r="1.15"/><circle cx="119.7" cy="714.08" r="1.15"/><circle cx="113.4" cy="713.47" r="1.15"/><circle cx="112.35" cy="713.23" r="1.15"/><circle cx="108.05" cy="713.63" r="1.15"/><circle cx="108.65" cy="713.4" r="1.15"/><circle cx="109.23" cy="712.81" r="1.15"/><circle cx="118.53" cy="712.85" r="1.15"/><circle cx="117.93" cy="712.79" r="1.15"/><circle cx="115.08" cy="713.04" r="1.15"/><circle cx="114.26" cy="712.32" r="1.15"/><circle cx="112.89" cy="712.08" r="1.15"/><circle cx="110.5" cy="712.21" r="1.15"/><circle cx="109.82" cy="712.35" r="1.15"/><circle cx="116.15" cy="711.64" r="1.15"/><circle cx="117.35" cy="712.21" r="1.15"/><circle cx="116.75" cy="711.79" r="1.15"/><circle cx="111.09" cy="711.73" r="1.15"/><circle cx="113.71" cy="711.24" r="1.15"/><circle cx="115.56" cy="711.29" r="1.15"/><circle cx="111.68" cy="711.36" r="1.15"/><circle cx="106.2" cy="711.05" r="1.15"/><circle cx="121.05" cy="710.99" r="1.15"/><circle cx="120.45" cy="710.83" r="1.15"/><circle cx="114.76" cy="710.82" r="1.15"/><circle cx="106.8" cy="710.92" r="1.15"/><circle cx="118.36" cy="710.26" r="1.15"/><circle cx="108.85" cy="710.51" r="1.15"/><circle cx="112.3" cy="710.46" r="1.15"/><circle cx="118.96" cy="710.54" r="1.15"/><circle cx="109.44" cy="710.23" r="1.15"/><circle cx="110.63" cy="709.38" r="1.15"/><circle cx="107.39" cy="710.54" r="1.15"/><circle cx="110.04" cy="709.93" r="1.15"/><circle cx="113.2" cy="709.86" r="1.15"/><circle cx="117.76" cy="709.98" r="1.15"/><circle cx="117.17" cy="709.56" r="1.15"/><circle cx="114.23" cy="709.65" r="1.15"/><circle cx="119.95" cy="709.39" r="1.15"/><circle cx="111.82" cy="708.83" r="1.15"/><circle cx="111.22" cy="709.04" r="1.15"/><circle cx="115.98" cy="708.87" r="1.15"/><circle cx="107.89" cy="709.11" r="1.15"/><circle cx="115.37" cy="708.82" r="1.15"/><circle cx="119.38" cy="708.56" r="1.15"/><circle cx="116.58" cy="709.05" r="1.15"/><circle cx="112.69" cy="708.5" r="1.15"/><circle cx="113.7" cy="708.41" r="1.15"/><circle cx="114.77" cy="708.1" r="1.15"/><circle cx="118.21" cy="707.49" r="1.15"/><circle cx="109.61" cy="707.42" r="1.15"/><circle cx="118.81" cy="707.78" r="1.15"/><circle cx="108.42" cy="707.84" r="1.15"/><circle cx="109.02" cy="707.62" r="1.15"/><circle cx="117.62" cy="707.32" r="1.15"/><circle cx="110.21" cy="707.24" r="1.15"/><circle cx="117.02" cy="707.05" r="1.15"/><circle cx="114.23" cy="707" r="1.15"/><circle cx="115.23" cy="706.29" r="1.15"/><circle cx="113.16" cy="706.87" r="1.15"/><circle cx="111.99" cy="706.33" r="1.15"/><circle cx="111.39" cy="706.4" r="1.15"/><circle cx="115.83" cy="706.35" r="1.15"/><circle cx="113.7" cy="705.75" r="1.15"/><circle cx="116.43" cy="706.5" r="1.15"/><circle cx="110.79" cy="706.51" r="1.15"/><circle cx="112.58" cy="705.89" r="1.15"/><circle cx="114.69" cy="705.2" r="1.15"/><circle cx="114.22" cy="703.55" r="1.15"/><circle cx="110.43" cy="704.2" r="1.15"/><circle cx="109.83" cy="704.43" r="1.15"/><circle cx="117.4" cy="704.32" r="1.15"/><circle cx="116.81" cy="703.96" r="1.15"/><circle cx="113.01" cy="704.08" r="1.15"/><circle cx="112.21" cy="703.16" r="1.15"/><circle cx="113.56" cy="702.99" r="1.15"/><circle cx="115.62" cy="703.26" r="1.15"/><circle cx="112.71" cy="701.73" r="1.15"/><circle cx="111.61" cy="703.29" r="1.15"/><circle cx="116.22" cy="703.33" r="1.15"/><circle cx="111.01" cy="703.66" r="1.15"/><circle cx="115.03" cy="703.05" r="1.15"/><circle cx="113.99" cy="701.16" r="1.15"/><circle cx="113.7" cy="698.88" r="1.15"/><circle cx="114.58" cy="701.29" r="1.15"/><circle cx="113.25" cy="700.58" r="1.15"/><circle cx="113.7" cy="725" r="1.15"/><circle cx="134.12" cy="719.5" r="1.15"/><circle cx="137.74" cy="717.9" r="1.15"/><circle cx="136.4" cy="717.08" r="1.15"/><circle cx="135.53" cy="719.13" r="1.15"/><circle cx="135.08" cy="715.56" r="1.15"/><circle cx="130.9" cy="716.13" r="1.15"/><circle cx="129.53" cy="716.75" r="1.15"/><circle cx="132.16" cy="714.92" r="1.15"/><circle cx="139.01" cy="715.91" r="1.15"/><circle cx="137.66" cy="715.16" r="1.15"/><circle cx="140.92" cy="715.59" r="1.15"/><circle cx="142.33" cy="715.62" r="1.15"/><circle cx="133.54" cy="714.39" r="1.15"/><circle cx="130.48" cy="713.28" r="1.15"/><circle cx="143.55" cy="713.7" r="1.15"/><circle cx="136.32" cy="714.32" r="1.15"/><circle cx="138.61" cy="712.95" r="1.15"/><circle cx="142.27" cy="712.62" r="1.15"/><circle cx="140.94" cy="711.72" r="1.15"/><circle cx="139.97" cy="713.65" r="1.15"/><circle cx="134.65" cy="712.78" r="1.15"/><circle cx="131.64" cy="711.77" r="1.15"/><circle cx="137.24" cy="712.34" r="1.15"/><circle cx="138.23" cy="710.2" r="1.15"/><circle cx="135.89" cy="711.52" r="1.15"/><circle cx="134.32" cy="710.23" r="1.15"/><circle cx="133.03" cy="711.29" r="1.15"/><circle cx="139.6" cy="710.88" r="1.15"/><circle cx="135.51" cy="708.81" r="1.15"/><circle cx="136.85" cy="709.61" r="1.15"/><circle cx="129.04" cy="710.37" r="1.15"/><circle cx="131.64" cy="708.86" r="1.15"/><circle cx="143.9" cy="708.98" r="1.15"/><circle cx="142.49" cy="708.9" r="1.15"/><circle cx="141.1" cy="708.34" r="1.15"/><circle cx="130.22" cy="708.93" r="1.15"/><circle cx="136.4" cy="706.79" r="1.15"/><circle cx="132.98" cy="708.05" r="1.15"/><circle cx="139.7" cy="708.04" r="1.15"/><circle cx="138.31" cy="707.48" r="1.15"/><circle cx="135.14" cy="705.02" r="1.15"/><circle cx="137.6" cy="705.24" r="1.15"/><circle cx="136.4" cy="703.85" r="1.15"/><circle cx="135.86" cy="700.76" r="1.15"/><circle cx="134.3" cy="707.12" r="1.15"/><circle cx="137.28" cy="700.76" r="1.15"/><circle cx="134.46" cy="701.09" r="1.15"/><circle cx="136.4" cy="698.35" r="1.15"/><circle cx="136.4" cy="722.95" r="1.15"/><circle cx="158.39" cy="705.32" r="1.15"/><circle cx="158.83" cy="707.68" r="1.15"/><circle cx="157.79" cy="708.08" r="1.15"/><circle cx="157.67" cy="703.26" r="1.15"/><circle cx="160.88" cy="703.57" r="1.15"/><circle cx="160.56" cy="701.09" r="1.15"/><circle cx="159.81" cy="703.55" r="1.15"/><circle cx="162.95" cy="700.17" r="1.15"/><circle cx="159.51" cy="701.03" r="1.15"/><circle cx="158.84" cy="699.03" r="1.15"/><circle cx="158.79" cy="702.91" r="1.15"/><circle cx="161.89" cy="700.13" r="1.15"/><circle cx="158.1" cy="700.89" r="1.15"/><circle cx="155.42" cy="699.4" r="1.15"/><circle cx="161.03" cy="698.66" r="1.15"/><circle cx="161.93" cy="697.28" r="1.15"/><circle cx="156.64" cy="699.76" r="1.15"/><circle cx="157.54" cy="698.42" r="1.15"/><circle cx="160.01" cy="697.97" r="1.15"/><circle cx="156.12" cy="697.45" r="1.15"/><circle cx="159.34" cy="695.96" r="1.15"/><circle cx="153.82" cy="695.93" r="1.15"/><circle cx="158.34" cy="696.74" r="1.15"/><circle cx="164.47" cy="697.06" r="1.15"/><circle cx="163.61" cy="695.55" r="1.15"/><circle cx="161.01" cy="696.01" r="1.15"/><circle cx="156.86" cy="695.62" r="1.15"/><circle cx="162.59" cy="694.97" r="1.15"/><circle cx="154.84" cy="695.37" r="1.15"/><circle cx="155.87" cy="694.76" r="1.15"/><circle cx="160.19" cy="694.39" r="1.15"/><circle cx="157.77" cy="694.3" r="1.15"/><circle cx="151.3" cy="693.26" r="1.15"/><circle cx="158.8" cy="693.74" r="1.15"/><circle cx="156.48" cy="692.65" r="1.15"/><circle cx="165.4" cy="692.84" r="1.15"/><circle cx="161.64" cy="693.86" r="1.15"/><circle cx="164.35" cy="692.78" r="1.15"/><circle cx="152.34" cy="692.81" r="1.15"/><circle cx="163.31" cy="692.3" r="1.15"/><circle cx="162.31" cy="691.5" r="1.15"/><circle cx="159.65" cy="692.17" r="1.15"/><circle cx="157.45" cy="691.63" r="1.15"/><circle cx="153.38" cy="692.5" r="1.15"/><circle cx="160.82" cy="692.22" r="1.15"/><circle cx="154.48" cy="691.91" r="1.15"/><circle cx="152.66" cy="690.34" r="1.15"/><circle cx="158.48" cy="691.13" r="1.15"/><circle cx="153.71" cy="690.02" r="1.15"/><circle cx="164.05" cy="690.27" r="1.15"/><circle cx="155.5" cy="691.22" r="1.15"/><circle cx="161.45" cy="690" r="1.15"/><circle cx="156.42" cy="689.99" r="1.15"/><circle cx="159.35" cy="689.67" r="1.15"/><circle cx="163.25" cy="688.57" r="1.15"/><circle cx="154.69" cy="689.12" r="1.15"/><circle cx="160.4" cy="689.84" r="1.15"/><circle cx="158.42" cy="688.45" r="1.15"/><circle cx="155.57" cy="687.66" r="1.15"/><circle cx="159.13" cy="686.53" r="1.15"/><circle cx="157.39" cy="688.96" r="1.15"/><circle cx="160.15" cy="687.22" r="1.15"/><circle cx="161.2" cy="687.46" r="1.15"/><circle cx="162.22" cy="688.05" r="1.15"/><circle cx="156.6" cy="687.22" r="1.15"/><circle cx="157.96" cy="685.63" r="1.15"/><circle cx="160.86" cy="684.99" r="1.15"/><circle cx="153.95" cy="686.77" r="1.15"/><circle cx="155.87" cy="685.1" r="1.15"/><circle cx="161.91" cy="685.29" r="1.15"/><circle cx="159.85" cy="684.28" r="1.15"/><circle cx="156.91" cy="684.73" r="1.15"/><circle cx="162.96" cy="685.42" r="1.15"/><circle cx="154.82" cy="685.3" r="1.15"/><circle cx="156" cy="681.92" r="1.15"/><circle cx="157.64" cy="682.86" r="1.15"/><circle cx="156.95" cy="680.76" r="1.15"/><circle cx="158.8" cy="684.07" r="1.15"/><circle cx="160.67" cy="681.17" r="1.15"/><circle cx="158.51" cy="681.41" r="1.15"/><circle cx="159.67" cy="680.36" r="1.15"/><circle cx="157.75" cy="679.09" r="1.15"/><circle cx="158.8" cy="678.91" r="1.15"/><circle cx="158.8" cy="665.55" r="1.15"/><circle cx="158.8" cy="669.65" r="1.15"/></g>
<line x1="83.5" y1="703.48" x2="98.5" y2="703.48" stroke="#111" stroke-width="1.4"/>
<line x1="106.2" y1="710.65" x2="121.2" y2="710.65" stroke="#111" stroke-width="1.4"/>
<line x1="128.9" y1="712.7" x2="143.9" y2="712.7" stroke="#111" stroke-width="1.4"/>
<line x1="151.3" y1="692.2" x2="166.3" y2="692.2" stroke="#111" stroke-width="1.4"/>
<path d="M91.2 681V654.5H111.8V692.4" class="br"/>
<path d="M116.2 692.4V654.5H136.4V693.5" class="br"/>
<path d="M113.8 640.8V634.5H159V660.6" class="br"/>
<circle cx="94.3" cy="648.9" r="1.35" class="st"/><circle cx="99.1" cy="648.9" r="1.35" class="st"/><circle cx="103.9" cy="648.9" r="1.35" class="st"/><circle cx="108.7" cy="648.9" r="1.35" class="st"/>
<text x="126.3" y="649.9" class="ns">ns</text>
<circle cx="129.2" cy="628.9" r="1.35" class="st"/><circle cx="134" cy="628.9" r="1.35" class="st"/><circle cx="138.8" cy="628.9" r="1.35" class="st"/><circle cx="143.6" cy="628.9" r="1.35" class="st"/>
<text x="91.3" y="734.7" class="xl">CMS1</text>
<text x="114" y="734.7" class="xl">CMS2</text>
<text x="136.7" y="734.7" class="xl">CMS3</text>
<text x="159.1" y="734.7" class="xl">CMS4</text>
<line x1="201" y1="692.4" x2="298" y2="692.4" stroke="#444" stroke-width="1.1" stroke-dasharray="1.5 1.25"/>
<line x1="200" y1="628" x2="200" y2="725.4" stroke="#7a7a7a" stroke-width="1.4"/>
<line x1="199.4" y1="725.4" x2="298" y2="725.4" stroke="#1a1a1a" stroke-width="1.2"/>
<line x1="200" y1="627.9" x2="201.5" y2="627.9" stroke="#222" stroke-width="0.9"/>
<text x="198.4" y="629.4" class="tk">6</text>
<line x1="200" y1="649.4" x2="201.5" y2="649.4" stroke="#222" stroke-width="0.9"/>
<text x="198.4" y="650.9" class="tk">4</text>
<line x1="200" y1="670.9" x2="201.5" y2="670.9" stroke="#222" stroke-width="0.9"/>
<text x="198.4" y="672.4" class="tk">2</text>
<line x1="200" y1="692.4" x2="201.5" y2="692.4" stroke="#222" stroke-width="0.9"/>
<text x="198.4" y="693.9" class="tk">0</text>
<line x1="200" y1="713.9" x2="201.5" y2="713.9" stroke="#222" stroke-width="0.9"/>
<text x="198.4" y="715.4" class="tk">-2</text>
<g class="g6"><circle cx="214.4" cy="699.17" r="1.15"/><circle cx="209.76" cy="696.1" r="1.15"/><circle cx="213.68" cy="695.84" r="1.15"/><circle cx="211.18" cy="694.66" r="1.15"/><circle cx="217.31" cy="695.88" r="1.15"/><circle cx="208.48" cy="694.17" r="1.15"/><circle cx="216.05" cy="694.13" r="1.15"/><circle cx="206.9" cy="695.14" r="1.15"/><circle cx="217.89" cy="692.75" r="1.15"/><circle cx="219.32" cy="694.16" r="1.15"/><circle cx="220.97" cy="694.79" r="1.15"/><circle cx="212.7" cy="693.49" r="1.15"/><circle cx="214.4" cy="693.48" r="1.15"/><circle cx="209.94" cy="692.82" r="1.15"/><circle cx="214.78" cy="690.89" r="1.15"/><circle cx="211.43" cy="691.57" r="1.15"/><circle cx="211.08" cy="688.8" r="1.15"/><circle cx="213.07" cy="690.91" r="1.15"/><circle cx="217.7" cy="689.3" r="1.15"/><circle cx="209.46" cy="689.59" r="1.15"/><circle cx="216.45" cy="691.36" r="1.15"/><circle cx="214.36" cy="688.37" r="1.15"/><circle cx="212.44" cy="687.24" r="1.15"/><circle cx="213.6" cy="685.33" r="1.15"/><circle cx="216.04" cy="688.7" r="1.15"/><circle cx="214.4" cy="683.04" r="1.15"/><circle cx="214.4" cy="679.89" r="1.15"/><circle cx="215.22" cy="686.13" r="1.15"/><circle cx="216.1" cy="680.01" r="1.15"/><circle cx="212.7" cy="679.89" r="1.15"/><circle cx="237.19" cy="709.21" r="1.15"/><circle cx="237.1" cy="711.86" r="1.15"/><circle cx="234.92" cy="709.57" r="1.15"/><circle cx="236.45" cy="713.42" r="1.15"/><circle cx="236.45" cy="708.15" r="1.15"/><circle cx="239.65" cy="709.77" r="1.15"/><circle cx="234.12" cy="710.02" r="1.15"/><circle cx="238.94" cy="708.54" r="1.15"/><circle cx="238.25" cy="707.15" r="1.15"/><circle cx="237.99" cy="709.64" r="1.15"/><circle cx="237.08" cy="706.52" r="1.15"/><circle cx="235.63" cy="708.32" r="1.15"/><circle cx="240.78" cy="705.89" r="1.15"/><circle cx="232.64" cy="706.2" r="1.15"/><circle cx="234.24" cy="705.31" r="1.15"/><circle cx="239.98" cy="705.34" r="1.15"/><circle cx="241.58" cy="706.27" r="1.15"/><circle cx="233.43" cy="705.66" r="1.15"/><circle cx="239.19" cy="704.76" r="1.15"/><circle cx="235.05" cy="705.12" r="1.15"/><circle cx="238.01" cy="704.66" r="1.15"/><circle cx="236.2" cy="705.1" r="1.15"/><circle cx="241.87" cy="703.78" r="1.15"/><circle cx="236.37" cy="702.56" r="1.15"/><circle cx="235.58" cy="703.15" r="1.15"/><circle cx="232.98" cy="703.3" r="1.15"/><circle cx="237.23" cy="703.96" r="1.15"/><circle cx="241.08" cy="703.23" r="1.15"/><circle cx="243.47" cy="702.3" r="1.15"/><circle cx="238.67" cy="702.76" r="1.15"/><circle cx="230.88" cy="702.22" r="1.15"/><circle cx="230.08" cy="702.58" r="1.15"/><circle cx="240.31" cy="702.4" r="1.15"/><circle cx="234.63" cy="701.93" r="1.15"/><circle cx="237.88" cy="702.08" r="1.15"/><circle cx="242.66" cy="701.96" r="1.15"/><circle cx="237.1" cy="701.39" r="1.15"/><circle cx="239.55" cy="701.47" r="1.15"/><circle cx="233.71" cy="702.17" r="1.15"/><circle cx="232.37" cy="700.71" r="1.15"/><circle cx="233.16" cy="700.19" r="1.15"/><circle cx="235.32" cy="700.57" r="1.15"/><circle cx="231.55" cy="700.74" r="1.15"/><circle cx="241.93" cy="700.87" r="1.15"/><circle cx="241.12" cy="700.57" r="1.15"/><circle cx="238.85" cy="700.15" r="1.15"/><circle cx="243.22" cy="699.54" r="1.15"/><circle cx="240.35" cy="699.76" r="1.15"/><circle cx="233.96" cy="699.69" r="1.15"/><circle cx="236.11" cy="699.92" r="1.15"/><circle cx="229.66" cy="699.3" r="1.15"/><circle cx="238.06" cy="699.51" r="1.15"/><circle cx="239.66" cy="698.35" r="1.15"/><circle cx="237.19" cy="698.75" r="1.15"/><circle cx="242.44" cy="698.78" r="1.15"/><circle cx="235.49" cy="697.95" r="1.15"/><circle cx="230.32" cy="697.81" r="1.15"/><circle cx="244.6" cy="698.31" r="1.15"/><circle cx="234.71" cy="698.68" r="1.15"/><circle cx="238.66" cy="697.61" r="1.15"/><circle cx="232.3" cy="698.08" r="1.15"/><circle cx="240.86" cy="697.53" r="1.15"/><circle cx="241.66" cy="698.03" r="1.15"/><circle cx="243.81" cy="697.67" r="1.15"/><circle cx="236.4" cy="697.49" r="1.15"/><circle cx="231.13" cy="697.58" r="1.15"/><circle cx="233.44" cy="697.52" r="1.15"/><circle cx="234.2" cy="696.58" r="1.15"/><circle cx="237.87" cy="696.98" r="1.15"/><circle cx="237.1" cy="696.17" r="1.15"/><circle cx="240.15" cy="696.27" r="1.15"/><circle cx="243.12" cy="696.32" r="1.15"/><circle cx="231.78" cy="696" r="1.15"/><circle cx="242.3" cy="696.22" r="1.15"/><circle cx="239.33" cy="695.98" r="1.15"/><circle cx="232.58" cy="695.64" r="1.15"/><circle cx="235.78" cy="695.52" r="1.15"/><circle cx="234.97" cy="695.75" r="1.15"/><circle cx="233.36" cy="694.91" r="1.15"/><circle cx="241.59" cy="694.96" r="1.15"/><circle cx="236.48" cy="694.23" r="1.15"/><circle cx="238.58" cy="695.03" r="1.15"/><circle cx="239.22" cy="693.39" r="1.15"/><circle cx="237.68" cy="694.35" r="1.15"/><circle cx="240.02" cy="693.71" r="1.15"/><circle cx="242.63" cy="693.77" r="1.15"/><circle cx="240.79" cy="694.6" r="1.15"/><circle cx="234.1" cy="693.81" r="1.15"/><circle cx="232.18" cy="692.82" r="1.15"/><circle cx="238.46" cy="692.45" r="1.15"/><circle cx="234.89" cy="693.15" r="1.15"/><circle cx="241.25" cy="691.89" r="1.15"/><circle cx="242.07" cy="691.9" r="1.15"/><circle cx="235.69" cy="692.7" r="1.15"/><circle cx="240.47" cy="691.21" r="1.15"/><circle cx="232.94" cy="691.89" r="1.15"/><circle cx="237.1" cy="692.53" r="1.15"/><circle cx="239.66" cy="690.97" r="1.15"/><circle cx="237.77" cy="691.06" r="1.15"/><circle cx="236.35" cy="691.18" r="1.15"/><circle cx="233.74" cy="691.47" r="1.15"/><circle cx="234.52" cy="690.7" r="1.15"/><circle cx="238.2" cy="688.75" r="1.15"/><circle cx="238.89" cy="690.1" r="1.15"/><circle cx="235.32" cy="690.32" r="1.15"/><circle cx="237.05" cy="689.87" r="1.15"/><circle cx="236.39" cy="686.57" r="1.15"/><circle cx="237.1" cy="685.31" r="1.15"/><circle cx="235.99" cy="688.83" r="1.15"/><circle cx="237.46" cy="687.63" r="1.15"/><circle cx="260.46" cy="716.67" r="1.15"/><circle cx="259.8" cy="713.02" r="1.15"/><circle cx="259.8" cy="710.28" r="1.15"/><circle cx="258.13" cy="710.41" r="1.15"/><circle cx="259.03" cy="715.33" r="1.15"/><circle cx="262.08" cy="709.22" r="1.15"/><circle cx="258.82" cy="707.67" r="1.15"/><circle cx="256.54" cy="711.22" r="1.15"/><circle cx="265.4" cy="708.37" r="1.15"/><circle cx="254.49" cy="708.21" r="1.15"/><circle cx="252.83" cy="708.52" r="1.15"/><circle cx="264.1" cy="706.74" r="1.15"/><circle cx="260.69" cy="707.76" r="1.15"/><circle cx="257.43" cy="706.17" r="1.15"/><circle cx="255.78" cy="706.54" r="1.15"/><circle cx="252.68" cy="704.49" r="1.15"/><circle cx="262.43" cy="706.52" r="1.15"/><circle cx="259.8" cy="705.57" r="1.15"/><circle cx="266.85" cy="704.27" r="1.15"/><circle cx="254.34" cy="704.15" r="1.15"/><circle cx="255.89" cy="703.16" r="1.15"/><circle cx="258.13" cy="703.81" r="1.15"/><circle cx="260.37" cy="702.55" r="1.15"/><circle cx="261.64" cy="704.22" r="1.15"/><circle cx="257.17" cy="701.5" r="1.15"/><circle cx="263.66" cy="702.89" r="1.15"/><circle cx="258.85" cy="701.46" r="1.15"/><circle cx="252.3" cy="700.59" r="1.15"/><circle cx="262.18" cy="701.68" r="1.15"/><circle cx="253.96" cy="700.28" r="1.15"/><circle cx="255.54" cy="699.4" r="1.15"/><circle cx="265.32" cy="703.2" r="1.15"/><circle cx="264.23" cy="699.88" r="1.15"/><circle cx="262.62" cy="699.15" r="1.15"/><circle cx="265.87" cy="700.36" r="1.15"/><circle cx="260.89" cy="700.03" r="1.15"/><circle cx="259.36" cy="698.98" r="1.15"/><circle cx="257.12" cy="698.56" r="1.15"/><circle cx="261.34" cy="697.48" r="1.15"/><circle cx="259.8" cy="696.47" r="1.15"/><circle cx="258.13" cy="696.49" r="1.15"/><circle cx="262.99" cy="694.35" r="1.15"/><circle cx="258.15" cy="693.38" r="1.15"/><circle cx="259.8" cy="692.98" r="1.15"/><circle cx="255.05" cy="694.85" r="1.15"/><circle cx="261.32" cy="694.05" r="1.15"/><circle cx="256.72" cy="694.73" r="1.15"/><circle cx="259.8" cy="688.57" r="1.15"/><circle cx="259.8" cy="722.5" r="1.15"/><circle cx="282.2" cy="697.23" r="1.15"/><circle cx="284.71" cy="691.06" r="1.15"/><circle cx="280.28" cy="693.07" r="1.15"/><circle cx="283.92" cy="692.95" r="1.15"/><circle cx="281.14" cy="691.54" r="1.15"/><circle cx="278.82" cy="691.34" r="1.15"/><circle cx="282.9" cy="692.26" r="1.15"/><circle cx="282.11" cy="690.51" r="1.15"/><circle cx="279.82" cy="690.48" r="1.15"/><circle cx="282.04" cy="693.8" r="1.15"/><circle cx="283.73" cy="690.06" r="1.15"/><circle cx="282.84" cy="688.62" r="1.15"/><circle cx="281.7" cy="688.1" r="1.15"/><circle cx="284.05" cy="686.32" r="1.15"/><circle cx="286.57" cy="687.07" r="1.15"/><circle cx="280.73" cy="689.13" r="1.15"/><circle cx="282.44" cy="686.22" r="1.15"/><circle cx="285.09" cy="686.76" r="1.15"/><circle cx="279.77" cy="686.46" r="1.15"/><circle cx="278.39" cy="686.84" r="1.15"/><circle cx="289.1" cy="685.16" r="1.15"/><circle cx="286.09" cy="684.75" r="1.15"/><circle cx="280.81" cy="685.89" r="1.15"/><circle cx="281.68" cy="684.41" r="1.15"/><circle cx="274.92" cy="685.2" r="1.15"/><circle cx="278.98" cy="684.68" r="1.15"/><circle cx="288.4" cy="683.21" r="1.15"/><circle cx="285.1" cy="683.82" r="1.15"/><circle cx="279.95" cy="683.65" r="1.15"/><circle cx="283.28" cy="684.54" r="1.15"/><circle cx="275.72" cy="683.49" r="1.15"/><circle cx="284.18" cy="682.53" r="1.15"/><circle cx="276.77" cy="683.16" r="1.15"/><circle cx="277.83" cy="682.93" r="1.15"/><circle cx="280.86" cy="682.33" r="1.15"/><circle cx="282.5" cy="682.77" r="1.15"/><circle cx="287.35" cy="682.96" r="1.15"/><circle cx="278.79" cy="681.84" r="1.15"/><circle cx="285.36" cy="681.17" r="1.15"/><circle cx="279.79" cy="680.99" r="1.15"/><circle cx="286.35" cy="682.05" r="1.15"/><circle cx="283.34" cy="680.96" r="1.15"/><circle cx="284.47" cy="679.73" r="1.15"/><circle cx="281.76" cy="680.92" r="1.15"/><circle cx="289.69" cy="680.07" r="1.15"/><circle cx="280.69" cy="679.62" r="1.15"/><circle cx="274.7" cy="679.81" r="1.15"/><circle cx="276.8" cy="679.28" r="1.15"/><circle cx="275.74" cy="679.32" r="1.15"/><circle cx="287.62" cy="678.99" r="1.15"/><circle cx="277.84" cy="678.8" r="1.15"/><circle cx="288.67" cy="679.39" r="1.15"/><circle cx="278.84" cy="677.94" r="1.15"/><circle cx="286.57" cy="678.57" r="1.15"/><circle cx="285.53" cy="678.18" r="1.15"/><circle cx="282.55" cy="679.21" r="1.15"/><circle cx="281.58" cy="678.19" r="1.15"/><circle cx="279.9" cy="677.72" r="1.15"/><circle cx="283.73" cy="677.87" r="1.15"/><circle cx="288.3" cy="676.81" r="1.15"/><circle cx="282.82" cy="676.53" r="1.15"/><circle cx="287.29" cy="676.03" r="1.15"/><circle cx="280.81" cy="676.37" r="1.15"/><circle cx="277.12" cy="676.73" r="1.15"/><circle cx="281.82" cy="675.66" r="1.15"/><circle cx="286.24" cy="675.65" r="1.15"/><circle cx="278.09" cy="675.72" r="1.15"/><circle cx="279.09" cy="674.81" r="1.15"/><circle cx="284.7" cy="676.55" r="1.15"/><circle cx="284.26" cy="674.18" r="1.15"/><circle cx="280.12" cy="674.21" r="1.15"/><circle cx="282.2" cy="673.22" r="1.15"/><circle cx="283.21" cy="674.05" r="1.15"/><circle cx="281.15" cy="673.63" r="1.15"/><circle cx="282.94" cy="670.98" r="1.15"/><circle cx="285.32" cy="674.34" r="1.15"/><circle cx="284" cy="671.17" r="1.15"/><circle cx="285.04" cy="671.75" r="1.15"/><circle cx="279.59" cy="671.32" r="1.15"/><circle cx="280.65" cy="671.15" r="1.15"/><circle cx="278.62" cy="672.34" r="1.15"/><circle cx="281.7" cy="670.71" r="1.15"/><circle cx="281.42" cy="667.76" r="1.15"/><circle cx="282.4" cy="668.76" r="1.15"/><circle cx="282.2" cy="666" r="1.15"/></g>
<line x1="206.9" y1="693.48" x2="221.9" y2="693.48" stroke="#111" stroke-width="1.4"/>
<line x1="229.6" y1="697.77" x2="244.6" y2="697.77" stroke="#111" stroke-width="1.4"/>
<line x1="252.3" y1="703.15" x2="267.3" y2="703.15" stroke="#111" stroke-width="1.4"/>
<line x1="274.7" y1="679.5" x2="289.7" y2="679.5" stroke="#111" stroke-width="1.4"/>
<path d="M214.6 677.2V653.8H235.2V683.3" class="br"/>
<path d="M239.6 683.3V653.8H259.8V685.6" class="br"/>
<path d="M237.2 641.3V635.6H282.4V660.6" class="br"/>
<circle cx="222.5" cy="648.2" r="1.35" class="st"/><circle cx="227.3" cy="648.2" r="1.35" class="st"/>
<circle cx="247.3" cy="648.2" r="1.35" class="st"/><circle cx="252.1" cy="648.2" r="1.35" class="st"/>
<circle cx="252.6" cy="630" r="1.35" class="st"/><circle cx="257.4" cy="630" r="1.35" class="st"/><circle cx="262.2" cy="630" r="1.35" class="st"/><circle cx="267" cy="630" r="1.35" class="st"/>
<text x="214.7" y="734.7" class="xl">CMS1</text>
<text x="237.4" y="734.7" class="xl">CMS2</text>
<text x="260.1" y="734.7" class="xl">CMS3</text>
<text x="282.5" y="734.7" class="xl">CMS4</text>
<line x1="324.6" y1="702" x2="421.6" y2="702" stroke="#444" stroke-width="1.1" stroke-dasharray="1.5 1.25"/>
<path d="M323.6 628V725.4H421.6" fill="none" stroke="#1a1a1a" stroke-width="1.2"/>
<line x1="323.6" y1="627.6" x2="325.1" y2="627.6" stroke="#222" stroke-width="0.9"/>
<text x="322" y="629.1" class="tk">8</text>
<line x1="323.6" y1="646.2" x2="325.1" y2="646.2" stroke="#222" stroke-width="0.9"/>
<text x="322" y="647.7" class="tk">6</text>
<line x1="323.6" y1="664.8" x2="325.1" y2="664.8" stroke="#222" stroke-width="0.9"/>
<text x="322" y="666.3" class="tk">4</text>
<line x1="323.6" y1="683.4" x2="325.1" y2="683.4" stroke="#222" stroke-width="0.9"/>
<text x="322" y="684.9" class="tk">2</text>
<line x1="323.6" y1="702" x2="325.1" y2="702" stroke="#222" stroke-width="0.9"/>
<text x="322" y="703.5" class="tk">0</text>
<line x1="323.6" y1="720.6" x2="325.1" y2="720.6" stroke="#222" stroke-width="0.9"/>
<text x="322" y="722.1" class="tk">-2</text>
<g class="g6"><circle cx="339.86" cy="706.84" r="1.15"/><circle cx="336.12" cy="706.77" r="1.15"/><circle cx="338" cy="705.97" r="1.15"/><circle cx="334.34" cy="707.89" r="1.15"/><circle cx="336.86" cy="702.34" r="1.15"/><circle cx="335.23" cy="703.82" r="1.15"/><circle cx="339.16" cy="701.83" r="1.15"/><circle cx="341.09" cy="702.4" r="1.15"/><circle cx="332.55" cy="700.18" r="1.15"/><circle cx="345.11" cy="700.98" r="1.15"/><circle cx="337.75" cy="700.02" r="1.15"/><circle cx="341.47" cy="699.08" r="1.15"/><circle cx="343.38" cy="699.74" r="1.15"/><circle cx="334.42" cy="699.33" r="1.15"/><circle cx="339.5" cy="698.83" r="1.15"/><circle cx="336.2" cy="698.2" r="1.15"/><circle cx="330.5" cy="697.26" r="1.15"/><circle cx="338" cy="697.14" r="1.15"/><circle cx="343.58" cy="696.86" r="1.15"/><circle cx="339.83" cy="695.47" r="1.15"/><circle cx="341.79" cy="695.76" r="1.15"/><circle cx="332.44" cy="696.77" r="1.15"/><circle cx="336.31" cy="692.68" r="1.15"/><circle cx="334.41" cy="696.58" r="1.15"/><circle cx="337.03" cy="688.85" r="1.15"/><circle cx="336.13" cy="695.31" r="1.15"/><circle cx="338" cy="694.49" r="1.15"/><circle cx="339.67" cy="692.72" r="1.15"/><circle cx="338" cy="686.58" r="1.15"/><circle cx="338" cy="691.34" r="1.15"/><circle cx="360.09" cy="720.22" r="1.15"/><circle cx="360.7" cy="719.84" r="1.15"/><circle cx="360.29" cy="717.56" r="1.15"/><circle cx="361.28" cy="716.43" r="1.15"/><circle cx="362.51" cy="716.66" r="1.15"/><circle cx="359.72" cy="716.56" r="1.15"/><circle cx="361.9" cy="716.59" r="1.15"/><circle cx="358.58" cy="716.68" r="1.15"/><circle cx="363.1" cy="717.44" r="1.15"/><circle cx="360.7" cy="715.62" r="1.15"/><circle cx="364.62" cy="715.24" r="1.15"/><circle cx="360.05" cy="714.37" r="1.15"/><circle cx="359.08" cy="715.13" r="1.15"/><circle cx="356.79" cy="714.81" r="1.15"/><circle cx="362.5" cy="713.9" r="1.15"/><circle cx="364.03" cy="714.57" r="1.15"/><circle cx="363.45" cy="713.66" r="1.15"/><circle cx="357.4" cy="714.48" r="1.15"/><circle cx="361.18" cy="713.21" r="1.15"/><circle cx="357.98" cy="713.64" r="1.15"/><circle cx="360.57" cy="712.98" r="1.15"/><circle cx="359.49" cy="713.21" r="1.15"/><circle cx="358.59" cy="713.28" r="1.15"/><circle cx="361.79" cy="713.44" r="1.15"/><circle cx="356.32" cy="712.02" r="1.15"/><circle cx="355.43" cy="712.25" r="1.15"/><circle cx="356.94" cy="711.93" r="1.15"/><circle cx="365.34" cy="712.07" r="1.15"/><circle cx="362.96" cy="712.09" r="1.15"/><circle cx="364.5" cy="711.66" r="1.15"/><circle cx="359.03" cy="711.47" r="1.15"/><circle cx="362.24" cy="711.56" r="1.15"/><circle cx="357.54" cy="711.37" r="1.15"/><circle cx="363.88" cy="711.54" r="1.15"/><circle cx="359.83" cy="711.03" r="1.15"/><circle cx="361.61" cy="710.94" r="1.15"/><circle cx="358.15" cy="711.09" r="1.15"/><circle cx="362.69" cy="709.77" r="1.15"/><circle cx="360.7" cy="710.44" r="1.15"/><circle cx="354.25" cy="710.21" r="1.15"/><circle cx="367.04" cy="710.18" r="1.15"/><circle cx="366.43" cy="710.02" r="1.15"/><circle cx="355.07" cy="710.02" r="1.15"/><circle cx="363.37" cy="710.11" r="1.15"/><circle cx="365.81" cy="709.93" r="1.15"/><circle cx="365.01" cy="709.87" r="1.15"/><circle cx="358.63" cy="709.46" r="1.15"/><circle cx="359.35" cy="709.25" r="1.15"/><circle cx="356.28" cy="709.25" r="1.15"/><circle cx="355.68" cy="709.87" r="1.15"/><circle cx="361.22" cy="708.93" r="1.15"/><circle cx="360.17" cy="708.89" r="1.15"/><circle cx="362.1" cy="709.02" r="1.15"/><circle cx="356.89" cy="709.16" r="1.15"/><circle cx="364.48" cy="708.57" r="1.15"/><circle cx="363.85" cy="708.25" r="1.15"/><circle cx="357.49" cy="708.55" r="1.15"/><circle cx="353.2" cy="708.08" r="1.15"/><circle cx="358.08" cy="707.77" r="1.15"/><circle cx="368.14" cy="708.04" r="1.15"/><circle cx="353.81" cy="707.97" r="1.15"/><circle cx="363.26" cy="707.56" r="1.15"/><circle cx="354.42" cy="707.72" r="1.15"/><circle cx="367.53" cy="707.72" r="1.15"/><circle cx="360.7" cy="707.55" r="1.15"/><circle cx="365.45" cy="707.85" r="1.15"/><circle cx="355.03" cy="707.42" r="1.15"/><circle cx="362.62" cy="706.99" r="1.15"/><circle cx="366.92" cy="707.49" r="1.15"/><circle cx="356.53" cy="706.85" r="1.15"/><circle cx="366.32" cy="706.94" r="1.15"/><circle cx="359.56" cy="706.8" r="1.15"/><circle cx="364.95" cy="706.31" r="1.15"/><circle cx="361.85" cy="706.65" r="1.15"/><circle cx="358.95" cy="707.26" r="1.15"/><circle cx="355.58" cy="706.25" r="1.15"/><circle cx="364.26" cy="706.15" r="1.15"/><circle cx="360.14" cy="706.04" r="1.15"/><circle cx="361.25" cy="706.11" r="1.15"/><circle cx="357.13" cy="706.19" r="1.15"/><circle cx="357.72" cy="705.58" r="1.15"/><circle cx="360.7" cy="704.94" r="1.15"/><circle cx="363.66" cy="705.55" r="1.15"/><circle cx="365.8" cy="705.6" r="1.15"/><circle cx="362.45" cy="704.5" r="1.15"/><circle cx="358.34" cy="705.42" r="1.15"/><circle cx="363.05" cy="705.1" r="1.15"/><circle cx="356.67" cy="704.07" r="1.15"/><circle cx="358.91" cy="704.53" r="1.15"/><circle cx="356.07" cy="704.69" r="1.15"/><circle cx="361.85" cy="703.87" r="1.15"/><circle cx="365.29" cy="704.14" r="1.15"/><circle cx="359.52" cy="703.87" r="1.15"/><circle cx="361.25" cy="703.23" r="1.15"/><circle cx="364.68" cy="703.98" r="1.15"/><circle cx="360.13" cy="703.43" r="1.15"/><circle cx="357.27" cy="703.48" r="1.15"/><circle cx="364.12" cy="702.92" r="1.15"/><circle cx="358.48" cy="702.69" r="1.15"/><circle cx="362.89" cy="702.6" r="1.15"/><circle cx="357.87" cy="702.86" r="1.15"/><circle cx="360.68" cy="702.3" r="1.15"/><circle cx="359.07" cy="702.01" r="1.15"/><circle cx="363.5" cy="702.72" r="1.15"/><circle cx="362.32" cy="701.65" r="1.15"/><circle cx="361.12" cy="700.49" r="1.15"/><circle cx="361.72" cy="701.17" r="1.15"/><circle cx="360.22" cy="700.25" r="1.15"/><circle cx="359.66" cy="701.22" r="1.15"/><circle cx="360.7" cy="698.6" r="1.15"/><circle cx="382.36" cy="716.56" r="1.15"/><circle cx="384.44" cy="716.56" r="1.15"/><circle cx="382.95" cy="712.68" r="1.15"/><circle cx="385.64" cy="712.05" r="1.15"/><circle cx="383.4" cy="715.6" r="1.15"/><circle cx="378.68" cy="712.08" r="1.15"/><circle cx="387.76" cy="711.35" r="1.15"/><circle cx="379.65" cy="710.77" r="1.15"/><circle cx="381.79" cy="711.23" r="1.15"/><circle cx="384.59" cy="711.11" r="1.15"/><circle cx="383.51" cy="710.44" r="1.15"/><circle cx="382.52" cy="709.26" r="1.15"/><circle cx="386.75" cy="710.19" r="1.15"/><circle cx="380.73" cy="710.08" r="1.15"/><circle cx="381.45" cy="708.1" r="1.15"/><circle cx="385.75" cy="709.06" r="1.15"/><circle cx="379.22" cy="707.73" r="1.15"/><circle cx="384.46" cy="708.47" r="1.15"/><circle cx="388.72" cy="708.27" r="1.15"/><circle cx="390.9" cy="707.11" r="1.15"/><circle cx="380.25" cy="706.74" r="1.15"/><circle cx="383.4" cy="707.66" r="1.15"/><circle cx="387.73" cy="707.05" r="1.15"/><circle cx="376.89" cy="707.06" r="1.15"/><circle cx="386.62" cy="707.03" r="1.15"/><circle cx="384.23" cy="705.92" r="1.15"/><circle cx="385.31" cy="706.67" r="1.15"/><circle cx="389.87" cy="706.11" r="1.15"/><circle cx="382.28" cy="706.36" r="1.15"/><circle cx="381.15" cy="705.19" r="1.15"/><circle cx="377.9" cy="705.96" r="1.15"/><circle cx="378.86" cy="704.64" r="1.15"/><circle cx="388.8" cy="705.36" r="1.15"/><circle cx="383.21" cy="704.89" r="1.15"/><circle cx="386.19" cy="704.63" r="1.15"/><circle cx="385.11" cy="703.91" r="1.15"/><circle cx="379.97" cy="704.21" r="1.15"/><circle cx="387.77" cy="704.32" r="1.15"/><circle cx="382.04" cy="703.62" r="1.15"/><circle cx="384.04" cy="703.15" r="1.15"/><circle cx="380.77" cy="702.4" r="1.15"/><circle cx="385.87" cy="701.71" r="1.15"/><circle cx="382.99" cy="702.25" r="1.15"/><circle cx="386.91" cy="702.65" r="1.15"/><circle cx="384.82" cy="700.79" r="1.15"/><circle cx="383.73" cy="700.29" r="1.15"/><circle cx="382.65" cy="699.57" r="1.15"/><circle cx="383.4" cy="697.64" r="1.15"/><circle cx="381.72" cy="701.03" r="1.15"/><circle cx="406.89" cy="701.93" r="1.15"/><circle cx="405.8" cy="705.28" r="1.15"/><circle cx="404.69" cy="705.28" r="1.15"/><circle cx="409.94" cy="701.05" r="1.15"/><circle cx="404.84" cy="702.7" r="1.15"/><circle cx="405.8" cy="701.41" r="1.15"/><circle cx="402.43" cy="700.68" r="1.15"/><circle cx="407.82" cy="699.57" r="1.15"/><circle cx="408.9" cy="700.15" r="1.15"/><circle cx="404.56" cy="699.4" r="1.15"/><circle cx="406.72" cy="699.21" r="1.15"/><circle cx="405.63" cy="698.71" r="1.15"/><circle cx="403.46" cy="699.68" r="1.15"/><circle cx="410.25" cy="697.33" r="1.15"/><circle cx="401.47" cy="697.15" r="1.15"/><circle cx="402.65" cy="696.89" r="1.15"/><circle cx="398.3" cy="696.4" r="1.15"/><circle cx="406.31" cy="696.66" r="1.15"/><circle cx="413.3" cy="695.2" r="1.15"/><circle cx="408.13" cy="696.19" r="1.15"/><circle cx="409.24" cy="696.25" r="1.15"/><circle cx="403.66" cy="695.81" r="1.15"/><circle cx="412.19" cy="695.17" r="1.15"/><circle cx="400.67" cy="694.94" r="1.15"/><circle cx="401.77" cy="694.65" r="1.15"/><circle cx="404.73" cy="695.06" r="1.15"/><circle cx="399.57" cy="695.35" r="1.15"/><circle cx="407.18" cy="694.85" r="1.15"/><circle cx="405.8" cy="694.35" r="1.15"/><circle cx="411.08" cy="695.08" r="1.15"/><circle cx="410.14" cy="693.69" r="1.15"/><circle cx="402.75" cy="693.45" r="1.15"/><circle cx="408.89" cy="693.4" r="1.15"/><circle cx="398.63" cy="693.92" r="1.15"/><circle cx="403.86" cy="693.25" r="1.15"/><circle cx="407.82" cy="692.7" r="1.15"/><circle cx="400.5" cy="692" r="1.15"/><circle cx="399.39" cy="692.01" r="1.15"/><circle cx="404.91" cy="692.45" r="1.15"/><circle cx="405.82" cy="690.95" r="1.15"/><circle cx="413.11" cy="692.07" r="1.15"/><circle cx="410.9" cy="691.78" r="1.15"/><circle cx="412" cy="692" r="1.15"/><circle cx="406.71" cy="692.49" r="1.15"/><circle cx="401.59" cy="691.6" r="1.15"/><circle cx="408.74" cy="690.56" r="1.15"/><circle cx="409.82" cy="691.21" r="1.15"/><circle cx="403.75" cy="690.47" r="1.15"/><circle cx="404.82" cy="689.81" r="1.15"/><circle cx="402.65" cy="690.81" r="1.15"/><circle cx="411.61" cy="689.13" r="1.15"/><circle cx="407.49" cy="690.16" r="1.15"/><circle cx="410.5" cy="688.93" r="1.15"/><circle cx="406.53" cy="688.86" r="1.15"/><circle cx="400.12" cy="688.18" r="1.15"/><circle cx="401.41" cy="688.46" r="1.15"/><circle cx="408.33" cy="688.15" r="1.15"/><circle cx="403.61" cy="687.84" r="1.15"/><circle cx="407.34" cy="686.96" r="1.15"/><circle cx="402.51" cy="688.16" r="1.15"/><circle cx="409.44" cy="688.17" r="1.15"/><circle cx="405.52" cy="687.78" r="1.15"/><circle cx="406.32" cy="685.98" r="1.15"/><circle cx="400.83" cy="686.18" r="1.15"/><circle cx="404.46" cy="686.17" r="1.15"/><circle cx="410.84" cy="686.29" r="1.15"/><circle cx="409.76" cy="685.63" r="1.15"/><circle cx="405.36" cy="684.65" r="1.15"/><circle cx="401.8" cy="684.9" r="1.15"/><circle cx="408.71" cy="684.81" r="1.15"/><circle cx="406.3" cy="683.25" r="1.15"/><circle cx="403.92" cy="683.64" r="1.15"/><circle cx="402.9" cy="684.69" r="1.15"/><circle cx="407.25" cy="681.67" r="1.15"/><circle cx="404.8" cy="682.07" r="1.15"/><circle cx="408.32" cy="682.38" r="1.15"/><circle cx="405.8" cy="680.93" r="1.15"/><circle cx="406.77" cy="679.33" r="1.15"/><circle cx="403.84" cy="680.17" r="1.15"/><circle cx="404.71" cy="675.16" r="1.15"/><circle cx="407.45" cy="684.23" r="1.15"/><circle cx="405.8" cy="678.05" r="1.15"/><circle cx="405.8" cy="674.66" r="1.15"/><circle cx="404.71" cy="678.56" r="1.15"/><circle cx="405.8" cy="668.52" r="1.15"/></g>
<line x1="330.5" y1="698.75" x2="345.5" y2="698.75" stroke="#111" stroke-width="1.4"/>
<line x1="353.2" y1="707.58" x2="368.2" y2="707.58" stroke="#111" stroke-width="1.4"/>
<line x1="375.9" y1="706.18" x2="390.9" y2="706.18" stroke="#111" stroke-width="1.4"/>
<line x1="398.3" y1="693.63" x2="413.3" y2="693.63" stroke="#111" stroke-width="1.4"/>
<path d="M338.2 681V657.2H358.8V691.3" class="br"/>
<path d="M363.2 691.3V657.2H383.4V692.4" class="br"/>
<path d="M360.8 642.4V636.7H406V661.7" class="br"/>
<circle cx="341.3" cy="651.6" r="1.35" class="st"/><circle cx="346.1" cy="651.6" r="1.35" class="st"/><circle cx="350.9" cy="651.6" r="1.35" class="st"/><circle cx="355.7" cy="651.6" r="1.35" class="st"/>
<text x="373.3" y="652.6" class="ns">ns</text>
<circle cx="376.2" cy="631.1" r="1.35" class="st"/><circle cx="381" cy="631.1" r="1.35" class="st"/><circle cx="385.8" cy="631.1" r="1.35" class="st"/><circle cx="390.6" cy="631.1" r="1.35" class="st"/>
<text x="338.3" y="734.7" class="xl">CMS1</text>
<text x="361" y="734.7" class="xl">CMS2</text>
<text x="383.7" y="734.7" class="xl">CMS3</text>
<text x="406.1" y="734.7" class="xl">CMS4</text>
<line x1="447.7" y1="702.6" x2="544.7" y2="702.6" stroke="#444" stroke-width="1.1" stroke-dasharray="1.5 1.25"/>
<path d="M446.7 628V725.4H544.7" fill="none" stroke="#1a1a1a" stroke-width="1.2"/>
<line x1="446.7" y1="631.8" x2="448.2" y2="631.8" stroke="#222" stroke-width="0.9"/>
<text x="445.1" y="633.3" class="tk">8</text>
<line x1="446.7" y1="649.5" x2="448.2" y2="649.5" stroke="#222" stroke-width="0.9"/>
<text x="445.1" y="651" class="tk">6</text>
<line x1="446.7" y1="667.2" x2="448.2" y2="667.2" stroke="#222" stroke-width="0.9"/>
<text x="445.1" y="668.7" class="tk">4</text>
<line x1="446.7" y1="684.9" x2="448.2" y2="684.9" stroke="#222" stroke-width="0.9"/>
<text x="445.1" y="686.4" class="tk">2</text>
<line x1="446.7" y1="702.6" x2="448.2" y2="702.6" stroke="#222" stroke-width="0.9"/>
<text x="445.1" y="704.1" class="tk">0</text>
<line x1="446.7" y1="720.3" x2="448.2" y2="720.3" stroke="#222" stroke-width="0.9"/>
<text x="445.1" y="721.8" class="tk">-2</text>
<g class="g6"><circle cx="461.1" cy="713.17" r="1.15"/><circle cx="458.5" cy="713.17" r="1.15"/><circle cx="463.7" cy="713.17" r="1.15"/><circle cx="462.43" cy="706.37" r="1.15"/><circle cx="462.81" cy="703.01" r="1.15"/><circle cx="459.28" cy="706.67" r="1.15"/><circle cx="460.66" cy="704.46" r="1.15"/><circle cx="464.62" cy="707.77" r="1.15"/><circle cx="458.5" cy="701.09" r="1.15"/><circle cx="461.1" cy="701.05" r="1.15"/><circle cx="458.5" cy="694.74" r="1.15"/><circle cx="461.1" cy="689.85" r="1.15"/><circle cx="460.56" cy="697.12" r="1.15"/><circle cx="462.96" cy="698.12" r="1.15"/><circle cx="463.67" cy="694.97" r="1.15"/><circle cx="456.01" cy="695.46" r="1.15"/><circle cx="461.1" cy="694.58" r="1.15"/><circle cx="456.54" cy="689.11" r="1.15"/><circle cx="464.05" cy="690.16" r="1.15"/><circle cx="463.63" cy="687.59" r="1.15"/><circle cx="460" cy="692.21" r="1.15"/><circle cx="461.1" cy="687.02" r="1.15"/><circle cx="458.54" cy="687.45" r="1.15"/><circle cx="461.93" cy="679.78" r="1.15"/><circle cx="457.7" cy="681.9" r="1.15"/><circle cx="460.3" cy="681.81" r="1.15"/><circle cx="464.41" cy="680.55" r="1.15"/><circle cx="461.1" cy="676.99" r="1.15"/><circle cx="459.45" cy="679" r="1.15"/><circle cx="456.64" cy="714.99" r="1.15"/><circle cx="483.24" cy="720.75" r="1.15"/><circle cx="485.22" cy="718.44" r="1.15"/><circle cx="483.8" cy="719.28" r="1.15"/><circle cx="483.62" cy="716.75" r="1.15"/><circle cx="482.96" cy="717.37" r="1.15"/><circle cx="484.28" cy="717.29" r="1.15"/><circle cx="487.28" cy="716.03" r="1.15"/><circle cx="485.04" cy="715.94" r="1.15"/><circle cx="486.67" cy="714.95" r="1.15"/><circle cx="481.85" cy="716.01" r="1.15"/><circle cx="486" cy="714.55" r="1.15"/><circle cx="482.49" cy="715.15" r="1.15"/><circle cx="480.75" cy="714.81" r="1.15"/><circle cx="484.47" cy="714.51" r="1.15"/><circle cx="483.12" cy="714.31" r="1.15"/><circle cx="483.8" cy="714.25" r="1.15"/><circle cx="481.94" cy="713.33" r="1.15"/><circle cx="485.47" cy="712.95" r="1.15"/><circle cx="479.48" cy="713.47" r="1.15"/><circle cx="487.41" cy="712.71" r="1.15"/><circle cx="488.05" cy="713.45" r="1.15"/><circle cx="486.74" cy="712.27" r="1.15"/><circle cx="481.09" cy="712.55" r="1.15"/><circle cx="484.83" cy="712.09" r="1.15"/><circle cx="480.14" cy="712.99" r="1.15"/><circle cx="482.57" cy="712.31" r="1.15"/><circle cx="488.68" cy="711.55" r="1.15"/><circle cx="483.97" cy="711.33" r="1.15"/><circle cx="481.63" cy="711.02" r="1.15"/><circle cx="483.21" cy="711.48" r="1.15"/><circle cx="477.83" cy="710.34" r="1.15"/><circle cx="480.53" cy="710.86" r="1.15"/><circle cx="485.5" cy="710.19" r="1.15"/><circle cx="488.07" cy="710.47" r="1.15"/><circle cx="486.13" cy="711.16" r="1.15"/><circle cx="489.7" cy="710.08" r="1.15"/><circle cx="478.5" cy="710" r="1.15"/><circle cx="484.56" cy="709.71" r="1.15"/><circle cx="487.11" cy="709.77" r="1.15"/><circle cx="482.25" cy="709.97" r="1.15"/><circle cx="479.17" cy="709.86" r="1.15"/><circle cx="479.84" cy="709.39" r="1.15"/><circle cx="486.47" cy="708.92" r="1.15"/><circle cx="482.86" cy="708.83" r="1.15"/><circle cx="483.56" cy="709.26" r="1.15"/><circle cx="481.07" cy="709.31" r="1.15"/><circle cx="488.49" cy="708.43" r="1.15"/><circle cx="480.44" cy="708.2" r="1.15"/><circle cx="489.17" cy="708.49" r="1.15"/><circle cx="485.85" cy="707.94" r="1.15"/><circle cx="487.83" cy="708.05" r="1.15"/><circle cx="481.7" cy="708.39" r="1.15"/><circle cx="485.17" cy="707.93" r="1.15"/><circle cx="478.76" cy="707.24" r="1.15"/><circle cx="476.3" cy="707.26" r="1.15"/><circle cx="484.11" cy="707.77" r="1.15"/><circle cx="476.97" cy="706.88" r="1.15"/><circle cx="480.98" cy="706.68" r="1.15"/><circle cx="491.16" cy="706.95" r="1.15"/><circle cx="483.19" cy="706.57" r="1.15"/><circle cx="482.25" cy="706.86" r="1.15"/><circle cx="479.39" cy="706.37" r="1.15"/><circle cx="486.57" cy="706.16" r="1.15"/><circle cx="487.22" cy="706.87" r="1.15"/><circle cx="477.6" cy="705.93" r="1.15"/><circle cx="490.5" cy="706.4" r="1.15"/><circle cx="484.66" cy="706.22" r="1.15"/><circle cx="488.25" cy="705.91" r="1.15"/><circle cx="483.8" cy="705.46" r="1.15"/><circle cx="481.6" cy="705.65" r="1.15"/><circle cx="480.06" cy="705.91" r="1.15"/><circle cx="485.93" cy="705.33" r="1.15"/><circle cx="489.89" cy="705.28" r="1.15"/><circle cx="478.24" cy="705.19" r="1.15"/><circle cx="480.59" cy="704.29" r="1.15"/><circle cx="485.26" cy="705.01" r="1.15"/><circle cx="489.21" cy="705.16" r="1.15"/><circle cx="482.6" cy="704.64" r="1.15"/><circle cx="478.9" cy="704.51" r="1.15"/><circle cx="484.35" cy="703.92" r="1.15"/><circle cx="487.02" cy="704.06" r="1.15"/><circle cx="483.25" cy="703.9" r="1.15"/><circle cx="487.69" cy="704.44" r="1.15"/><circle cx="485.04" cy="702.56" r="1.15"/><circle cx="481.89" cy="703.29" r="1.15"/><circle cx="481.22" cy="703.35" r="1.15"/><circle cx="479.51" cy="703.4" r="1.15"/><circle cx="488.71" cy="703.43" r="1.15"/><circle cx="485.71" cy="702.87" r="1.15"/><circle cx="486.37" cy="703.31" r="1.15"/><circle cx="488.14" cy="702" r="1.15"/><circle cx="480.02" cy="701.7" r="1.15"/><circle cx="483.8" cy="702.4" r="1.15"/><circle cx="480.68" cy="701.23" r="1.15"/><circle cx="487.48" cy="701.45" r="1.15"/><circle cx="482.47" cy="701.98" r="1.15"/><circle cx="486.83" cy="700.87" r="1.15"/><circle cx="483.12" cy="701.19" r="1.15"/><circle cx="484.54" cy="700.81" r="1.15"/><circle cx="481.33" cy="700.5" r="1.15"/><circle cx="483.68" cy="699.75" r="1.15"/><circle cx="481.99" cy="699.92" r="1.15"/><circle cx="486.16" cy="700.35" r="1.15"/><circle cx="482.64" cy="699.19" r="1.15"/><circle cx="484.94" cy="698.44" r="1.15"/><circle cx="485.5" cy="699.89" r="1.15"/><circle cx="483.21" cy="697.82" r="1.15"/><circle cx="483.8" cy="696.54" r="1.15"/><circle cx="484.26" cy="698.43" r="1.15"/><circle cx="483.8" cy="689.33" r="1.15"/><circle cx="506.5" cy="718.23" r="1.15"/><circle cx="506.31" cy="715.2" r="1.15"/><circle cx="508.82" cy="714.13" r="1.15"/><circle cx="512.78" cy="714.5" r="1.15"/><circle cx="501.33" cy="714.23" r="1.15"/><circle cx="511.77" cy="713.35" r="1.15"/><circle cx="504.12" cy="713.43" r="1.15"/><circle cx="510.66" cy="712.96" r="1.15"/><circle cx="507.85" cy="712.84" r="1.15"/><circle cx="502.31" cy="712.97" r="1.15"/><circle cx="506.5" cy="712.63" r="1.15"/><circle cx="503.28" cy="711.69" r="1.15"/><circle cx="509.72" cy="711.56" r="1.15"/><circle cx="504.32" cy="710.68" r="1.15"/><circle cx="508.68" cy="710.57" r="1.15"/><circle cx="505.2" cy="712.73" r="1.15"/><circle cx="507.56" cy="710.32" r="1.15"/><circle cx="505.42" cy="710.18" r="1.15"/><circle cx="500.74" cy="710.73" r="1.15"/><circle cx="501.69" cy="709.34" r="1.15"/><circle cx="506.5" cy="709.5" r="1.15"/><circle cx="510.39" cy="709.31" r="1.15"/><circle cx="511.48" cy="709.86" r="1.15"/><circle cx="500.14" cy="708.41" r="1.15"/><circle cx="508.24" cy="707.93" r="1.15"/><circle cx="514" cy="708.78" r="1.15"/><circle cx="503.85" cy="708.16" r="1.15"/><circle cx="512.89" cy="708.44" r="1.15"/><circle cx="499.02" cy="708.65" r="1.15"/><circle cx="502.73" cy="708.4" r="1.15"/><circle cx="509.36" cy="708.28" r="1.15"/><circle cx="506.04" cy="707.06" r="1.15"/><circle cx="507.16" cy="707.26" r="1.15"/><circle cx="504.95" cy="707.68" r="1.15"/><circle cx="510.9" cy="706.43" r="1.15"/><circle cx="501.01" cy="706.76" r="1.15"/><circle cx="512.01" cy="706.81" r="1.15"/><circle cx="508.74" cy="705.12" r="1.15"/><circle cx="502.07" cy="705.93" r="1.15"/><circle cx="505.38" cy="704.71" r="1.15"/><circle cx="504.27" cy="705.05" r="1.15"/><circle cx="509.81" cy="705.89" r="1.15"/><circle cx="503.14" cy="705.16" r="1.15"/><circle cx="507.62" cy="704.83" r="1.15"/><circle cx="506.5" cy="700.23" r="1.15"/><circle cx="506.5" cy="704.69" r="1.15"/><circle cx="504.49" cy="701.83" r="1.15"/><circle cx="505.38" cy="700.23" r="1.15"/><circle cx="507.62" cy="700.23" r="1.15"/><circle cx="528.47" cy="713.57" r="1.15"/><circle cx="527.97" cy="709.33" r="1.15"/><circle cx="525.68" cy="706.44" r="1.15"/><circle cx="528.9" cy="711.15" r="1.15"/><circle cx="531.27" cy="706.13" r="1.15"/><circle cx="526.76" cy="709.36" r="1.15"/><circle cx="530.08" cy="708.27" r="1.15"/><circle cx="528.9" cy="707.66" r="1.15"/><circle cx="527.86" cy="705.94" r="1.15"/><circle cx="530.1" cy="705.46" r="1.15"/><circle cx="526.71" cy="705.05" r="1.15"/><circle cx="528.93" cy="704.74" r="1.15"/><circle cx="532.42" cy="705.08" r="1.15"/><circle cx="534.61" cy="705.57" r="1.15"/><circle cx="522.97" cy="704.13" r="1.15"/><circle cx="533.68" cy="703.91" r="1.15"/><circle cx="525.75" cy="703.35" r="1.15"/><circle cx="527.57" cy="703.22" r="1.15"/><circle cx="524.56" cy="703.83" r="1.15"/><circle cx="531.55" cy="703.26" r="1.15"/><circle cx="530.36" cy="702.75" r="1.15"/><circle cx="526.5" cy="701.31" r="1.15"/><circle cx="528.68" cy="702.2" r="1.15"/><circle cx="534.32" cy="701.64" r="1.15"/><circle cx="533.11" cy="701.62" r="1.15"/><circle cx="523.39" cy="701.69" r="1.15"/><circle cx="521.99" cy="700.19" r="1.15"/><circle cx="525.56" cy="699.5" r="1.15"/><circle cx="529.65" cy="700.65" r="1.15"/><circle cx="535.14" cy="699.63" r="1.15"/><circle cx="524.41" cy="700.31" r="1.15"/><circle cx="530.92" cy="699.38" r="1.15"/><circle cx="527.61" cy="700.28" r="1.15"/><circle cx="523.05" cy="698.92" r="1.15"/><circle cx="528.69" cy="699.08" r="1.15"/><circle cx="526.69" cy="698.52" r="1.15"/><circle cx="532.25" cy="699.78" r="1.15"/><circle cx="529.91" cy="697.96" r="1.15"/><circle cx="534.02" cy="698.69" r="1.15"/><circle cx="527.74" cy="697.23" r="1.15"/><circle cx="532.95" cy="697.46" r="1.15"/><circle cx="528.9" cy="696.52" r="1.15"/><circle cx="525.27" cy="696.84" r="1.15"/><circle cx="524.14" cy="697.77" r="1.15"/><circle cx="531.74" cy="697.43" r="1.15"/><circle cx="526.4" cy="695.91" r="1.15"/><circle cx="530.77" cy="695.87" r="1.15"/><circle cx="533.3" cy="694.91" r="1.15"/><circle cx="521.4" cy="695.96" r="1.15"/><circle cx="535.83" cy="695.17" r="1.15"/><circle cx="522.51" cy="694.95" r="1.15"/><circle cx="532.1" cy="694.59" r="1.15"/><circle cx="524.45" cy="694.92" r="1.15"/><circle cx="534.62" cy="694.94" r="1.15"/><circle cx="529.74" cy="694.5" r="1.15"/><circle cx="531.16" cy="692.94" r="1.15"/><circle cx="527.46" cy="694.68" r="1.15"/><circle cx="525.57" cy="693.92" r="1.15"/><circle cx="523.43" cy="693.25" r="1.15"/><circle cx="528.59" cy="693.73" r="1.15"/><circle cx="524.51" cy="692.07" r="1.15"/><circle cx="533.31" cy="691.84" r="1.15"/><circle cx="526.64" cy="692.72" r="1.15"/><circle cx="534.49" cy="692.36" r="1.15"/><circle cx="527.69" cy="691.44" r="1.15"/><circle cx="530.08" cy="691.75" r="1.15"/><circle cx="525.45" cy="690.44" r="1.15"/><circle cx="532.32" cy="690.34" r="1.15"/><circle cx="528.9" cy="691.21" r="1.15"/><circle cx="526.64" cy="689.98" r="1.15"/><circle cx="531.11" cy="690.25" r="1.15"/><circle cx="530.11" cy="688.79" r="1.15"/><circle cx="527.69" cy="688.68" r="1.15"/><circle cx="524.65" cy="686.95" r="1.15"/><circle cx="529.68" cy="685.42" r="1.15"/><circle cx="528.9" cy="688.59" r="1.15"/><circle cx="525.86" cy="686.92" r="1.15"/><circle cx="526.89" cy="685.57" r="1.15"/><circle cx="530.89" cy="685.52" r="1.15"/><circle cx="532.07" cy="686.11" r="1.15"/><circle cx="533.21" cy="686.95" r="1.15"/><circle cx="528.1" cy="685.37" r="1.15"/><circle cx="528.9" cy="683.43" r="1.15"/><circle cx="528.9" cy="665.43" r="1.15"/><circle cx="528.9" cy="668.97" r="1.15"/></g>
<line x1="453.6" y1="696.4" x2="468.6" y2="696.4" stroke="#111" stroke-width="1.4"/>
<line x1="476.3" y1="706.58" x2="491.3" y2="706.58" stroke="#111" stroke-width="1.4"/>
<line x1="499" y1="708.8" x2="514" y2="708.8" stroke="#111" stroke-width="1.4"/>
<line x1="521.4" y1="697.29" x2="536.4" y2="697.29" stroke="#111" stroke-width="1.4"/>
<path d="M461.3 674.2V653.8H481.9V683.3" class="br"/>
<path d="M486.3 683.3V653.8H506.5V693.5" class="br"/>
<path d="M483.9 640.8V634.5H529.1V662.9" class="br"/>
<circle cx="464.4" cy="648.2" r="1.35" class="st"/><circle cx="469.2" cy="648.2" r="1.35" class="st"/><circle cx="474" cy="648.2" r="1.35" class="st"/><circle cx="478.8" cy="648.2" r="1.35" class="st"/>
<text x="496.4" y="649.2" class="ns">ns</text>
<circle cx="499.3" cy="628.9" r="1.35" class="st"/><circle cx="504.1" cy="628.9" r="1.35" class="st"/><circle cx="508.9" cy="628.9" r="1.35" class="st"/><circle cx="513.7" cy="628.9" r="1.35" class="st"/>
<text x="461.4" y="734.7" class="xl">CMS1</text>
<text x="484.1" y="734.7" class="xl">CMS2</text>
<text x="506.8" y="734.7" class="xl">CMS3</text>
<text x="529.2" y="734.7" class="xl">CMS4</text>
<text transform="translate(70.6,677.2) rotate(-90)" class="yl" textLength="17.5" lengthAdjust="spacingAndGlyphs"><tspan font-style="italic">TGFB</tspan></text>
<text transform="translate(194.1,677.2) rotate(-90)" class="yl" textLength="17.0" lengthAdjust="spacingAndGlyphs">TBSS</text>
<text transform="translate(317.4,677.2) rotate(-90)" class="yl" textLength="51.3" lengthAdjust="spacingAndGlyphs">M2 macrophage</text>
<text transform="translate(440.4,677.2) rotate(-90)" class="yl" textLength="52.0" lengthAdjust="spacingAndGlyphs"><tspan font-style="italic">HAVCR2</tspan> (TIM-3)</text>
</svg></body></html>
